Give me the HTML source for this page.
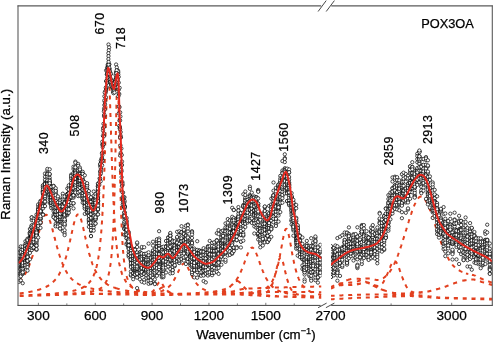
<!DOCTYPE html>
<html><head><meta charset="utf-8"><title>Raman spectrum POX3OA</title>
<style>html,body{margin:0;padding:0;background:#fff;width:495px;height:342px;overflow:hidden}</style>
</head><body>
<svg width="495" height="342" viewBox="0 0 495 342" style="display:block">
<defs>
<clipPath id="cl"><rect x="18" y="6" width="303.5" height="299"/></clipPath>
<clipPath id="cr"><rect x="331" y="6" width="161.3" height="299"/></clipPath>
</defs>
<rect width="495" height="342" fill="#fff"/>
<g clip-path="url(#cl)"><path d="M19.7 296.1L20.3 296.1L20.9 296.1L21.5 296.1L22.1 296.1L22.7 296.1L23.3 296.0L23.7 296.0M28.5 295.9L29.1 295.9L29.7 295.8L30.3 295.8L30.9 295.8L31.5 295.8L32.1 295.8L32.5 295.7M37.3 295.6L37.9 295.6L38.5 295.6L39.1 295.5L39.7 295.5L40.3 295.5L40.9 295.5L41.3 295.5M46.1 295.3L46.7 295.3L47.3 295.3L47.9 295.3L48.5 295.2L49.1 295.2L49.7 295.2L50.1 295.2M54.9 295.0L55.5 295.0L56.1 295.0L56.7 294.9L57.3 294.9L57.9 294.9L58.5 294.9L58.9 294.8M63.7 294.7L64.3 294.6L64.9 294.6L65.5 294.6L66.1 294.6L66.7 294.5L67.3 294.5L67.7 294.5M72.5 294.3L73.1 294.3L73.7 294.3L74.3 294.2L74.9 294.2L75.5 294.2L76.1 294.2L76.5 294.1M81.3 293.9L81.9 293.9L82.5 293.9L83.1 293.9L83.7 293.9L84.3 293.8L84.9 293.8L85.3 293.8M90.1 293.9L90.7 293.9L91.3 293.9L91.9 293.9L92.5 293.9L93.1 293.9L93.7 293.9L94.1 294.0M98.9 294.0L99.5 294.0L100.1 294.1L100.7 294.1L101.3 294.1L101.9 294.1L102.5 294.1L102.9 294.1M107.8 294.2L108.4 294.2L109.0 294.2L109.6 294.2L110.2 294.2L110.8 294.2L111.4 294.3L111.8 294.3M116.6 294.3L117.2 294.4L117.8 294.4L118.4 294.4L119.0 294.4L119.6 294.4L120.2 294.4L120.6 294.4M125.4 294.5L126.0 294.6L126.6 294.6L127.2 294.6L127.8 294.6L128.4 294.6L129.0 294.6L129.4 294.6M134.2 294.8L134.8 294.8L135.4 294.8L136.0 294.8L136.6 294.8L137.2 294.9L137.8 294.9L138.2 294.9M143.0 295.0L143.6 295.0L144.2 295.0L144.8 295.1L145.4 295.1L146.0 295.1L146.6 295.1L147.0 295.1M151.8 295.2L152.4 295.2L153.0 295.2L153.6 295.1L154.2 295.1L154.8 295.1L155.4 295.1L155.8 295.1M160.6 295.0L161.2 295.0L161.8 295.0L162.4 295.0L163.0 295.0L163.6 295.0L164.2 295.0L164.4 295.0M169.2 294.9L169.8 294.9L170.4 294.9L171.0 294.9L171.6 294.9L172.2 294.8L172.8 294.8L173.2 294.8M178.0 294.8L178.6 294.7L179.2 294.7L179.8 294.7L180.4 294.7L181.0 294.7L181.6 294.7L182.0 294.7M186.8 294.6L187.4 294.6L188.0 294.6L188.6 294.6L189.2 294.6L189.8 294.6L190.4 294.6L190.8 294.5M195.6 294.5L196.2 294.5L196.8 294.5L197.4 294.4L198.0 294.4L198.6 294.4L199.2 294.4L199.6 294.4M204.4 294.4L205.0 294.4L205.6 294.4L206.2 294.4L206.8 294.4L207.4 294.4L208.0 294.4L208.4 294.4M213.2 294.5L213.9 294.5L214.5 294.5L215.1 294.5L215.7 294.5L216.3 294.5L216.9 294.5L217.3 294.5M222.1 294.5L222.7 294.5L223.3 294.5L223.9 294.5L224.5 294.5L225.1 294.5L225.7 294.5L226.1 294.5M230.9 294.6L231.5 294.6L232.1 294.6L232.7 294.6L233.3 294.6L233.9 294.6L234.5 294.6L234.9 294.6M239.7 294.6L240.3 294.6L240.9 294.6L241.5 294.7L242.1 294.7L242.7 294.7L243.3 294.8L243.7 294.8M248.5 295.1L249.1 295.1L249.7 295.1L250.3 295.2L250.9 295.2L251.5 295.2L252.1 295.3L252.5 295.3M257.3 295.5L257.9 295.6L258.5 295.6L259.1 295.6L259.7 295.7L260.3 295.7L260.9 295.7L261.3 295.8M266.1 296.0L266.7 296.1L267.3 296.1L267.9 296.1L268.5 296.2L269.1 296.2L269.7 296.2L270.1 296.2M274.9 296.5L275.5 296.5L276.1 296.5L276.7 296.5L277.3 296.5L277.9 296.5L278.5 296.6L278.9 296.6M283.7 296.7L284.3 296.7L284.9 296.7L285.5 296.8L286.1 296.8L286.7 296.8L287.3 296.8L287.7 296.8M292.5 297.0L293.1 297.0L293.7 297.0L294.3 297.0L294.9 297.0L295.5 297.0L296.1 297.1L296.5 297.1M301.3 297.2L301.9 297.2L302.5 297.2L303.1 297.3L303.7 297.3L304.3 297.3L304.9 297.3L305.3 297.3M310.1 297.5L310.7 297.5L311.3 297.5L311.9 297.5L312.5 297.5L313.1 297.5L313.7 297.6L314.1 297.6M318.9 297.7L319.5 297.7L320.1 297.7L320.7 297.8L321.3 297.8L321.5 297.8M19.3 281.8L19.7 281.4L20.1 280.9L20.5 280.5L20.9 280.0L21.3 279.6L21.7 279.1L22.0 278.8M24.7 274.8L25.0 274.3L25.3 273.8L25.6 273.3L25.8 272.7L26.1 272.2L26.4 271.7L26.6 271.3M28.6 267.0L28.8 266.4L29.1 265.8L29.3 265.3L29.5 264.7L29.7 264.2L29.9 263.6L30.1 263.2M31.7 258.7L31.9 258.1L32.0 257.6L32.2 257.0L32.4 256.4L32.6 255.8L32.8 255.3L32.9 254.9M34.2 250.3L34.4 249.7L34.6 249.1L34.7 248.5L34.9 248.0L35.0 247.4L35.2 246.8L35.3 246.4M36.5 241.8L36.7 241.2L36.8 240.6L37.0 240.0L37.1 239.4L37.3 238.9L37.4 238.3L37.5 237.9M38.7 233.2L38.8 232.6L39.0 232.1L39.1 231.5L39.3 230.9L39.4 230.3L39.6 229.7L39.7 229.4M41.0 224.7L41.1 224.1L41.3 223.6L41.5 223.0L41.6 222.4L41.8 221.8L42.0 221.3L42.1 220.9M44.0 216.5L44.4 216.0L44.7 215.5L45.2 215.1L45.7 214.8L46.3 214.8L46.9 215.1L47.3 215.5L47.4 215.6M49.6 219.9L49.8 220.5L50.0 221.0L50.2 221.6L50.4 222.2L50.5 222.8L50.7 223.3L50.8 223.7M52.2 228.3L52.3 228.9L52.5 229.5L52.6 230.1L52.8 230.7L52.9 231.2L53.1 231.8L53.2 232.2M54.4 236.9L54.5 237.4L54.7 238.0L54.8 238.6L55.0 239.2L55.1 239.8L55.3 240.3L55.4 240.7M56.6 245.4L56.8 246.0L56.9 246.5L57.1 247.1L57.3 247.7L57.4 248.3L57.6 248.8L57.7 249.2M59.1 253.8L59.3 254.4L59.4 255.0L59.6 255.6L59.8 256.1L60.0 256.7L60.2 257.3L60.3 257.6M61.9 262.2L62.2 262.7L62.4 263.3L62.6 263.8L62.8 264.4L63.1 265.0L63.3 265.5L63.5 265.9M65.5 270.2L65.8 270.7L66.1 271.3L66.4 271.8L66.7 272.3L67.0 272.8L67.3 273.3L67.6 273.7M70.4 277.5L70.8 278.0L71.2 278.4L71.6 278.9L72.0 279.3L72.5 279.7L72.9 280.1L73.2 280.4M77.1 283.2L77.6 283.5L78.1 283.8L78.6 284.1L79.2 284.4L79.7 284.6L80.2 284.9L80.6 285.1M84.2 286.4L84.8 286.6L85.3 286.8L85.9 286.9L86.5 287.1L86.7 287.2M90.5 288.3L91.1 288.4L91.7 288.6L92.3 288.7L92.8 288.8L93.4 289.0L94.0 289.1L94.2 289.1M98.9 290.0L99.5 290.1L100.1 290.2L100.7 290.3L101.3 290.3L101.9 290.4L102.5 290.5L102.9 290.6M107.7 291.1L108.3 291.2L108.9 291.3L109.5 291.3L110.1 291.4L110.7 291.5L111.3 291.5L111.7 291.6M116.4 292.0L117.0 292.0L117.6 292.1L118.2 292.1L118.8 292.2L119.4 292.2L120.0 292.3L120.4 292.3M125.2 292.7L125.8 292.7L126.4 292.7L127.0 292.8L127.6 292.8L128.2 292.9L128.8 292.9L129.2 292.9M134.0 293.2L134.6 293.3L135.2 293.3L135.8 293.4L136.4 293.4L137.0 293.4L137.6 293.5L138.0 293.5M142.8 293.7L143.4 293.8L144.0 293.8L144.6 293.8L145.2 293.9L145.8 293.9L146.4 293.9L146.8 293.9M151.6 294.1L152.2 294.1L152.8 294.1L153.4 294.1L154.0 294.1L154.6 294.1L155.2 294.1L155.6 294.1M160.4 294.1L161.0 294.1L161.6 294.1L162.2 294.1L162.8 294.1L163.4 294.1L164.0 294.1L164.4 294.1M169.2 294.1L169.8 294.1L170.4 294.1L171.0 294.1L171.6 294.1L172.2 294.1L172.8 294.1L173.2 294.1M178.0 294.1L178.6 294.1L179.2 294.1L179.8 294.1L180.4 294.0L181.0 294.0L181.6 294.0L182.0 294.0M186.8 294.0L187.4 294.0L188.0 294.0L188.6 294.0L189.2 294.0L189.8 294.0L190.4 294.0L190.8 294.0M195.7 293.9L196.3 293.9L196.9 293.9L197.5 293.9L198.1 293.9L198.7 293.9L199.3 293.9L199.7 293.9M204.5 293.9L205.1 294.0L205.7 294.0L206.3 294.0L206.9 294.0L207.5 294.0L208.1 294.0L208.5 294.0M213.3 294.0L213.9 294.0L214.5 294.0L215.1 294.1L215.7 294.1L216.3 294.1L216.9 294.1L217.3 294.1M222.1 294.1L222.7 294.1L223.3 294.1L223.9 294.1L224.5 294.1L225.1 294.1L225.7 294.2L226.1 294.2M230.9 294.2L231.5 294.2L232.1 294.2L232.7 294.2L233.3 294.2L233.9 294.2L234.5 294.2L234.9 294.2M239.7 294.3L240.3 294.3L240.9 294.3L241.5 294.4L242.1 294.4L242.7 294.4L243.3 294.5L243.7 294.5M248.5 294.8L249.1 294.8L249.7 294.8L250.3 294.9L250.9 294.9L251.5 294.9L252.1 295.0L252.5 295.0M257.3 295.3L257.9 295.3L258.5 295.3L259.1 295.4L259.7 295.4L260.3 295.4L260.9 295.5L261.3 295.5M266.1 295.8L266.7 295.8L267.3 295.8L267.9 295.9L268.5 295.9L269.1 295.9L269.7 296.0L270.1 296.0M274.9 296.2L275.5 296.2L276.1 296.3L276.7 296.3L277.3 296.3L277.9 296.3L278.5 296.3L278.9 296.3M283.7 296.5L284.3 296.5L284.9 296.5L285.5 296.5L286.1 296.6L286.7 296.6L287.3 296.6L287.7 296.6M292.5 296.8L293.1 296.8L293.7 296.8L294.3 296.8L294.9 296.8L295.5 296.8L296.1 296.9L296.5 296.9M301.3 297.0L301.9 297.0L302.5 297.1L303.1 297.1L303.7 297.1L304.3 297.1L304.9 297.1L305.3 297.1M310.1 297.3L310.7 297.3L311.3 297.3L311.9 297.3L312.5 297.4L313.1 297.4L313.7 297.4L314.1 297.4M318.9 297.5L319.5 297.6L320.1 297.6L320.7 297.6L321.3 297.6L321.5 297.6M19.7 293.4L20.3 293.3L20.9 293.3L21.5 293.2L22.1 293.1L22.7 293.0L23.3 292.9L23.7 292.9M28.4 292.1L29.0 292.0L29.6 291.9L30.2 291.8L30.8 291.7L31.4 291.6L31.9 291.5L32.5 291.3M37.2 290.2L37.8 290.0L38.3 289.9L38.9 289.7L39.5 289.5L40.1 289.3L40.6 289.1L41.2 288.9M45.6 287.1L46.2 286.8L46.7 286.5L47.2 286.3L47.8 286.0L48.3 285.7L48.8 285.3L49.1 285.1M52.9 282.2L53.3 281.8L53.8 281.3L54.2 280.9L54.6 280.5L55.0 280.0L55.4 279.6L55.7 279.3M58.5 275.4L58.8 274.9L59.1 274.3L59.4 273.8L59.7 273.3L60.0 272.8L60.2 272.2L60.4 271.9M62.4 267.5L62.6 267.0L62.9 266.4L63.1 265.9L63.3 265.3L63.5 264.7L63.7 264.2L63.8 264.0M65.3 259.4L65.5 258.8L65.7 258.3L65.8 257.7L66.0 257.1L66.2 256.5L66.3 256.0L66.4 255.6M67.7 250.9L67.8 250.4L68.0 249.8L68.1 249.2L68.3 248.6L68.4 248.0L68.5 247.4L68.6 247.1M69.7 242.4L69.8 241.8L70.0 241.2L70.1 240.6L70.2 240.0L70.4 239.4L70.5 238.9L70.6 238.5M71.6 233.8L71.7 233.2L71.9 232.6L72.0 232.0L72.1 231.4L72.2 230.8L72.4 230.3L72.5 229.9M73.5 225.2L73.7 224.6L73.8 224.0L73.9 223.4L74.1 222.9L74.2 222.3L74.4 221.7L74.5 221.3M76.0 216.7L76.3 216.2L76.5 215.7L76.8 215.2L77.2 214.7L77.7 214.4L78.3 214.4L78.5 214.4M80.7 218.6L80.9 219.2L81.1 219.7L81.3 220.3L81.5 220.9L81.6 221.5L81.8 222.0L81.9 222.4M83.0 227.1L83.2 227.7L83.3 228.3L83.4 228.9L83.6 229.4L83.7 230.0L83.8 230.6L83.9 231.0M84.9 235.7L85.1 236.3L85.2 236.9L85.3 237.4L85.5 238.0L85.6 238.6L85.7 239.2L85.8 239.6M86.9 244.3L87.0 244.9L87.1 245.5L87.3 246.0L87.4 246.6L87.6 247.2L87.7 247.8L87.8 248.2M89.0 252.8L89.1 253.4L89.3 254.0L89.5 254.6L89.6 255.1L89.8 255.7L90.0 256.3L90.1 256.7M91.5 261.3L91.7 261.8L91.9 262.4L92.1 263.0L92.3 263.5L92.5 264.1L92.7 264.6L92.9 265.0M94.8 269.4L95.0 270.0L95.3 270.5L95.6 271.1L95.8 271.6L96.1 272.1L96.4 272.6L96.6 273.0M99.3 277.0L99.6 277.5L100.0 277.9L100.4 278.4L100.8 278.9L101.2 279.3L101.6 279.7L101.9 280.0M105.5 283.1L106.0 283.5L106.5 283.8L107.0 284.1L107.5 284.5L108.0 284.8L108.6 285.1L108.9 285.3M113.3 287.2L113.8 287.4L114.4 287.6L115.0 287.8L115.5 288.0L116.1 288.2L116.7 288.4L117.3 288.6L117.8 288.7L118.4 288.9L119.0 289.0L119.6 289.2M125.1 290.4L125.6 290.5L126.2 290.6L126.8 290.7L127.4 290.8L128.0 290.9L128.6 291.0L129.2 291.1M133.9 291.8L134.5 291.9L135.1 292.0L135.7 292.0L136.3 292.1L136.9 292.2L137.5 292.2L138.1 292.3M142.9 292.8L143.5 292.8L144.1 292.9L144.7 292.9L145.3 293.0L145.9 293.0L146.5 293.1L146.9 293.1M151.7 293.4L152.3 293.4L152.9 293.5L153.5 293.5L154.1 293.5L154.7 293.5L155.3 293.5L155.7 293.5M160.5 293.6L161.1 293.6L161.7 293.7L162.3 293.7L162.9 293.7L163.5 293.7L164.1 293.7L164.5 293.7M169.3 293.7L169.9 293.8L170.5 293.8L171.1 293.8L171.7 293.8L172.3 293.8L172.9 293.8L173.3 293.8M178.1 293.8L178.7 293.8L179.3 293.8L179.9 293.8L180.5 293.8L181.1 293.8L181.7 293.8L182.1 293.8M186.9 293.8L187.5 293.8L188.1 293.8L188.7 293.8L189.3 293.8L189.9 293.8L190.5 293.8L190.9 293.8M195.7 293.8L196.3 293.8L196.9 293.8L197.5 293.8L198.1 293.8L198.7 293.8L199.3 293.8L199.7 293.8M204.5 293.8L205.1 293.8L205.7 293.8L206.3 293.8L206.9 293.9L207.5 293.9L208.1 293.9L208.5 293.9M213.3 293.9L213.9 293.9L214.5 294.0L215.1 294.0L215.7 294.0L216.3 294.0L216.9 294.0L217.3 294.0M222.1 294.0L222.7 294.1L223.3 294.1L223.9 294.1L224.5 294.1L225.1 294.1L225.7 294.1L226.1 294.1M230.9 294.1L231.5 294.1L232.1 294.2L232.7 294.2L233.3 294.2L233.9 294.2L234.5 294.2L234.9 294.2M239.7 294.2L240.3 294.3L240.9 294.3L241.5 294.3L242.1 294.4L242.7 294.4L243.3 294.4L243.7 294.5M248.5 294.7L249.1 294.8L249.7 294.8L250.3 294.8L250.9 294.9L251.5 294.9L252.1 294.9L252.5 295.0M257.3 295.2L257.9 295.3L258.5 295.3L259.1 295.3L259.7 295.4L260.3 295.4L260.9 295.5L261.3 295.5M266.1 295.8L266.7 295.8L267.3 295.8L267.9 295.9L268.5 295.9L269.1 295.9L269.7 296.0L270.1 296.0M274.9 296.2L275.5 296.2L276.1 296.2L276.7 296.3L277.3 296.3L277.9 296.3L278.5 296.3L278.9 296.3M283.7 296.5L284.3 296.5L284.9 296.5L285.5 296.5L286.1 296.6L286.7 296.6L287.3 296.6L287.7 296.6M292.5 296.7L293.1 296.8L293.7 296.8L294.3 296.8L294.9 296.8L295.5 296.8L296.1 296.9L296.5 296.9M301.3 297.0L301.9 297.0L302.5 297.1L303.1 297.1L303.7 297.1L304.3 297.1L304.9 297.1L305.3 297.1M310.1 297.3L310.7 297.3L311.3 297.3L311.9 297.3L312.5 297.4L313.1 297.4L313.7 297.4L314.1 297.4M318.9 297.5L319.5 297.6L320.1 297.6L320.7 297.6L321.3 297.6L321.5 297.6M19.7 295.6L20.3 295.6L20.9 295.5L21.5 295.5L22.1 295.5L22.7 295.5L23.3 295.4L23.7 295.4M28.5 295.2L29.1 295.2L29.7 295.1L30.3 295.1L30.9 295.1L31.5 295.1L32.1 295.0L32.5 295.0M37.3 294.7L37.9 294.7L38.5 294.7L39.1 294.6L39.7 294.6L40.3 294.6L40.9 294.5L41.3 294.5M46.1 294.2L46.7 294.2L47.3 294.1L47.9 294.1L48.5 294.1L49.1 294.0L49.7 294.0L50.1 293.9M54.8 293.5L55.4 293.5L56.0 293.4L56.6 293.3L57.2 293.3L57.8 293.2L58.4 293.1L58.8 293.1M63.6 292.5L64.2 292.4L64.8 292.4L65.4 292.3L66.0 292.2L66.6 292.1L67.2 292.0L67.8 291.9M72.5 291.0L73.1 290.9L73.6 290.7L74.2 290.6L74.8 290.4L75.4 290.3L76.0 290.1L76.3 290.0M81.0 288.3L81.6 288.1L82.1 287.8L82.7 287.5L83.2 287.2L83.7 287.0L84.2 286.6L84.6 286.4M88.4 283.5L88.8 283.1L89.2 282.7L89.6 282.2L90.0 281.7L90.4 281.3L90.7 280.8L91.0 280.5M93.3 276.3L93.6 275.7L93.8 275.2L94.0 274.6L94.3 274.1L94.5 273.5L94.7 273.0L94.8 272.6M96.2 268.0L96.4 267.4L96.5 266.8L96.7 266.2L96.8 265.7L96.9 265.1L97.1 264.5L97.1 264.1M98.1 259.4L98.2 258.8L98.3 258.2L98.4 257.6L98.5 257.0L98.6 256.4L98.6 255.8L98.7 255.4M99.3 250.9L99.4 250.3L99.5 249.7L99.6 249.1L99.6 248.5L99.7 247.9L99.8 247.3L99.8 246.9M100.3 242.1L100.4 241.5L100.4 240.9L100.5 240.3L100.6 239.7L100.6 239.1L100.7 238.5L100.7 238.1M101.1 233.4L101.2 232.8L101.2 232.2L101.3 231.6L101.3 231.0L101.4 230.4L101.4 229.8L101.4 229.4M101.8 224.6L101.8 224.0L101.9 223.4L101.9 222.8L101.9 222.2L102.0 221.6L102.0 221.0L102.0 220.6M102.3 215.8L102.4 215.2L102.4 214.6L102.4 214.0L102.5 213.4L102.5 212.8L102.5 212.2L102.6 211.8M102.8 207.0L102.9 206.4L102.9 205.8L102.9 205.2L102.9 204.6L103.0 204.0L103.0 203.4L103.0 203.0M103.3 198.2L103.3 197.6L103.3 197.0L103.3 196.4L103.4 195.8L103.4 195.2L103.4 194.6L103.4 194.2M103.6 189.4L103.7 188.8L103.7 188.2L103.7 187.6L103.7 187.0L103.8 186.4L103.8 185.8L103.8 185.4M104.0 180.6L104.0 180.0L104.0 179.4L104.1 178.8L104.1 178.2L104.1 177.6L104.1 177.0L104.1 176.6M104.3 171.8L104.3 171.2L104.4 170.6L104.4 170.0L104.4 169.4L104.4 168.8L104.5 168.2L104.5 167.8M104.6 163.0L104.7 162.4L104.7 161.8L104.7 161.2L104.7 160.6L104.7 160.0L104.8 159.4L104.8 159.0M104.9 154.2L104.9 153.6L105.0 153.0L105.0 152.4L105.0 151.8L105.0 151.2L105.0 150.6L105.1 150.2M105.2 145.4L105.2 144.8L105.2 144.2L105.3 143.6L105.3 143.0L105.3 142.4L105.3 141.8L105.3 141.4M105.5 136.6L105.5 136.0L105.5 135.4L105.5 134.8L105.6 134.2L105.6 133.6L105.6 133.0L105.6 132.6M105.7 127.8L105.8 127.2L105.8 126.6L105.8 126.0L105.8 125.4L105.8 124.8L105.9 124.2L105.9 123.8M106.0 119.0L106.0 118.4L106.1 117.8L106.1 117.2L106.1 116.6L106.1 116.0L106.1 115.4L106.1 115.0M106.3 110.2L106.3 109.6L106.3 109.0L106.4 108.4L106.4 107.8L106.4 107.2L106.4 106.6L106.4 106.2M106.6 101.4L106.6 100.8L106.6 100.2L106.6 99.6L106.7 99.0L106.7 98.4L106.7 97.8L106.7 97.4M106.9 92.6L106.9 92.0L106.9 91.4L107.0 90.8L107.0 90.2L107.0 89.6L107.0 89.0L107.0 88.6M107.3 83.8L107.3 83.2L107.3 82.6L107.3 82.0L107.4 81.4L107.4 80.8L107.4 80.2L107.5 79.8M107.8 75.1L107.8 74.5L107.9 73.9L108.0 73.3L108.1 72.7L108.3 72.1L108.5 72.5L108.6 73.1M109.0 77.9L109.1 78.5L109.1 79.1L109.1 79.7L109.2 80.3L109.2 80.9L109.2 81.5L109.2 81.9M109.5 86.7L109.5 87.3L109.5 87.9L109.5 88.5L109.6 89.1L109.6 89.7L109.6 90.3L109.6 90.7M109.8 95.5L109.8 96.1L109.9 96.7L109.9 97.3L109.9 97.9L109.9 98.5L109.9 99.1L110.0 99.5M110.1 104.3L110.1 104.9L110.2 105.5L110.2 106.1L110.2 106.7L110.2 107.3L110.2 107.9L110.2 108.3M110.4 113.1L110.4 113.7L110.4 114.3L110.4 114.9L110.5 115.5L110.5 116.1L110.5 116.7L110.5 117.1M110.7 121.9L110.7 122.5L110.7 123.1L110.7 123.7L110.7 124.3L110.8 124.9L110.8 125.5L110.8 125.9M110.9 130.7L111.0 131.3L111.0 131.9L111.0 132.5L111.0 133.1L111.0 133.7L111.0 134.3L111.1 134.7M111.2 139.5L111.2 140.1L111.2 140.7L111.3 141.3L111.3 141.9L111.3 142.5L111.3 143.1L111.3 143.5M111.5 148.3L111.5 148.9L111.5 149.5L111.5 150.1L111.6 150.7L111.6 151.3L111.6 151.9L111.6 152.3M111.8 157.1L111.8 157.7L111.8 158.3L111.8 158.9L111.8 159.5L111.9 160.1L111.9 160.7L111.9 161.1M112.1 165.9L112.1 166.5L112.1 167.1L112.1 167.7L112.1 168.3L112.2 168.9L112.2 169.5L112.2 169.9M112.4 174.7L112.4 175.3L112.4 175.9L112.4 176.5L112.5 177.1L112.5 177.7L112.5 178.3L112.5 178.7M112.7 183.5L112.7 184.1L112.8 184.7L112.8 185.3L112.8 185.9L112.8 186.5L112.9 187.1L112.9 187.5M113.1 192.3L113.1 192.9L113.1 193.5L113.2 194.1L113.2 194.7L113.2 195.3L113.2 195.9L113.3 196.3M113.5 201.0L113.5 201.6L113.5 202.2L113.6 202.8L113.6 203.4L113.6 204.0L113.7 204.6L113.7 205.0M113.9 209.8L114.0 210.4L114.0 211.0L114.0 211.6L114.1 212.2L114.1 212.8L114.1 213.4L114.1 213.8M114.4 218.6L114.5 219.2L114.5 219.8L114.5 220.4L114.6 221.0L114.6 221.6L114.7 222.2L114.7 222.6M115.0 227.4L115.0 228.0L115.1 228.6L115.1 229.2L115.2 229.8L115.2 230.4L115.3 231.0L115.3 231.4M115.7 236.2L115.7 236.8L115.8 237.4L115.9 238.0L115.9 238.6L116.0 239.2L116.0 239.8L116.1 240.2M116.5 245.0L116.6 245.6L116.7 246.1L116.7 246.7L116.8 247.3L116.9 247.9L116.9 248.5L117.0 248.9M117.6 253.7L117.7 254.3L117.8 254.9L117.9 255.5L117.9 256.1L118.0 256.7L118.1 257.3L118.2 257.6M119.0 262.4L119.1 263.0L119.3 263.6L119.4 264.1L119.5 264.7L119.6 265.3L119.8 265.9L119.9 266.3M121.1 270.9L121.3 271.5L121.5 272.1L121.6 272.6L121.8 273.2L122.0 273.8L122.2 274.3L122.4 274.7M124.4 279.1L124.7 279.6L125.0 280.1L125.3 280.6L125.6 281.1L126.0 281.6L126.3 282.1L126.5 282.3M129.8 285.7L130.3 286.1L130.7 286.5L131.2 286.8L131.7 287.1L132.2 287.5L132.7 287.8L133.1 288.0M137.5 289.9L138.0 290.1L138.6 290.3L139.2 290.5L139.8 290.7L139.9 290.7M143.6 291.6L144.2 291.8L144.8 291.9L145.4 292.0L146.0 292.1L146.6 292.2L147.2 292.3M151.7 292.9L152.3 293.0L152.9 293.0L153.5 293.1L154.1 293.1L154.7 293.1L155.3 293.2L155.7 293.2M160.5 293.5L161.1 293.5L161.7 293.5L162.3 293.5L162.9 293.6L163.5 293.6L164.1 293.6L164.5 293.6M169.3 293.7L169.9 293.8L170.5 293.8L171.1 293.8L171.7 293.8L172.3 293.8L172.9 293.8L173.3 293.8M178.1 293.9L178.7 293.9L179.3 293.9L179.9 293.9L180.5 293.9L181.1 293.9L181.7 293.9L182.1 293.9M186.9 293.9L187.5 293.9L188.1 293.9L188.7 293.9L189.3 293.9L189.9 293.9L190.5 293.9L190.9 293.9M195.7 293.9L196.3 293.9L196.9 293.9L197.5 293.9L198.1 293.9L198.7 293.9L199.3 293.9L199.7 293.9M204.5 294.0L205.1 294.0L205.7 294.0L206.3 294.0L206.9 294.0L207.5 294.0L208.1 294.0L208.5 294.0M213.3 294.1L213.9 294.1L214.5 294.1L215.1 294.1L215.7 294.1L216.3 294.1L216.9 294.1L217.3 294.1M222.1 294.2L222.7 294.2L223.3 294.2L223.9 294.2L224.5 294.2L225.1 294.2L225.7 294.2L226.1 294.2M230.9 294.3L231.5 294.3L232.1 294.3L232.7 294.3L233.3 294.3L233.9 294.3L234.5 294.3L234.9 294.3M239.7 294.3L240.3 294.4L240.9 294.4L241.5 294.4L242.1 294.5L242.7 294.5L243.3 294.5L243.7 294.6M248.5 294.8L249.1 294.9L249.7 294.9L250.3 295.0L250.9 295.0L251.5 295.0L252.1 295.1L252.5 295.1M257.3 295.4L257.9 295.4L258.5 295.4L259.1 295.5L259.7 295.5L260.3 295.5L260.9 295.6L261.3 295.6M266.1 295.9L266.7 295.9L267.3 295.9L267.9 296.0L268.5 296.0L269.1 296.0L269.7 296.1L270.1 296.1M274.9 296.3L275.5 296.3L276.1 296.3L276.7 296.4L277.3 296.4L277.9 296.4L278.5 296.4L278.9 296.4M283.7 296.6L284.3 296.6L284.9 296.6L285.5 296.6L286.1 296.6L286.7 296.7L287.3 296.7L287.7 296.7M292.5 296.8L293.1 296.8L293.7 296.9L294.3 296.9L294.9 296.9L295.5 296.9L296.1 296.9L296.5 297.0M301.3 297.1L301.9 297.1L302.5 297.1L303.1 297.1L303.7 297.2L304.3 297.2L304.9 297.2L305.3 297.2M310.1 297.4L310.7 297.4L311.3 297.4L311.9 297.4L312.5 297.4L313.1 297.4L313.7 297.5L314.1 297.5M318.9 297.6L319.5 297.6L320.1 297.6L320.7 297.7L321.3 297.7L321.5 297.7M19.7 296.0L20.3 295.9L20.9 295.9L21.5 295.9L22.1 295.9L22.7 295.9L23.3 295.8L23.7 295.8M28.5 295.7L29.1 295.6L29.7 295.6L30.3 295.6L30.9 295.6L31.5 295.5L32.1 295.5L32.5 295.5M37.3 295.3L37.9 295.3L38.5 295.3L39.1 295.3L39.7 295.2L40.3 295.2L40.9 295.2L41.3 295.2M46.1 295.0L46.7 295.0L47.3 294.9L47.9 294.9L48.5 294.9L49.1 294.9L49.7 294.8L50.1 294.8M54.9 294.6L55.5 294.5L56.1 294.5L56.7 294.5L57.3 294.4L57.9 294.4L58.5 294.4L58.9 294.4M63.7 294.1L64.3 294.0L64.9 294.0L65.5 294.0L66.1 293.9L66.7 293.9L67.3 293.8L67.7 293.8M72.5 293.5L73.1 293.4L73.7 293.4L74.3 293.3L74.9 293.3L75.5 293.2L76.1 293.2L76.5 293.1M81.2 292.7L81.8 292.6L82.4 292.5L83.0 292.5L83.6 292.4L84.2 292.3L84.8 292.2L85.2 292.2M90.0 291.7L90.6 291.6L91.2 291.5L91.8 291.4L92.3 291.3L92.9 291.2L93.5 291.0L94.1 290.9M98.6 289.4L99.2 289.1L99.7 288.8L100.2 288.5L100.7 288.2L101.2 287.9L101.7 287.5L102.0 287.2M105.1 283.6L105.4 283.1L105.7 282.6L106.0 282.0L106.3 281.5L106.5 280.9L106.8 280.4L106.9 280.0M108.4 275.5L108.6 274.9L108.7 274.3L108.8 273.7L109.0 273.1L109.1 272.5L109.2 272.0L109.3 271.6M110.1 266.8L110.2 266.2L110.3 265.6L110.4 265.1L110.5 264.5L110.6 263.9L110.6 263.3L110.7 262.9M111.2 258.1L111.3 257.5L111.4 256.9L111.4 256.3L111.5 255.7L111.5 255.1L111.6 254.5L111.6 254.1M112.0 249.3L112.1 248.7L112.1 248.1L112.2 247.5L112.2 246.9L112.2 246.3L112.3 245.7L112.3 245.3M112.6 240.5L112.7 239.9L112.7 239.3L112.7 238.7L112.8 238.1L112.8 237.5L112.8 237.0L112.9 236.6M113.1 231.8L113.1 231.2L113.2 230.6L113.2 230.0L113.2 229.4L113.3 228.8L113.3 228.2L113.3 227.8M113.5 223.0L113.5 222.4L113.6 221.8L113.6 221.2L113.6 220.6L113.6 220.0L113.7 219.4L113.7 219.0M113.8 214.2L113.9 213.6L113.9 213.0L113.9 212.4L113.9 211.8L114.0 211.2L114.0 210.6L114.0 210.2M114.1 205.4L114.2 204.8L114.2 204.2L114.2 203.6L114.2 203.0L114.2 202.4L114.3 201.8L114.3 201.4M114.4 196.6L114.4 196.0L114.4 195.4L114.5 194.8L114.5 194.2L114.5 193.6L114.5 193.0L114.5 192.6M114.7 187.8L114.7 187.2L114.7 186.6L114.7 186.0L114.7 185.4L114.7 184.8L114.7 184.2L114.8 183.8M114.9 179.0L114.9 178.4L114.9 177.8L114.9 177.2L114.9 176.6L115.0 176.0L115.0 175.4L115.0 175.0M115.1 170.2L115.1 169.6L115.1 169.0L115.1 168.4L115.1 167.8L115.2 167.2L115.2 166.6L115.2 166.2M115.3 161.4L115.3 160.8L115.3 160.2L115.3 159.6L115.3 159.0L115.3 158.4L115.4 157.8L115.4 157.4M115.5 152.6L115.5 152.0L115.5 151.4L115.5 150.8L115.5 150.2L115.5 149.6L115.5 149.0L115.6 148.6M115.6 143.7L115.7 143.1L115.7 142.5L115.7 141.9L115.7 141.3L115.7 140.7L115.7 140.1L115.7 139.7M115.8 134.9L115.8 134.3L115.8 133.7L115.9 133.1L115.9 132.5L115.9 131.9L115.9 131.3L115.9 130.9M116.0 126.1L116.0 125.5L116.0 124.9L116.0 124.3L116.1 123.7L116.1 123.1L116.1 122.5L116.1 122.1M116.2 117.3L116.2 116.7L116.2 116.1L116.2 115.5L116.2 114.9L116.2 114.3L116.3 113.7L116.3 113.3M116.4 108.7L116.4 108.1L116.4 107.5L116.4 106.9L116.4 106.3L116.4 105.7L116.4 105.1L116.5 104.7M116.6 99.9L116.6 99.3L116.6 98.7L116.6 98.1L116.6 97.5L116.6 96.9L116.7 96.3L116.7 95.9M116.8 91.1L116.8 90.5L116.8 89.9L116.8 89.3L116.9 88.7L116.9 88.1L116.9 87.5L116.9 87.1M117.1 82.3L117.1 81.7L117.2 81.1L117.2 80.5L117.2 79.9L117.3 79.3L117.4 78.7L117.4 78.4M117.9 82.7L117.9 83.3L118.0 83.9L118.0 84.5L118.0 85.1L118.0 85.7L118.1 86.3L118.1 86.7M118.2 91.5L118.2 92.1L118.3 92.7L118.3 93.3L118.3 93.9L118.3 94.5L118.3 95.1L118.3 95.5M118.4 100.3L118.5 100.9L118.5 101.5L118.5 102.1L118.5 102.7L118.5 103.3L118.5 103.9L118.5 104.3M118.6 109.1L118.7 109.7L118.7 110.3L118.7 110.9L118.7 111.5L118.7 112.1L118.7 112.7L118.7 113.1M118.8 117.9L118.8 118.5L118.9 119.1L118.9 119.7L118.9 120.3L118.9 120.9L118.9 121.5L118.9 121.9M119.0 126.7L119.0 127.3L119.0 127.9L119.0 128.5L119.1 129.1L119.1 129.7L119.1 130.3L119.1 130.7M119.2 135.5L119.2 136.1L119.2 136.7L119.2 137.3L119.2 137.9L119.2 138.5L119.3 139.1L119.3 139.5M119.4 144.3L119.4 144.9L119.4 145.5L119.4 146.1L119.4 146.7L119.4 147.3L119.4 147.9L119.4 148.3M119.5 153.1L119.6 153.7L119.6 154.3L119.6 154.9L119.6 155.5L119.6 156.1L119.6 156.7L119.6 157.1M119.7 161.9L119.7 162.5L119.8 163.1L119.8 163.7L119.8 164.3L119.8 164.9L119.8 165.5L119.8 165.9M119.9 170.7L119.9 171.3L120.0 171.9L120.0 172.5L120.0 173.1L120.0 173.7L120.0 174.3L120.0 174.7M120.1 179.5L120.1 180.1L120.2 180.7L120.2 181.3L120.2 181.9L120.2 182.5L120.2 183.1L120.2 183.5M120.4 188.3L120.4 188.9L120.4 189.5L120.4 190.1L120.4 190.7L120.4 191.3L120.5 191.9L120.5 192.3M120.6 197.1L120.6 197.7L120.6 198.3L120.7 198.9L120.7 199.5L120.7 200.1L120.7 200.7L120.7 201.1M120.9 205.9L120.9 206.5L120.9 207.1L120.9 207.7L120.9 208.3L121.0 208.9L121.0 209.5L121.0 209.9M121.2 214.7L121.2 215.3L121.2 215.9L121.2 216.5L121.3 217.1L121.3 217.7L121.3 218.3L121.3 218.7M121.5 223.5L121.5 224.1L121.6 224.7L121.6 225.3L121.6 225.9L121.6 226.5L121.7 227.1L121.7 227.5M121.9 232.3L121.9 232.9L122.0 233.5L122.0 234.1L122.0 234.7L122.1 235.3L122.1 235.9L122.1 236.3M122.4 241.1L122.4 241.7L122.5 242.3L122.5 242.9L122.5 243.5L122.6 244.1L122.6 244.7L122.6 245.1M123.0 249.9L123.0 250.5L123.1 251.1L123.1 251.7L123.2 252.2L123.2 252.8L123.3 253.4L123.3 253.8M123.8 258.6L123.8 259.2L123.9 259.8L124.0 260.4L124.0 261.0L124.1 261.6L124.2 262.2L124.2 262.6M124.9 267.4L125.0 268.0L125.1 268.5L125.2 269.1L125.3 269.7L125.4 270.3L125.5 270.9L125.6 271.3M126.6 276.0L126.8 276.6L127.0 277.1L127.1 277.7L127.3 278.3L127.5 278.9L127.7 279.4L127.8 279.8M129.9 284.1L130.2 284.6L130.5 285.1L130.9 285.6L131.3 286.1L131.6 286.6L132.1 287.0L132.3 287.3M136.2 290.1L136.7 290.4L137.3 290.6L137.8 290.9L138.4 291.1L139.0 291.3L139.5 291.5M143.4 292.5L144.0 292.6L144.6 292.8L145.2 292.9L145.7 293.0L146.3 293.1L146.9 293.2L147.1 293.2M151.7 293.7L152.3 293.8L152.9 293.8L153.5 293.8L154.1 293.9L154.7 293.9L155.3 293.9L155.7 294.0M160.5 294.1L161.1 294.1L161.7 294.1L162.3 294.2L162.9 294.2L163.5 294.2L164.1 294.2L164.5 294.2M169.3 294.3L169.9 294.3L170.5 294.3L171.1 294.3L171.7 294.3L172.3 294.3L172.9 294.3L173.3 294.3M178.1 294.3L178.7 294.3L179.3 294.3L179.9 294.3L180.5 294.3L181.1 294.3L181.7 294.3L182.1 294.3M186.9 294.3L187.5 294.3L188.1 294.3L188.7 294.2L189.3 294.2L189.9 294.2L190.5 294.2L190.9 294.2M195.7 294.2L196.3 294.2L196.9 294.2L197.5 294.2L198.1 294.2L198.7 294.2L199.3 294.2L199.7 294.2M204.5 294.2L205.1 294.2L205.7 294.2L206.3 294.2L206.9 294.2L207.5 294.2L208.1 294.2L208.5 294.2M213.3 294.3L213.9 294.3L214.5 294.3L215.1 294.3L215.7 294.3L216.3 294.3L216.9 294.3L217.3 294.3M222.1 294.4L222.7 294.4L223.3 294.4L223.9 294.4L224.5 294.4L225.1 294.4L225.7 294.4L226.1 294.4M230.9 294.4L231.5 294.4L232.1 294.4L232.7 294.4L233.3 294.4L233.9 294.4L234.5 294.4L234.9 294.5M239.7 294.5L240.3 294.5L240.9 294.5L241.5 294.6L242.1 294.6L242.7 294.6L243.3 294.7L243.7 294.7M248.5 295.0L249.1 295.0L249.7 295.0L250.3 295.1L250.9 295.1L251.5 295.1L252.1 295.2L252.5 295.2M257.3 295.5L257.9 295.5L258.5 295.5L259.1 295.6L259.7 295.6L260.3 295.6L260.9 295.7L261.3 295.7M266.1 295.9L266.7 296.0L267.3 296.0L267.9 296.0L268.5 296.1L269.1 296.1L269.7 296.1L270.1 296.2M274.9 296.4L275.5 296.4L276.1 296.4L276.7 296.4L277.3 296.5L277.9 296.5L278.5 296.5L278.9 296.5M283.7 296.6L284.3 296.7L284.9 296.7L285.5 296.7L286.1 296.7L286.7 296.7L287.3 296.7L287.7 296.8M292.5 296.9L293.1 296.9L293.7 296.9L294.3 297.0L294.9 297.0L295.5 297.0L296.1 297.0L296.5 297.0M301.3 297.2L301.9 297.2L302.5 297.2L303.1 297.2L303.7 297.2L304.3 297.2L304.9 297.3L305.3 297.3M310.1 297.4L310.7 297.4L311.3 297.4L311.9 297.5L312.5 297.5L313.1 297.5L313.7 297.5L314.1 297.5M318.9 297.7L319.5 297.7L320.1 297.7L320.7 297.7L321.3 297.7L321.5 297.7M19.7 296.1L20.3 296.1L20.9 296.1L21.5 296.1L22.1 296.1L22.7 296.0L23.3 296.0L23.7 296.0M28.5 295.9L29.1 295.8L29.7 295.8L30.3 295.8L30.9 295.8L31.5 295.8L32.1 295.7L32.5 295.7M37.3 295.6L37.9 295.6L38.5 295.5L39.1 295.5L39.7 295.5L40.3 295.5L40.9 295.5L41.3 295.5M46.1 295.3L46.7 295.3L47.3 295.3L47.9 295.2L48.5 295.2L49.1 295.2L49.7 295.2L50.1 295.2M54.9 295.0L55.5 295.0L56.1 294.9L56.7 294.9L57.3 294.9L57.9 294.9L58.5 294.8L58.9 294.8M63.7 294.6L64.3 294.6L64.9 294.6L65.5 294.6L66.1 294.5L66.7 294.5L67.3 294.5L67.7 294.5M72.5 294.3L73.1 294.2L73.7 294.2L74.3 294.2L74.9 294.2L75.5 294.1L76.1 294.1L76.5 294.1M81.3 293.9L81.9 293.9L82.5 293.9L83.1 293.8L83.7 293.8L84.3 293.8L84.9 293.8L85.3 293.8M90.1 293.8L90.7 293.9L91.3 293.9L91.9 293.9L92.5 293.9L93.1 293.9L93.7 293.9L94.1 293.9M99.0 294.0L99.6 294.0L100.2 294.0L100.8 294.0L101.4 294.0L102.0 294.0L102.6 294.0L103.0 294.0M107.8 294.1L108.4 294.1L109.0 294.1L109.6 294.1L110.2 294.1L110.8 294.1L111.4 294.2L111.8 294.2M116.6 294.2L117.2 294.2L117.8 294.2L118.4 294.2L119.0 294.2L119.6 294.3L120.2 294.3L120.6 294.3M125.4 294.4L126.0 294.4L126.6 294.4L127.2 294.4L127.8 294.4L128.4 294.4L129.0 294.4L129.4 294.4M134.2 294.4L134.8 294.4L135.4 294.4L136.0 294.4L136.6 294.4L137.2 294.4L137.8 294.4L138.2 294.4M143.0 294.3L143.6 294.3L144.2 294.2L144.8 294.2L145.4 294.1L146.0 294.0L146.6 294.0L147.0 293.9M151.5 292.3L152.0 292.0L152.4 291.6L152.9 291.2L153.3 290.8L153.7 290.3L154.1 289.9L154.3 289.5M156.9 285.5L157.2 285.0L157.5 284.5L157.8 283.9L158.2 283.4L158.5 283.0L158.9 282.5L159.3 282.3M162.3 284.1L162.6 284.6L162.9 285.1L163.2 285.6L163.5 286.1L163.8 286.6L164.2 287.2L164.4 287.5M167.4 291.2L167.9 291.6L168.4 291.9L168.9 292.2L169.4 292.5L169.9 292.8L170.5 293.0L171.1 293.2L171.5 293.3M177.6 294.1L178.2 294.1L178.8 294.1L179.4 294.2L180.0 294.2L180.6 294.2L181.2 294.2L181.8 294.2L182.0 294.2M186.8 294.3L187.4 294.3L188.0 294.3L188.6 294.3L189.2 294.3L189.8 294.3L190.4 294.3L190.8 294.3M195.6 294.3L196.2 294.3L196.8 294.3L197.4 294.3L198.0 294.3L198.6 294.3L199.2 294.3L199.6 294.3M204.4 294.3L205.0 294.3L205.6 294.3L206.2 294.3L206.8 294.3L207.4 294.3L208.0 294.3L208.4 294.3M213.2 294.4L213.8 294.4L214.4 294.4L215.0 294.4L215.6 294.4L216.2 294.4L216.8 294.4L217.2 294.4M222.1 294.5L222.7 294.5L223.3 294.5L223.9 294.5L224.5 294.5L225.1 294.5L225.7 294.5L226.1 294.5M230.9 294.5L231.5 294.5L232.1 294.5L232.7 294.5L233.3 294.5L233.9 294.5L234.5 294.5L234.9 294.5M239.7 294.6L240.3 294.6L240.9 294.6L241.5 294.6L242.1 294.7L242.7 294.7L243.3 294.7L243.7 294.8M248.5 295.0L249.1 295.1L249.7 295.1L250.3 295.1L250.9 295.2L251.5 295.2L252.1 295.2L252.5 295.3M257.3 295.5L257.9 295.6L258.5 295.6L259.1 295.6L259.7 295.6L260.3 295.7L260.9 295.7L261.3 295.7M266.1 296.0L266.7 296.0L267.3 296.1L267.9 296.1L268.5 296.1L269.1 296.2L269.7 296.2L270.1 296.2M274.9 296.4L275.5 296.5L276.1 296.5L276.7 296.5L277.3 296.5L277.9 296.5L278.5 296.5L278.9 296.6M283.7 296.7L284.3 296.7L284.9 296.7L285.5 296.7L286.1 296.8L286.7 296.8L287.3 296.8L287.7 296.8M292.5 296.9L293.1 297.0L293.7 297.0L294.3 297.0L294.9 297.0L295.5 297.0L296.1 297.0L296.5 297.1M301.3 297.2L301.9 297.2L302.5 297.2L303.1 297.2L303.7 297.3L304.3 297.3L304.9 297.3L305.3 297.3M310.1 297.4L310.7 297.5L311.3 297.5L311.9 297.5L312.5 297.5L313.1 297.5L313.7 297.6L314.1 297.6M318.9 297.7L319.5 297.7L320.1 297.7L320.7 297.8L321.3 297.8L321.5 297.8M19.7 296.1L20.3 296.1L20.9 296.1L21.5 296.1L22.1 296.1L22.7 296.0L23.3 296.0L23.7 296.0M28.5 295.9L29.1 295.8L29.7 295.8L30.3 295.8L30.9 295.8L31.5 295.8L32.1 295.7L32.5 295.7M37.3 295.6L37.9 295.6L38.5 295.5L39.1 295.5L39.7 295.5L40.3 295.5L40.9 295.5L41.3 295.5M46.1 295.3L46.7 295.3L47.3 295.3L47.9 295.3L48.5 295.2L49.1 295.2L49.7 295.2L50.1 295.2M54.9 295.0L55.5 295.0L56.1 294.9L56.7 294.9L57.3 294.9L57.9 294.9L58.5 294.8L58.9 294.8M63.7 294.6L64.3 294.6L64.9 294.6L65.5 294.6L66.1 294.5L66.7 294.5L67.3 294.5L67.7 294.5M72.5 294.3L73.1 294.3L73.7 294.2L74.3 294.2L74.9 294.2L75.5 294.2L76.1 294.1L76.5 294.1M81.3 293.9L81.9 293.9L82.5 293.9L83.1 293.8L83.7 293.8L84.3 293.8L84.9 293.8L85.3 293.8M90.1 293.9L90.7 293.9L91.3 293.9L91.9 293.9L92.5 293.9L93.1 293.9L93.7 293.9L94.1 293.9M99.0 294.0L99.6 294.0L100.2 294.0L100.8 294.0L101.4 294.0L102.0 294.0L102.6 294.1L103.0 294.1M107.8 294.1L108.4 294.1L109.0 294.2L109.6 294.2L110.2 294.2L110.8 294.2L111.4 294.2L111.8 294.2M116.6 294.3L117.2 294.3L117.8 294.3L118.4 294.3L119.0 294.3L119.6 294.3L120.2 294.3L120.6 294.3M125.4 294.4L126.0 294.4L126.6 294.5L127.2 294.5L127.8 294.5L128.4 294.5L129.0 294.5L129.4 294.5M134.2 294.6L134.8 294.6L135.4 294.6L136.0 294.6L136.6 294.6L137.2 294.6L137.8 294.6L138.2 294.6M142.8 294.6L143.4 294.6L144.0 294.6L144.6 294.6L145.2 294.6L145.8 294.6L146.4 294.5L146.8 294.5M151.8 293.9L152.3 293.8L152.9 293.6L153.5 293.4L154.0 293.1L154.6 292.9L155.1 292.6L155.5 292.4M159.2 289.4L159.7 289.0L160.1 288.6L160.6 288.3L161.1 287.9L161.6 287.7L162.2 287.5L162.8 287.5L163.0 287.6M167.1 290.4L167.5 290.8L168.0 291.2L168.5 291.5L169.0 291.8L169.5 292.2L170.0 292.4L170.4 292.6M177.4 294.1L178.0 294.2L178.6 294.2L179.2 294.2L179.8 294.2L180.4 294.3L181.0 294.3L181.6 294.3L181.8 294.3M186.8 294.4L187.4 294.4L188.0 294.4L188.6 294.4L189.2 294.4L189.8 294.4L190.4 294.4L190.8 294.4M195.6 294.3L196.2 294.3L196.8 294.3L197.4 294.3L198.0 294.3L198.6 294.3L199.2 294.3L199.6 294.3M204.4 294.3L205.0 294.3L205.6 294.3L206.2 294.3L206.8 294.4L207.4 294.4L208.0 294.4L208.4 294.4M213.2 294.4L213.8 294.4L214.4 294.4L215.0 294.4L215.6 294.4L216.2 294.4L216.8 294.4L217.2 294.4M222.0 294.5L222.6 294.5L223.3 294.5L223.9 294.5L224.5 294.5L225.1 294.5L225.7 294.5L226.1 294.5M230.9 294.5L231.5 294.5L232.1 294.5L232.7 294.5L233.3 294.5L233.9 294.5L234.5 294.5L234.9 294.5M239.7 294.6L240.3 294.6L240.9 294.6L241.5 294.7L242.1 294.7L242.7 294.7L243.3 294.8L243.7 294.8M248.5 295.0L249.1 295.1L249.7 295.1L250.3 295.1L250.9 295.2L251.5 295.2L252.1 295.2L252.5 295.3M257.3 295.5L257.9 295.6L258.5 295.6L259.1 295.6L259.7 295.7L260.3 295.7L260.9 295.7L261.3 295.7M266.1 296.0L266.7 296.0L267.3 296.1L267.9 296.1L268.5 296.1L269.1 296.2L269.7 296.2L270.1 296.2M274.9 296.4L275.5 296.5L276.1 296.5L276.7 296.5L277.3 296.5L277.9 296.5L278.5 296.5L278.9 296.6M283.7 296.7L284.3 296.7L284.9 296.7L285.5 296.7L286.1 296.8L286.7 296.8L287.3 296.8L287.7 296.8M292.5 296.9L293.1 297.0L293.7 297.0L294.3 297.0L294.9 297.0L295.5 297.0L296.1 297.1L296.5 297.1M301.3 297.2L301.9 297.2L302.5 297.2L303.1 297.3L303.7 297.3L304.3 297.3L304.9 297.3L305.3 297.3M310.1 297.5L310.7 297.5L311.3 297.5L311.9 297.5L312.5 297.5L313.1 297.5L313.7 297.6L314.1 297.6M318.9 297.7L319.5 297.7L320.1 297.7L320.7 297.8L321.3 297.8L321.5 297.8M19.7 296.1L20.3 296.0L20.9 296.0L21.5 296.0L22.1 296.0L22.7 296.0L23.3 295.9L23.7 295.9M28.5 295.8L29.1 295.8L29.7 295.7L30.3 295.7L30.9 295.7L31.5 295.7L32.1 295.7L32.5 295.6M37.3 295.5L37.9 295.5L38.5 295.5L39.1 295.4L39.7 295.4L40.3 295.4L40.9 295.4L41.3 295.4M46.1 295.2L46.7 295.2L47.3 295.2L47.9 295.1L48.5 295.1L49.1 295.1L49.7 295.1L50.1 295.1M54.9 294.9L55.5 294.8L56.1 294.8L56.7 294.8L57.3 294.8L57.9 294.7L58.5 294.7L58.9 294.7M63.7 294.5L64.3 294.5L64.9 294.4L65.5 294.4L66.1 294.4L66.7 294.4L67.3 294.3L67.7 294.3M72.5 294.1L73.1 294.1L73.7 294.1L74.3 294.0L74.9 294.0L75.5 294.0L76.1 294.0L76.5 293.9M81.3 293.7L81.9 293.7L82.5 293.7L83.1 293.7L83.7 293.6L84.3 293.6L84.9 293.6L85.3 293.6M90.1 293.6L90.7 293.6L91.3 293.6L91.9 293.7L92.5 293.7L93.1 293.7L93.7 293.7L94.1 293.7M98.9 293.7L99.5 293.7L100.1 293.7L100.7 293.7L101.3 293.8L101.9 293.8L102.5 293.8L102.9 293.8M107.7 293.8L108.3 293.8L108.9 293.8L109.5 293.8L110.1 293.8L110.7 293.8L111.3 293.8L111.7 293.8M116.5 293.9L117.1 293.9L117.7 293.9L118.3 293.9L118.9 293.9L119.5 293.9L120.1 293.9L120.5 293.9M125.3 293.9L125.9 293.9L126.5 293.9L127.1 293.9L127.7 293.9L128.3 293.9L128.9 293.9L129.3 293.9M134.1 293.9L134.7 293.9L135.3 293.9L135.9 293.9L136.5 293.9L137.1 293.9L137.7 293.9L138.1 293.9M143.0 293.7L143.6 293.7L144.2 293.7L144.8 293.7L145.4 293.7L146.0 293.6L146.6 293.6L147.0 293.6M151.7 293.2L152.3 293.1L152.9 293.0L153.5 292.9L154.1 292.8L154.7 292.7L155.3 292.6L155.7 292.6M160.4 291.5L160.9 291.3L161.5 291.1L162.1 290.9L162.6 290.7L163.2 290.5L163.7 290.2L164.1 290.0M168.1 287.4L168.6 287.0L169.0 286.6L169.4 286.2L169.9 285.8L170.3 285.3L170.7 284.9L170.9 284.6M173.7 280.7L174.0 280.1L174.3 279.6L174.6 279.1L174.9 278.6L175.1 278.0L175.4 277.5L175.6 277.2M177.7 272.8L178.0 272.3L178.2 271.7L178.5 271.2L178.7 270.7L179.0 270.1L179.2 269.6L179.4 269.2M181.8 265.0L182.2 264.6L182.6 264.2L183.1 263.8L183.6 263.6L184.2 263.5L184.4 263.6M187.5 267.1L187.8 267.6L188.1 268.1L188.4 268.7L188.6 269.2L188.9 269.7L189.2 270.3L189.3 270.6M191.4 275.0L191.7 275.5L192.0 276.0L192.2 276.6L192.5 277.1L192.8 277.6L193.1 278.2L193.3 278.5M195.8 282.6L196.2 283.1L196.6 283.5L196.9 284.0L197.3 284.5L197.7 284.9L198.1 285.3L198.4 285.6M202.2 288.6L202.7 288.9L203.2 289.2L203.8 289.4L204.3 289.7L204.9 289.9L205.4 290.1L205.8 290.3M212.8 292.0L213.4 292.1L214.0 292.2L214.6 292.3L215.2 292.4L215.8 292.4L216.4 292.5L217.0 292.6L217.2 292.6M221.9 293.0L222.5 293.1L223.1 293.1L223.7 293.2L224.3 293.2L224.9 293.3L225.5 293.3L226.1 293.3M230.9 293.6L231.5 293.6L232.1 293.6L232.7 293.7L233.3 293.7L233.9 293.7L234.5 293.7L234.9 293.7M239.7 293.9L240.3 293.9L240.9 294.0L241.5 294.0L242.1 294.1L242.7 294.1L243.3 294.2L243.7 294.2M248.5 294.5L249.1 294.6L249.7 294.6L250.3 294.7L250.9 294.7L251.5 294.7L252.1 294.8L252.5 294.8M257.3 295.1L257.9 295.2L258.5 295.2L259.1 295.2L259.7 295.3L260.3 295.3L260.9 295.4L261.3 295.4M266.1 295.7L266.7 295.7L267.3 295.8L267.9 295.8L268.5 295.8L269.1 295.9L269.7 295.9L270.1 295.9M274.9 296.2L275.5 296.2L276.1 296.2L276.7 296.2L277.3 296.3L277.9 296.3L278.5 296.3L278.9 296.3M283.7 296.5L284.3 296.5L284.9 296.5L285.5 296.5L286.1 296.6L286.7 296.6L287.3 296.6L287.7 296.6M292.5 296.8L293.1 296.8L293.7 296.8L294.3 296.8L294.9 296.8L295.5 296.9L296.1 296.9L296.5 296.9M301.3 297.0L301.9 297.1L302.5 297.1L303.1 297.1L303.7 297.1L304.3 297.1L304.9 297.2L305.3 297.2M310.1 297.3L310.7 297.3L311.3 297.4L311.9 297.4L312.5 297.4L313.1 297.4L313.7 297.4L314.1 297.4M318.9 297.6L319.5 297.6L320.1 297.6L320.7 297.6L321.3 297.7L321.5 297.7M19.7 296.1L20.3 296.1L20.9 296.1L21.5 296.1L22.1 296.1L22.7 296.0L23.3 296.0L23.7 296.0M28.5 295.9L29.1 295.8L29.7 295.8L30.3 295.8L30.9 295.8L31.5 295.8L32.1 295.7L32.5 295.7M37.3 295.6L37.9 295.6L38.5 295.5L39.1 295.5L39.7 295.5L40.3 295.5L40.9 295.5L41.3 295.5M46.1 295.3L46.7 295.3L47.3 295.3L47.9 295.2L48.5 295.2L49.1 295.2L49.7 295.2L50.1 295.2M54.9 295.0L55.5 295.0L56.1 294.9L56.7 294.9L57.3 294.9L57.9 294.9L58.5 294.8L58.9 294.8M63.7 294.6L64.3 294.6L64.9 294.6L65.5 294.6L66.1 294.5L66.7 294.5L67.3 294.5L67.7 294.5M72.5 294.3L73.1 294.3L73.7 294.2L74.3 294.2L74.9 294.2L75.5 294.2L76.1 294.1L76.5 294.1M81.3 293.9L81.9 293.9L82.5 293.9L83.1 293.8L83.7 293.8L84.3 293.8L84.9 293.8L85.3 293.8M90.1 293.9L90.7 293.9L91.3 293.9L91.9 293.9L92.5 293.9L93.1 293.9L93.7 293.9L94.1 293.9M98.9 294.0L99.5 294.0L100.1 294.0L100.7 294.0L101.3 294.0L101.9 294.1L102.5 294.1L102.9 294.1M107.7 294.2L108.3 294.2L108.9 294.2L109.5 294.2L110.1 294.2L110.7 294.2L111.4 294.2L111.8 294.2M116.6 294.3L117.2 294.3L117.8 294.3L118.4 294.3L119.0 294.3L119.6 294.3L120.2 294.4L120.6 294.4M125.4 294.5L126.0 294.5L126.6 294.5L127.2 294.5L127.8 294.6L128.4 294.6L129.0 294.6L129.4 294.6M134.2 294.7L134.8 294.7L135.4 294.8L136.0 294.8L136.6 294.8L137.2 294.8L137.8 294.8L138.2 294.8M143.0 294.9L143.6 295.0L144.2 295.0L144.8 295.0L145.4 295.0L146.0 295.0L146.6 295.0L147.0 295.0M151.8 295.1L152.4 295.1L153.0 295.1L153.6 295.1L154.2 295.0L154.8 295.0L155.4 295.0L155.8 295.0M160.6 294.9L161.2 294.9L161.8 294.9L162.4 294.9L163.0 294.9L163.6 294.9L164.2 294.9L164.6 294.9M169.4 294.8L170.0 294.7L170.6 294.7L171.2 294.7L171.8 294.7L172.4 294.7L173.0 294.7L173.2 294.7M178.0 294.6L178.6 294.6L179.2 294.6L179.8 294.5L180.4 294.5L181.0 294.5L181.6 294.5L182.0 294.5M186.8 294.4L187.4 294.4L188.0 294.3L188.6 294.3L189.2 294.3L189.8 294.3L190.4 294.3L190.8 294.3M195.6 294.1L196.2 294.1L196.8 294.1L197.4 294.1L198.0 294.0L198.6 294.0L199.2 294.0L199.6 294.0M204.4 293.9L205.0 293.9L205.6 293.8L206.2 293.8L206.8 293.8L207.4 293.8L208.0 293.8L208.4 293.8M213.2 293.5L213.8 293.4L214.4 293.4L215.0 293.3L215.6 293.3L216.2 293.2L216.8 293.1L217.2 293.1M222.1 292.0L222.7 291.8L223.2 291.6L223.8 291.4L224.3 291.1L224.8 290.8L225.4 290.5L225.7 290.3M229.4 287.3L229.9 286.9L230.3 286.5L230.7 286.0L231.1 285.6L231.5 285.1L231.9 284.7L232.2 284.4M235.8 281.3L236.4 281.1L236.9 281.0L237.5 281.1L238.1 281.2L238.7 281.5L239.1 281.9L239.6 282.2L240.1 282.6L240.5 283.1L240.6 283.2M243.7 286.7L244.1 287.1L244.5 287.5L244.9 288.0L245.3 288.4L245.8 288.8L246.2 289.2L246.5 289.5M250.5 292.1L251.0 292.4L251.6 292.6L252.1 292.8L252.7 293.1L253.3 293.2L253.9 293.4M257.8 294.3L258.4 294.4L258.9 294.5L259.5 294.6L260.1 294.7L260.7 294.8L261.3 294.8L261.5 294.9M266.1 295.4L266.7 295.4L267.3 295.5L267.9 295.5L268.5 295.6L269.1 295.6L269.7 295.7L270.1 295.7M274.9 296.0L275.5 296.1L276.1 296.1L276.7 296.1L277.3 296.2L277.9 296.2L278.5 296.2L278.9 296.2M283.7 296.4L284.3 296.5L284.9 296.5L285.5 296.5L286.1 296.5L286.7 296.6L287.3 296.6L287.7 296.6M292.5 296.8L293.1 296.8L293.7 296.8L294.3 296.8L294.9 296.8L295.5 296.9L296.1 296.9L296.5 296.9M301.3 297.1L301.9 297.1L302.5 297.1L303.1 297.1L303.7 297.1L304.3 297.2L304.9 297.2L305.3 297.2M310.1 297.3L310.7 297.4L311.3 297.4L311.9 297.4L312.5 297.4L313.1 297.4L313.7 297.5L314.1 297.5M318.9 297.6L319.5 297.6L320.1 297.7L320.7 297.7L321.3 297.7L321.5 297.7M19.7 296.1L20.3 296.0L20.9 296.0L21.5 296.0L22.1 296.0L22.7 296.0L23.3 295.9L23.7 295.9M28.5 295.8L29.1 295.8L29.7 295.7L30.3 295.7L30.9 295.7L31.5 295.7L32.1 295.7L32.5 295.7M37.3 295.5L37.9 295.5L38.5 295.5L39.1 295.4L39.7 295.4L40.3 295.4L40.9 295.4L41.3 295.4M46.1 295.2L46.7 295.2L47.3 295.2L47.9 295.2L48.5 295.1L49.1 295.1L49.7 295.1L50.1 295.1M54.9 294.9L55.5 294.9L56.1 294.8L56.7 294.8L57.3 294.8L57.9 294.8L58.5 294.7L58.9 294.7M63.7 294.5L64.3 294.5L64.9 294.5L65.5 294.4L66.1 294.4L66.7 294.4L67.3 294.4L67.7 294.4M72.5 294.2L73.1 294.1L73.7 294.1L74.3 294.1L74.9 294.1L75.5 294.0L76.1 294.0L76.5 294.0M81.3 293.8L81.9 293.8L82.5 293.7L83.1 293.7L83.7 293.7L84.3 293.7L84.9 293.6L85.3 293.6M90.1 293.7L90.7 293.7L91.3 293.7L91.9 293.7L92.5 293.7L93.1 293.8L93.7 293.8L94.1 293.8M98.9 293.8L99.5 293.9L100.1 293.9L100.7 293.9L101.3 293.9L101.9 293.9L102.5 293.9L102.9 293.9M107.7 294.0L108.3 294.0L108.9 294.0L109.5 294.0L110.1 294.0L110.7 294.0L111.3 294.0L111.7 294.0M116.5 294.1L117.1 294.1L117.7 294.1L118.3 294.1L118.9 294.1L119.5 294.1L120.1 294.1L120.5 294.2M125.4 294.3L126.0 294.3L126.6 294.3L127.2 294.3L127.8 294.3L128.4 294.3L129.0 294.3L129.4 294.3M134.2 294.4L134.8 294.5L135.4 294.5L136.0 294.5L136.6 294.5L137.2 294.5L137.8 294.5L138.2 294.5M143.0 294.6L143.6 294.6L144.2 294.7L144.8 294.7L145.4 294.7L146.0 294.7L146.6 294.7L147.0 294.7M151.8 294.7L152.4 294.7L153.0 294.7L153.6 294.7L154.2 294.7L154.8 294.6L155.4 294.6L155.8 294.6M160.6 294.5L161.2 294.5L161.8 294.5L162.4 294.4L163.0 294.4L163.6 294.4L164.2 294.4L164.6 294.4M169.4 294.2L170.0 294.2L170.6 294.2L171.2 294.2L171.8 294.2L172.4 294.1L173.0 294.1L173.4 294.1M178.2 293.9L178.8 293.9L179.4 293.9L180.0 293.9L180.6 293.8L181.2 293.8L181.8 293.8L182.2 293.8M187.0 293.6L187.6 293.5L188.2 293.5L188.8 293.5L189.4 293.4L190.0 293.4L190.6 293.4L191.0 293.4M195.8 293.1L196.4 293.0L197.0 293.0L197.6 293.0L198.2 292.9L198.8 292.9L199.4 292.8L199.8 292.8M204.6 292.5L205.2 292.4L205.8 292.4L206.4 292.4L207.0 292.3L207.6 292.3L208.2 292.2L208.6 292.2M213.3 291.6L213.9 291.6L214.5 291.5L215.1 291.4L215.7 291.3L216.3 291.2L216.9 291.1L217.3 291.0M222.0 290.0L222.6 289.8L223.1 289.7L223.7 289.5L224.3 289.3L224.8 289.1L225.4 288.9L225.8 288.7M230.0 286.5L230.5 286.1L231.0 285.8L231.4 285.4L231.9 285.0L232.4 284.6L232.8 284.2L233.1 283.9M236.1 280.2L236.5 279.7L236.8 279.2L237.1 278.7L237.5 278.2L237.8 277.7L238.1 277.2L238.3 276.8M240.4 272.5L240.7 272.0L240.9 271.4L241.2 270.9L241.4 270.3L241.7 269.8L241.9 269.2L242.0 268.9M243.8 264.4L244.0 263.8L244.2 263.3L244.4 262.7L244.6 262.1L244.8 261.6L245.0 261.0L245.2 260.6M246.8 256.1L247.0 255.6L247.3 255.0L247.5 254.4L247.7 253.9L247.9 253.3L248.2 252.8L248.3 252.4M250.7 248.3L251.2 247.9L251.7 247.7L252.3 247.6L252.9 247.8L253.4 248.2L253.8 248.6M256.1 252.8L256.3 253.4L256.5 253.9L256.8 254.5L257.0 255.1L257.2 255.6L257.4 256.2L257.5 256.6M259.1 261.1L259.3 261.7L259.5 262.2L259.7 262.8L259.9 263.4L260.1 263.9L260.3 264.5L260.5 264.9M262.1 269.4L262.3 269.9L262.6 270.5L262.8 271.0L263.0 271.6L263.3 272.2L263.5 272.7L263.6 273.1M265.7 277.4L266.0 278.0L266.3 278.5L266.6 279.0L266.8 279.5L267.2 280.0L267.5 280.6L267.7 280.9M270.5 284.8L270.9 285.2L271.3 285.7L271.7 286.1L272.2 286.5L272.6 286.9L273.1 287.3L273.4 287.6M277.4 290.2L277.9 290.4L278.5 290.7L279.0 290.9L279.6 291.2L280.1 291.4L280.7 291.6L281.1 291.7M284.5 292.8L285.1 292.9L285.7 293.0L286.3 293.2L286.9 293.3L287.5 293.4L288.1 293.5M292.6 294.3L293.2 294.4L293.8 294.5L294.4 294.6L295.0 294.7L295.6 294.7L296.2 294.8L296.6 294.9M301.3 295.4L301.9 295.4L302.5 295.5L303.1 295.6L303.7 295.6L304.3 295.7L304.9 295.7L305.3 295.8M310.1 296.1L310.7 296.2L311.3 296.2L311.9 296.3L312.5 296.3L313.1 296.3L313.7 296.4L314.1 296.4M318.9 296.7L319.5 296.7L320.1 296.8L320.7 296.8L321.3 296.8L321.5 296.8M19.7 296.1L20.3 296.1L20.9 296.1L21.5 296.0L22.1 296.0L22.7 296.0L23.3 296.0L23.7 296.0M28.5 295.8L29.1 295.8L29.7 295.8L30.3 295.8L30.9 295.7L31.5 295.7L32.1 295.7L32.5 295.7M37.3 295.5L37.9 295.5L38.5 295.5L39.1 295.5L39.7 295.5L40.3 295.4L40.9 295.4L41.3 295.4M46.1 295.3L46.7 295.2L47.3 295.2L47.9 295.2L48.5 295.2L49.1 295.2L49.7 295.1L50.1 295.1M54.9 294.9L55.5 294.9L56.1 294.9L56.7 294.9L57.3 294.8L57.9 294.8L58.5 294.8L58.9 294.8M63.7 294.6L64.3 294.6L64.9 294.5L65.5 294.5L66.1 294.5L66.7 294.5L67.3 294.4L67.7 294.4M72.5 294.2L73.1 294.2L73.7 294.2L74.3 294.1L74.9 294.1L75.5 294.1L76.1 294.1L76.5 294.1M81.3 293.9L81.9 293.8L82.5 293.8L83.1 293.8L83.7 293.8L84.3 293.7L84.9 293.7L85.3 293.7M90.1 293.8L90.7 293.8L91.3 293.8L91.9 293.8L92.5 293.8L93.1 293.8L93.7 293.8L94.1 293.9M98.9 293.9L99.5 293.9L100.1 294.0L100.7 294.0L101.3 294.0L101.9 294.0L102.5 294.0L102.9 294.0M107.7 294.1L108.3 294.1L108.9 294.1L109.5 294.1L110.1 294.1L110.7 294.1L111.3 294.1L111.7 294.1M116.5 294.2L117.1 294.2L117.7 294.2L118.3 294.2L118.9 294.2L119.5 294.3L120.1 294.3L120.5 294.3M125.3 294.4L125.9 294.4L126.5 294.4L127.1 294.4L127.7 294.5L128.3 294.5L128.9 294.5L129.3 294.5M134.1 294.6L134.7 294.6L135.3 294.6L135.9 294.7L136.5 294.7L137.1 294.7L137.7 294.7L138.1 294.7M142.9 294.8L143.5 294.8L144.1 294.9L144.7 294.9L145.3 294.9L145.9 294.9L146.5 294.9L146.9 294.9M151.7 295.0L152.3 295.0L152.9 294.9L153.5 294.9L154.1 294.9L154.7 294.9L155.3 294.9L155.7 294.9M160.5 294.8L161.1 294.8L161.7 294.8L162.3 294.8L162.9 294.7L163.5 294.7L164.1 294.7L164.5 294.7M169.3 294.6L169.9 294.6L170.5 294.6L171.1 294.6L171.7 294.6L172.3 294.6L172.9 294.5L173.3 294.5M178.2 294.4L178.8 294.4L179.4 294.4L180.0 294.4L180.6 294.4L181.2 294.4L181.8 294.4L182.2 294.3M187.0 294.2L187.6 294.2L188.2 294.2L188.8 294.2L189.4 294.2L190.0 294.2L190.6 294.1L191.0 294.1M195.8 294.0L196.4 294.0L197.0 294.0L197.6 294.0L198.2 294.0L198.8 293.9L199.4 293.9L199.8 293.9M204.6 293.9L205.2 293.9L205.8 293.9L206.4 293.9L207.0 293.8L207.6 293.8L208.2 293.8L208.6 293.8M213.4 293.8L214.0 293.8L214.6 293.8L215.2 293.7L215.8 293.7L216.4 293.7L217.0 293.7L217.4 293.7M222.2 293.6L222.8 293.6L223.4 293.6L224.0 293.6L224.6 293.6L225.2 293.5L225.8 293.5L226.2 293.5M231.0 293.4L231.6 293.3L232.2 293.3L232.8 293.3L233.4 293.3L234.0 293.2L234.6 293.2L235.0 293.2M239.8 292.9L240.4 292.9L241.0 292.9L241.6 292.9L242.2 292.9L242.8 292.8L243.4 292.8L243.8 292.8M248.6 292.6L249.2 292.5L249.8 292.5L250.4 292.4L251.0 292.4L251.6 292.3L252.2 292.2L252.6 292.2M257.3 291.4L257.9 291.3L258.5 291.2L259.0 291.0L259.6 290.8L260.2 290.7L260.8 290.5L261.2 290.4M265.5 288.4L266.0 288.1L266.5 287.7L267.0 287.4L267.5 287.0L267.9 286.6L268.4 286.2L268.7 285.9M271.7 282.2L272.0 281.7L272.3 281.2L272.6 280.6L272.9 280.1L273.1 279.6L273.4 279.0L273.6 278.7M275.3 274.2L275.5 273.6L275.7 273.1L275.9 272.5L276.1 271.9L276.2 271.4L276.4 270.8L276.5 270.4M277.8 265.7L277.9 265.2L278.0 264.6L278.2 264.0L278.3 263.4L278.4 262.8L278.6 262.2L278.7 261.8M279.6 257.1L279.7 256.6L279.9 256.0L280.0 255.4L280.1 254.8L280.2 254.2L280.3 253.6L280.4 253.2M281.2 248.5L281.3 247.9L281.5 247.3L281.6 246.7L281.7 246.1L281.8 245.5L281.9 244.9L281.9 244.5M282.8 239.8L282.9 239.2L283.0 238.6L283.1 238.1L283.3 237.5L283.4 236.9L283.5 236.3L283.6 235.9M284.8 231.2L285.0 230.7L285.2 230.1L285.4 229.6L285.8 229.1L286.3 228.8L286.8 229.1L287.0 229.4M288.6 234.0L288.7 234.5L288.8 235.1L288.9 235.7L289.1 236.3L289.2 236.9L289.3 237.5L289.4 237.9M290.3 242.6L290.4 243.2L290.5 243.8L290.6 244.4L290.7 245.0L290.8 245.5L290.9 246.1L291.0 246.5M291.8 251.3L291.9 251.9L292.0 252.4L292.1 253.0L292.2 253.6L292.3 254.2L292.4 254.8L292.5 255.2M293.4 259.9L293.6 260.5L293.7 261.1L293.8 261.7L293.9 262.3L294.1 262.8L294.2 263.4L294.3 263.8M295.4 268.5L295.6 269.1L295.7 269.7L295.9 270.2L296.0 270.8L296.2 271.4L296.4 272.0L296.5 272.4M298.0 276.9L298.2 277.5L298.5 278.0L298.7 278.6L298.9 279.1L299.2 279.7L299.4 280.2L299.6 280.6M302.0 284.7L302.4 285.2L302.7 285.7L303.1 286.1L303.5 286.6L303.9 287.0L304.3 287.5L304.6 287.8M308.4 290.6L309.0 290.9L309.5 291.2L310.0 291.5L310.6 291.7L311.1 292.0L311.7 292.2L312.0 292.4M318.2 294.2L318.8 294.4L319.3 294.5L319.9 294.6L320.5 294.7L321.1 294.8L321.5 294.9M19.7 296.1L20.3 296.1L20.9 296.1L21.5 296.1L22.1 296.1L22.7 296.0L23.3 296.0L23.7 296.0M28.5 295.9L29.1 295.8L29.7 295.8L30.3 295.8L30.9 295.8L31.5 295.8L32.1 295.7L32.5 295.7M37.3 295.6L37.9 295.6L38.5 295.5L39.1 295.5L39.7 295.5L40.3 295.5L40.9 295.5L41.3 295.5M46.1 295.3L46.7 295.3L47.3 295.3L47.9 295.2L48.5 295.2L49.1 295.2L49.7 295.2L50.1 295.2M54.9 295.0L55.5 295.0L56.1 294.9L56.7 294.9L57.3 294.9L57.9 294.9L58.5 294.8L58.9 294.8M63.7 294.6L64.3 294.6L64.9 294.6L65.5 294.6L66.1 294.5L66.7 294.5L67.3 294.5L67.7 294.5M72.5 294.3L73.1 294.3L73.7 294.2L74.3 294.2L74.9 294.2L75.5 294.2L76.1 294.1L76.5 294.1M81.3 293.9L81.9 293.9L82.5 293.9L83.1 293.9L83.7 293.8L84.3 293.8L84.9 293.8L85.3 293.8M90.1 293.9L90.7 293.9L91.3 293.9L91.9 293.9L92.5 293.9L93.1 293.9L93.7 293.9L94.1 293.9M98.9 294.0L99.5 294.0L100.1 294.0L100.7 294.0L101.3 294.1L101.9 294.1L102.5 294.1L102.9 294.1M107.7 294.2L108.3 294.2L108.9 294.2L109.5 294.2L110.1 294.2L110.7 294.2L111.3 294.2L111.7 294.2M116.5 294.3L117.1 294.3L117.7 294.3L118.3 294.3L118.9 294.3L119.5 294.4L120.1 294.4L120.5 294.4M125.3 294.5L125.9 294.5L126.5 294.5L127.1 294.6L127.7 294.6L128.3 294.6L128.9 294.6L129.3 294.6M134.1 294.7L134.7 294.8L135.3 294.8L135.9 294.8L136.5 294.8L137.1 294.8L137.7 294.8L138.1 294.8M142.9 295.0L143.5 295.0L144.1 295.0L144.7 295.0L145.3 295.0L145.9 295.0L146.5 295.1L146.9 295.1M151.7 295.1L152.3 295.1L152.9 295.1L153.5 295.1L154.1 295.1L154.7 295.1L155.3 295.1L155.7 295.1M160.5 295.0L161.1 295.0L161.7 295.0L162.3 294.9L162.9 294.9L163.5 294.9L164.1 294.9L164.5 294.9M169.3 294.8L169.9 294.8L170.5 294.8L171.1 294.8L171.7 294.8L172.3 294.8L172.9 294.8L173.3 294.8M178.1 294.7L178.7 294.7L179.3 294.6L179.9 294.6L180.5 294.6L181.1 294.6L181.7 294.6L182.1 294.6M186.9 294.5L187.5 294.5L188.1 294.5L188.7 294.5L189.3 294.5L189.9 294.5L190.5 294.4L190.9 294.4M195.7 294.4L196.3 294.3L196.9 294.3L197.5 294.3L198.1 294.3L198.7 294.3L199.3 294.3L199.7 294.3M204.5 294.3L205.1 294.3L205.7 294.3L206.3 294.3L206.9 294.3L207.5 294.3L208.2 294.3L208.6 294.3M213.4 294.3L214.0 294.3L214.6 294.3L215.2 294.3L215.8 294.3L216.4 294.3L217.0 294.3L217.4 294.3M222.2 294.3L222.8 294.3L223.4 294.3L224.0 294.3L224.6 294.3L225.2 294.3L225.8 294.3L226.2 294.2M231.0 294.2L231.6 294.2L232.2 294.2L232.8 294.2L233.4 294.2L234.0 294.2L234.6 294.2L235.0 294.2M239.8 294.1L240.4 294.1L241.0 294.1L241.6 294.1L242.2 294.2L242.8 294.2L243.4 294.2L243.8 294.2M248.6 294.3L249.2 294.3L249.8 294.3L250.4 294.3L251.0 294.3L251.6 294.3L252.2 294.3L252.6 294.3M257.4 294.1L258.0 294.0L258.6 294.0L259.2 293.9L259.8 293.9L260.4 293.8L261.0 293.7L261.4 293.7M266.0 292.4L266.5 292.1L267.0 291.8L267.5 291.5L268.0 291.1L268.4 290.7L268.8 290.2L269.1 289.9M271.6 285.9L271.8 285.3L272.1 284.8L272.3 284.2L272.5 283.6L272.7 283.1L272.9 282.5L273.0 282.1M274.4 277.5L274.6 276.9L274.7 276.4L274.9 275.8L275.0 275.2L275.2 274.6L275.3 274.0L275.4 273.7M276.5 269.0L276.7 268.4L276.8 267.8L277.0 267.2L277.1 266.6L277.2 266.1L277.4 265.5L277.5 265.1M278.8 260.5L279.0 259.9L279.2 259.3L279.4 258.8L279.7 258.3L280.1 257.8L280.6 257.5L280.8 257.5M282.8 261.8L283.0 262.3L283.1 262.9L283.3 263.5L283.4 264.1L283.6 264.7L283.7 265.3L283.8 265.6M284.9 270.3L285.0 270.9L285.2 271.5L285.3 272.1L285.5 272.7L285.6 273.2L285.7 273.8L285.8 274.2M287.0 278.9L287.2 279.4L287.4 280.0L287.5 280.6L287.7 281.2L287.9 281.7L288.1 282.3L288.2 282.7M290.0 287.2L290.2 287.7L290.5 288.2L290.8 288.8L291.1 289.3L291.4 289.8L291.8 290.3L292.0 290.6M295.7 293.6L296.2 293.9L296.8 294.1L297.3 294.3L297.9 294.5L298.5 294.7L298.7 294.8M302.2 295.5L302.8 295.6L303.4 295.7L304.0 295.8L304.5 295.9L305.1 296.0L305.5 296.0M310.1 296.5L310.7 296.6L311.3 296.6L311.9 296.7L312.5 296.7L313.1 296.8L313.7 296.8L314.1 296.8M318.9 297.1L319.5 297.2L320.1 297.2L320.7 297.2L321.3 297.3L321.5 297.3M19.7 296.1L20.3 296.1L20.9 296.1L21.5 296.1L22.1 296.1L22.7 296.1L23.3 296.0L23.7 296.0M28.5 295.9L29.1 295.9L29.7 295.8L30.3 295.8L30.9 295.8L31.5 295.8L32.1 295.8L32.5 295.7M37.3 295.6L37.9 295.6L38.5 295.6L39.1 295.5L39.7 295.5L40.3 295.5L40.9 295.5L41.3 295.5M46.1 295.3L46.7 295.3L47.3 295.3L47.9 295.3L48.5 295.2L49.1 295.2L49.7 295.2L50.1 295.2M54.9 295.0L55.5 295.0L56.1 295.0L56.7 294.9L57.3 294.9L57.9 294.9L58.5 294.9L58.9 294.8M63.7 294.7L64.3 294.6L64.9 294.6L65.5 294.6L66.1 294.6L66.7 294.5L67.3 294.5L67.7 294.5M72.5 294.3L73.1 294.3L73.7 294.3L74.3 294.2L74.9 294.2L75.5 294.2L76.1 294.2L76.5 294.1M81.3 293.9L81.9 293.9L82.5 293.9L83.1 293.9L83.7 293.9L84.3 293.8L84.9 293.8L85.3 293.8M90.1 293.9L90.7 293.9L91.3 293.9L91.9 293.9L92.5 293.9L93.1 293.9L93.7 293.9L94.1 294.0M98.9 294.0L99.5 294.0L100.1 294.1L100.7 294.1L101.3 294.1L101.9 294.1L102.5 294.1L102.9 294.1M107.7 294.2L108.3 294.2L108.9 294.2L109.5 294.2L110.1 294.2L110.7 294.2L111.3 294.3L111.7 294.3M116.5 294.3L117.1 294.4L117.7 294.4L118.3 294.4L118.9 294.4L119.5 294.4L120.1 294.4L120.5 294.4M125.3 294.5L126.0 294.6L126.6 294.6L127.2 294.6L127.8 294.6L128.4 294.6L129.0 294.6L129.4 294.6M134.2 294.8L134.8 294.8L135.4 294.8L136.0 294.8L136.6 294.8L137.2 294.9L137.8 294.9L138.2 294.9M143.0 295.0L143.6 295.0L144.2 295.0L144.8 295.1L145.4 295.1L146.0 295.1L146.6 295.1L147.0 295.1M151.8 295.2L152.4 295.2L153.0 295.2L153.6 295.1L154.2 295.1L154.8 295.1L155.4 295.1L155.8 295.1M160.6 295.0L161.2 295.0L161.8 295.0L162.4 295.0L163.0 295.0L163.6 295.0L164.2 295.0L164.6 295.0M169.4 294.9L170.0 294.9L170.6 294.9L171.2 294.9L171.8 294.9L172.4 294.8L173.0 294.8L173.4 294.8M178.2 294.7L178.8 294.7L179.4 294.7L180.0 294.7L180.6 294.7L181.2 294.7L181.8 294.7L182.2 294.7M187.0 294.6L187.6 294.6L188.2 294.6L188.8 294.6L189.4 294.6L190.0 294.6L190.6 294.6L191.0 294.5M195.6 294.5L196.2 294.5L196.8 294.5L197.4 294.4L198.0 294.4L198.6 294.4L199.2 294.4L199.6 294.4M204.4 294.4L205.0 294.4L205.6 294.4L206.2 294.4L206.8 294.4L207.4 294.4L208.0 294.4L208.4 294.4M213.2 294.5L213.8 294.5L214.4 294.5L215.0 294.5L215.6 294.4L216.2 294.3L216.8 294.2L217.2 294.1M222.1 293.3L222.7 293.2L223.3 293.1L223.9 292.9L224.5 292.8L225.1 292.7L225.7 292.6L226.1 292.6M230.8 291.8L231.4 291.7L232.0 291.6L232.6 291.4L233.2 291.3L233.7 291.1L234.3 291.0L234.9 290.8M239.6 289.7L240.1 289.5L240.7 289.4L241.3 289.3L241.9 289.2L242.5 289.1L243.1 289.0L243.7 288.8M248.5 288.5L249.1 288.4L249.7 288.4L250.3 288.4L250.9 288.4L251.5 288.4L252.1 288.4L252.5 288.3M257.3 288.2L257.9 288.2L258.5 288.2L259.1 288.1L259.7 288.1L260.3 288.1L260.9 288.1L261.3 288.1M266.1 287.9L266.7 287.9L267.3 287.9L267.9 287.9L268.5 287.8L269.1 287.8L269.7 287.8L270.1 287.8M274.9 287.6L275.5 287.6L276.1 287.6L276.7 287.6L277.3 287.6L277.9 287.6L278.5 287.5L278.9 287.5M283.7 287.4L284.3 287.4L284.9 287.3L285.5 287.3L286.1 287.3L286.7 287.3L287.3 287.3L287.7 287.2M292.5 287.1L293.1 287.1L293.7 287.1L294.3 287.0L294.9 287.0L295.5 287.0L296.1 287.0L296.5 287.0M301.3 286.8L301.9 286.8L302.5 286.8L303.1 286.8L303.7 286.8L304.3 286.8L304.9 286.8L305.3 286.8M310.1 286.7L310.7 286.7L311.3 286.7L311.9 286.7L312.5 286.7L313.1 286.7L313.7 286.6L314.1 286.6M318.9 286.6L319.5 286.5L320.1 286.5L320.7 286.5L321.3 286.5L321.5 286.5M19.7 296.1L20.3 296.1L20.9 296.1L21.5 296.1L22.1 296.1L22.7 296.1L23.3 296.0L23.7 296.0M28.5 295.9L29.1 295.9L29.7 295.8L30.3 295.8L30.9 295.8L31.5 295.8L32.1 295.8L32.5 295.7M37.3 295.6L37.9 295.6L38.5 295.6L39.1 295.5L39.7 295.5L40.3 295.5L40.9 295.5L41.3 295.5M46.1 295.3L46.7 295.3L47.3 295.3L47.9 295.3L48.5 295.2L49.1 295.2L49.7 295.2L50.1 295.2M54.9 295.0L55.5 295.0L56.1 295.0L56.7 294.9L57.3 294.9L57.9 294.9L58.5 294.9L58.9 294.8M63.7 294.7L64.3 294.6L64.9 294.6L65.5 294.6L66.1 294.6L66.7 294.5L67.3 294.5L67.7 294.5M72.5 294.3L73.1 294.3L73.7 294.3L74.3 294.2L74.9 294.2L75.5 294.2L76.1 294.2L76.5 294.1M81.3 293.9L81.9 293.9L82.5 293.9L83.1 293.9L83.7 293.9L84.3 293.8L84.9 293.8L85.3 293.8M90.1 293.9L90.7 293.9L91.3 293.9L91.9 293.9L92.5 293.9L93.1 293.9L93.7 293.9L94.1 294.0M98.9 294.0L99.5 294.0L100.1 294.1L100.7 294.1L101.3 294.1L101.9 294.1L102.5 294.1L102.9 294.1M107.7 294.2L108.3 294.2L108.9 294.2L109.5 294.2L110.1 294.2L110.7 294.2L111.3 294.3L111.7 294.3M116.6 294.3L117.2 294.4L117.8 294.4L118.4 294.4L119.0 294.4L119.6 294.4L120.2 294.4L120.6 294.4M125.4 294.5L126.0 294.6L126.6 294.6L127.2 294.6L127.8 294.6L128.4 294.6L129.0 294.6L129.4 294.6M134.2 294.8L134.8 294.8L135.4 294.8L136.0 294.8L136.6 294.8L137.2 294.9L137.8 294.9L138.2 294.9M143.0 295.0L143.6 295.0L144.2 295.0L144.8 295.1L145.4 295.1L146.0 295.1L146.6 295.1L147.0 295.1M151.8 295.2L152.4 295.2L153.0 295.2L153.6 295.1L154.2 295.1L154.8 295.1L155.4 295.1L155.8 295.1M160.6 295.0L161.2 295.0L161.8 295.0L162.4 295.0L163.0 295.0L163.6 295.0L164.2 295.0L164.6 295.0M169.4 294.9L170.0 294.9L170.6 294.9L171.2 294.9L171.8 294.9L172.4 294.8L173.0 294.8L173.4 294.8M178.0 294.8L178.6 294.7L179.2 294.7L179.8 294.7L180.4 294.7L181.0 294.7L181.6 294.7L182.0 294.7M186.8 294.6L187.4 294.6L188.0 294.6L188.6 294.6L189.2 294.6L189.8 294.6L190.4 294.5L190.8 294.5M195.6 294.2L196.2 294.2L196.8 294.2L197.4 294.1L198.0 294.1L198.6 294.1L199.2 294.0L199.6 294.0M204.4 293.8L205.0 293.8L205.6 293.8L206.2 293.8L206.8 293.8L207.4 293.7L208.0 293.7L208.4 293.7M213.2 293.5L213.8 293.5L214.4 293.5L215.0 293.5L215.6 293.5L216.2 293.5L216.8 293.5L217.2 293.4M222.0 293.4L222.6 293.4L223.2 293.4L223.8 293.4L224.4 293.4L225.0 293.3L225.6 293.3L226.0 293.3M230.8 293.3L231.4 293.3L232.0 293.3L232.6 293.2L233.2 293.2L233.8 293.2L234.4 293.2L234.8 293.2M239.6 293.0L240.2 292.9L240.8 292.9L241.4 292.9L242.0 292.9L242.6 292.9L243.2 292.9L243.6 292.8M248.4 292.7L249.0 292.7L249.6 292.7L250.2 292.7L250.8 292.6L251.4 292.6L252.0 292.6L252.4 292.6M257.2 292.5L257.8 292.4L258.4 292.4L259.0 292.4L259.6 292.4L260.2 292.4L260.8 292.3L261.2 292.3M266.0 292.2L266.6 292.2L267.2 292.2L267.8 292.1L268.4 292.1L269.0 292.1L269.6 292.1L270.0 292.1M274.9 292.0L275.5 292.0L276.1 292.0L276.7 292.0L277.3 292.0L277.9 292.0L278.5 292.0L278.9 292.0M283.7 292.0L284.3 292.0L284.9 292.0L285.5 292.0L286.1 292.0L286.7 292.0L287.3 292.0L287.7 292.0M292.5 292.0L293.1 292.0L293.7 292.0L294.3 292.0L294.9 292.0L295.5 292.0L296.1 292.0L296.5 292.0M301.3 292.0L301.9 292.0L302.5 292.0L303.1 292.0L303.7 292.0L304.3 292.0L304.9 292.0L305.3 292.0M310.1 292.1L310.7 292.1L311.3 292.1L311.9 292.1L312.5 292.1L313.1 292.1L313.7 292.1L314.1 292.1M318.9 292.2L319.5 292.2L320.1 292.2L320.7 292.2L321.3 292.2L321.5 292.2" fill="none" stroke="#e2401f" stroke-width="2.0"/><g fill="#fff" stroke="#000" stroke-width="0.7"><circle cx="18.7" cy="261.7" r="1.65"/><circle cx="18.7" cy="265.7" r="1.65"/><circle cx="18.7" cy="260.8" r="1.65"/><circle cx="18.7" cy="270.3" r="1.65"/><circle cx="18.7" cy="281.9" r="1.65"/><circle cx="18.7" cy="265.3" r="1.65"/><circle cx="18.7" cy="264.2" r="1.65"/><circle cx="18.7" cy="274.2" r="1.65"/><circle cx="18.7" cy="273.0" r="1.65"/><circle cx="18.7" cy="270.8" r="1.65"/><circle cx="18.7" cy="261.4" r="1.65"/><circle cx="18.7" cy="269.5" r="1.65"/><circle cx="18.7" cy="276.1" r="1.65"/><circle cx="18.7" cy="257.6" r="1.65"/><circle cx="18.7" cy="265.7" r="1.65"/><circle cx="18.7" cy="252.6" r="1.65"/><circle cx="18.7" cy="258.1" r="1.65"/><circle cx="18.7" cy="253.1" r="1.65"/><circle cx="18.7" cy="267.7" r="1.65"/><circle cx="18.7" cy="258.3" r="1.65"/><circle cx="18.7" cy="272.3" r="1.65"/><circle cx="18.7" cy="271.2" r="1.65"/><circle cx="18.7" cy="268.1" r="1.65"/><circle cx="18.7" cy="249.0" r="1.65"/><circle cx="18.7" cy="264.9" r="1.65"/><circle cx="18.7" cy="269.4" r="1.65"/><circle cx="18.7" cy="270.8" r="1.65"/><circle cx="18.7" cy="255.9" r="1.65"/><circle cx="18.7" cy="265.5" r="1.65"/><circle cx="18.7" cy="260.9" r="1.65"/><circle cx="18.7" cy="262.5" r="1.65"/><circle cx="18.7" cy="279.4" r="1.65"/><circle cx="18.7" cy="262.5" r="1.65"/><circle cx="18.7" cy="269.5" r="1.65"/><circle cx="18.7" cy="277.8" r="1.65"/><circle cx="18.7" cy="264.5" r="1.65"/><circle cx="18.7" cy="268.8" r="1.65"/><circle cx="18.7" cy="270.8" r="1.65"/><circle cx="20.8" cy="274.9" r="1.65"/><circle cx="20.8" cy="250.2" r="1.65"/><circle cx="20.8" cy="270.7" r="1.65"/><circle cx="20.8" cy="264.4" r="1.65"/><circle cx="20.8" cy="257.9" r="1.65"/><circle cx="20.8" cy="280.4" r="1.65"/><circle cx="20.8" cy="269.9" r="1.65"/><circle cx="20.8" cy="253.2" r="1.65"/><circle cx="20.8" cy="264.0" r="1.65"/><circle cx="20.8" cy="268.3" r="1.65"/><circle cx="20.8" cy="261.8" r="1.65"/><circle cx="20.8" cy="269.2" r="1.65"/><circle cx="20.8" cy="262.8" r="1.65"/><circle cx="20.8" cy="269.1" r="1.65"/><circle cx="20.8" cy="275.6" r="1.65"/><circle cx="20.8" cy="257.6" r="1.65"/><circle cx="20.8" cy="265.1" r="1.65"/><circle cx="20.8" cy="259.4" r="1.65"/><circle cx="20.8" cy="264.5" r="1.65"/><circle cx="20.8" cy="253.3" r="1.65"/><circle cx="20.8" cy="258.4" r="1.65"/><circle cx="20.8" cy="261.7" r="1.65"/><circle cx="20.8" cy="271.0" r="1.65"/><circle cx="20.8" cy="273.1" r="1.65"/><circle cx="20.8" cy="252.1" r="1.65"/><circle cx="20.8" cy="256.6" r="1.65"/><circle cx="20.8" cy="268.9" r="1.65"/><circle cx="20.8" cy="246.4" r="1.65"/><circle cx="20.8" cy="259.4" r="1.65"/><circle cx="20.8" cy="262.5" r="1.65"/><circle cx="20.8" cy="274.1" r="1.65"/><circle cx="20.8" cy="269.2" r="1.65"/><circle cx="20.8" cy="260.6" r="1.65"/><circle cx="20.8" cy="260.2" r="1.65"/><circle cx="20.8" cy="261.2" r="1.65"/><circle cx="20.8" cy="276.3" r="1.65"/><circle cx="20.8" cy="259.7" r="1.65"/><circle cx="20.8" cy="260.8" r="1.65"/><circle cx="22.7" cy="254.6" r="1.65"/><circle cx="22.7" cy="264.0" r="1.65"/><circle cx="22.7" cy="260.3" r="1.65"/><circle cx="22.7" cy="274.0" r="1.65"/><circle cx="22.7" cy="269.6" r="1.65"/><circle cx="22.7" cy="263.8" r="1.65"/><circle cx="22.7" cy="269.8" r="1.65"/><circle cx="22.7" cy="261.2" r="1.65"/><circle cx="22.7" cy="273.0" r="1.65"/><circle cx="22.7" cy="264.0" r="1.65"/><circle cx="22.7" cy="269.0" r="1.65"/><circle cx="22.7" cy="253.0" r="1.65"/><circle cx="22.7" cy="267.0" r="1.65"/><circle cx="22.7" cy="249.7" r="1.65"/><circle cx="22.7" cy="246.7" r="1.65"/><circle cx="22.7" cy="261.5" r="1.65"/><circle cx="22.7" cy="256.4" r="1.65"/><circle cx="22.7" cy="265.5" r="1.65"/><circle cx="22.7" cy="283.2" r="1.65"/><circle cx="22.7" cy="257.0" r="1.65"/><circle cx="22.7" cy="258.7" r="1.65"/><circle cx="22.7" cy="265.8" r="1.65"/><circle cx="22.7" cy="268.3" r="1.65"/><circle cx="22.7" cy="262.5" r="1.65"/><circle cx="22.7" cy="262.3" r="1.65"/><circle cx="22.7" cy="270.0" r="1.65"/><circle cx="22.7" cy="268.5" r="1.65"/><circle cx="22.7" cy="255.2" r="1.65"/><circle cx="22.7" cy="263.4" r="1.65"/><circle cx="22.7" cy="264.4" r="1.65"/><circle cx="22.7" cy="255.1" r="1.65"/><circle cx="22.7" cy="266.3" r="1.65"/><circle cx="22.7" cy="256.7" r="1.65"/><circle cx="22.7" cy="272.3" r="1.65"/><circle cx="22.7" cy="265.7" r="1.65"/><circle cx="22.7" cy="264.8" r="1.65"/><circle cx="22.7" cy="259.0" r="1.65"/><circle cx="22.7" cy="263.0" r="1.65"/><circle cx="25.4" cy="241.3" r="1.65"/><circle cx="25.4" cy="261.5" r="1.65"/><circle cx="25.4" cy="243.9" r="1.65"/><circle cx="25.4" cy="260.8" r="1.65"/><circle cx="25.4" cy="250.0" r="1.65"/><circle cx="25.4" cy="261.0" r="1.65"/><circle cx="25.4" cy="256.6" r="1.65"/><circle cx="25.4" cy="245.3" r="1.65"/><circle cx="25.4" cy="264.2" r="1.65"/><circle cx="25.4" cy="265.5" r="1.65"/><circle cx="25.4" cy="255.3" r="1.65"/><circle cx="25.4" cy="253.9" r="1.65"/><circle cx="25.4" cy="254.7" r="1.65"/><circle cx="25.4" cy="249.1" r="1.65"/><circle cx="25.4" cy="263.2" r="1.65"/><circle cx="25.4" cy="252.1" r="1.65"/><circle cx="25.4" cy="255.4" r="1.65"/><circle cx="25.4" cy="250.4" r="1.65"/><circle cx="25.4" cy="251.5" r="1.65"/><circle cx="25.4" cy="247.1" r="1.65"/><circle cx="25.4" cy="264.2" r="1.65"/><circle cx="25.4" cy="254.7" r="1.65"/><circle cx="25.4" cy="262.3" r="1.65"/><circle cx="25.4" cy="255.8" r="1.65"/><circle cx="25.4" cy="251.0" r="1.65"/><circle cx="25.4" cy="253.5" r="1.65"/><circle cx="25.4" cy="251.9" r="1.65"/><circle cx="25.4" cy="255.8" r="1.65"/><circle cx="25.4" cy="253.2" r="1.65"/><circle cx="25.4" cy="253.7" r="1.65"/><circle cx="25.4" cy="246.4" r="1.65"/><circle cx="25.4" cy="250.3" r="1.65"/><circle cx="25.4" cy="266.9" r="1.65"/><circle cx="25.4" cy="251.2" r="1.65"/><circle cx="25.4" cy="248.6" r="1.65"/><circle cx="25.4" cy="258.0" r="1.65"/><circle cx="25.4" cy="265.2" r="1.65"/><circle cx="25.4" cy="245.9" r="1.65"/><circle cx="27.5" cy="259.4" r="1.65"/><circle cx="27.5" cy="252.0" r="1.65"/><circle cx="27.5" cy="252.9" r="1.65"/><circle cx="27.5" cy="244.9" r="1.65"/><circle cx="27.5" cy="256.7" r="1.65"/><circle cx="27.5" cy="247.0" r="1.65"/><circle cx="27.5" cy="250.8" r="1.65"/><circle cx="27.5" cy="241.4" r="1.65"/><circle cx="27.5" cy="240.3" r="1.65"/><circle cx="27.5" cy="265.3" r="1.65"/><circle cx="27.5" cy="247.3" r="1.65"/><circle cx="27.5" cy="255.1" r="1.65"/><circle cx="27.5" cy="251.9" r="1.65"/><circle cx="27.5" cy="247.9" r="1.65"/><circle cx="27.5" cy="247.3" r="1.65"/><circle cx="27.5" cy="258.4" r="1.65"/><circle cx="27.5" cy="249.3" r="1.65"/><circle cx="27.5" cy="250.8" r="1.65"/><circle cx="27.5" cy="252.5" r="1.65"/><circle cx="27.5" cy="263.8" r="1.65"/><circle cx="27.5" cy="258.9" r="1.65"/><circle cx="27.5" cy="256.0" r="1.65"/><circle cx="27.5" cy="246.7" r="1.65"/><circle cx="27.5" cy="238.7" r="1.65"/><circle cx="27.5" cy="261.5" r="1.65"/><circle cx="27.5" cy="261.7" r="1.65"/><circle cx="27.5" cy="250.9" r="1.65"/><circle cx="27.5" cy="257.5" r="1.65"/><circle cx="27.5" cy="259.9" r="1.65"/><circle cx="27.5" cy="260.4" r="1.65"/><circle cx="27.5" cy="261.3" r="1.65"/><circle cx="27.5" cy="247.8" r="1.65"/><circle cx="27.5" cy="267.1" r="1.65"/><circle cx="27.5" cy="240.0" r="1.65"/><circle cx="27.5" cy="260.7" r="1.65"/><circle cx="27.5" cy="257.1" r="1.65"/><circle cx="27.5" cy="260.8" r="1.65"/><circle cx="27.5" cy="270.6" r="1.65"/><circle cx="29.9" cy="250.5" r="1.65"/><circle cx="29.9" cy="237.1" r="1.65"/><circle cx="29.9" cy="244.4" r="1.65"/><circle cx="29.9" cy="250.6" r="1.65"/><circle cx="29.9" cy="232.4" r="1.65"/><circle cx="29.9" cy="229.0" r="1.65"/><circle cx="29.9" cy="246.4" r="1.65"/><circle cx="29.9" cy="244.8" r="1.65"/><circle cx="29.9" cy="242.7" r="1.65"/><circle cx="29.9" cy="244.8" r="1.65"/><circle cx="29.9" cy="238.2" r="1.65"/><circle cx="29.9" cy="233.4" r="1.65"/><circle cx="29.9" cy="243.3" r="1.65"/><circle cx="29.9" cy="237.4" r="1.65"/><circle cx="29.9" cy="232.5" r="1.65"/><circle cx="29.9" cy="248.2" r="1.65"/><circle cx="29.9" cy="244.0" r="1.65"/><circle cx="29.9" cy="247.5" r="1.65"/><circle cx="29.9" cy="237.2" r="1.65"/><circle cx="29.9" cy="239.7" r="1.65"/><circle cx="29.9" cy="237.2" r="1.65"/><circle cx="29.9" cy="238.0" r="1.65"/><circle cx="29.9" cy="245.9" r="1.65"/><circle cx="29.9" cy="238.8" r="1.65"/><circle cx="29.9" cy="247.1" r="1.65"/><circle cx="29.9" cy="247.0" r="1.65"/><circle cx="29.9" cy="259.3" r="1.65"/><circle cx="29.9" cy="234.3" r="1.65"/><circle cx="29.9" cy="251.0" r="1.65"/><circle cx="29.9" cy="243.8" r="1.65"/><circle cx="29.9" cy="244.4" r="1.65"/><circle cx="29.9" cy="233.9" r="1.65"/><circle cx="29.9" cy="241.1" r="1.65"/><circle cx="29.9" cy="249.9" r="1.65"/><circle cx="29.9" cy="243.9" r="1.65"/><circle cx="29.9" cy="245.1" r="1.65"/><circle cx="29.9" cy="242.4" r="1.65"/><circle cx="29.9" cy="252.9" r="1.65"/><circle cx="31.7" cy="220.1" r="1.65"/><circle cx="31.7" cy="217.4" r="1.65"/><circle cx="31.7" cy="231.8" r="1.65"/><circle cx="31.7" cy="246.9" r="1.65"/><circle cx="31.7" cy="236.5" r="1.65"/><circle cx="31.7" cy="226.6" r="1.65"/><circle cx="31.7" cy="228.4" r="1.65"/><circle cx="31.7" cy="245.3" r="1.65"/><circle cx="31.7" cy="237.4" r="1.65"/><circle cx="31.7" cy="236.5" r="1.65"/><circle cx="31.7" cy="235.6" r="1.65"/><circle cx="31.7" cy="236.4" r="1.65"/><circle cx="31.7" cy="242.6" r="1.65"/><circle cx="31.7" cy="240.6" r="1.65"/><circle cx="31.7" cy="237.8" r="1.65"/><circle cx="31.7" cy="227.6" r="1.65"/><circle cx="31.7" cy="240.2" r="1.65"/><circle cx="31.7" cy="230.5" r="1.65"/><circle cx="31.7" cy="245.0" r="1.65"/><circle cx="31.7" cy="225.8" r="1.65"/><circle cx="31.7" cy="235.0" r="1.65"/><circle cx="31.7" cy="236.0" r="1.65"/><circle cx="31.7" cy="225.3" r="1.65"/><circle cx="31.7" cy="250.1" r="1.65"/><circle cx="31.7" cy="247.9" r="1.65"/><circle cx="31.7" cy="232.3" r="1.65"/><circle cx="31.7" cy="242.3" r="1.65"/><circle cx="31.7" cy="239.1" r="1.65"/><circle cx="31.7" cy="217.4" r="1.65"/><circle cx="31.7" cy="238.1" r="1.65"/><circle cx="31.7" cy="235.6" r="1.65"/><circle cx="31.7" cy="236.7" r="1.65"/><circle cx="31.7" cy="227.3" r="1.65"/><circle cx="31.7" cy="233.9" r="1.65"/><circle cx="31.7" cy="234.6" r="1.65"/><circle cx="31.7" cy="245.7" r="1.65"/><circle cx="31.7" cy="238.8" r="1.65"/><circle cx="31.7" cy="236.0" r="1.65"/><circle cx="33.7" cy="218.9" r="1.65"/><circle cx="33.7" cy="247.8" r="1.65"/><circle cx="33.7" cy="242.6" r="1.65"/><circle cx="33.7" cy="242.2" r="1.65"/><circle cx="33.7" cy="240.1" r="1.65"/><circle cx="33.7" cy="235.3" r="1.65"/><circle cx="33.7" cy="236.2" r="1.65"/><circle cx="33.7" cy="232.2" r="1.65"/><circle cx="33.7" cy="232.7" r="1.65"/><circle cx="33.7" cy="234.9" r="1.65"/><circle cx="33.7" cy="247.3" r="1.65"/><circle cx="33.7" cy="239.1" r="1.65"/><circle cx="33.7" cy="233.9" r="1.65"/><circle cx="33.7" cy="229.4" r="1.65"/><circle cx="33.7" cy="229.0" r="1.65"/><circle cx="33.7" cy="248.1" r="1.65"/><circle cx="33.7" cy="238.7" r="1.65"/><circle cx="33.7" cy="235.0" r="1.65"/><circle cx="33.7" cy="231.4" r="1.65"/><circle cx="33.7" cy="224.9" r="1.65"/><circle cx="33.7" cy="233.8" r="1.65"/><circle cx="33.7" cy="241.8" r="1.65"/><circle cx="33.7" cy="231.0" r="1.65"/><circle cx="33.7" cy="232.4" r="1.65"/><circle cx="33.7" cy="232.5" r="1.65"/><circle cx="33.7" cy="235.3" r="1.65"/><circle cx="33.7" cy="220.8" r="1.65"/><circle cx="33.7" cy="232.4" r="1.65"/><circle cx="33.7" cy="227.1" r="1.65"/><circle cx="33.7" cy="241.9" r="1.65"/><circle cx="33.7" cy="227.8" r="1.65"/><circle cx="33.7" cy="239.3" r="1.65"/><circle cx="33.7" cy="247.4" r="1.65"/><circle cx="33.7" cy="231.7" r="1.65"/><circle cx="33.7" cy="229.3" r="1.65"/><circle cx="33.7" cy="236.0" r="1.65"/><circle cx="33.7" cy="234.4" r="1.65"/><circle cx="33.7" cy="225.9" r="1.65"/><circle cx="36.5" cy="230.4" r="1.65"/><circle cx="36.5" cy="222.8" r="1.65"/><circle cx="36.5" cy="235.1" r="1.65"/><circle cx="36.5" cy="221.0" r="1.65"/><circle cx="36.5" cy="222.2" r="1.65"/><circle cx="36.5" cy="243.8" r="1.65"/><circle cx="36.5" cy="224.0" r="1.65"/><circle cx="36.5" cy="242.0" r="1.65"/><circle cx="36.5" cy="246.0" r="1.65"/><circle cx="36.5" cy="234.6" r="1.65"/><circle cx="36.5" cy="237.2" r="1.65"/><circle cx="36.5" cy="249.9" r="1.65"/><circle cx="36.5" cy="230.4" r="1.65"/><circle cx="36.5" cy="226.9" r="1.65"/><circle cx="36.5" cy="220.0" r="1.65"/><circle cx="36.5" cy="232.6" r="1.65"/><circle cx="36.5" cy="245.6" r="1.65"/><circle cx="36.5" cy="240.9" r="1.65"/><circle cx="36.5" cy="223.7" r="1.65"/><circle cx="36.5" cy="224.5" r="1.65"/><circle cx="36.5" cy="227.7" r="1.65"/><circle cx="36.5" cy="234.9" r="1.65"/><circle cx="36.5" cy="230.4" r="1.65"/><circle cx="36.5" cy="234.2" r="1.65"/><circle cx="36.5" cy="234.9" r="1.65"/><circle cx="36.5" cy="229.5" r="1.65"/><circle cx="36.5" cy="231.9" r="1.65"/><circle cx="36.5" cy="234.1" r="1.65"/><circle cx="36.5" cy="231.5" r="1.65"/><circle cx="36.5" cy="236.8" r="1.65"/><circle cx="36.5" cy="249.1" r="1.65"/><circle cx="36.5" cy="237.6" r="1.65"/><circle cx="36.5" cy="232.7" r="1.65"/><circle cx="36.5" cy="217.0" r="1.65"/><circle cx="36.5" cy="235.7" r="1.65"/><circle cx="36.5" cy="214.6" r="1.65"/><circle cx="36.5" cy="219.5" r="1.65"/><circle cx="36.5" cy="239.9" r="1.65"/><circle cx="38.2" cy="216.6" r="1.65"/><circle cx="38.2" cy="214.1" r="1.65"/><circle cx="38.2" cy="224.6" r="1.65"/><circle cx="38.2" cy="237.5" r="1.65"/><circle cx="38.2" cy="221.3" r="1.65"/><circle cx="38.2" cy="213.3" r="1.65"/><circle cx="38.2" cy="210.2" r="1.65"/><circle cx="38.2" cy="219.1" r="1.65"/><circle cx="38.2" cy="218.1" r="1.65"/><circle cx="38.2" cy="210.4" r="1.65"/><circle cx="38.2" cy="220.5" r="1.65"/><circle cx="38.2" cy="210.4" r="1.65"/><circle cx="38.2" cy="228.4" r="1.65"/><circle cx="38.2" cy="228.0" r="1.65"/><circle cx="38.2" cy="228.2" r="1.65"/><circle cx="38.2" cy="215.8" r="1.65"/><circle cx="38.2" cy="223.6" r="1.65"/><circle cx="38.2" cy="218.5" r="1.65"/><circle cx="38.2" cy="216.4" r="1.65"/><circle cx="38.2" cy="216.8" r="1.65"/><circle cx="38.2" cy="209.2" r="1.65"/><circle cx="38.2" cy="208.1" r="1.65"/><circle cx="38.2" cy="225.9" r="1.65"/><circle cx="38.2" cy="218.0" r="1.65"/><circle cx="38.2" cy="221.3" r="1.65"/><circle cx="38.2" cy="227.5" r="1.65"/><circle cx="38.2" cy="205.8" r="1.65"/><circle cx="38.2" cy="213.3" r="1.65"/><circle cx="38.2" cy="220.9" r="1.65"/><circle cx="38.2" cy="222.7" r="1.65"/><circle cx="38.2" cy="216.5" r="1.65"/><circle cx="38.2" cy="227.7" r="1.65"/><circle cx="38.2" cy="221.2" r="1.65"/><circle cx="38.2" cy="209.9" r="1.65"/><circle cx="38.2" cy="212.1" r="1.65"/><circle cx="38.2" cy="225.9" r="1.65"/><circle cx="38.2" cy="223.2" r="1.65"/><circle cx="38.2" cy="204.4" r="1.65"/><circle cx="40.5" cy="209.6" r="1.65"/><circle cx="40.5" cy="210.2" r="1.65"/><circle cx="40.5" cy="204.6" r="1.65"/><circle cx="40.5" cy="227.9" r="1.65"/><circle cx="40.5" cy="211.0" r="1.65"/><circle cx="40.5" cy="223.0" r="1.65"/><circle cx="40.5" cy="207.8" r="1.65"/><circle cx="40.5" cy="213.3" r="1.65"/><circle cx="40.5" cy="200.9" r="1.65"/><circle cx="40.5" cy="209.6" r="1.65"/><circle cx="40.5" cy="218.9" r="1.65"/><circle cx="40.5" cy="203.7" r="1.65"/><circle cx="40.5" cy="219.5" r="1.65"/><circle cx="40.5" cy="214.5" r="1.65"/><circle cx="40.5" cy="205.1" r="1.65"/><circle cx="40.5" cy="208.8" r="1.65"/><circle cx="40.5" cy="209.1" r="1.65"/><circle cx="40.5" cy="211.9" r="1.65"/><circle cx="40.5" cy="208.6" r="1.65"/><circle cx="40.5" cy="206.6" r="1.65"/><circle cx="40.5" cy="210.2" r="1.65"/><circle cx="40.5" cy="205.2" r="1.65"/><circle cx="40.5" cy="203.4" r="1.65"/><circle cx="40.5" cy="211.9" r="1.65"/><circle cx="40.5" cy="218.2" r="1.65"/><circle cx="40.5" cy="201.8" r="1.65"/><circle cx="40.5" cy="212.2" r="1.65"/><circle cx="40.5" cy="207.8" r="1.65"/><circle cx="40.5" cy="205.6" r="1.65"/><circle cx="40.5" cy="218.0" r="1.65"/><circle cx="40.5" cy="208.7" r="1.65"/><circle cx="40.5" cy="222.4" r="1.65"/><circle cx="40.5" cy="206.9" r="1.65"/><circle cx="40.5" cy="214.9" r="1.65"/><circle cx="40.5" cy="210.7" r="1.65"/><circle cx="40.5" cy="207.1" r="1.65"/><circle cx="40.5" cy="216.2" r="1.65"/><circle cx="40.5" cy="211.2" r="1.65"/><circle cx="43.0" cy="199.0" r="1.65"/><circle cx="43.0" cy="200.2" r="1.65"/><circle cx="43.0" cy="207.3" r="1.65"/><circle cx="43.0" cy="192.7" r="1.65"/><circle cx="43.0" cy="199.5" r="1.65"/><circle cx="43.0" cy="186.3" r="1.65"/><circle cx="43.0" cy="204.9" r="1.65"/><circle cx="43.0" cy="191.3" r="1.65"/><circle cx="43.0" cy="185.6" r="1.65"/><circle cx="43.0" cy="199.3" r="1.65"/><circle cx="43.0" cy="208.4" r="1.65"/><circle cx="43.0" cy="187.8" r="1.65"/><circle cx="43.0" cy="191.3" r="1.65"/><circle cx="43.0" cy="194.0" r="1.65"/><circle cx="43.0" cy="190.9" r="1.65"/><circle cx="43.0" cy="202.7" r="1.65"/><circle cx="43.0" cy="193.5" r="1.65"/><circle cx="43.0" cy="194.1" r="1.65"/><circle cx="43.0" cy="204.3" r="1.65"/><circle cx="43.0" cy="193.9" r="1.65"/><circle cx="43.0" cy="203.2" r="1.65"/><circle cx="43.0" cy="192.2" r="1.65"/><circle cx="43.0" cy="190.3" r="1.65"/><circle cx="43.0" cy="185.4" r="1.65"/><circle cx="43.0" cy="214.3" r="1.65"/><circle cx="43.0" cy="197.3" r="1.65"/><circle cx="43.0" cy="201.7" r="1.65"/><circle cx="43.0" cy="199.5" r="1.65"/><circle cx="43.0" cy="201.0" r="1.65"/><circle cx="43.0" cy="200.2" r="1.65"/><circle cx="43.0" cy="214.7" r="1.65"/><circle cx="43.0" cy="191.6" r="1.65"/><circle cx="43.0" cy="187.6" r="1.65"/><circle cx="43.0" cy="191.9" r="1.65"/><circle cx="43.0" cy="189.3" r="1.65"/><circle cx="43.0" cy="205.6" r="1.65"/><circle cx="43.0" cy="206.2" r="1.65"/><circle cx="43.0" cy="192.2" r="1.65"/><circle cx="45.0" cy="173.6" r="1.65"/><circle cx="45.0" cy="195.6" r="1.65"/><circle cx="45.0" cy="183.1" r="1.65"/><circle cx="45.0" cy="199.6" r="1.65"/><circle cx="45.0" cy="183.1" r="1.65"/><circle cx="45.0" cy="189.3" r="1.65"/><circle cx="45.0" cy="179.8" r="1.65"/><circle cx="45.0" cy="183.9" r="1.65"/><circle cx="45.0" cy="202.3" r="1.65"/><circle cx="45.0" cy="197.9" r="1.65"/><circle cx="45.0" cy="188.4" r="1.65"/><circle cx="45.0" cy="184.7" r="1.65"/><circle cx="45.0" cy="176.8" r="1.65"/><circle cx="45.0" cy="188.5" r="1.65"/><circle cx="45.0" cy="191.3" r="1.65"/><circle cx="45.0" cy="190.9" r="1.65"/><circle cx="45.0" cy="190.8" r="1.65"/><circle cx="45.0" cy="182.8" r="1.65"/><circle cx="45.0" cy="191.0" r="1.65"/><circle cx="45.0" cy="191.2" r="1.65"/><circle cx="45.0" cy="201.6" r="1.65"/><circle cx="45.0" cy="206.1" r="1.65"/><circle cx="45.0" cy="190.5" r="1.65"/><circle cx="45.0" cy="185.5" r="1.65"/><circle cx="45.0" cy="191.0" r="1.65"/><circle cx="45.0" cy="186.8" r="1.65"/><circle cx="45.0" cy="185.7" r="1.65"/><circle cx="45.0" cy="191.1" r="1.65"/><circle cx="45.0" cy="183.4" r="1.65"/><circle cx="45.0" cy="196.2" r="1.65"/><circle cx="45.0" cy="190.7" r="1.65"/><circle cx="45.0" cy="193.5" r="1.65"/><circle cx="45.0" cy="190.1" r="1.65"/><circle cx="45.0" cy="185.9" r="1.65"/><circle cx="45.0" cy="184.1" r="1.65"/><circle cx="45.0" cy="189.7" r="1.65"/><circle cx="45.0" cy="187.2" r="1.65"/><circle cx="45.0" cy="193.3" r="1.65"/><circle cx="47.4" cy="175.6" r="1.65"/><circle cx="47.4" cy="180.7" r="1.65"/><circle cx="47.4" cy="183.0" r="1.65"/><circle cx="47.4" cy="170.5" r="1.65"/><circle cx="47.4" cy="185.7" r="1.65"/><circle cx="47.4" cy="186.1" r="1.65"/><circle cx="47.4" cy="183.9" r="1.65"/><circle cx="47.4" cy="182.1" r="1.65"/><circle cx="47.4" cy="182.4" r="1.65"/><circle cx="47.4" cy="178.2" r="1.65"/><circle cx="47.4" cy="183.1" r="1.65"/><circle cx="47.4" cy="181.2" r="1.65"/><circle cx="47.4" cy="185.7" r="1.65"/><circle cx="47.4" cy="176.6" r="1.65"/><circle cx="47.4" cy="186.7" r="1.65"/><circle cx="47.4" cy="186.0" r="1.65"/><circle cx="47.4" cy="184.0" r="1.65"/><circle cx="47.4" cy="182.0" r="1.65"/><circle cx="47.4" cy="188.9" r="1.65"/><circle cx="47.4" cy="173.4" r="1.65"/><circle cx="47.4" cy="188.2" r="1.65"/><circle cx="47.4" cy="186.7" r="1.65"/><circle cx="47.4" cy="187.0" r="1.65"/><circle cx="47.4" cy="187.7" r="1.65"/><circle cx="47.4" cy="180.5" r="1.65"/><circle cx="47.4" cy="183.2" r="1.65"/><circle cx="47.4" cy="189.5" r="1.65"/><circle cx="47.4" cy="188.0" r="1.65"/><circle cx="47.4" cy="186.5" r="1.65"/><circle cx="47.4" cy="174.4" r="1.65"/><circle cx="47.4" cy="188.8" r="1.65"/><circle cx="47.4" cy="193.2" r="1.65"/><circle cx="47.4" cy="192.1" r="1.65"/><circle cx="47.4" cy="186.7" r="1.65"/><circle cx="47.4" cy="174.1" r="1.65"/><circle cx="47.4" cy="191.6" r="1.65"/><circle cx="47.4" cy="184.0" r="1.65"/><circle cx="47.4" cy="168.9" r="1.65"/><circle cx="49.7" cy="182.9" r="1.65"/><circle cx="49.7" cy="199.0" r="1.65"/><circle cx="49.7" cy="185.2" r="1.65"/><circle cx="49.7" cy="190.5" r="1.65"/><circle cx="49.7" cy="203.0" r="1.65"/><circle cx="49.7" cy="201.7" r="1.65"/><circle cx="49.7" cy="187.4" r="1.65"/><circle cx="49.7" cy="186.2" r="1.65"/><circle cx="49.7" cy="177.7" r="1.65"/><circle cx="49.7" cy="182.4" r="1.65"/><circle cx="49.7" cy="191.8" r="1.65"/><circle cx="49.7" cy="191.6" r="1.65"/><circle cx="49.7" cy="189.2" r="1.65"/><circle cx="49.7" cy="196.6" r="1.65"/><circle cx="49.7" cy="181.8" r="1.65"/><circle cx="49.7" cy="187.8" r="1.65"/><circle cx="49.7" cy="194.4" r="1.65"/><circle cx="49.7" cy="193.2" r="1.65"/><circle cx="49.7" cy="197.3" r="1.65"/><circle cx="49.7" cy="191.6" r="1.65"/><circle cx="49.7" cy="185.7" r="1.65"/><circle cx="49.7" cy="191.3" r="1.65"/><circle cx="49.7" cy="179.8" r="1.65"/><circle cx="49.7" cy="174.5" r="1.65"/><circle cx="49.7" cy="193.2" r="1.65"/><circle cx="49.7" cy="187.8" r="1.65"/><circle cx="49.7" cy="190.9" r="1.65"/><circle cx="49.7" cy="174.0" r="1.65"/><circle cx="49.7" cy="185.2" r="1.65"/><circle cx="49.7" cy="183.2" r="1.65"/><circle cx="49.7" cy="181.0" r="1.65"/><circle cx="49.7" cy="169.3" r="1.65"/><circle cx="49.7" cy="185.5" r="1.65"/><circle cx="49.7" cy="195.8" r="1.65"/><circle cx="49.7" cy="191.5" r="1.65"/><circle cx="49.7" cy="183.2" r="1.65"/><circle cx="49.7" cy="188.1" r="1.65"/><circle cx="49.7" cy="194.6" r="1.65"/><circle cx="51.3" cy="200.3" r="1.65"/><circle cx="51.3" cy="206.6" r="1.65"/><circle cx="51.3" cy="203.1" r="1.65"/><circle cx="51.3" cy="198.1" r="1.65"/><circle cx="51.3" cy="198.0" r="1.65"/><circle cx="51.3" cy="201.0" r="1.65"/><circle cx="51.3" cy="192.9" r="1.65"/><circle cx="51.3" cy="195.9" r="1.65"/><circle cx="51.3" cy="201.7" r="1.65"/><circle cx="51.3" cy="208.1" r="1.65"/><circle cx="51.3" cy="195.2" r="1.65"/><circle cx="51.3" cy="195.9" r="1.65"/><circle cx="51.3" cy="197.4" r="1.65"/><circle cx="51.3" cy="204.4" r="1.65"/><circle cx="51.3" cy="196.0" r="1.65"/><circle cx="51.3" cy="205.1" r="1.65"/><circle cx="51.3" cy="190.3" r="1.65"/><circle cx="51.3" cy="195.0" r="1.65"/><circle cx="51.3" cy="195.0" r="1.65"/><circle cx="51.3" cy="201.0" r="1.65"/><circle cx="51.3" cy="202.5" r="1.65"/><circle cx="51.3" cy="186.9" r="1.65"/><circle cx="51.3" cy="190.6" r="1.65"/><circle cx="51.3" cy="198.2" r="1.65"/><circle cx="51.3" cy="192.1" r="1.65"/><circle cx="51.3" cy="186.9" r="1.65"/><circle cx="51.3" cy="202.5" r="1.65"/><circle cx="51.3" cy="199.2" r="1.65"/><circle cx="51.3" cy="199.2" r="1.65"/><circle cx="51.3" cy="193.3" r="1.65"/><circle cx="51.3" cy="202.5" r="1.65"/><circle cx="51.3" cy="194.7" r="1.65"/><circle cx="51.3" cy="202.9" r="1.65"/><circle cx="51.3" cy="190.6" r="1.65"/><circle cx="51.3" cy="190.9" r="1.65"/><circle cx="51.3" cy="197.4" r="1.65"/><circle cx="51.3" cy="191.9" r="1.65"/><circle cx="51.3" cy="200.3" r="1.65"/><circle cx="53.6" cy="196.2" r="1.65"/><circle cx="53.6" cy="206.3" r="1.65"/><circle cx="53.6" cy="193.9" r="1.65"/><circle cx="53.6" cy="195.5" r="1.65"/><circle cx="53.6" cy="208.6" r="1.65"/><circle cx="53.6" cy="216.9" r="1.65"/><circle cx="53.6" cy="214.9" r="1.65"/><circle cx="53.6" cy="199.5" r="1.65"/><circle cx="53.6" cy="200.7" r="1.65"/><circle cx="53.6" cy="211.2" r="1.65"/><circle cx="53.6" cy="198.0" r="1.65"/><circle cx="53.6" cy="191.2" r="1.65"/><circle cx="53.6" cy="199.9" r="1.65"/><circle cx="53.6" cy="202.6" r="1.65"/><circle cx="53.6" cy="192.3" r="1.65"/><circle cx="53.6" cy="185.8" r="1.65"/><circle cx="53.6" cy="187.5" r="1.65"/><circle cx="53.6" cy="204.3" r="1.65"/><circle cx="53.6" cy="192.9" r="1.65"/><circle cx="53.6" cy="197.8" r="1.65"/><circle cx="53.6" cy="200.7" r="1.65"/><circle cx="53.6" cy="203.9" r="1.65"/><circle cx="53.6" cy="196.3" r="1.65"/><circle cx="53.6" cy="203.0" r="1.65"/><circle cx="53.6" cy="191.9" r="1.65"/><circle cx="53.6" cy="196.1" r="1.65"/><circle cx="53.6" cy="190.8" r="1.65"/><circle cx="53.6" cy="208.0" r="1.65"/><circle cx="53.6" cy="198.8" r="1.65"/><circle cx="53.6" cy="193.1" r="1.65"/><circle cx="53.6" cy="196.2" r="1.65"/><circle cx="53.6" cy="197.2" r="1.65"/><circle cx="53.6" cy="204.6" r="1.65"/><circle cx="53.6" cy="186.2" r="1.65"/><circle cx="53.6" cy="190.7" r="1.65"/><circle cx="53.6" cy="195.9" r="1.65"/><circle cx="53.6" cy="217.3" r="1.65"/><circle cx="53.6" cy="206.6" r="1.65"/><circle cx="55.7" cy="206.6" r="1.65"/><circle cx="55.7" cy="205.4" r="1.65"/><circle cx="55.7" cy="219.5" r="1.65"/><circle cx="55.7" cy="213.1" r="1.65"/><circle cx="55.7" cy="214.6" r="1.65"/><circle cx="55.7" cy="204.2" r="1.65"/><circle cx="55.7" cy="225.8" r="1.65"/><circle cx="55.7" cy="223.9" r="1.65"/><circle cx="55.7" cy="213.7" r="1.65"/><circle cx="55.7" cy="214.8" r="1.65"/><circle cx="55.7" cy="190.6" r="1.65"/><circle cx="55.7" cy="214.3" r="1.65"/><circle cx="55.7" cy="206.9" r="1.65"/><circle cx="55.7" cy="212.5" r="1.65"/><circle cx="55.7" cy="214.7" r="1.65"/><circle cx="55.7" cy="205.6" r="1.65"/><circle cx="55.7" cy="193.6" r="1.65"/><circle cx="55.7" cy="211.9" r="1.65"/><circle cx="55.7" cy="202.1" r="1.65"/><circle cx="55.7" cy="205.7" r="1.65"/><circle cx="55.7" cy="203.3" r="1.65"/><circle cx="55.7" cy="205.6" r="1.65"/><circle cx="55.7" cy="188.2" r="1.65"/><circle cx="55.7" cy="219.5" r="1.65"/><circle cx="55.7" cy="210.9" r="1.65"/><circle cx="55.7" cy="218.6" r="1.65"/><circle cx="55.7" cy="226.3" r="1.65"/><circle cx="55.7" cy="208.9" r="1.65"/><circle cx="55.7" cy="192.6" r="1.65"/><circle cx="55.7" cy="200.7" r="1.65"/><circle cx="55.7" cy="197.9" r="1.65"/><circle cx="55.7" cy="204.2" r="1.65"/><circle cx="55.7" cy="209.4" r="1.65"/><circle cx="55.7" cy="190.9" r="1.65"/><circle cx="55.7" cy="211.7" r="1.65"/><circle cx="55.7" cy="195.2" r="1.65"/><circle cx="55.7" cy="211.3" r="1.65"/><circle cx="55.7" cy="207.7" r="1.65"/><circle cx="57.9" cy="206.0" r="1.65"/><circle cx="57.9" cy="198.4" r="1.65"/><circle cx="57.9" cy="210.1" r="1.65"/><circle cx="57.9" cy="223.4" r="1.65"/><circle cx="57.9" cy="224.4" r="1.65"/><circle cx="57.9" cy="219.7" r="1.65"/><circle cx="57.9" cy="215.3" r="1.65"/><circle cx="57.9" cy="205.5" r="1.65"/><circle cx="57.9" cy="220.6" r="1.65"/><circle cx="57.9" cy="209.9" r="1.65"/><circle cx="57.9" cy="209.8" r="1.65"/><circle cx="57.9" cy="208.2" r="1.65"/><circle cx="57.9" cy="211.0" r="1.65"/><circle cx="57.9" cy="207.2" r="1.65"/><circle cx="57.9" cy="209.7" r="1.65"/><circle cx="57.9" cy="202.6" r="1.65"/><circle cx="57.9" cy="207.7" r="1.65"/><circle cx="57.9" cy="226.5" r="1.65"/><circle cx="57.9" cy="209.8" r="1.65"/><circle cx="57.9" cy="208.6" r="1.65"/><circle cx="57.9" cy="214.1" r="1.65"/><circle cx="57.9" cy="215.3" r="1.65"/><circle cx="57.9" cy="202.4" r="1.65"/><circle cx="57.9" cy="208.8" r="1.65"/><circle cx="57.9" cy="216.8" r="1.65"/><circle cx="57.9" cy="212.2" r="1.65"/><circle cx="57.9" cy="211.2" r="1.65"/><circle cx="57.9" cy="221.3" r="1.65"/><circle cx="57.9" cy="205.5" r="1.65"/><circle cx="57.9" cy="210.9" r="1.65"/><circle cx="57.9" cy="206.6" r="1.65"/><circle cx="57.9" cy="220.9" r="1.65"/><circle cx="57.9" cy="196.4" r="1.65"/><circle cx="57.9" cy="205.5" r="1.65"/><circle cx="57.9" cy="206.5" r="1.65"/><circle cx="57.9" cy="215.0" r="1.65"/><circle cx="57.9" cy="214.6" r="1.65"/><circle cx="57.9" cy="220.2" r="1.65"/><circle cx="60.1" cy="210.7" r="1.65"/><circle cx="60.1" cy="220.1" r="1.65"/><circle cx="60.1" cy="208.7" r="1.65"/><circle cx="60.1" cy="199.7" r="1.65"/><circle cx="60.1" cy="213.0" r="1.65"/><circle cx="60.1" cy="204.2" r="1.65"/><circle cx="60.1" cy="210.8" r="1.65"/><circle cx="60.1" cy="218.8" r="1.65"/><circle cx="60.1" cy="218.3" r="1.65"/><circle cx="60.1" cy="228.3" r="1.65"/><circle cx="60.1" cy="214.3" r="1.65"/><circle cx="60.1" cy="203.9" r="1.65"/><circle cx="60.1" cy="210.0" r="1.65"/><circle cx="60.1" cy="208.7" r="1.65"/><circle cx="60.1" cy="206.4" r="1.65"/><circle cx="60.1" cy="219.3" r="1.65"/><circle cx="60.1" cy="210.9" r="1.65"/><circle cx="60.1" cy="200.5" r="1.65"/><circle cx="60.1" cy="221.3" r="1.65"/><circle cx="60.1" cy="215.0" r="1.65"/><circle cx="60.1" cy="218.7" r="1.65"/><circle cx="60.1" cy="216.7" r="1.65"/><circle cx="60.1" cy="220.8" r="1.65"/><circle cx="60.1" cy="216.2" r="1.65"/><circle cx="60.1" cy="225.5" r="1.65"/><circle cx="60.1" cy="219.2" r="1.65"/><circle cx="60.1" cy="218.9" r="1.65"/><circle cx="60.1" cy="219.1" r="1.65"/><circle cx="60.1" cy="204.5" r="1.65"/><circle cx="60.1" cy="214.6" r="1.65"/><circle cx="60.1" cy="213.9" r="1.65"/><circle cx="60.1" cy="217.5" r="1.65"/><circle cx="60.1" cy="205.3" r="1.65"/><circle cx="60.1" cy="228.6" r="1.65"/><circle cx="60.1" cy="216.7" r="1.65"/><circle cx="60.1" cy="206.4" r="1.65"/><circle cx="60.1" cy="202.6" r="1.65"/><circle cx="60.1" cy="213.7" r="1.65"/><circle cx="62.8" cy="206.1" r="1.65"/><circle cx="62.8" cy="216.3" r="1.65"/><circle cx="62.8" cy="205.4" r="1.65"/><circle cx="62.8" cy="211.3" r="1.65"/><circle cx="62.8" cy="219.9" r="1.65"/><circle cx="62.8" cy="231.1" r="1.65"/><circle cx="62.8" cy="203.0" r="1.65"/><circle cx="62.8" cy="207.6" r="1.65"/><circle cx="62.8" cy="204.4" r="1.65"/><circle cx="62.8" cy="218.3" r="1.65"/><circle cx="62.8" cy="201.8" r="1.65"/><circle cx="62.8" cy="207.5" r="1.65"/><circle cx="62.8" cy="211.3" r="1.65"/><circle cx="62.8" cy="203.3" r="1.65"/><circle cx="62.8" cy="203.4" r="1.65"/><circle cx="62.8" cy="207.5" r="1.65"/><circle cx="62.8" cy="193.7" r="1.65"/><circle cx="62.8" cy="199.3" r="1.65"/><circle cx="62.8" cy="208.1" r="1.65"/><circle cx="62.8" cy="212.8" r="1.65"/><circle cx="62.8" cy="210.0" r="1.65"/><circle cx="62.8" cy="196.5" r="1.65"/><circle cx="62.8" cy="207.6" r="1.65"/><circle cx="62.8" cy="218.4" r="1.65"/><circle cx="62.8" cy="216.3" r="1.65"/><circle cx="62.8" cy="210.9" r="1.65"/><circle cx="62.8" cy="204.0" r="1.65"/><circle cx="62.8" cy="216.9" r="1.65"/><circle cx="62.8" cy="206.7" r="1.65"/><circle cx="62.8" cy="201.6" r="1.65"/><circle cx="62.8" cy="204.8" r="1.65"/><circle cx="62.8" cy="223.9" r="1.65"/><circle cx="62.8" cy="213.5" r="1.65"/><circle cx="62.8" cy="221.4" r="1.65"/><circle cx="62.8" cy="207.5" r="1.65"/><circle cx="62.8" cy="219.6" r="1.65"/><circle cx="62.8" cy="206.5" r="1.65"/><circle cx="62.8" cy="210.2" r="1.65"/><circle cx="64.6" cy="212.3" r="1.65"/><circle cx="64.6" cy="216.2" r="1.65"/><circle cx="64.6" cy="224.7" r="1.65"/><circle cx="64.6" cy="208.5" r="1.65"/><circle cx="64.6" cy="196.5" r="1.65"/><circle cx="64.6" cy="210.5" r="1.65"/><circle cx="64.6" cy="213.3" r="1.65"/><circle cx="64.6" cy="214.2" r="1.65"/><circle cx="64.6" cy="225.7" r="1.65"/><circle cx="64.6" cy="216.1" r="1.65"/><circle cx="64.6" cy="220.9" r="1.65"/><circle cx="64.6" cy="202.6" r="1.65"/><circle cx="64.6" cy="221.4" r="1.65"/><circle cx="64.6" cy="233.1" r="1.65"/><circle cx="64.6" cy="220.5" r="1.65"/><circle cx="64.6" cy="215.5" r="1.65"/><circle cx="64.6" cy="214.6" r="1.65"/><circle cx="64.6" cy="230.2" r="1.65"/><circle cx="64.6" cy="204.3" r="1.65"/><circle cx="64.6" cy="212.1" r="1.65"/><circle cx="64.6" cy="217.5" r="1.65"/><circle cx="64.6" cy="220.2" r="1.65"/><circle cx="64.6" cy="209.0" r="1.65"/><circle cx="64.6" cy="216.1" r="1.65"/><circle cx="64.6" cy="210.5" r="1.65"/><circle cx="64.6" cy="214.3" r="1.65"/><circle cx="64.6" cy="211.9" r="1.65"/><circle cx="64.6" cy="202.2" r="1.65"/><circle cx="64.6" cy="212.9" r="1.65"/><circle cx="64.6" cy="221.5" r="1.65"/><circle cx="64.6" cy="203.9" r="1.65"/><circle cx="64.6" cy="210.8" r="1.65"/><circle cx="64.6" cy="219.5" r="1.65"/><circle cx="64.6" cy="202.9" r="1.65"/><circle cx="64.6" cy="214.9" r="1.65"/><circle cx="64.6" cy="203.0" r="1.65"/><circle cx="64.6" cy="224.0" r="1.65"/><circle cx="64.6" cy="235.1" r="1.65"/><circle cx="67.3" cy="204.8" r="1.65"/><circle cx="67.3" cy="204.6" r="1.65"/><circle cx="67.3" cy="215.0" r="1.65"/><circle cx="67.3" cy="194.4" r="1.65"/><circle cx="67.3" cy="211.5" r="1.65"/><circle cx="67.3" cy="203.5" r="1.65"/><circle cx="67.3" cy="214.0" r="1.65"/><circle cx="67.3" cy="205.2" r="1.65"/><circle cx="67.3" cy="199.0" r="1.65"/><circle cx="67.3" cy="205.9" r="1.65"/><circle cx="67.3" cy="209.2" r="1.65"/><circle cx="67.3" cy="204.1" r="1.65"/><circle cx="67.3" cy="207.4" r="1.65"/><circle cx="67.3" cy="200.1" r="1.65"/><circle cx="67.3" cy="188.5" r="1.65"/><circle cx="67.3" cy="210.4" r="1.65"/><circle cx="67.3" cy="208.9" r="1.65"/><circle cx="67.3" cy="204.9" r="1.65"/><circle cx="67.3" cy="204.4" r="1.65"/><circle cx="67.3" cy="211.4" r="1.65"/><circle cx="67.3" cy="200.6" r="1.65"/><circle cx="67.3" cy="198.8" r="1.65"/><circle cx="67.3" cy="202.5" r="1.65"/><circle cx="67.3" cy="212.5" r="1.65"/><circle cx="67.3" cy="193.9" r="1.65"/><circle cx="67.3" cy="212.5" r="1.65"/><circle cx="67.3" cy="199.3" r="1.65"/><circle cx="67.3" cy="195.9" r="1.65"/><circle cx="67.3" cy="213.0" r="1.65"/><circle cx="67.3" cy="203.2" r="1.65"/><circle cx="67.3" cy="194.5" r="1.65"/><circle cx="67.3" cy="201.3" r="1.65"/><circle cx="67.3" cy="210.6" r="1.65"/><circle cx="67.3" cy="212.5" r="1.65"/><circle cx="67.3" cy="200.8" r="1.65"/><circle cx="67.3" cy="206.8" r="1.65"/><circle cx="67.3" cy="209.0" r="1.65"/><circle cx="67.3" cy="199.2" r="1.65"/><circle cx="68.8" cy="196.0" r="1.65"/><circle cx="68.8" cy="199.4" r="1.65"/><circle cx="68.8" cy="199.1" r="1.65"/><circle cx="68.8" cy="195.5" r="1.65"/><circle cx="68.8" cy="196.4" r="1.65"/><circle cx="68.8" cy="205.7" r="1.65"/><circle cx="68.8" cy="200.2" r="1.65"/><circle cx="68.8" cy="204.3" r="1.65"/><circle cx="68.8" cy="206.2" r="1.65"/><circle cx="68.8" cy="202.5" r="1.65"/><circle cx="68.8" cy="212.7" r="1.65"/><circle cx="68.8" cy="194.0" r="1.65"/><circle cx="68.8" cy="203.8" r="1.65"/><circle cx="68.8" cy="197.0" r="1.65"/><circle cx="68.8" cy="210.2" r="1.65"/><circle cx="68.8" cy="209.2" r="1.65"/><circle cx="68.8" cy="187.1" r="1.65"/><circle cx="68.8" cy="193.1" r="1.65"/><circle cx="68.8" cy="203.0" r="1.65"/><circle cx="68.8" cy="203.7" r="1.65"/><circle cx="68.8" cy="203.4" r="1.65"/><circle cx="68.8" cy="198.5" r="1.65"/><circle cx="68.8" cy="201.7" r="1.65"/><circle cx="68.8" cy="202.9" r="1.65"/><circle cx="68.8" cy="198.5" r="1.65"/><circle cx="68.8" cy="205.2" r="1.65"/><circle cx="68.8" cy="185.3" r="1.65"/><circle cx="68.8" cy="202.8" r="1.65"/><circle cx="68.8" cy="192.7" r="1.65"/><circle cx="68.8" cy="204.7" r="1.65"/><circle cx="68.8" cy="197.6" r="1.65"/><circle cx="68.8" cy="193.6" r="1.65"/><circle cx="68.8" cy="201.2" r="1.65"/><circle cx="68.8" cy="193.4" r="1.65"/><circle cx="68.8" cy="193.4" r="1.65"/><circle cx="68.8" cy="189.5" r="1.65"/><circle cx="68.8" cy="198.8" r="1.65"/><circle cx="68.8" cy="202.0" r="1.65"/><circle cx="71.2" cy="190.5" r="1.65"/><circle cx="71.2" cy="189.7" r="1.65"/><circle cx="71.2" cy="194.5" r="1.65"/><circle cx="71.2" cy="197.9" r="1.65"/><circle cx="71.2" cy="187.9" r="1.65"/><circle cx="71.2" cy="188.6" r="1.65"/><circle cx="71.2" cy="189.2" r="1.65"/><circle cx="71.2" cy="191.0" r="1.65"/><circle cx="71.2" cy="184.0" r="1.65"/><circle cx="71.2" cy="197.7" r="1.65"/><circle cx="71.2" cy="187.5" r="1.65"/><circle cx="71.2" cy="193.7" r="1.65"/><circle cx="71.2" cy="184.5" r="1.65"/><circle cx="71.2" cy="192.9" r="1.65"/><circle cx="71.2" cy="193.2" r="1.65"/><circle cx="71.2" cy="187.4" r="1.65"/><circle cx="71.2" cy="204.8" r="1.65"/><circle cx="71.2" cy="193.0" r="1.65"/><circle cx="71.2" cy="203.0" r="1.65"/><circle cx="71.2" cy="197.2" r="1.65"/><circle cx="71.2" cy="185.6" r="1.65"/><circle cx="71.2" cy="187.6" r="1.65"/><circle cx="71.2" cy="193.5" r="1.65"/><circle cx="71.2" cy="190.8" r="1.65"/><circle cx="71.2" cy="190.7" r="1.65"/><circle cx="71.2" cy="188.3" r="1.65"/><circle cx="71.2" cy="177.5" r="1.65"/><circle cx="71.2" cy="188.8" r="1.65"/><circle cx="71.2" cy="174.6" r="1.65"/><circle cx="71.2" cy="193.0" r="1.65"/><circle cx="71.2" cy="185.2" r="1.65"/><circle cx="71.2" cy="185.3" r="1.65"/><circle cx="71.2" cy="188.8" r="1.65"/><circle cx="71.2" cy="192.3" r="1.65"/><circle cx="71.2" cy="180.2" r="1.65"/><circle cx="71.2" cy="177.9" r="1.65"/><circle cx="71.2" cy="182.8" r="1.65"/><circle cx="71.2" cy="175.8" r="1.65"/><circle cx="73.5" cy="193.2" r="1.65"/><circle cx="73.5" cy="174.6" r="1.65"/><circle cx="73.5" cy="190.0" r="1.65"/><circle cx="73.5" cy="184.3" r="1.65"/><circle cx="73.5" cy="186.7" r="1.65"/><circle cx="73.5" cy="192.4" r="1.65"/><circle cx="73.5" cy="203.4" r="1.65"/><circle cx="73.5" cy="189.0" r="1.65"/><circle cx="73.5" cy="188.4" r="1.65"/><circle cx="73.5" cy="178.3" r="1.65"/><circle cx="73.5" cy="192.6" r="1.65"/><circle cx="73.5" cy="184.9" r="1.65"/><circle cx="73.5" cy="194.9" r="1.65"/><circle cx="73.5" cy="186.8" r="1.65"/><circle cx="73.5" cy="203.2" r="1.65"/><circle cx="73.5" cy="169.0" r="1.65"/><circle cx="73.5" cy="184.5" r="1.65"/><circle cx="73.5" cy="195.3" r="1.65"/><circle cx="73.5" cy="184.0" r="1.65"/><circle cx="73.5" cy="179.9" r="1.65"/><circle cx="73.5" cy="184.8" r="1.65"/><circle cx="73.5" cy="174.5" r="1.65"/><circle cx="73.5" cy="188.3" r="1.65"/><circle cx="73.5" cy="208.4" r="1.65"/><circle cx="73.5" cy="197.7" r="1.65"/><circle cx="73.5" cy="177.0" r="1.65"/><circle cx="73.5" cy="179.2" r="1.65"/><circle cx="73.5" cy="183.5" r="1.65"/><circle cx="73.5" cy="196.4" r="1.65"/><circle cx="73.5" cy="179.6" r="1.65"/><circle cx="73.5" cy="180.9" r="1.65"/><circle cx="73.5" cy="195.3" r="1.65"/><circle cx="73.5" cy="195.2" r="1.65"/><circle cx="73.5" cy="183.8" r="1.65"/><circle cx="73.5" cy="176.9" r="1.65"/><circle cx="73.5" cy="172.9" r="1.65"/><circle cx="73.5" cy="180.8" r="1.65"/><circle cx="73.5" cy="166.7" r="1.65"/><circle cx="75.4" cy="189.6" r="1.65"/><circle cx="75.4" cy="184.9" r="1.65"/><circle cx="75.4" cy="169.3" r="1.65"/><circle cx="75.4" cy="182.9" r="1.65"/><circle cx="75.4" cy="184.8" r="1.65"/><circle cx="75.4" cy="172.1" r="1.65"/><circle cx="75.4" cy="170.7" r="1.65"/><circle cx="75.4" cy="176.3" r="1.65"/><circle cx="75.4" cy="166.3" r="1.65"/><circle cx="75.4" cy="186.9" r="1.65"/><circle cx="75.4" cy="161.6" r="1.65"/><circle cx="75.4" cy="169.6" r="1.65"/><circle cx="75.4" cy="175.3" r="1.65"/><circle cx="75.4" cy="175.5" r="1.65"/><circle cx="75.4" cy="178.2" r="1.65"/><circle cx="75.4" cy="178.9" r="1.65"/><circle cx="75.4" cy="175.6" r="1.65"/><circle cx="75.4" cy="184.7" r="1.65"/><circle cx="75.4" cy="162.7" r="1.65"/><circle cx="75.4" cy="177.1" r="1.65"/><circle cx="75.4" cy="172.3" r="1.65"/><circle cx="75.4" cy="178.0" r="1.65"/><circle cx="75.4" cy="178.5" r="1.65"/><circle cx="75.4" cy="170.9" r="1.65"/><circle cx="75.4" cy="172.8" r="1.65"/><circle cx="75.4" cy="182.4" r="1.65"/><circle cx="75.4" cy="179.4" r="1.65"/><circle cx="75.4" cy="172.5" r="1.65"/><circle cx="75.4" cy="190.8" r="1.65"/><circle cx="75.4" cy="192.5" r="1.65"/><circle cx="75.4" cy="167.3" r="1.65"/><circle cx="75.4" cy="179.1" r="1.65"/><circle cx="75.4" cy="192.5" r="1.65"/><circle cx="75.4" cy="182.3" r="1.65"/><circle cx="75.4" cy="178.5" r="1.65"/><circle cx="75.4" cy="175.7" r="1.65"/><circle cx="75.4" cy="173.4" r="1.65"/><circle cx="75.4" cy="175.6" r="1.65"/><circle cx="78.2" cy="176.8" r="1.65"/><circle cx="78.2" cy="171.4" r="1.65"/><circle cx="78.2" cy="179.6" r="1.65"/><circle cx="78.2" cy="173.6" r="1.65"/><circle cx="78.2" cy="178.6" r="1.65"/><circle cx="78.2" cy="187.2" r="1.65"/><circle cx="78.2" cy="182.5" r="1.65"/><circle cx="78.2" cy="183.4" r="1.65"/><circle cx="78.2" cy="182.4" r="1.65"/><circle cx="78.2" cy="180.3" r="1.65"/><circle cx="78.2" cy="179.0" r="1.65"/><circle cx="78.2" cy="177.7" r="1.65"/><circle cx="78.2" cy="185.2" r="1.65"/><circle cx="78.2" cy="172.3" r="1.65"/><circle cx="78.2" cy="189.3" r="1.65"/><circle cx="78.2" cy="180.1" r="1.65"/><circle cx="78.2" cy="174.6" r="1.65"/><circle cx="78.2" cy="176.5" r="1.65"/><circle cx="78.2" cy="175.1" r="1.65"/><circle cx="78.2" cy="181.0" r="1.65"/><circle cx="78.2" cy="174.9" r="1.65"/><circle cx="78.2" cy="187.9" r="1.65"/><circle cx="78.2" cy="174.4" r="1.65"/><circle cx="78.2" cy="163.9" r="1.65"/><circle cx="78.2" cy="174.8" r="1.65"/><circle cx="78.2" cy="165.8" r="1.65"/><circle cx="78.2" cy="179.6" r="1.65"/><circle cx="78.2" cy="187.3" r="1.65"/><circle cx="78.2" cy="184.5" r="1.65"/><circle cx="78.2" cy="170.5" r="1.65"/><circle cx="78.2" cy="174.5" r="1.65"/><circle cx="78.2" cy="192.4" r="1.65"/><circle cx="78.2" cy="182.1" r="1.65"/><circle cx="78.2" cy="179.9" r="1.65"/><circle cx="78.2" cy="187.3" r="1.65"/><circle cx="78.2" cy="196.1" r="1.65"/><circle cx="78.2" cy="189.0" r="1.65"/><circle cx="78.2" cy="180.9" r="1.65"/><circle cx="79.9" cy="174.6" r="1.65"/><circle cx="79.9" cy="181.5" r="1.65"/><circle cx="79.9" cy="175.3" r="1.65"/><circle cx="79.9" cy="180.8" r="1.65"/><circle cx="79.9" cy="181.8" r="1.65"/><circle cx="79.9" cy="195.5" r="1.65"/><circle cx="79.9" cy="175.9" r="1.65"/><circle cx="79.9" cy="180.4" r="1.65"/><circle cx="79.9" cy="180.2" r="1.65"/><circle cx="79.9" cy="183.9" r="1.65"/><circle cx="79.9" cy="187.7" r="1.65"/><circle cx="79.9" cy="178.1" r="1.65"/><circle cx="79.9" cy="176.1" r="1.65"/><circle cx="79.9" cy="171.0" r="1.65"/><circle cx="79.9" cy="175.4" r="1.65"/><circle cx="79.9" cy="184.6" r="1.65"/><circle cx="79.9" cy="181.5" r="1.65"/><circle cx="79.9" cy="174.9" r="1.65"/><circle cx="79.9" cy="178.9" r="1.65"/><circle cx="79.9" cy="181.4" r="1.65"/><circle cx="79.9" cy="184.3" r="1.65"/><circle cx="79.9" cy="177.5" r="1.65"/><circle cx="79.9" cy="179.6" r="1.65"/><circle cx="79.9" cy="169.9" r="1.65"/><circle cx="79.9" cy="174.0" r="1.65"/><circle cx="79.9" cy="191.3" r="1.65"/><circle cx="79.9" cy="167.6" r="1.65"/><circle cx="79.9" cy="179.1" r="1.65"/><circle cx="79.9" cy="182.6" r="1.65"/><circle cx="79.9" cy="178.9" r="1.65"/><circle cx="79.9" cy="176.2" r="1.65"/><circle cx="79.9" cy="180.8" r="1.65"/><circle cx="79.9" cy="181.2" r="1.65"/><circle cx="79.9" cy="180.7" r="1.65"/><circle cx="79.9" cy="169.5" r="1.65"/><circle cx="79.9" cy="180.3" r="1.65"/><circle cx="79.9" cy="175.9" r="1.65"/><circle cx="79.9" cy="177.8" r="1.65"/><circle cx="82.7" cy="182.8" r="1.65"/><circle cx="82.7" cy="195.4" r="1.65"/><circle cx="82.7" cy="197.6" r="1.65"/><circle cx="82.7" cy="197.2" r="1.65"/><circle cx="82.7" cy="199.5" r="1.65"/><circle cx="82.7" cy="185.9" r="1.65"/><circle cx="82.7" cy="185.7" r="1.65"/><circle cx="82.7" cy="194.5" r="1.65"/><circle cx="82.7" cy="175.2" r="1.65"/><circle cx="82.7" cy="189.1" r="1.65"/><circle cx="82.7" cy="182.5" r="1.65"/><circle cx="82.7" cy="184.0" r="1.65"/><circle cx="82.7" cy="171.8" r="1.65"/><circle cx="82.7" cy="179.4" r="1.65"/><circle cx="82.7" cy="187.0" r="1.65"/><circle cx="82.7" cy="195.1" r="1.65"/><circle cx="82.7" cy="195.9" r="1.65"/><circle cx="82.7" cy="186.5" r="1.65"/><circle cx="82.7" cy="185.5" r="1.65"/><circle cx="82.7" cy="179.9" r="1.65"/><circle cx="82.7" cy="190.8" r="1.65"/><circle cx="82.7" cy="185.0" r="1.65"/><circle cx="82.7" cy="192.6" r="1.65"/><circle cx="82.7" cy="202.7" r="1.65"/><circle cx="82.7" cy="186.9" r="1.65"/><circle cx="82.7" cy="174.0" r="1.65"/><circle cx="82.7" cy="179.6" r="1.65"/><circle cx="82.7" cy="174.3" r="1.65"/><circle cx="82.7" cy="176.7" r="1.65"/><circle cx="82.7" cy="198.7" r="1.65"/><circle cx="82.7" cy="189.2" r="1.65"/><circle cx="82.7" cy="173.8" r="1.65"/><circle cx="82.7" cy="193.0" r="1.65"/><circle cx="82.7" cy="198.3" r="1.65"/><circle cx="82.7" cy="184.0" r="1.65"/><circle cx="82.7" cy="181.2" r="1.65"/><circle cx="82.7" cy="184.2" r="1.65"/><circle cx="82.7" cy="189.7" r="1.65"/><circle cx="84.8" cy="206.4" r="1.65"/><circle cx="84.8" cy="207.9" r="1.65"/><circle cx="84.8" cy="201.7" r="1.65"/><circle cx="84.8" cy="182.2" r="1.65"/><circle cx="84.8" cy="194.6" r="1.65"/><circle cx="84.8" cy="198.6" r="1.65"/><circle cx="84.8" cy="192.4" r="1.65"/><circle cx="84.8" cy="203.9" r="1.65"/><circle cx="84.8" cy="192.6" r="1.65"/><circle cx="84.8" cy="187.6" r="1.65"/><circle cx="84.8" cy="208.7" r="1.65"/><circle cx="84.8" cy="201.7" r="1.65"/><circle cx="84.8" cy="197.8" r="1.65"/><circle cx="84.8" cy="204.1" r="1.65"/><circle cx="84.8" cy="205.3" r="1.65"/><circle cx="84.8" cy="198.8" r="1.65"/><circle cx="84.8" cy="175.3" r="1.65"/><circle cx="84.8" cy="189.8" r="1.65"/><circle cx="84.8" cy="191.7" r="1.65"/><circle cx="84.8" cy="187.0" r="1.65"/><circle cx="84.8" cy="197.6" r="1.65"/><circle cx="84.8" cy="206.4" r="1.65"/><circle cx="84.8" cy="191.5" r="1.65"/><circle cx="84.8" cy="185.7" r="1.65"/><circle cx="84.8" cy="213.9" r="1.65"/><circle cx="84.8" cy="191.8" r="1.65"/><circle cx="84.8" cy="184.8" r="1.65"/><circle cx="84.8" cy="197.9" r="1.65"/><circle cx="84.8" cy="199.6" r="1.65"/><circle cx="84.8" cy="189.5" r="1.65"/><circle cx="84.8" cy="202.8" r="1.65"/><circle cx="84.8" cy="191.5" r="1.65"/><circle cx="84.8" cy="187.6" r="1.65"/><circle cx="84.8" cy="197.4" r="1.65"/><circle cx="84.8" cy="202.7" r="1.65"/><circle cx="84.8" cy="190.2" r="1.65"/><circle cx="84.8" cy="198.7" r="1.65"/><circle cx="84.8" cy="195.0" r="1.65"/><circle cx="87.1" cy="197.7" r="1.65"/><circle cx="87.1" cy="197.0" r="1.65"/><circle cx="87.1" cy="204.5" r="1.65"/><circle cx="87.1" cy="206.0" r="1.65"/><circle cx="87.1" cy="209.3" r="1.65"/><circle cx="87.1" cy="201.0" r="1.65"/><circle cx="87.1" cy="192.9" r="1.65"/><circle cx="87.1" cy="193.4" r="1.65"/><circle cx="87.1" cy="202.6" r="1.65"/><circle cx="87.1" cy="203.2" r="1.65"/><circle cx="87.1" cy="210.4" r="1.65"/><circle cx="87.1" cy="201.8" r="1.65"/><circle cx="87.1" cy="207.5" r="1.65"/><circle cx="87.1" cy="211.5" r="1.65"/><circle cx="87.1" cy="199.6" r="1.65"/><circle cx="87.1" cy="185.1" r="1.65"/><circle cx="87.1" cy="187.8" r="1.65"/><circle cx="87.1" cy="185.5" r="1.65"/><circle cx="87.1" cy="212.1" r="1.65"/><circle cx="87.1" cy="190.7" r="1.65"/><circle cx="87.1" cy="209.0" r="1.65"/><circle cx="87.1" cy="203.3" r="1.65"/><circle cx="87.1" cy="213.2" r="1.65"/><circle cx="87.1" cy="207.0" r="1.65"/><circle cx="87.1" cy="197.2" r="1.65"/><circle cx="87.1" cy="196.4" r="1.65"/><circle cx="87.1" cy="198.9" r="1.65"/><circle cx="87.1" cy="199.7" r="1.65"/><circle cx="87.1" cy="193.5" r="1.65"/><circle cx="87.1" cy="197.8" r="1.65"/><circle cx="87.1" cy="212.3" r="1.65"/><circle cx="87.1" cy="183.2" r="1.65"/><circle cx="87.1" cy="200.4" r="1.65"/><circle cx="87.1" cy="190.2" r="1.65"/><circle cx="87.1" cy="199.8" r="1.65"/><circle cx="87.1" cy="205.5" r="1.65"/><circle cx="87.1" cy="197.6" r="1.65"/><circle cx="87.1" cy="204.9" r="1.65"/><circle cx="88.9" cy="213.9" r="1.65"/><circle cx="88.9" cy="210.4" r="1.65"/><circle cx="88.9" cy="191.1" r="1.65"/><circle cx="88.9" cy="203.1" r="1.65"/><circle cx="88.9" cy="210.7" r="1.65"/><circle cx="88.9" cy="221.1" r="1.65"/><circle cx="88.9" cy="211.2" r="1.65"/><circle cx="88.9" cy="211.0" r="1.65"/><circle cx="88.9" cy="198.0" r="1.65"/><circle cx="88.9" cy="220.2" r="1.65"/><circle cx="88.9" cy="223.1" r="1.65"/><circle cx="88.9" cy="209.2" r="1.65"/><circle cx="88.9" cy="207.3" r="1.65"/><circle cx="88.9" cy="196.4" r="1.65"/><circle cx="88.9" cy="215.9" r="1.65"/><circle cx="88.9" cy="226.9" r="1.65"/><circle cx="88.9" cy="214.6" r="1.65"/><circle cx="88.9" cy="218.9" r="1.65"/><circle cx="88.9" cy="213.2" r="1.65"/><circle cx="88.9" cy="201.3" r="1.65"/><circle cx="88.9" cy="219.4" r="1.65"/><circle cx="88.9" cy="199.4" r="1.65"/><circle cx="88.9" cy="207.4" r="1.65"/><circle cx="88.9" cy="211.2" r="1.65"/><circle cx="88.9" cy="215.9" r="1.65"/><circle cx="88.9" cy="212.2" r="1.65"/><circle cx="88.9" cy="212.0" r="1.65"/><circle cx="88.9" cy="203.1" r="1.65"/><circle cx="88.9" cy="198.9" r="1.65"/><circle cx="88.9" cy="209.5" r="1.65"/><circle cx="88.9" cy="203.5" r="1.65"/><circle cx="88.9" cy="198.8" r="1.65"/><circle cx="88.9" cy="199.1" r="1.65"/><circle cx="88.9" cy="205.2" r="1.65"/><circle cx="88.9" cy="194.5" r="1.65"/><circle cx="88.9" cy="198.5" r="1.65"/><circle cx="88.9" cy="196.2" r="1.65"/><circle cx="88.9" cy="210.4" r="1.65"/><circle cx="91.0" cy="210.9" r="1.65"/><circle cx="91.0" cy="224.4" r="1.65"/><circle cx="91.0" cy="214.8" r="1.65"/><circle cx="91.0" cy="213.9" r="1.65"/><circle cx="91.0" cy="231.1" r="1.65"/><circle cx="91.0" cy="213.8" r="1.65"/><circle cx="91.0" cy="206.9" r="1.65"/><circle cx="91.0" cy="205.5" r="1.65"/><circle cx="91.0" cy="219.5" r="1.65"/><circle cx="91.0" cy="219.3" r="1.65"/><circle cx="91.0" cy="205.1" r="1.65"/><circle cx="91.0" cy="208.3" r="1.65"/><circle cx="91.0" cy="221.2" r="1.65"/><circle cx="91.0" cy="221.6" r="1.65"/><circle cx="91.0" cy="211.2" r="1.65"/><circle cx="91.0" cy="221.9" r="1.65"/><circle cx="91.0" cy="221.5" r="1.65"/><circle cx="91.0" cy="201.6" r="1.65"/><circle cx="91.0" cy="214.0" r="1.65"/><circle cx="91.0" cy="220.2" r="1.65"/><circle cx="91.0" cy="211.8" r="1.65"/><circle cx="91.0" cy="198.6" r="1.65"/><circle cx="91.0" cy="214.3" r="1.65"/><circle cx="91.0" cy="223.0" r="1.65"/><circle cx="91.0" cy="230.0" r="1.65"/><circle cx="91.0" cy="198.2" r="1.65"/><circle cx="91.0" cy="236.1" r="1.65"/><circle cx="91.0" cy="207.1" r="1.65"/><circle cx="91.0" cy="224.8" r="1.65"/><circle cx="91.0" cy="227.1" r="1.65"/><circle cx="91.0" cy="225.0" r="1.65"/><circle cx="91.0" cy="217.9" r="1.65"/><circle cx="91.0" cy="206.9" r="1.65"/><circle cx="91.0" cy="222.0" r="1.65"/><circle cx="91.0" cy="210.6" r="1.65"/><circle cx="91.0" cy="197.2" r="1.65"/><circle cx="91.0" cy="236.1" r="1.65"/><circle cx="91.0" cy="222.7" r="1.65"/><circle cx="93.7" cy="224.4" r="1.65"/><circle cx="93.7" cy="224.1" r="1.65"/><circle cx="93.7" cy="210.4" r="1.65"/><circle cx="93.7" cy="200.2" r="1.65"/><circle cx="93.7" cy="209.1" r="1.65"/><circle cx="93.7" cy="191.5" r="1.65"/><circle cx="93.7" cy="195.8" r="1.65"/><circle cx="93.7" cy="211.4" r="1.65"/><circle cx="93.7" cy="202.0" r="1.65"/><circle cx="93.7" cy="209.2" r="1.65"/><circle cx="93.7" cy="209.7" r="1.65"/><circle cx="93.7" cy="227.4" r="1.65"/><circle cx="93.7" cy="221.9" r="1.65"/><circle cx="93.7" cy="210.2" r="1.65"/><circle cx="93.7" cy="221.1" r="1.65"/><circle cx="93.7" cy="203.8" r="1.65"/><circle cx="93.7" cy="207.7" r="1.65"/><circle cx="93.7" cy="218.5" r="1.65"/><circle cx="93.7" cy="199.8" r="1.65"/><circle cx="93.7" cy="208.2" r="1.65"/><circle cx="93.7" cy="199.1" r="1.65"/><circle cx="93.7" cy="211.6" r="1.65"/><circle cx="93.7" cy="224.8" r="1.65"/><circle cx="93.7" cy="204.1" r="1.65"/><circle cx="93.7" cy="212.6" r="1.65"/><circle cx="93.7" cy="202.8" r="1.65"/><circle cx="93.7" cy="200.6" r="1.65"/><circle cx="93.7" cy="199.9" r="1.65"/><circle cx="93.7" cy="223.2" r="1.65"/><circle cx="93.7" cy="230.6" r="1.65"/><circle cx="93.7" cy="214.8" r="1.65"/><circle cx="93.7" cy="204.4" r="1.65"/><circle cx="93.7" cy="216.7" r="1.65"/><circle cx="93.7" cy="207.7" r="1.65"/><circle cx="93.7" cy="217.6" r="1.65"/><circle cx="93.7" cy="213.1" r="1.65"/><circle cx="93.7" cy="213.0" r="1.65"/><circle cx="93.7" cy="215.9" r="1.65"/><circle cx="95.5" cy="206.0" r="1.65"/><circle cx="95.5" cy="199.7" r="1.65"/><circle cx="95.5" cy="207.9" r="1.65"/><circle cx="95.5" cy="202.7" r="1.65"/><circle cx="95.5" cy="209.4" r="1.65"/><circle cx="95.5" cy="211.7" r="1.65"/><circle cx="95.5" cy="199.7" r="1.65"/><circle cx="95.5" cy="203.6" r="1.65"/><circle cx="95.5" cy="202.8" r="1.65"/><circle cx="95.5" cy="213.6" r="1.65"/><circle cx="95.5" cy="219.7" r="1.65"/><circle cx="95.5" cy="214.2" r="1.65"/><circle cx="95.5" cy="206.6" r="1.65"/><circle cx="95.5" cy="218.1" r="1.65"/><circle cx="95.5" cy="199.1" r="1.65"/><circle cx="95.5" cy="218.4" r="1.65"/><circle cx="95.5" cy="204.6" r="1.65"/><circle cx="95.5" cy="194.1" r="1.65"/><circle cx="95.5" cy="223.5" r="1.65"/><circle cx="95.5" cy="218.9" r="1.65"/><circle cx="95.5" cy="202.2" r="1.65"/><circle cx="95.5" cy="209.9" r="1.65"/><circle cx="95.5" cy="207.4" r="1.65"/><circle cx="95.5" cy="209.5" r="1.65"/><circle cx="95.5" cy="199.3" r="1.65"/><circle cx="95.5" cy="204.5" r="1.65"/><circle cx="95.5" cy="211.8" r="1.65"/><circle cx="95.5" cy="210.2" r="1.65"/><circle cx="95.5" cy="216.4" r="1.65"/><circle cx="95.5" cy="209.3" r="1.65"/><circle cx="95.5" cy="223.5" r="1.65"/><circle cx="95.5" cy="204.2" r="1.65"/><circle cx="95.5" cy="210.5" r="1.65"/><circle cx="95.5" cy="196.6" r="1.65"/><circle cx="95.5" cy="200.8" r="1.65"/><circle cx="95.5" cy="217.3" r="1.65"/><circle cx="95.5" cy="202.8" r="1.65"/><circle cx="95.5" cy="212.2" r="1.65"/><circle cx="98.0" cy="189.9" r="1.65"/><circle cx="98.0" cy="190.2" r="1.65"/><circle cx="98.0" cy="200.9" r="1.65"/><circle cx="98.0" cy="200.1" r="1.65"/><circle cx="98.0" cy="189.4" r="1.65"/><circle cx="98.0" cy="186.5" r="1.65"/><circle cx="98.0" cy="196.8" r="1.65"/><circle cx="98.0" cy="193.5" r="1.65"/><circle cx="98.0" cy="203.3" r="1.65"/><circle cx="98.0" cy="214.4" r="1.65"/><circle cx="98.0" cy="201.7" r="1.65"/><circle cx="98.0" cy="194.1" r="1.65"/><circle cx="98.0" cy="192.9" r="1.65"/><circle cx="98.0" cy="186.9" r="1.65"/><circle cx="98.0" cy="186.5" r="1.65"/><circle cx="98.0" cy="185.7" r="1.65"/><circle cx="98.0" cy="191.0" r="1.65"/><circle cx="98.0" cy="190.7" r="1.65"/><circle cx="98.0" cy="200.9" r="1.65"/><circle cx="98.0" cy="190.9" r="1.65"/><circle cx="98.0" cy="192.7" r="1.65"/><circle cx="98.0" cy="183.8" r="1.65"/><circle cx="98.0" cy="208.7" r="1.65"/><circle cx="98.0" cy="198.8" r="1.65"/><circle cx="98.0" cy="209.9" r="1.65"/><circle cx="98.0" cy="201.3" r="1.65"/><circle cx="98.0" cy="207.3" r="1.65"/><circle cx="98.0" cy="192.2" r="1.65"/><circle cx="98.0" cy="200.6" r="1.65"/><circle cx="98.0" cy="214.4" r="1.65"/><circle cx="98.0" cy="183.8" r="1.65"/><circle cx="98.0" cy="204.6" r="1.65"/><circle cx="98.0" cy="209.1" r="1.65"/><circle cx="98.0" cy="198.0" r="1.65"/><circle cx="98.0" cy="201.0" r="1.65"/><circle cx="98.0" cy="205.5" r="1.65"/><circle cx="98.0" cy="188.6" r="1.65"/><circle cx="98.0" cy="198.0" r="1.65"/><circle cx="124.5" cy="202.1" r="1.65"/><circle cx="124.5" cy="222.3" r="1.65"/><circle cx="124.5" cy="234.9" r="1.65"/><circle cx="124.5" cy="200.7" r="1.65"/><circle cx="124.5" cy="224.4" r="1.65"/><circle cx="124.5" cy="219.2" r="1.65"/><circle cx="124.5" cy="215.2" r="1.65"/><circle cx="124.5" cy="227.6" r="1.65"/><circle cx="124.5" cy="206.2" r="1.65"/><circle cx="124.5" cy="217.5" r="1.65"/><circle cx="124.5" cy="228.4" r="1.65"/><circle cx="124.5" cy="214.5" r="1.65"/><circle cx="124.5" cy="212.6" r="1.65"/><circle cx="124.5" cy="217.1" r="1.65"/><circle cx="124.5" cy="212.4" r="1.65"/><circle cx="124.5" cy="229.1" r="1.65"/><circle cx="124.5" cy="208.5" r="1.65"/><circle cx="124.5" cy="223.4" r="1.65"/><circle cx="124.5" cy="205.6" r="1.65"/><circle cx="124.5" cy="221.7" r="1.65"/><circle cx="124.5" cy="215.2" r="1.65"/><circle cx="124.5" cy="197.3" r="1.65"/><circle cx="124.5" cy="216.1" r="1.65"/><circle cx="124.5" cy="207.2" r="1.65"/><circle cx="124.5" cy="212.4" r="1.65"/><circle cx="124.5" cy="229.0" r="1.65"/><circle cx="124.5" cy="206.7" r="1.65"/><circle cx="124.5" cy="207.2" r="1.65"/><circle cx="126.6" cy="232.1" r="1.65"/><circle cx="126.6" cy="223.6" r="1.65"/><circle cx="126.6" cy="229.3" r="1.65"/><circle cx="126.6" cy="238.4" r="1.65"/><circle cx="126.6" cy="236.4" r="1.65"/><circle cx="126.6" cy="229.8" r="1.65"/><circle cx="126.6" cy="230.1" r="1.65"/><circle cx="126.6" cy="229.0" r="1.65"/><circle cx="126.6" cy="225.7" r="1.65"/><circle cx="126.6" cy="243.4" r="1.65"/><circle cx="126.6" cy="229.8" r="1.65"/><circle cx="126.6" cy="221.8" r="1.65"/><circle cx="126.6" cy="226.4" r="1.65"/><circle cx="126.6" cy="234.9" r="1.65"/><circle cx="126.6" cy="234.3" r="1.65"/><circle cx="126.6" cy="228.8" r="1.65"/><circle cx="126.6" cy="225.1" r="1.65"/><circle cx="126.6" cy="230.0" r="1.65"/><circle cx="126.6" cy="218.0" r="1.65"/><circle cx="126.6" cy="220.6" r="1.65"/><circle cx="126.6" cy="235.4" r="1.65"/><circle cx="126.6" cy="226.4" r="1.65"/><circle cx="126.6" cy="232.4" r="1.65"/><circle cx="126.6" cy="238.3" r="1.65"/><circle cx="126.6" cy="234.3" r="1.65"/><circle cx="126.6" cy="229.9" r="1.65"/><circle cx="126.6" cy="244.7" r="1.65"/><circle cx="126.6" cy="234.5" r="1.65"/><circle cx="128.7" cy="241.4" r="1.65"/><circle cx="128.7" cy="247.9" r="1.65"/><circle cx="128.7" cy="246.3" r="1.65"/><circle cx="128.7" cy="233.6" r="1.65"/><circle cx="128.7" cy="246.2" r="1.65"/><circle cx="128.7" cy="245.4" r="1.65"/><circle cx="128.7" cy="244.3" r="1.65"/><circle cx="128.7" cy="235.9" r="1.65"/><circle cx="128.7" cy="244.9" r="1.65"/><circle cx="128.7" cy="247.1" r="1.65"/><circle cx="128.7" cy="248.1" r="1.65"/><circle cx="128.7" cy="239.5" r="1.65"/><circle cx="128.7" cy="251.9" r="1.65"/><circle cx="128.7" cy="238.9" r="1.65"/><circle cx="128.7" cy="245.9" r="1.65"/><circle cx="128.7" cy="256.6" r="1.65"/><circle cx="128.7" cy="242.6" r="1.65"/><circle cx="128.7" cy="243.8" r="1.65"/><circle cx="128.7" cy="254.9" r="1.65"/><circle cx="128.7" cy="244.7" r="1.65"/><circle cx="128.7" cy="245.3" r="1.65"/><circle cx="128.7" cy="249.0" r="1.65"/><circle cx="128.7" cy="254.8" r="1.65"/><circle cx="128.7" cy="232.0" r="1.65"/><circle cx="128.7" cy="241.6" r="1.65"/><circle cx="128.7" cy="240.4" r="1.65"/><circle cx="128.7" cy="239.8" r="1.65"/><circle cx="128.7" cy="241.4" r="1.65"/><circle cx="130.9" cy="258.9" r="1.65"/><circle cx="130.9" cy="261.2" r="1.65"/><circle cx="130.9" cy="251.7" r="1.65"/><circle cx="130.9" cy="258.9" r="1.65"/><circle cx="130.9" cy="271.5" r="1.65"/><circle cx="130.9" cy="260.5" r="1.65"/><circle cx="130.9" cy="252.5" r="1.65"/><circle cx="130.9" cy="257.3" r="1.65"/><circle cx="130.9" cy="250.2" r="1.65"/><circle cx="130.9" cy="260.1" r="1.65"/><circle cx="130.9" cy="265.0" r="1.65"/><circle cx="130.9" cy="251.0" r="1.65"/><circle cx="130.9" cy="256.1" r="1.65"/><circle cx="130.9" cy="267.1" r="1.65"/><circle cx="130.9" cy="253.7" r="1.65"/><circle cx="130.9" cy="259.4" r="1.65"/><circle cx="130.9" cy="249.3" r="1.65"/><circle cx="130.9" cy="251.0" r="1.65"/><circle cx="130.9" cy="253.6" r="1.65"/><circle cx="130.9" cy="275.6" r="1.65"/><circle cx="130.9" cy="254.5" r="1.65"/><circle cx="130.9" cy="253.5" r="1.65"/><circle cx="130.9" cy="253.3" r="1.65"/><circle cx="130.9" cy="256.5" r="1.65"/><circle cx="130.9" cy="263.2" r="1.65"/><circle cx="130.9" cy="259.4" r="1.65"/><circle cx="130.9" cy="274.6" r="1.65"/><circle cx="130.9" cy="259.6" r="1.65"/><circle cx="133.2" cy="254.9" r="1.65"/><circle cx="133.2" cy="265.7" r="1.65"/><circle cx="133.2" cy="266.1" r="1.65"/><circle cx="133.2" cy="264.7" r="1.65"/><circle cx="133.2" cy="249.0" r="1.65"/><circle cx="133.2" cy="273.9" r="1.65"/><circle cx="133.2" cy="263.5" r="1.65"/><circle cx="133.2" cy="263.1" r="1.65"/><circle cx="133.2" cy="264.6" r="1.65"/><circle cx="133.2" cy="264.8" r="1.65"/><circle cx="133.2" cy="270.1" r="1.65"/><circle cx="133.2" cy="256.3" r="1.65"/><circle cx="133.2" cy="259.1" r="1.65"/><circle cx="133.2" cy="269.1" r="1.65"/><circle cx="133.2" cy="267.9" r="1.65"/><circle cx="133.2" cy="263.6" r="1.65"/><circle cx="133.2" cy="262.0" r="1.65"/><circle cx="133.2" cy="259.9" r="1.65"/><circle cx="133.2" cy="266.2" r="1.65"/><circle cx="133.2" cy="276.4" r="1.65"/><circle cx="133.2" cy="258.0" r="1.65"/><circle cx="133.2" cy="279.2" r="1.65"/><circle cx="133.2" cy="273.6" r="1.65"/><circle cx="133.2" cy="263.0" r="1.65"/><circle cx="133.2" cy="273.1" r="1.65"/><circle cx="133.2" cy="254.7" r="1.65"/><circle cx="133.2" cy="252.5" r="1.65"/><circle cx="133.2" cy="256.1" r="1.65"/><circle cx="135.1" cy="265.9" r="1.65"/><circle cx="135.1" cy="249.0" r="1.65"/><circle cx="135.1" cy="268.9" r="1.65"/><circle cx="135.1" cy="254.4" r="1.65"/><circle cx="135.1" cy="260.2" r="1.65"/><circle cx="135.1" cy="262.1" r="1.65"/><circle cx="135.1" cy="256.4" r="1.65"/><circle cx="135.1" cy="254.8" r="1.65"/><circle cx="135.1" cy="257.6" r="1.65"/><circle cx="135.1" cy="265.1" r="1.65"/><circle cx="135.1" cy="269.7" r="1.65"/><circle cx="135.1" cy="269.5" r="1.65"/><circle cx="135.1" cy="257.7" r="1.65"/><circle cx="135.1" cy="259.2" r="1.65"/><circle cx="135.1" cy="258.2" r="1.65"/><circle cx="135.1" cy="268.6" r="1.65"/><circle cx="135.1" cy="249.8" r="1.65"/><circle cx="135.1" cy="274.6" r="1.65"/><circle cx="135.1" cy="261.5" r="1.65"/><circle cx="135.1" cy="259.3" r="1.65"/><circle cx="135.1" cy="267.8" r="1.65"/><circle cx="135.1" cy="273.0" r="1.65"/><circle cx="135.1" cy="267.8" r="1.65"/><circle cx="135.1" cy="273.2" r="1.65"/><circle cx="135.1" cy="266.2" r="1.65"/><circle cx="135.1" cy="274.5" r="1.65"/><circle cx="135.1" cy="274.6" r="1.65"/><circle cx="135.1" cy="264.4" r="1.65"/><circle cx="137.1" cy="256.3" r="1.65"/><circle cx="137.1" cy="262.7" r="1.65"/><circle cx="137.1" cy="273.4" r="1.65"/><circle cx="137.1" cy="252.4" r="1.65"/><circle cx="137.1" cy="272.1" r="1.65"/><circle cx="137.1" cy="269.1" r="1.65"/><circle cx="137.1" cy="268.4" r="1.65"/><circle cx="137.1" cy="243.4" r="1.65"/><circle cx="137.1" cy="264.5" r="1.65"/><circle cx="137.1" cy="272.1" r="1.65"/><circle cx="137.1" cy="257.9" r="1.65"/><circle cx="137.1" cy="266.5" r="1.65"/><circle cx="137.1" cy="242.5" r="1.65"/><circle cx="137.1" cy="272.3" r="1.65"/><circle cx="137.1" cy="258.9" r="1.65"/><circle cx="137.1" cy="274.3" r="1.65"/><circle cx="137.1" cy="247.0" r="1.65"/><circle cx="137.1" cy="272.5" r="1.65"/><circle cx="137.1" cy="263.2" r="1.65"/><circle cx="137.1" cy="273.7" r="1.65"/><circle cx="137.1" cy="256.3" r="1.65"/><circle cx="137.1" cy="259.4" r="1.65"/><circle cx="137.1" cy="288.1" r="1.65"/><circle cx="137.1" cy="257.2" r="1.65"/><circle cx="137.1" cy="258.5" r="1.65"/><circle cx="137.1" cy="262.8" r="1.65"/><circle cx="137.1" cy="255.3" r="1.65"/><circle cx="137.1" cy="277.6" r="1.65"/><circle cx="139.9" cy="271.2" r="1.65"/><circle cx="139.9" cy="270.7" r="1.65"/><circle cx="139.9" cy="268.6" r="1.65"/><circle cx="139.9" cy="271.1" r="1.65"/><circle cx="139.9" cy="256.3" r="1.65"/><circle cx="139.9" cy="261.4" r="1.65"/><circle cx="139.9" cy="252.5" r="1.65"/><circle cx="139.9" cy="252.3" r="1.65"/><circle cx="139.9" cy="269.8" r="1.65"/><circle cx="139.9" cy="257.7" r="1.65"/><circle cx="139.9" cy="279.3" r="1.65"/><circle cx="139.9" cy="263.2" r="1.65"/><circle cx="139.9" cy="258.0" r="1.65"/><circle cx="139.9" cy="268.5" r="1.65"/><circle cx="139.9" cy="275.8" r="1.65"/><circle cx="139.9" cy="266.2" r="1.65"/><circle cx="139.9" cy="253.7" r="1.65"/><circle cx="139.9" cy="265.3" r="1.65"/><circle cx="139.9" cy="272.7" r="1.65"/><circle cx="139.9" cy="259.0" r="1.65"/><circle cx="139.9" cy="257.0" r="1.65"/><circle cx="139.9" cy="270.0" r="1.65"/><circle cx="139.9" cy="263.7" r="1.65"/><circle cx="139.9" cy="254.6" r="1.65"/><circle cx="139.9" cy="259.9" r="1.65"/><circle cx="139.9" cy="257.1" r="1.65"/><circle cx="139.9" cy="264.8" r="1.65"/><circle cx="139.9" cy="263.4" r="1.65"/><circle cx="141.7" cy="269.7" r="1.65"/><circle cx="141.7" cy="273.8" r="1.65"/><circle cx="141.7" cy="270.1" r="1.65"/><circle cx="141.7" cy="274.9" r="1.65"/><circle cx="141.7" cy="261.6" r="1.65"/><circle cx="141.7" cy="258.3" r="1.65"/><circle cx="141.7" cy="274.0" r="1.65"/><circle cx="141.7" cy="257.3" r="1.65"/><circle cx="141.7" cy="248.1" r="1.65"/><circle cx="141.7" cy="274.8" r="1.65"/><circle cx="141.7" cy="260.2" r="1.65"/><circle cx="141.7" cy="263.7" r="1.65"/><circle cx="141.7" cy="254.5" r="1.65"/><circle cx="141.7" cy="255.1" r="1.65"/><circle cx="141.7" cy="256.5" r="1.65"/><circle cx="141.7" cy="263.2" r="1.65"/><circle cx="141.7" cy="269.3" r="1.65"/><circle cx="141.7" cy="247.0" r="1.65"/><circle cx="141.7" cy="272.6" r="1.65"/><circle cx="141.7" cy="256.3" r="1.65"/><circle cx="141.7" cy="257.3" r="1.65"/><circle cx="141.7" cy="271.9" r="1.65"/><circle cx="141.7" cy="265.6" r="1.65"/><circle cx="141.7" cy="253.4" r="1.65"/><circle cx="141.7" cy="281.7" r="1.65"/><circle cx="141.7" cy="259.0" r="1.65"/><circle cx="141.7" cy="268.3" r="1.65"/><circle cx="141.7" cy="267.9" r="1.65"/><circle cx="144.2" cy="257.9" r="1.65"/><circle cx="144.2" cy="273.3" r="1.65"/><circle cx="144.2" cy="257.7" r="1.65"/><circle cx="144.2" cy="261.1" r="1.65"/><circle cx="144.2" cy="279.7" r="1.65"/><circle cx="144.2" cy="266.7" r="1.65"/><circle cx="144.2" cy="265.0" r="1.65"/><circle cx="144.2" cy="282.6" r="1.65"/><circle cx="144.2" cy="267.0" r="1.65"/><circle cx="144.2" cy="257.3" r="1.65"/><circle cx="144.2" cy="270.1" r="1.65"/><circle cx="144.2" cy="254.3" r="1.65"/><circle cx="144.2" cy="273.4" r="1.65"/><circle cx="144.2" cy="274.0" r="1.65"/><circle cx="144.2" cy="259.3" r="1.65"/><circle cx="144.2" cy="258.9" r="1.65"/><circle cx="144.2" cy="265.5" r="1.65"/><circle cx="144.2" cy="264.2" r="1.65"/><circle cx="144.2" cy="256.0" r="1.65"/><circle cx="144.2" cy="268.7" r="1.65"/><circle cx="144.2" cy="247.2" r="1.65"/><circle cx="144.2" cy="260.5" r="1.65"/><circle cx="144.2" cy="260.7" r="1.65"/><circle cx="144.2" cy="261.8" r="1.65"/><circle cx="144.2" cy="266.6" r="1.65"/><circle cx="144.2" cy="253.9" r="1.65"/><circle cx="144.2" cy="268.9" r="1.65"/><circle cx="144.2" cy="262.6" r="1.65"/><circle cx="146.4" cy="264.9" r="1.65"/><circle cx="146.4" cy="254.6" r="1.65"/><circle cx="146.4" cy="262.6" r="1.65"/><circle cx="146.4" cy="270.4" r="1.65"/><circle cx="146.4" cy="270.2" r="1.65"/><circle cx="146.4" cy="274.3" r="1.65"/><circle cx="146.4" cy="259.8" r="1.65"/><circle cx="146.4" cy="253.6" r="1.65"/><circle cx="146.4" cy="270.1" r="1.65"/><circle cx="146.4" cy="264.5" r="1.65"/><circle cx="146.4" cy="270.9" r="1.65"/><circle cx="146.4" cy="262.2" r="1.65"/><circle cx="146.4" cy="271.5" r="1.65"/><circle cx="146.4" cy="268.7" r="1.65"/><circle cx="146.4" cy="267.7" r="1.65"/><circle cx="146.4" cy="266.0" r="1.65"/><circle cx="146.4" cy="265.2" r="1.65"/><circle cx="146.4" cy="263.9" r="1.65"/><circle cx="146.4" cy="263.9" r="1.65"/><circle cx="146.4" cy="269.8" r="1.65"/><circle cx="146.4" cy="258.1" r="1.65"/><circle cx="146.4" cy="275.7" r="1.65"/><circle cx="146.4" cy="261.3" r="1.65"/><circle cx="146.4" cy="269.8" r="1.65"/><circle cx="146.4" cy="261.4" r="1.65"/><circle cx="146.4" cy="260.2" r="1.65"/><circle cx="146.4" cy="278.0" r="1.65"/><circle cx="146.4" cy="259.7" r="1.65"/><circle cx="148.6" cy="283.8" r="1.65"/><circle cx="148.6" cy="266.2" r="1.65"/><circle cx="148.6" cy="272.8" r="1.65"/><circle cx="148.6" cy="255.3" r="1.65"/><circle cx="148.6" cy="267.5" r="1.65"/><circle cx="148.6" cy="270.4" r="1.65"/><circle cx="148.6" cy="280.6" r="1.65"/><circle cx="148.6" cy="258.1" r="1.65"/><circle cx="148.6" cy="269.8" r="1.65"/><circle cx="148.6" cy="267.1" r="1.65"/><circle cx="148.6" cy="255.1" r="1.65"/><circle cx="148.6" cy="264.2" r="1.65"/><circle cx="148.6" cy="262.0" r="1.65"/><circle cx="148.6" cy="243.6" r="1.65"/><circle cx="148.6" cy="269.8" r="1.65"/><circle cx="148.6" cy="269.2" r="1.65"/><circle cx="148.6" cy="260.4" r="1.65"/><circle cx="148.6" cy="252.3" r="1.65"/><circle cx="148.6" cy="277.7" r="1.65"/><circle cx="148.6" cy="266.8" r="1.65"/><circle cx="148.6" cy="273.5" r="1.65"/><circle cx="148.6" cy="277.1" r="1.65"/><circle cx="148.6" cy="259.7" r="1.65"/><circle cx="148.6" cy="271.7" r="1.65"/><circle cx="148.6" cy="262.2" r="1.65"/><circle cx="148.6" cy="263.8" r="1.65"/><circle cx="148.6" cy="263.6" r="1.65"/><circle cx="148.6" cy="264.4" r="1.65"/><circle cx="150.8" cy="263.6" r="1.65"/><circle cx="150.8" cy="268.5" r="1.65"/><circle cx="150.8" cy="258.7" r="1.65"/><circle cx="150.8" cy="261.8" r="1.65"/><circle cx="150.8" cy="265.4" r="1.65"/><circle cx="150.8" cy="261.3" r="1.65"/><circle cx="150.8" cy="264.8" r="1.65"/><circle cx="150.8" cy="260.9" r="1.65"/><circle cx="150.8" cy="281.7" r="1.65"/><circle cx="150.8" cy="276.3" r="1.65"/><circle cx="150.8" cy="269.4" r="1.65"/><circle cx="150.8" cy="265.4" r="1.65"/><circle cx="150.8" cy="283.2" r="1.65"/><circle cx="150.8" cy="268.3" r="1.65"/><circle cx="150.8" cy="265.1" r="1.65"/><circle cx="150.8" cy="268.2" r="1.65"/><circle cx="150.8" cy="268.2" r="1.65"/><circle cx="150.8" cy="277.0" r="1.65"/><circle cx="150.8" cy="265.6" r="1.65"/><circle cx="150.8" cy="282.5" r="1.65"/><circle cx="150.8" cy="258.8" r="1.65"/><circle cx="150.8" cy="271.3" r="1.65"/><circle cx="150.8" cy="257.8" r="1.65"/><circle cx="150.8" cy="280.2" r="1.65"/><circle cx="150.8" cy="263.2" r="1.65"/><circle cx="150.8" cy="265.3" r="1.65"/><circle cx="150.8" cy="273.1" r="1.65"/><circle cx="150.8" cy="275.8" r="1.65"/><circle cx="153.0" cy="263.3" r="1.65"/><circle cx="153.0" cy="260.8" r="1.65"/><circle cx="153.0" cy="258.2" r="1.65"/><circle cx="153.0" cy="254.7" r="1.65"/><circle cx="153.0" cy="257.8" r="1.65"/><circle cx="153.0" cy="254.1" r="1.65"/><circle cx="153.0" cy="267.4" r="1.65"/><circle cx="153.0" cy="277.7" r="1.65"/><circle cx="153.0" cy="241.7" r="1.65"/><circle cx="153.0" cy="260.6" r="1.65"/><circle cx="153.0" cy="257.5" r="1.65"/><circle cx="153.0" cy="267.0" r="1.65"/><circle cx="153.0" cy="251.9" r="1.65"/><circle cx="153.0" cy="260.3" r="1.65"/><circle cx="153.0" cy="251.0" r="1.65"/><circle cx="153.0" cy="269.1" r="1.65"/><circle cx="153.0" cy="262.9" r="1.65"/><circle cx="153.0" cy="260.2" r="1.65"/><circle cx="153.0" cy="265.7" r="1.65"/><circle cx="153.0" cy="259.3" r="1.65"/><circle cx="153.0" cy="245.6" r="1.65"/><circle cx="153.0" cy="268.1" r="1.65"/><circle cx="153.0" cy="264.9" r="1.65"/><circle cx="153.0" cy="260.2" r="1.65"/><circle cx="153.0" cy="272.1" r="1.65"/><circle cx="153.0" cy="274.6" r="1.65"/><circle cx="153.0" cy="250.5" r="1.65"/><circle cx="153.0" cy="253.7" r="1.65"/><circle cx="154.8" cy="253.1" r="1.65"/><circle cx="154.8" cy="258.7" r="1.65"/><circle cx="154.8" cy="260.2" r="1.65"/><circle cx="154.8" cy="249.0" r="1.65"/><circle cx="154.8" cy="265.6" r="1.65"/><circle cx="154.8" cy="252.1" r="1.65"/><circle cx="154.8" cy="252.8" r="1.65"/><circle cx="154.8" cy="274.7" r="1.65"/><circle cx="154.8" cy="258.2" r="1.65"/><circle cx="154.8" cy="264.5" r="1.65"/><circle cx="154.8" cy="271.8" r="1.65"/><circle cx="154.8" cy="273.7" r="1.65"/><circle cx="154.8" cy="261.8" r="1.65"/><circle cx="154.8" cy="265.7" r="1.65"/><circle cx="154.8" cy="256.8" r="1.65"/><circle cx="154.8" cy="283.3" r="1.65"/><circle cx="154.8" cy="272.0" r="1.65"/><circle cx="154.8" cy="253.9" r="1.65"/><circle cx="154.8" cy="265.3" r="1.65"/><circle cx="154.8" cy="272.6" r="1.65"/><circle cx="154.8" cy="270.2" r="1.65"/><circle cx="154.8" cy="284.1" r="1.65"/><circle cx="154.8" cy="279.4" r="1.65"/><circle cx="154.8" cy="259.7" r="1.65"/><circle cx="154.8" cy="264.4" r="1.65"/><circle cx="154.8" cy="252.1" r="1.65"/><circle cx="154.8" cy="267.8" r="1.65"/><circle cx="154.8" cy="266.8" r="1.65"/><circle cx="156.9" cy="250.7" r="1.65"/><circle cx="156.9" cy="259.0" r="1.65"/><circle cx="156.9" cy="244.6" r="1.65"/><circle cx="156.9" cy="248.7" r="1.65"/><circle cx="156.9" cy="254.0" r="1.65"/><circle cx="156.9" cy="261.4" r="1.65"/><circle cx="156.9" cy="256.1" r="1.65"/><circle cx="156.9" cy="248.4" r="1.65"/><circle cx="156.9" cy="266.1" r="1.65"/><circle cx="156.9" cy="252.1" r="1.65"/><circle cx="156.9" cy="252.6" r="1.65"/><circle cx="156.9" cy="243.3" r="1.65"/><circle cx="156.9" cy="249.5" r="1.65"/><circle cx="156.9" cy="264.7" r="1.65"/><circle cx="156.9" cy="240.8" r="1.65"/><circle cx="156.9" cy="257.1" r="1.65"/><circle cx="156.9" cy="265.4" r="1.65"/><circle cx="156.9" cy="253.8" r="1.65"/><circle cx="156.9" cy="260.3" r="1.65"/><circle cx="156.9" cy="246.1" r="1.65"/><circle cx="156.9" cy="271.6" r="1.65"/><circle cx="156.9" cy="269.4" r="1.65"/><circle cx="156.9" cy="260.3" r="1.65"/><circle cx="156.9" cy="239.3" r="1.65"/><circle cx="156.9" cy="246.8" r="1.65"/><circle cx="156.9" cy="268.1" r="1.65"/><circle cx="156.9" cy="275.8" r="1.65"/><circle cx="156.9" cy="260.9" r="1.65"/><circle cx="159.1" cy="253.1" r="1.65"/><circle cx="159.1" cy="257.2" r="1.65"/><circle cx="159.1" cy="238.5" r="1.65"/><circle cx="159.1" cy="262.1" r="1.65"/><circle cx="159.1" cy="265.8" r="1.65"/><circle cx="159.1" cy="242.1" r="1.65"/><circle cx="159.1" cy="240.2" r="1.65"/><circle cx="159.1" cy="256.5" r="1.65"/><circle cx="159.1" cy="246.9" r="1.65"/><circle cx="159.1" cy="231.2" r="1.65"/><circle cx="159.1" cy="260.8" r="1.65"/><circle cx="159.1" cy="254.6" r="1.65"/><circle cx="159.1" cy="248.6" r="1.65"/><circle cx="159.1" cy="273.3" r="1.65"/><circle cx="159.1" cy="254.5" r="1.65"/><circle cx="159.1" cy="245.9" r="1.65"/><circle cx="159.1" cy="254.1" r="1.65"/><circle cx="159.1" cy="243.2" r="1.65"/><circle cx="159.1" cy="245.8" r="1.65"/><circle cx="159.1" cy="256.8" r="1.65"/><circle cx="159.1" cy="247.8" r="1.65"/><circle cx="159.1" cy="248.8" r="1.65"/><circle cx="159.1" cy="269.1" r="1.65"/><circle cx="159.1" cy="261.3" r="1.65"/><circle cx="159.1" cy="260.8" r="1.65"/><circle cx="159.1" cy="258.2" r="1.65"/><circle cx="159.1" cy="257.8" r="1.65"/><circle cx="159.1" cy="267.0" r="1.65"/><circle cx="161.9" cy="259.6" r="1.65"/><circle cx="161.9" cy="250.2" r="1.65"/><circle cx="161.9" cy="258.9" r="1.65"/><circle cx="161.9" cy="266.0" r="1.65"/><circle cx="161.9" cy="273.8" r="1.65"/><circle cx="161.9" cy="256.2" r="1.65"/><circle cx="161.9" cy="261.8" r="1.65"/><circle cx="161.9" cy="258.7" r="1.65"/><circle cx="161.9" cy="255.6" r="1.65"/><circle cx="161.9" cy="251.8" r="1.65"/><circle cx="161.9" cy="262.2" r="1.65"/><circle cx="161.9" cy="247.3" r="1.65"/><circle cx="161.9" cy="262.6" r="1.65"/><circle cx="161.9" cy="261.9" r="1.65"/><circle cx="161.9" cy="256.2" r="1.65"/><circle cx="161.9" cy="253.3" r="1.65"/><circle cx="161.9" cy="250.2" r="1.65"/><circle cx="161.9" cy="277.3" r="1.65"/><circle cx="161.9" cy="250.5" r="1.65"/><circle cx="161.9" cy="274.7" r="1.65"/><circle cx="161.9" cy="266.7" r="1.65"/><circle cx="161.9" cy="258.7" r="1.65"/><circle cx="161.9" cy="252.1" r="1.65"/><circle cx="161.9" cy="270.4" r="1.65"/><circle cx="161.9" cy="276.2" r="1.65"/><circle cx="161.9" cy="253.9" r="1.65"/><circle cx="161.9" cy="259.2" r="1.65"/><circle cx="161.9" cy="270.5" r="1.65"/><circle cx="163.4" cy="266.2" r="1.65"/><circle cx="163.4" cy="253.5" r="1.65"/><circle cx="163.4" cy="277.2" r="1.65"/><circle cx="163.4" cy="257.2" r="1.65"/><circle cx="163.4" cy="246.7" r="1.65"/><circle cx="163.4" cy="261.5" r="1.65"/><circle cx="163.4" cy="261.4" r="1.65"/><circle cx="163.4" cy="275.9" r="1.65"/><circle cx="163.4" cy="260.0" r="1.65"/><circle cx="163.4" cy="262.3" r="1.65"/><circle cx="163.4" cy="266.6" r="1.65"/><circle cx="163.4" cy="273.6" r="1.65"/><circle cx="163.4" cy="261.9" r="1.65"/><circle cx="163.4" cy="269.7" r="1.65"/><circle cx="163.4" cy="266.0" r="1.65"/><circle cx="163.4" cy="260.3" r="1.65"/><circle cx="163.4" cy="262.9" r="1.65"/><circle cx="163.4" cy="262.6" r="1.65"/><circle cx="163.4" cy="255.9" r="1.65"/><circle cx="163.4" cy="270.9" r="1.65"/><circle cx="163.4" cy="252.5" r="1.65"/><circle cx="163.4" cy="270.6" r="1.65"/><circle cx="163.4" cy="269.1" r="1.65"/><circle cx="163.4" cy="261.7" r="1.65"/><circle cx="163.4" cy="256.9" r="1.65"/><circle cx="163.4" cy="260.7" r="1.65"/><circle cx="163.4" cy="265.7" r="1.65"/><circle cx="163.4" cy="267.6" r="1.65"/><circle cx="166.0" cy="251.3" r="1.65"/><circle cx="166.0" cy="253.0" r="1.65"/><circle cx="166.0" cy="258.4" r="1.65"/><circle cx="166.0" cy="246.0" r="1.65"/><circle cx="166.0" cy="262.0" r="1.65"/><circle cx="166.0" cy="257.8" r="1.65"/><circle cx="166.0" cy="253.9" r="1.65"/><circle cx="166.0" cy="264.7" r="1.65"/><circle cx="166.0" cy="261.5" r="1.65"/><circle cx="166.0" cy="241.0" r="1.65"/><circle cx="166.0" cy="257.1" r="1.65"/><circle cx="166.0" cy="246.8" r="1.65"/><circle cx="166.0" cy="264.1" r="1.65"/><circle cx="166.0" cy="272.5" r="1.65"/><circle cx="166.0" cy="253.2" r="1.65"/><circle cx="166.0" cy="257.3" r="1.65"/><circle cx="166.0" cy="255.1" r="1.65"/><circle cx="166.0" cy="259.2" r="1.65"/><circle cx="166.0" cy="261.2" r="1.65"/><circle cx="166.0" cy="265.6" r="1.65"/><circle cx="166.0" cy="250.0" r="1.65"/><circle cx="166.0" cy="267.5" r="1.65"/><circle cx="166.0" cy="250.4" r="1.65"/><circle cx="166.0" cy="258.7" r="1.65"/><circle cx="166.0" cy="264.7" r="1.65"/><circle cx="166.0" cy="261.7" r="1.65"/><circle cx="166.0" cy="250.4" r="1.65"/><circle cx="166.0" cy="252.0" r="1.65"/><circle cx="168.2" cy="242.2" r="1.65"/><circle cx="168.2" cy="256.0" r="1.65"/><circle cx="168.2" cy="257.2" r="1.65"/><circle cx="168.2" cy="256.8" r="1.65"/><circle cx="168.2" cy="256.0" r="1.65"/><circle cx="168.2" cy="264.3" r="1.65"/><circle cx="168.2" cy="256.2" r="1.65"/><circle cx="168.2" cy="259.1" r="1.65"/><circle cx="168.2" cy="256.8" r="1.65"/><circle cx="168.2" cy="266.5" r="1.65"/><circle cx="168.2" cy="237.4" r="1.65"/><circle cx="168.2" cy="262.4" r="1.65"/><circle cx="168.2" cy="250.3" r="1.65"/><circle cx="168.2" cy="250.1" r="1.65"/><circle cx="168.2" cy="244.7" r="1.65"/><circle cx="168.2" cy="237.7" r="1.65"/><circle cx="168.2" cy="249.4" r="1.65"/><circle cx="168.2" cy="246.9" r="1.65"/><circle cx="168.2" cy="256.2" r="1.65"/><circle cx="168.2" cy="240.8" r="1.65"/><circle cx="168.2" cy="263.6" r="1.65"/><circle cx="168.2" cy="254.5" r="1.65"/><circle cx="168.2" cy="250.4" r="1.65"/><circle cx="168.2" cy="246.8" r="1.65"/><circle cx="168.2" cy="246.2" r="1.65"/><circle cx="168.2" cy="243.5" r="1.65"/><circle cx="168.2" cy="248.1" r="1.65"/><circle cx="168.2" cy="252.4" r="1.65"/><circle cx="170.3" cy="241.1" r="1.65"/><circle cx="170.3" cy="251.7" r="1.65"/><circle cx="170.3" cy="269.0" r="1.65"/><circle cx="170.3" cy="256.4" r="1.65"/><circle cx="170.3" cy="246.9" r="1.65"/><circle cx="170.3" cy="233.7" r="1.65"/><circle cx="170.3" cy="235.8" r="1.65"/><circle cx="170.3" cy="233.0" r="1.65"/><circle cx="170.3" cy="257.4" r="1.65"/><circle cx="170.3" cy="242.4" r="1.65"/><circle cx="170.3" cy="250.7" r="1.65"/><circle cx="170.3" cy="243.8" r="1.65"/><circle cx="170.3" cy="251.0" r="1.65"/><circle cx="170.3" cy="264.3" r="1.65"/><circle cx="170.3" cy="243.2" r="1.65"/><circle cx="170.3" cy="246.6" r="1.65"/><circle cx="170.3" cy="241.9" r="1.65"/><circle cx="170.3" cy="258.9" r="1.65"/><circle cx="170.3" cy="239.7" r="1.65"/><circle cx="170.3" cy="238.6" r="1.65"/><circle cx="170.3" cy="236.1" r="1.65"/><circle cx="170.3" cy="235.8" r="1.65"/><circle cx="170.3" cy="254.9" r="1.65"/><circle cx="170.3" cy="273.4" r="1.65"/><circle cx="170.3" cy="240.0" r="1.65"/><circle cx="170.3" cy="259.7" r="1.65"/><circle cx="170.3" cy="252.6" r="1.65"/><circle cx="170.3" cy="238.9" r="1.65"/><circle cx="172.7" cy="270.4" r="1.65"/><circle cx="172.7" cy="241.5" r="1.65"/><circle cx="172.7" cy="258.7" r="1.65"/><circle cx="172.7" cy="258.4" r="1.65"/><circle cx="172.7" cy="251.5" r="1.65"/><circle cx="172.7" cy="257.0" r="1.65"/><circle cx="172.7" cy="262.5" r="1.65"/><circle cx="172.7" cy="257.0" r="1.65"/><circle cx="172.7" cy="259.0" r="1.65"/><circle cx="172.7" cy="261.1" r="1.65"/><circle cx="172.7" cy="240.6" r="1.65"/><circle cx="172.7" cy="267.0" r="1.65"/><circle cx="172.7" cy="273.1" r="1.65"/><circle cx="172.7" cy="263.3" r="1.65"/><circle cx="172.7" cy="263.5" r="1.65"/><circle cx="172.7" cy="245.3" r="1.65"/><circle cx="172.7" cy="255.0" r="1.65"/><circle cx="172.7" cy="249.7" r="1.65"/><circle cx="172.7" cy="251.4" r="1.65"/><circle cx="172.7" cy="263.2" r="1.65"/><circle cx="172.7" cy="249.8" r="1.65"/><circle cx="172.7" cy="254.9" r="1.65"/><circle cx="172.7" cy="241.5" r="1.65"/><circle cx="172.7" cy="254.7" r="1.65"/><circle cx="172.7" cy="256.6" r="1.65"/><circle cx="172.7" cy="250.6" r="1.65"/><circle cx="172.7" cy="250.4" r="1.65"/><circle cx="172.7" cy="270.1" r="1.65"/><circle cx="174.7" cy="260.1" r="1.65"/><circle cx="174.7" cy="266.2" r="1.65"/><circle cx="174.7" cy="254.3" r="1.65"/><circle cx="174.7" cy="247.2" r="1.65"/><circle cx="174.7" cy="249.1" r="1.65"/><circle cx="174.7" cy="259.2" r="1.65"/><circle cx="174.7" cy="245.9" r="1.65"/><circle cx="174.7" cy="261.8" r="1.65"/><circle cx="174.7" cy="261.6" r="1.65"/><circle cx="174.7" cy="252.5" r="1.65"/><circle cx="174.7" cy="256.4" r="1.65"/><circle cx="174.7" cy="257.1" r="1.65"/><circle cx="174.7" cy="262.5" r="1.65"/><circle cx="174.7" cy="245.0" r="1.65"/><circle cx="174.7" cy="260.0" r="1.65"/><circle cx="174.7" cy="249.5" r="1.65"/><circle cx="174.7" cy="246.9" r="1.65"/><circle cx="174.7" cy="252.7" r="1.65"/><circle cx="174.7" cy="250.6" r="1.65"/><circle cx="174.7" cy="245.4" r="1.65"/><circle cx="174.7" cy="241.3" r="1.65"/><circle cx="174.7" cy="245.7" r="1.65"/><circle cx="174.7" cy="261.8" r="1.65"/><circle cx="174.7" cy="265.2" r="1.65"/><circle cx="174.7" cy="256.4" r="1.65"/><circle cx="174.7" cy="260.0" r="1.65"/><circle cx="174.7" cy="248.5" r="1.65"/><circle cx="174.7" cy="251.5" r="1.65"/><circle cx="177.1" cy="249.3" r="1.65"/><circle cx="177.1" cy="245.2" r="1.65"/><circle cx="177.1" cy="237.9" r="1.65"/><circle cx="177.1" cy="252.1" r="1.65"/><circle cx="177.1" cy="245.8" r="1.65"/><circle cx="177.1" cy="258.3" r="1.65"/><circle cx="177.1" cy="248.3" r="1.65"/><circle cx="177.1" cy="245.4" r="1.65"/><circle cx="177.1" cy="249.6" r="1.65"/><circle cx="177.1" cy="246.7" r="1.65"/><circle cx="177.1" cy="241.8" r="1.65"/><circle cx="177.1" cy="244.4" r="1.65"/><circle cx="177.1" cy="255.7" r="1.65"/><circle cx="177.1" cy="254.7" r="1.65"/><circle cx="177.1" cy="260.9" r="1.65"/><circle cx="177.1" cy="231.8" r="1.65"/><circle cx="177.1" cy="244.5" r="1.65"/><circle cx="177.1" cy="244.3" r="1.65"/><circle cx="177.1" cy="250.0" r="1.65"/><circle cx="177.1" cy="243.9" r="1.65"/><circle cx="177.1" cy="243.3" r="1.65"/><circle cx="177.1" cy="256.0" r="1.65"/><circle cx="177.1" cy="250.1" r="1.65"/><circle cx="177.1" cy="236.9" r="1.65"/><circle cx="177.1" cy="261.4" r="1.65"/><circle cx="177.1" cy="258.1" r="1.65"/><circle cx="177.1" cy="242.7" r="1.65"/><circle cx="177.1" cy="256.5" r="1.65"/><circle cx="179.3" cy="244.9" r="1.65"/><circle cx="179.3" cy="248.8" r="1.65"/><circle cx="179.3" cy="245.2" r="1.65"/><circle cx="179.3" cy="254.0" r="1.65"/><circle cx="179.3" cy="253.8" r="1.65"/><circle cx="179.3" cy="252.5" r="1.65"/><circle cx="179.3" cy="247.2" r="1.65"/><circle cx="179.3" cy="231.3" r="1.65"/><circle cx="179.3" cy="253.1" r="1.65"/><circle cx="179.3" cy="235.0" r="1.65"/><circle cx="179.3" cy="254.4" r="1.65"/><circle cx="179.3" cy="262.5" r="1.65"/><circle cx="179.3" cy="254.7" r="1.65"/><circle cx="179.3" cy="248.7" r="1.65"/><circle cx="179.3" cy="250.6" r="1.65"/><circle cx="179.3" cy="251.0" r="1.65"/><circle cx="179.3" cy="247.2" r="1.65"/><circle cx="179.3" cy="246.9" r="1.65"/><circle cx="179.3" cy="243.8" r="1.65"/><circle cx="179.3" cy="263.0" r="1.65"/><circle cx="179.3" cy="252.1" r="1.65"/><circle cx="179.3" cy="260.9" r="1.65"/><circle cx="179.3" cy="249.9" r="1.65"/><circle cx="179.3" cy="252.9" r="1.65"/><circle cx="179.3" cy="250.7" r="1.65"/><circle cx="179.3" cy="256.4" r="1.65"/><circle cx="179.3" cy="259.7" r="1.65"/><circle cx="179.3" cy="254.4" r="1.65"/><circle cx="181.5" cy="240.6" r="1.65"/><circle cx="181.5" cy="240.5" r="1.65"/><circle cx="181.5" cy="253.1" r="1.65"/><circle cx="181.5" cy="250.4" r="1.65"/><circle cx="181.5" cy="246.4" r="1.65"/><circle cx="181.5" cy="239.7" r="1.65"/><circle cx="181.5" cy="259.0" r="1.65"/><circle cx="181.5" cy="245.4" r="1.65"/><circle cx="181.5" cy="246.5" r="1.65"/><circle cx="181.5" cy="241.4" r="1.65"/><circle cx="181.5" cy="232.5" r="1.65"/><circle cx="181.5" cy="233.1" r="1.65"/><circle cx="181.5" cy="245.5" r="1.65"/><circle cx="181.5" cy="245.4" r="1.65"/><circle cx="181.5" cy="240.9" r="1.65"/><circle cx="181.5" cy="234.2" r="1.65"/><circle cx="181.5" cy="232.3" r="1.65"/><circle cx="181.5" cy="240.3" r="1.65"/><circle cx="181.5" cy="232.2" r="1.65"/><circle cx="181.5" cy="249.0" r="1.65"/><circle cx="181.5" cy="250.8" r="1.65"/><circle cx="181.5" cy="259.0" r="1.65"/><circle cx="181.5" cy="248.9" r="1.65"/><circle cx="181.5" cy="238.4" r="1.65"/><circle cx="181.5" cy="236.4" r="1.65"/><circle cx="181.5" cy="226.2" r="1.65"/><circle cx="181.5" cy="238.3" r="1.65"/><circle cx="181.5" cy="241.3" r="1.65"/><circle cx="183.9" cy="246.6" r="1.65"/><circle cx="183.9" cy="251.1" r="1.65"/><circle cx="183.9" cy="258.9" r="1.65"/><circle cx="183.9" cy="234.0" r="1.65"/><circle cx="183.9" cy="240.0" r="1.65"/><circle cx="183.9" cy="230.8" r="1.65"/><circle cx="183.9" cy="260.6" r="1.65"/><circle cx="183.9" cy="257.4" r="1.65"/><circle cx="183.9" cy="252.0" r="1.65"/><circle cx="183.9" cy="232.7" r="1.65"/><circle cx="183.9" cy="246.2" r="1.65"/><circle cx="183.9" cy="242.2" r="1.65"/><circle cx="183.9" cy="245.3" r="1.65"/><circle cx="183.9" cy="242.7" r="1.65"/><circle cx="183.9" cy="249.7" r="1.65"/><circle cx="183.9" cy="240.6" r="1.65"/><circle cx="183.9" cy="253.0" r="1.65"/><circle cx="183.9" cy="246.9" r="1.65"/><circle cx="183.9" cy="241.6" r="1.65"/><circle cx="183.9" cy="243.4" r="1.65"/><circle cx="183.9" cy="240.2" r="1.65"/><circle cx="183.9" cy="252.6" r="1.65"/><circle cx="183.9" cy="241.8" r="1.65"/><circle cx="183.9" cy="247.5" r="1.65"/><circle cx="183.9" cy="240.6" r="1.65"/><circle cx="183.9" cy="229.8" r="1.65"/><circle cx="183.9" cy="253.5" r="1.65"/><circle cx="183.9" cy="234.0" r="1.65"/><circle cx="185.9" cy="237.0" r="1.65"/><circle cx="185.9" cy="240.6" r="1.65"/><circle cx="185.9" cy="238.0" r="1.65"/><circle cx="185.9" cy="235.0" r="1.65"/><circle cx="185.9" cy="251.0" r="1.65"/><circle cx="185.9" cy="242.9" r="1.65"/><circle cx="185.9" cy="248.1" r="1.65"/><circle cx="185.9" cy="241.3" r="1.65"/><circle cx="185.9" cy="247.4" r="1.65"/><circle cx="185.9" cy="238.6" r="1.65"/><circle cx="185.9" cy="244.6" r="1.65"/><circle cx="185.9" cy="249.7" r="1.65"/><circle cx="185.9" cy="245.2" r="1.65"/><circle cx="185.9" cy="241.1" r="1.65"/><circle cx="185.9" cy="235.8" r="1.65"/><circle cx="185.9" cy="246.2" r="1.65"/><circle cx="185.9" cy="247.7" r="1.65"/><circle cx="185.9" cy="242.7" r="1.65"/><circle cx="185.9" cy="238.5" r="1.65"/><circle cx="185.9" cy="249.4" r="1.65"/><circle cx="185.9" cy="264.0" r="1.65"/><circle cx="185.9" cy="242.3" r="1.65"/><circle cx="185.9" cy="247.7" r="1.65"/><circle cx="185.9" cy="248.0" r="1.65"/><circle cx="185.9" cy="225.7" r="1.65"/><circle cx="185.9" cy="245.9" r="1.65"/><circle cx="185.9" cy="239.0" r="1.65"/><circle cx="185.9" cy="256.4" r="1.65"/><circle cx="187.9" cy="245.2" r="1.65"/><circle cx="187.9" cy="238.6" r="1.65"/><circle cx="187.9" cy="243.2" r="1.65"/><circle cx="187.9" cy="231.3" r="1.65"/><circle cx="187.9" cy="241.6" r="1.65"/><circle cx="187.9" cy="250.8" r="1.65"/><circle cx="187.9" cy="261.7" r="1.65"/><circle cx="187.9" cy="250.1" r="1.65"/><circle cx="187.9" cy="246.2" r="1.65"/><circle cx="187.9" cy="254.5" r="1.65"/><circle cx="187.9" cy="253.0" r="1.65"/><circle cx="187.9" cy="258.9" r="1.65"/><circle cx="187.9" cy="253.6" r="1.65"/><circle cx="187.9" cy="242.6" r="1.65"/><circle cx="187.9" cy="246.0" r="1.65"/><circle cx="187.9" cy="245.3" r="1.65"/><circle cx="187.9" cy="246.4" r="1.65"/><circle cx="187.9" cy="245.5" r="1.65"/><circle cx="187.9" cy="236.5" r="1.65"/><circle cx="187.9" cy="224.5" r="1.65"/><circle cx="187.9" cy="237.5" r="1.65"/><circle cx="187.9" cy="225.2" r="1.65"/><circle cx="187.9" cy="244.3" r="1.65"/><circle cx="187.9" cy="243.7" r="1.65"/><circle cx="187.9" cy="228.4" r="1.65"/><circle cx="187.9" cy="250.0" r="1.65"/><circle cx="187.9" cy="251.6" r="1.65"/><circle cx="187.9" cy="244.6" r="1.65"/><circle cx="190.6" cy="264.8" r="1.65"/><circle cx="190.6" cy="259.5" r="1.65"/><circle cx="190.6" cy="259.3" r="1.65"/><circle cx="190.6" cy="263.9" r="1.65"/><circle cx="190.6" cy="249.2" r="1.65"/><circle cx="190.6" cy="250.3" r="1.65"/><circle cx="190.6" cy="248.2" r="1.65"/><circle cx="190.6" cy="248.9" r="1.65"/><circle cx="190.6" cy="254.7" r="1.65"/><circle cx="190.6" cy="242.7" r="1.65"/><circle cx="190.6" cy="246.3" r="1.65"/><circle cx="190.6" cy="260.7" r="1.65"/><circle cx="190.6" cy="255.0" r="1.65"/><circle cx="190.6" cy="259.0" r="1.65"/><circle cx="190.6" cy="238.8" r="1.65"/><circle cx="190.6" cy="248.6" r="1.65"/><circle cx="190.6" cy="250.7" r="1.65"/><circle cx="190.6" cy="255.9" r="1.65"/><circle cx="190.6" cy="250.4" r="1.65"/><circle cx="190.6" cy="263.9" r="1.65"/><circle cx="190.6" cy="255.1" r="1.65"/><circle cx="190.6" cy="255.7" r="1.65"/><circle cx="190.6" cy="255.7" r="1.65"/><circle cx="190.6" cy="261.9" r="1.65"/><circle cx="190.6" cy="251.4" r="1.65"/><circle cx="190.6" cy="265.6" r="1.65"/><circle cx="190.6" cy="259.7" r="1.65"/><circle cx="190.6" cy="257.0" r="1.65"/><circle cx="192.0" cy="262.6" r="1.65"/><circle cx="192.0" cy="257.0" r="1.65"/><circle cx="192.0" cy="262.0" r="1.65"/><circle cx="192.0" cy="254.5" r="1.65"/><circle cx="192.0" cy="265.6" r="1.65"/><circle cx="192.0" cy="253.1" r="1.65"/><circle cx="192.0" cy="232.9" r="1.65"/><circle cx="192.0" cy="266.5" r="1.65"/><circle cx="192.0" cy="254.4" r="1.65"/><circle cx="192.0" cy="241.8" r="1.65"/><circle cx="192.0" cy="251.4" r="1.65"/><circle cx="192.0" cy="244.6" r="1.65"/><circle cx="192.0" cy="274.0" r="1.65"/><circle cx="192.0" cy="258.2" r="1.65"/><circle cx="192.0" cy="237.9" r="1.65"/><circle cx="192.0" cy="258.7" r="1.65"/><circle cx="192.0" cy="249.4" r="1.65"/><circle cx="192.0" cy="272.2" r="1.65"/><circle cx="192.0" cy="243.0" r="1.65"/><circle cx="192.0" cy="231.2" r="1.65"/><circle cx="192.0" cy="254.0" r="1.65"/><circle cx="192.0" cy="249.9" r="1.65"/><circle cx="192.0" cy="249.2" r="1.65"/><circle cx="192.0" cy="232.3" r="1.65"/><circle cx="192.0" cy="257.5" r="1.65"/><circle cx="192.0" cy="269.8" r="1.65"/><circle cx="192.0" cy="234.5" r="1.65"/><circle cx="192.0" cy="264.8" r="1.65"/><circle cx="194.3" cy="260.7" r="1.65"/><circle cx="194.3" cy="270.4" r="1.65"/><circle cx="194.3" cy="266.0" r="1.65"/><circle cx="194.3" cy="257.6" r="1.65"/><circle cx="194.3" cy="267.4" r="1.65"/><circle cx="194.3" cy="258.2" r="1.65"/><circle cx="194.3" cy="248.6" r="1.65"/><circle cx="194.3" cy="277.4" r="1.65"/><circle cx="194.3" cy="259.4" r="1.65"/><circle cx="194.3" cy="257.5" r="1.65"/><circle cx="194.3" cy="264.6" r="1.65"/><circle cx="194.3" cy="250.3" r="1.65"/><circle cx="194.3" cy="251.9" r="1.65"/><circle cx="194.3" cy="258.3" r="1.65"/><circle cx="194.3" cy="258.2" r="1.65"/><circle cx="194.3" cy="262.6" r="1.65"/><circle cx="194.3" cy="270.5" r="1.65"/><circle cx="194.3" cy="258.5" r="1.65"/><circle cx="194.3" cy="265.8" r="1.65"/><circle cx="194.3" cy="266.6" r="1.65"/><circle cx="194.3" cy="253.9" r="1.65"/><circle cx="194.3" cy="263.8" r="1.65"/><circle cx="194.3" cy="255.0" r="1.65"/><circle cx="194.3" cy="270.1" r="1.65"/><circle cx="194.3" cy="265.5" r="1.65"/><circle cx="194.3" cy="262.2" r="1.65"/><circle cx="194.3" cy="252.0" r="1.65"/><circle cx="194.3" cy="262.9" r="1.65"/><circle cx="197.2" cy="253.0" r="1.65"/><circle cx="197.2" cy="266.8" r="1.65"/><circle cx="197.2" cy="265.2" r="1.65"/><circle cx="197.2" cy="254.7" r="1.65"/><circle cx="197.2" cy="268.7" r="1.65"/><circle cx="197.2" cy="257.1" r="1.65"/><circle cx="197.2" cy="257.0" r="1.65"/><circle cx="197.2" cy="260.4" r="1.65"/><circle cx="197.2" cy="253.5" r="1.65"/><circle cx="197.2" cy="255.9" r="1.65"/><circle cx="197.2" cy="258.2" r="1.65"/><circle cx="197.2" cy="271.6" r="1.65"/><circle cx="197.2" cy="271.3" r="1.65"/><circle cx="197.2" cy="257.4" r="1.65"/><circle cx="197.2" cy="272.2" r="1.65"/><circle cx="197.2" cy="259.1" r="1.65"/><circle cx="197.2" cy="262.5" r="1.65"/><circle cx="197.2" cy="266.4" r="1.65"/><circle cx="197.2" cy="261.7" r="1.65"/><circle cx="197.2" cy="277.7" r="1.65"/><circle cx="197.2" cy="261.4" r="1.65"/><circle cx="197.2" cy="249.9" r="1.65"/><circle cx="197.2" cy="269.8" r="1.65"/><circle cx="197.2" cy="256.2" r="1.65"/><circle cx="197.2" cy="257.0" r="1.65"/><circle cx="197.2" cy="241.2" r="1.65"/><circle cx="197.2" cy="267.4" r="1.65"/><circle cx="197.2" cy="265.9" r="1.65"/><circle cx="199.4" cy="261.5" r="1.65"/><circle cx="199.4" cy="268.6" r="1.65"/><circle cx="199.4" cy="256.4" r="1.65"/><circle cx="199.4" cy="259.3" r="1.65"/><circle cx="199.4" cy="269.5" r="1.65"/><circle cx="199.4" cy="264.7" r="1.65"/><circle cx="199.4" cy="252.1" r="1.65"/><circle cx="199.4" cy="264.4" r="1.65"/><circle cx="199.4" cy="260.5" r="1.65"/><circle cx="199.4" cy="255.9" r="1.65"/><circle cx="199.4" cy="265.0" r="1.65"/><circle cx="199.4" cy="258.9" r="1.65"/><circle cx="199.4" cy="250.4" r="1.65"/><circle cx="199.4" cy="253.8" r="1.65"/><circle cx="199.4" cy="274.7" r="1.65"/><circle cx="199.4" cy="250.8" r="1.65"/><circle cx="199.4" cy="263.4" r="1.65"/><circle cx="199.4" cy="266.2" r="1.65"/><circle cx="199.4" cy="266.5" r="1.65"/><circle cx="199.4" cy="252.9" r="1.65"/><circle cx="199.4" cy="259.5" r="1.65"/><circle cx="199.4" cy="262.8" r="1.65"/><circle cx="199.4" cy="267.6" r="1.65"/><circle cx="199.4" cy="257.1" r="1.65"/><circle cx="199.4" cy="253.4" r="1.65"/><circle cx="199.4" cy="269.1" r="1.65"/><circle cx="199.4" cy="269.8" r="1.65"/><circle cx="199.4" cy="264.5" r="1.65"/><circle cx="201.1" cy="266.5" r="1.65"/><circle cx="201.1" cy="253.2" r="1.65"/><circle cx="201.1" cy="261.9" r="1.65"/><circle cx="201.1" cy="260.1" r="1.65"/><circle cx="201.1" cy="254.1" r="1.65"/><circle cx="201.1" cy="262.5" r="1.65"/><circle cx="201.1" cy="261.4" r="1.65"/><circle cx="201.1" cy="258.5" r="1.65"/><circle cx="201.1" cy="263.7" r="1.65"/><circle cx="201.1" cy="252.1" r="1.65"/><circle cx="201.1" cy="260.8" r="1.65"/><circle cx="201.1" cy="263.9" r="1.65"/><circle cx="201.1" cy="263.0" r="1.65"/><circle cx="201.1" cy="268.0" r="1.65"/><circle cx="201.1" cy="253.5" r="1.65"/><circle cx="201.1" cy="251.5" r="1.65"/><circle cx="201.1" cy="262.7" r="1.65"/><circle cx="201.1" cy="264.1" r="1.65"/><circle cx="201.1" cy="274.7" r="1.65"/><circle cx="201.1" cy="265.1" r="1.65"/><circle cx="201.1" cy="255.6" r="1.65"/><circle cx="201.1" cy="266.3" r="1.65"/><circle cx="201.1" cy="255.7" r="1.65"/><circle cx="201.1" cy="251.6" r="1.65"/><circle cx="201.1" cy="275.8" r="1.65"/><circle cx="201.1" cy="263.2" r="1.65"/><circle cx="201.1" cy="265.7" r="1.65"/><circle cx="201.1" cy="264.7" r="1.65"/><circle cx="203.6" cy="253.3" r="1.65"/><circle cx="203.6" cy="250.1" r="1.65"/><circle cx="203.6" cy="274.5" r="1.65"/><circle cx="203.6" cy="274.9" r="1.65"/><circle cx="203.6" cy="266.6" r="1.65"/><circle cx="203.6" cy="264.1" r="1.65"/><circle cx="203.6" cy="263.6" r="1.65"/><circle cx="203.6" cy="256.2" r="1.65"/><circle cx="203.6" cy="275.5" r="1.65"/><circle cx="203.6" cy="267.9" r="1.65"/><circle cx="203.6" cy="266.6" r="1.65"/><circle cx="203.6" cy="265.4" r="1.65"/><circle cx="203.6" cy="271.2" r="1.65"/><circle cx="203.6" cy="266.5" r="1.65"/><circle cx="203.6" cy="268.6" r="1.65"/><circle cx="203.6" cy="252.1" r="1.65"/><circle cx="203.6" cy="266.6" r="1.65"/><circle cx="203.6" cy="281.1" r="1.65"/><circle cx="203.6" cy="257.7" r="1.65"/><circle cx="203.6" cy="261.1" r="1.65"/><circle cx="203.6" cy="269.9" r="1.65"/><circle cx="203.6" cy="270.5" r="1.65"/><circle cx="203.6" cy="267.6" r="1.65"/><circle cx="203.6" cy="248.2" r="1.65"/><circle cx="203.6" cy="266.5" r="1.65"/><circle cx="203.6" cy="251.9" r="1.65"/><circle cx="203.6" cy="255.0" r="1.65"/><circle cx="203.6" cy="266.9" r="1.65"/><circle cx="205.8" cy="259.3" r="1.65"/><circle cx="205.8" cy="270.6" r="1.65"/><circle cx="205.8" cy="270.1" r="1.65"/><circle cx="205.8" cy="257.4" r="1.65"/><circle cx="205.8" cy="259.4" r="1.65"/><circle cx="205.8" cy="256.0" r="1.65"/><circle cx="205.8" cy="260.2" r="1.65"/><circle cx="205.8" cy="255.8" r="1.65"/><circle cx="205.8" cy="259.2" r="1.65"/><circle cx="205.8" cy="262.8" r="1.65"/><circle cx="205.8" cy="256.5" r="1.65"/><circle cx="205.8" cy="253.2" r="1.65"/><circle cx="205.8" cy="253.7" r="1.65"/><circle cx="205.8" cy="268.0" r="1.65"/><circle cx="205.8" cy="264.9" r="1.65"/><circle cx="205.8" cy="272.5" r="1.65"/><circle cx="205.8" cy="272.7" r="1.65"/><circle cx="205.8" cy="261.7" r="1.65"/><circle cx="205.8" cy="269.7" r="1.65"/><circle cx="205.8" cy="253.1" r="1.65"/><circle cx="205.8" cy="282.4" r="1.65"/><circle cx="205.8" cy="273.9" r="1.65"/><circle cx="205.8" cy="262.7" r="1.65"/><circle cx="205.8" cy="255.2" r="1.65"/><circle cx="205.8" cy="267.4" r="1.65"/><circle cx="205.8" cy="249.7" r="1.65"/><circle cx="205.8" cy="258.3" r="1.65"/><circle cx="205.8" cy="270.3" r="1.65"/><circle cx="207.9" cy="252.1" r="1.65"/><circle cx="207.9" cy="262.3" r="1.65"/><circle cx="207.9" cy="256.3" r="1.65"/><circle cx="207.9" cy="253.6" r="1.65"/><circle cx="207.9" cy="263.7" r="1.65"/><circle cx="207.9" cy="252.5" r="1.65"/><circle cx="207.9" cy="274.8" r="1.65"/><circle cx="207.9" cy="255.6" r="1.65"/><circle cx="207.9" cy="275.5" r="1.65"/><circle cx="207.9" cy="251.7" r="1.65"/><circle cx="207.9" cy="264.8" r="1.65"/><circle cx="207.9" cy="250.9" r="1.65"/><circle cx="207.9" cy="249.8" r="1.65"/><circle cx="207.9" cy="261.4" r="1.65"/><circle cx="207.9" cy="265.4" r="1.65"/><circle cx="207.9" cy="250.3" r="1.65"/><circle cx="207.9" cy="269.3" r="1.65"/><circle cx="207.9" cy="254.0" r="1.65"/><circle cx="207.9" cy="261.1" r="1.65"/><circle cx="207.9" cy="263.1" r="1.65"/><circle cx="207.9" cy="264.7" r="1.65"/><circle cx="207.9" cy="246.2" r="1.65"/><circle cx="207.9" cy="272.6" r="1.65"/><circle cx="207.9" cy="264.5" r="1.65"/><circle cx="207.9" cy="256.8" r="1.65"/><circle cx="207.9" cy="252.2" r="1.65"/><circle cx="207.9" cy="247.0" r="1.65"/><circle cx="207.9" cy="249.6" r="1.65"/><circle cx="209.7" cy="255.4" r="1.65"/><circle cx="209.7" cy="274.1" r="1.65"/><circle cx="209.7" cy="257.2" r="1.65"/><circle cx="209.7" cy="254.9" r="1.65"/><circle cx="209.7" cy="272.2" r="1.65"/><circle cx="209.7" cy="264.3" r="1.65"/><circle cx="209.7" cy="260.5" r="1.65"/><circle cx="209.7" cy="254.7" r="1.65"/><circle cx="209.7" cy="246.3" r="1.65"/><circle cx="209.7" cy="249.7" r="1.65"/><circle cx="209.7" cy="255.8" r="1.65"/><circle cx="209.7" cy="258.2" r="1.65"/><circle cx="209.7" cy="263.3" r="1.65"/><circle cx="209.7" cy="265.1" r="1.65"/><circle cx="209.7" cy="262.1" r="1.65"/><circle cx="209.7" cy="262.1" r="1.65"/><circle cx="209.7" cy="251.1" r="1.65"/><circle cx="209.7" cy="240.9" r="1.65"/><circle cx="209.7" cy="255.5" r="1.65"/><circle cx="209.7" cy="251.6" r="1.65"/><circle cx="209.7" cy="254.3" r="1.65"/><circle cx="209.7" cy="257.7" r="1.65"/><circle cx="209.7" cy="249.0" r="1.65"/><circle cx="209.7" cy="250.2" r="1.65"/><circle cx="209.7" cy="259.2" r="1.65"/><circle cx="209.7" cy="261.2" r="1.65"/><circle cx="209.7" cy="254.3" r="1.65"/><circle cx="209.7" cy="264.6" r="1.65"/><circle cx="212.1" cy="274.1" r="1.65"/><circle cx="212.1" cy="251.1" r="1.65"/><circle cx="212.1" cy="267.6" r="1.65"/><circle cx="212.1" cy="269.5" r="1.65"/><circle cx="212.1" cy="270.6" r="1.65"/><circle cx="212.1" cy="249.8" r="1.65"/><circle cx="212.1" cy="275.2" r="1.65"/><circle cx="212.1" cy="258.2" r="1.65"/><circle cx="212.1" cy="254.9" r="1.65"/><circle cx="212.1" cy="255.1" r="1.65"/><circle cx="212.1" cy="262.5" r="1.65"/><circle cx="212.1" cy="257.6" r="1.65"/><circle cx="212.1" cy="255.6" r="1.65"/><circle cx="212.1" cy="268.7" r="1.65"/><circle cx="212.1" cy="250.6" r="1.65"/><circle cx="212.1" cy="247.8" r="1.65"/><circle cx="212.1" cy="264.3" r="1.65"/><circle cx="212.1" cy="263.5" r="1.65"/><circle cx="212.1" cy="267.0" r="1.65"/><circle cx="212.1" cy="247.5" r="1.65"/><circle cx="212.1" cy="266.9" r="1.65"/><circle cx="212.1" cy="261.5" r="1.65"/><circle cx="212.1" cy="273.0" r="1.65"/><circle cx="212.1" cy="245.9" r="1.65"/><circle cx="212.1" cy="259.1" r="1.65"/><circle cx="212.1" cy="254.6" r="1.65"/><circle cx="212.1" cy="242.9" r="1.65"/><circle cx="212.1" cy="250.7" r="1.65"/><circle cx="214.2" cy="263.3" r="1.65"/><circle cx="214.2" cy="264.1" r="1.65"/><circle cx="214.2" cy="264.0" r="1.65"/><circle cx="214.2" cy="252.3" r="1.65"/><circle cx="214.2" cy="257.1" r="1.65"/><circle cx="214.2" cy="264.3" r="1.65"/><circle cx="214.2" cy="253.2" r="1.65"/><circle cx="214.2" cy="252.6" r="1.65"/><circle cx="214.2" cy="263.0" r="1.65"/><circle cx="214.2" cy="267.9" r="1.65"/><circle cx="214.2" cy="249.9" r="1.65"/><circle cx="214.2" cy="242.3" r="1.65"/><circle cx="214.2" cy="247.9" r="1.65"/><circle cx="214.2" cy="250.8" r="1.65"/><circle cx="214.2" cy="256.6" r="1.65"/><circle cx="214.2" cy="261.6" r="1.65"/><circle cx="214.2" cy="256.5" r="1.65"/><circle cx="214.2" cy="252.9" r="1.65"/><circle cx="214.2" cy="258.5" r="1.65"/><circle cx="214.2" cy="251.1" r="1.65"/><circle cx="214.2" cy="257.2" r="1.65"/><circle cx="214.2" cy="253.3" r="1.65"/><circle cx="214.2" cy="272.7" r="1.65"/><circle cx="214.2" cy="262.9" r="1.65"/><circle cx="214.2" cy="252.0" r="1.65"/><circle cx="214.2" cy="250.9" r="1.65"/><circle cx="214.2" cy="254.6" r="1.65"/><circle cx="214.2" cy="246.6" r="1.65"/><circle cx="216.8" cy="249.6" r="1.65"/><circle cx="216.8" cy="245.8" r="1.65"/><circle cx="216.8" cy="240.1" r="1.65"/><circle cx="216.8" cy="241.8" r="1.65"/><circle cx="216.8" cy="253.3" r="1.65"/><circle cx="216.8" cy="251.8" r="1.65"/><circle cx="216.8" cy="265.8" r="1.65"/><circle cx="216.8" cy="247.5" r="1.65"/><circle cx="216.8" cy="265.0" r="1.65"/><circle cx="216.8" cy="256.7" r="1.65"/><circle cx="216.8" cy="254.0" r="1.65"/><circle cx="216.8" cy="233.2" r="1.65"/><circle cx="216.8" cy="240.6" r="1.65"/><circle cx="216.8" cy="261.7" r="1.65"/><circle cx="216.8" cy="268.5" r="1.65"/><circle cx="216.8" cy="256.2" r="1.65"/><circle cx="216.8" cy="261.9" r="1.65"/><circle cx="216.8" cy="249.8" r="1.65"/><circle cx="216.8" cy="250.2" r="1.65"/><circle cx="216.8" cy="247.1" r="1.65"/><circle cx="216.8" cy="264.1" r="1.65"/><circle cx="216.8" cy="257.6" r="1.65"/><circle cx="216.8" cy="251.6" r="1.65"/><circle cx="216.8" cy="250.6" r="1.65"/><circle cx="216.8" cy="259.8" r="1.65"/><circle cx="216.8" cy="257.4" r="1.65"/><circle cx="216.8" cy="245.4" r="1.65"/><circle cx="216.8" cy="271.8" r="1.65"/><circle cx="218.6" cy="265.7" r="1.65"/><circle cx="218.6" cy="253.7" r="1.65"/><circle cx="218.6" cy="260.4" r="1.65"/><circle cx="218.6" cy="243.0" r="1.65"/><circle cx="218.6" cy="247.6" r="1.65"/><circle cx="218.6" cy="230.1" r="1.65"/><circle cx="218.6" cy="267.9" r="1.65"/><circle cx="218.6" cy="234.0" r="1.65"/><circle cx="218.6" cy="262.0" r="1.65"/><circle cx="218.6" cy="245.6" r="1.65"/><circle cx="218.6" cy="244.0" r="1.65"/><circle cx="218.6" cy="252.5" r="1.65"/><circle cx="218.6" cy="257.5" r="1.65"/><circle cx="218.6" cy="261.3" r="1.65"/><circle cx="218.6" cy="273.9" r="1.65"/><circle cx="218.6" cy="258.5" r="1.65"/><circle cx="218.6" cy="264.2" r="1.65"/><circle cx="218.6" cy="248.1" r="1.65"/><circle cx="218.6" cy="262.4" r="1.65"/><circle cx="218.6" cy="256.3" r="1.65"/><circle cx="218.6" cy="249.6" r="1.65"/><circle cx="218.6" cy="253.6" r="1.65"/><circle cx="218.6" cy="253.9" r="1.65"/><circle cx="218.6" cy="256.7" r="1.65"/><circle cx="218.6" cy="259.0" r="1.65"/><circle cx="218.6" cy="249.1" r="1.65"/><circle cx="218.6" cy="246.6" r="1.65"/><circle cx="218.6" cy="262.7" r="1.65"/><circle cx="221.4" cy="231.6" r="1.65"/><circle cx="221.4" cy="243.2" r="1.65"/><circle cx="221.4" cy="253.2" r="1.65"/><circle cx="221.4" cy="236.3" r="1.65"/><circle cx="221.4" cy="264.8" r="1.65"/><circle cx="221.4" cy="231.6" r="1.65"/><circle cx="221.4" cy="258.6" r="1.65"/><circle cx="221.4" cy="259.4" r="1.65"/><circle cx="221.4" cy="254.8" r="1.65"/><circle cx="221.4" cy="246.6" r="1.65"/><circle cx="221.4" cy="250.8" r="1.65"/><circle cx="221.4" cy="241.7" r="1.65"/><circle cx="221.4" cy="254.0" r="1.65"/><circle cx="221.4" cy="240.1" r="1.65"/><circle cx="221.4" cy="246.2" r="1.65"/><circle cx="221.4" cy="255.4" r="1.65"/><circle cx="221.4" cy="240.2" r="1.65"/><circle cx="221.4" cy="245.6" r="1.65"/><circle cx="221.4" cy="249.4" r="1.65"/><circle cx="221.4" cy="238.5" r="1.65"/><circle cx="221.4" cy="256.6" r="1.65"/><circle cx="221.4" cy="250.7" r="1.65"/><circle cx="221.4" cy="237.3" r="1.65"/><circle cx="221.4" cy="247.9" r="1.65"/><circle cx="221.4" cy="242.6" r="1.65"/><circle cx="221.4" cy="243.5" r="1.65"/><circle cx="221.4" cy="248.8" r="1.65"/><circle cx="221.4" cy="243.1" r="1.65"/><circle cx="223.0" cy="244.1" r="1.65"/><circle cx="223.0" cy="250.5" r="1.65"/><circle cx="223.0" cy="240.6" r="1.65"/><circle cx="223.0" cy="240.9" r="1.65"/><circle cx="223.0" cy="236.3" r="1.65"/><circle cx="223.0" cy="248.5" r="1.65"/><circle cx="223.0" cy="251.1" r="1.65"/><circle cx="223.0" cy="259.4" r="1.65"/><circle cx="223.0" cy="253.6" r="1.65"/><circle cx="223.0" cy="246.2" r="1.65"/><circle cx="223.0" cy="243.0" r="1.65"/><circle cx="223.0" cy="247.2" r="1.65"/><circle cx="223.0" cy="244.3" r="1.65"/><circle cx="223.0" cy="254.8" r="1.65"/><circle cx="223.0" cy="251.1" r="1.65"/><circle cx="223.0" cy="238.5" r="1.65"/><circle cx="223.0" cy="239.6" r="1.65"/><circle cx="223.0" cy="254.1" r="1.65"/><circle cx="223.0" cy="246.6" r="1.65"/><circle cx="223.0" cy="242.8" r="1.65"/><circle cx="223.0" cy="252.8" r="1.65"/><circle cx="223.0" cy="241.7" r="1.65"/><circle cx="223.0" cy="242.5" r="1.65"/><circle cx="223.0" cy="241.2" r="1.65"/><circle cx="223.0" cy="230.6" r="1.65"/><circle cx="223.0" cy="250.6" r="1.65"/><circle cx="223.0" cy="235.9" r="1.65"/><circle cx="223.0" cy="240.4" r="1.65"/><circle cx="225.5" cy="243.8" r="1.65"/><circle cx="225.5" cy="228.8" r="1.65"/><circle cx="225.5" cy="242.9" r="1.65"/><circle cx="225.5" cy="230.6" r="1.65"/><circle cx="225.5" cy="246.4" r="1.65"/><circle cx="225.5" cy="246.9" r="1.65"/><circle cx="225.5" cy="243.5" r="1.65"/><circle cx="225.5" cy="261.8" r="1.65"/><circle cx="225.5" cy="248.4" r="1.65"/><circle cx="225.5" cy="249.0" r="1.65"/><circle cx="225.5" cy="245.0" r="1.65"/><circle cx="225.5" cy="242.0" r="1.65"/><circle cx="225.5" cy="252.2" r="1.65"/><circle cx="225.5" cy="253.4" r="1.65"/><circle cx="225.5" cy="232.2" r="1.65"/><circle cx="225.5" cy="253.0" r="1.65"/><circle cx="225.5" cy="248.2" r="1.65"/><circle cx="225.5" cy="252.2" r="1.65"/><circle cx="225.5" cy="247.8" r="1.65"/><circle cx="225.5" cy="232.7" r="1.65"/><circle cx="225.5" cy="233.3" r="1.65"/><circle cx="225.5" cy="259.8" r="1.65"/><circle cx="225.5" cy="245.9" r="1.65"/><circle cx="225.5" cy="231.2" r="1.65"/><circle cx="225.5" cy="246.8" r="1.65"/><circle cx="225.5" cy="240.5" r="1.65"/><circle cx="225.5" cy="227.4" r="1.65"/><circle cx="225.5" cy="223.4" r="1.65"/><circle cx="227.8" cy="235.5" r="1.65"/><circle cx="227.8" cy="240.2" r="1.65"/><circle cx="227.8" cy="243.0" r="1.65"/><circle cx="227.8" cy="219.1" r="1.65"/><circle cx="227.8" cy="235.0" r="1.65"/><circle cx="227.8" cy="230.3" r="1.65"/><circle cx="227.8" cy="226.8" r="1.65"/><circle cx="227.8" cy="232.8" r="1.65"/><circle cx="227.8" cy="236.6" r="1.65"/><circle cx="227.8" cy="235.3" r="1.65"/><circle cx="227.8" cy="224.8" r="1.65"/><circle cx="227.8" cy="233.4" r="1.65"/><circle cx="227.8" cy="255.5" r="1.65"/><circle cx="227.8" cy="228.3" r="1.65"/><circle cx="227.8" cy="222.8" r="1.65"/><circle cx="227.8" cy="240.1" r="1.65"/><circle cx="227.8" cy="242.9" r="1.65"/><circle cx="227.8" cy="241.7" r="1.65"/><circle cx="227.8" cy="227.8" r="1.65"/><circle cx="227.8" cy="246.5" r="1.65"/><circle cx="227.8" cy="230.7" r="1.65"/><circle cx="227.8" cy="227.6" r="1.65"/><circle cx="227.8" cy="232.3" r="1.65"/><circle cx="227.8" cy="236.7" r="1.65"/><circle cx="227.8" cy="244.0" r="1.65"/><circle cx="227.8" cy="243.2" r="1.65"/><circle cx="227.8" cy="237.5" r="1.65"/><circle cx="227.8" cy="245.9" r="1.65"/><circle cx="229.9" cy="225.8" r="1.65"/><circle cx="229.9" cy="243.5" r="1.65"/><circle cx="229.9" cy="227.2" r="1.65"/><circle cx="229.9" cy="235.4" r="1.65"/><circle cx="229.9" cy="236.9" r="1.65"/><circle cx="229.9" cy="234.0" r="1.65"/><circle cx="229.9" cy="234.2" r="1.65"/><circle cx="229.9" cy="248.1" r="1.65"/><circle cx="229.9" cy="220.3" r="1.65"/><circle cx="229.9" cy="244.3" r="1.65"/><circle cx="229.9" cy="254.9" r="1.65"/><circle cx="229.9" cy="237.8" r="1.65"/><circle cx="229.9" cy="237.5" r="1.65"/><circle cx="229.9" cy="243.1" r="1.65"/><circle cx="229.9" cy="251.4" r="1.65"/><circle cx="229.9" cy="228.7" r="1.65"/><circle cx="229.9" cy="238.3" r="1.65"/><circle cx="229.9" cy="236.2" r="1.65"/><circle cx="229.9" cy="241.8" r="1.65"/><circle cx="229.9" cy="238.8" r="1.65"/><circle cx="229.9" cy="242.6" r="1.65"/><circle cx="229.9" cy="234.5" r="1.65"/><circle cx="229.9" cy="238.0" r="1.65"/><circle cx="229.9" cy="232.6" r="1.65"/><circle cx="229.9" cy="232.6" r="1.65"/><circle cx="229.9" cy="236.6" r="1.65"/><circle cx="229.9" cy="236.6" r="1.65"/><circle cx="229.9" cy="228.8" r="1.65"/><circle cx="232.2" cy="242.7" r="1.65"/><circle cx="232.2" cy="223.3" r="1.65"/><circle cx="232.2" cy="236.5" r="1.65"/><circle cx="232.2" cy="231.0" r="1.65"/><circle cx="232.2" cy="233.8" r="1.65"/><circle cx="232.2" cy="233.0" r="1.65"/><circle cx="232.2" cy="225.2" r="1.65"/><circle cx="232.2" cy="231.6" r="1.65"/><circle cx="232.2" cy="252.4" r="1.65"/><circle cx="232.2" cy="207.8" r="1.65"/><circle cx="232.2" cy="231.9" r="1.65"/><circle cx="232.2" cy="235.7" r="1.65"/><circle cx="232.2" cy="220.2" r="1.65"/><circle cx="232.2" cy="216.8" r="1.65"/><circle cx="232.2" cy="253.7" r="1.65"/><circle cx="232.2" cy="227.3" r="1.65"/><circle cx="232.2" cy="252.9" r="1.65"/><circle cx="232.2" cy="236.8" r="1.65"/><circle cx="232.2" cy="232.0" r="1.65"/><circle cx="232.2" cy="236.1" r="1.65"/><circle cx="232.2" cy="237.8" r="1.65"/><circle cx="232.2" cy="243.5" r="1.65"/><circle cx="232.2" cy="235.7" r="1.65"/><circle cx="232.2" cy="232.7" r="1.65"/><circle cx="232.2" cy="233.0" r="1.65"/><circle cx="232.2" cy="245.3" r="1.65"/><circle cx="232.2" cy="239.7" r="1.65"/><circle cx="232.2" cy="220.7" r="1.65"/><circle cx="233.8" cy="227.2" r="1.65"/><circle cx="233.8" cy="222.0" r="1.65"/><circle cx="233.8" cy="228.2" r="1.65"/><circle cx="233.8" cy="234.3" r="1.65"/><circle cx="233.8" cy="239.4" r="1.65"/><circle cx="233.8" cy="230.6" r="1.65"/><circle cx="233.8" cy="249.1" r="1.65"/><circle cx="233.8" cy="229.8" r="1.65"/><circle cx="233.8" cy="251.1" r="1.65"/><circle cx="233.8" cy="239.5" r="1.65"/><circle cx="233.8" cy="235.0" r="1.65"/><circle cx="233.8" cy="226.1" r="1.65"/><circle cx="233.8" cy="210.0" r="1.65"/><circle cx="233.8" cy="229.1" r="1.65"/><circle cx="233.8" cy="232.1" r="1.65"/><circle cx="233.8" cy="247.7" r="1.65"/><circle cx="233.8" cy="218.2" r="1.65"/><circle cx="233.8" cy="247.6" r="1.65"/><circle cx="233.8" cy="228.3" r="1.65"/><circle cx="233.8" cy="237.0" r="1.65"/><circle cx="233.8" cy="210.0" r="1.65"/><circle cx="233.8" cy="231.8" r="1.65"/><circle cx="233.8" cy="227.5" r="1.65"/><circle cx="233.8" cy="236.6" r="1.65"/><circle cx="233.8" cy="231.3" r="1.65"/><circle cx="233.8" cy="220.3" r="1.65"/><circle cx="233.8" cy="239.0" r="1.65"/><circle cx="233.8" cy="236.7" r="1.65"/><circle cx="236.7" cy="229.3" r="1.65"/><circle cx="236.7" cy="218.6" r="1.65"/><circle cx="236.7" cy="218.3" r="1.65"/><circle cx="236.7" cy="240.3" r="1.65"/><circle cx="236.7" cy="235.2" r="1.65"/><circle cx="236.7" cy="230.3" r="1.65"/><circle cx="236.7" cy="226.0" r="1.65"/><circle cx="236.7" cy="229.7" r="1.65"/><circle cx="236.7" cy="229.7" r="1.65"/><circle cx="236.7" cy="226.8" r="1.65"/><circle cx="236.7" cy="223.9" r="1.65"/><circle cx="236.7" cy="246.9" r="1.65"/><circle cx="236.7" cy="231.3" r="1.65"/><circle cx="236.7" cy="224.6" r="1.65"/><circle cx="236.7" cy="219.0" r="1.65"/><circle cx="236.7" cy="223.6" r="1.65"/><circle cx="236.7" cy="235.3" r="1.65"/><circle cx="236.7" cy="235.6" r="1.65"/><circle cx="236.7" cy="227.7" r="1.65"/><circle cx="236.7" cy="229.9" r="1.65"/><circle cx="236.7" cy="227.0" r="1.65"/><circle cx="236.7" cy="220.6" r="1.65"/><circle cx="236.7" cy="240.0" r="1.65"/><circle cx="236.7" cy="232.5" r="1.65"/><circle cx="236.7" cy="248.0" r="1.65"/><circle cx="236.7" cy="223.4" r="1.65"/><circle cx="236.7" cy="228.4" r="1.65"/><circle cx="236.7" cy="236.6" r="1.65"/><circle cx="238.4" cy="219.3" r="1.65"/><circle cx="238.4" cy="221.3" r="1.65"/><circle cx="238.4" cy="217.7" r="1.65"/><circle cx="238.4" cy="226.6" r="1.65"/><circle cx="238.4" cy="226.5" r="1.65"/><circle cx="238.4" cy="221.1" r="1.65"/><circle cx="238.4" cy="218.7" r="1.65"/><circle cx="238.4" cy="216.5" r="1.65"/><circle cx="238.4" cy="223.0" r="1.65"/><circle cx="238.4" cy="225.9" r="1.65"/><circle cx="238.4" cy="219.0" r="1.65"/><circle cx="238.4" cy="222.1" r="1.65"/><circle cx="238.4" cy="215.9" r="1.65"/><circle cx="238.4" cy="207.1" r="1.65"/><circle cx="238.4" cy="210.4" r="1.65"/><circle cx="238.4" cy="224.7" r="1.65"/><circle cx="238.4" cy="222.1" r="1.65"/><circle cx="238.4" cy="231.4" r="1.65"/><circle cx="238.4" cy="219.0" r="1.65"/><circle cx="238.4" cy="225.5" r="1.65"/><circle cx="238.4" cy="229.2" r="1.65"/><circle cx="238.4" cy="226.5" r="1.65"/><circle cx="238.4" cy="213.6" r="1.65"/><circle cx="238.4" cy="217.0" r="1.65"/><circle cx="238.4" cy="219.5" r="1.65"/><circle cx="238.4" cy="210.5" r="1.65"/><circle cx="238.4" cy="222.3" r="1.65"/><circle cx="238.4" cy="226.8" r="1.65"/><circle cx="240.9" cy="224.6" r="1.65"/><circle cx="240.9" cy="224.2" r="1.65"/><circle cx="240.9" cy="219.9" r="1.65"/><circle cx="240.9" cy="230.3" r="1.65"/><circle cx="240.9" cy="226.6" r="1.65"/><circle cx="240.9" cy="241.7" r="1.65"/><circle cx="240.9" cy="232.0" r="1.65"/><circle cx="240.9" cy="231.4" r="1.65"/><circle cx="240.9" cy="224.4" r="1.65"/><circle cx="240.9" cy="213.5" r="1.65"/><circle cx="240.9" cy="225.6" r="1.65"/><circle cx="240.9" cy="218.6" r="1.65"/><circle cx="240.9" cy="235.2" r="1.65"/><circle cx="240.9" cy="226.1" r="1.65"/><circle cx="240.9" cy="241.7" r="1.65"/><circle cx="240.9" cy="233.2" r="1.65"/><circle cx="240.9" cy="234.1" r="1.65"/><circle cx="240.9" cy="228.5" r="1.65"/><circle cx="240.9" cy="228.3" r="1.65"/><circle cx="240.9" cy="232.4" r="1.65"/><circle cx="240.9" cy="234.9" r="1.65"/><circle cx="240.9" cy="219.9" r="1.65"/><circle cx="240.9" cy="230.9" r="1.65"/><circle cx="240.9" cy="247.5" r="1.65"/><circle cx="240.9" cy="225.6" r="1.65"/><circle cx="240.9" cy="224.1" r="1.65"/><circle cx="240.9" cy="220.1" r="1.65"/><circle cx="240.9" cy="213.1" r="1.65"/><circle cx="243.3" cy="235.8" r="1.65"/><circle cx="243.3" cy="240.6" r="1.65"/><circle cx="243.3" cy="206.7" r="1.65"/><circle cx="243.3" cy="227.3" r="1.65"/><circle cx="243.3" cy="222.8" r="1.65"/><circle cx="243.3" cy="220.4" r="1.65"/><circle cx="243.3" cy="221.2" r="1.65"/><circle cx="243.3" cy="215.9" r="1.65"/><circle cx="243.3" cy="233.1" r="1.65"/><circle cx="243.3" cy="222.7" r="1.65"/><circle cx="243.3" cy="219.8" r="1.65"/><circle cx="243.3" cy="229.4" r="1.65"/><circle cx="243.3" cy="225.7" r="1.65"/><circle cx="243.3" cy="221.0" r="1.65"/><circle cx="243.3" cy="219.6" r="1.65"/><circle cx="243.3" cy="234.8" r="1.65"/><circle cx="243.3" cy="221.6" r="1.65"/><circle cx="243.3" cy="215.2" r="1.65"/><circle cx="243.3" cy="207.0" r="1.65"/><circle cx="243.3" cy="212.5" r="1.65"/><circle cx="243.3" cy="205.0" r="1.65"/><circle cx="243.3" cy="217.3" r="1.65"/><circle cx="243.3" cy="218.9" r="1.65"/><circle cx="243.3" cy="194.3" r="1.65"/><circle cx="243.3" cy="216.3" r="1.65"/><circle cx="243.3" cy="223.1" r="1.65"/><circle cx="243.3" cy="217.9" r="1.65"/><circle cx="243.3" cy="206.0" r="1.65"/><circle cx="245.3" cy="199.0" r="1.65"/><circle cx="245.3" cy="210.5" r="1.65"/><circle cx="245.3" cy="221.3" r="1.65"/><circle cx="245.3" cy="223.3" r="1.65"/><circle cx="245.3" cy="213.0" r="1.65"/><circle cx="245.3" cy="197.8" r="1.65"/><circle cx="245.3" cy="203.6" r="1.65"/><circle cx="245.3" cy="201.0" r="1.65"/><circle cx="245.3" cy="208.8" r="1.65"/><circle cx="245.3" cy="191.5" r="1.65"/><circle cx="245.3" cy="211.9" r="1.65"/><circle cx="245.3" cy="217.7" r="1.65"/><circle cx="245.3" cy="209.1" r="1.65"/><circle cx="245.3" cy="215.6" r="1.65"/><circle cx="245.3" cy="200.5" r="1.65"/><circle cx="245.3" cy="195.0" r="1.65"/><circle cx="245.3" cy="203.8" r="1.65"/><circle cx="245.3" cy="223.2" r="1.65"/><circle cx="245.3" cy="221.8" r="1.65"/><circle cx="245.3" cy="205.7" r="1.65"/><circle cx="245.3" cy="223.7" r="1.65"/><circle cx="245.3" cy="207.2" r="1.65"/><circle cx="245.3" cy="227.0" r="1.65"/><circle cx="245.3" cy="215.9" r="1.65"/><circle cx="245.3" cy="205.8" r="1.65"/><circle cx="245.3" cy="219.3" r="1.65"/><circle cx="245.3" cy="202.3" r="1.65"/><circle cx="245.3" cy="200.6" r="1.65"/><circle cx="247.6" cy="210.0" r="1.65"/><circle cx="247.6" cy="207.4" r="1.65"/><circle cx="247.6" cy="221.6" r="1.65"/><circle cx="247.6" cy="207.3" r="1.65"/><circle cx="247.6" cy="205.0" r="1.65"/><circle cx="247.6" cy="220.1" r="1.65"/><circle cx="247.6" cy="221.5" r="1.65"/><circle cx="247.6" cy="213.2" r="1.65"/><circle cx="247.6" cy="197.3" r="1.65"/><circle cx="247.6" cy="206.0" r="1.65"/><circle cx="247.6" cy="215.3" r="1.65"/><circle cx="247.6" cy="210.7" r="1.65"/><circle cx="247.6" cy="222.5" r="1.65"/><circle cx="247.6" cy="200.1" r="1.65"/><circle cx="247.6" cy="215.8" r="1.65"/><circle cx="247.6" cy="205.8" r="1.65"/><circle cx="247.6" cy="220.7" r="1.65"/><circle cx="247.6" cy="210.0" r="1.65"/><circle cx="247.6" cy="218.5" r="1.65"/><circle cx="247.6" cy="205.6" r="1.65"/><circle cx="247.6" cy="199.8" r="1.65"/><circle cx="247.6" cy="202.1" r="1.65"/><circle cx="247.6" cy="205.9" r="1.65"/><circle cx="247.6" cy="202.7" r="1.65"/><circle cx="247.6" cy="219.8" r="1.65"/><circle cx="247.6" cy="220.8" r="1.65"/><circle cx="247.6" cy="212.7" r="1.65"/><circle cx="247.6" cy="202.7" r="1.65"/><circle cx="249.9" cy="207.8" r="1.65"/><circle cx="249.9" cy="209.4" r="1.65"/><circle cx="249.9" cy="201.3" r="1.65"/><circle cx="249.9" cy="186.7" r="1.65"/><circle cx="249.9" cy="197.9" r="1.65"/><circle cx="249.9" cy="194.8" r="1.65"/><circle cx="249.9" cy="208.3" r="1.65"/><circle cx="249.9" cy="205.8" r="1.65"/><circle cx="249.9" cy="197.7" r="1.65"/><circle cx="249.9" cy="201.4" r="1.65"/><circle cx="249.9" cy="219.2" r="1.65"/><circle cx="249.9" cy="196.2" r="1.65"/><circle cx="249.9" cy="196.6" r="1.65"/><circle cx="249.9" cy="202.9" r="1.65"/><circle cx="249.9" cy="198.6" r="1.65"/><circle cx="249.9" cy="201.1" r="1.65"/><circle cx="249.9" cy="209.8" r="1.65"/><circle cx="249.9" cy="220.7" r="1.65"/><circle cx="249.9" cy="188.8" r="1.65"/><circle cx="249.9" cy="204.8" r="1.65"/><circle cx="249.9" cy="205.3" r="1.65"/><circle cx="249.9" cy="204.2" r="1.65"/><circle cx="249.9" cy="203.2" r="1.65"/><circle cx="249.9" cy="201.9" r="1.65"/><circle cx="249.9" cy="214.1" r="1.65"/><circle cx="249.9" cy="200.7" r="1.65"/><circle cx="249.9" cy="203.8" r="1.65"/><circle cx="249.9" cy="204.9" r="1.65"/><circle cx="251.8" cy="205.7" r="1.65"/><circle cx="251.8" cy="207.1" r="1.65"/><circle cx="251.8" cy="205.4" r="1.65"/><circle cx="251.8" cy="198.3" r="1.65"/><circle cx="251.8" cy="199.6" r="1.65"/><circle cx="251.8" cy="197.9" r="1.65"/><circle cx="251.8" cy="207.2" r="1.65"/><circle cx="251.8" cy="200.4" r="1.65"/><circle cx="251.8" cy="197.8" r="1.65"/><circle cx="251.8" cy="207.5" r="1.65"/><circle cx="251.8" cy="209.7" r="1.65"/><circle cx="251.8" cy="192.6" r="1.65"/><circle cx="251.8" cy="218.4" r="1.65"/><circle cx="251.8" cy="206.0" r="1.65"/><circle cx="251.8" cy="205.0" r="1.65"/><circle cx="251.8" cy="213.7" r="1.65"/><circle cx="251.8" cy="206.3" r="1.65"/><circle cx="251.8" cy="201.2" r="1.65"/><circle cx="251.8" cy="222.1" r="1.65"/><circle cx="251.8" cy="197.7" r="1.65"/><circle cx="251.8" cy="205.0" r="1.65"/><circle cx="251.8" cy="212.1" r="1.65"/><circle cx="251.8" cy="197.8" r="1.65"/><circle cx="251.8" cy="205.0" r="1.65"/><circle cx="251.8" cy="208.6" r="1.65"/><circle cx="251.8" cy="222.9" r="1.65"/><circle cx="251.8" cy="199.1" r="1.65"/><circle cx="251.8" cy="205.4" r="1.65"/><circle cx="254.3" cy="213.6" r="1.65"/><circle cx="254.3" cy="210.2" r="1.65"/><circle cx="254.3" cy="214.0" r="1.65"/><circle cx="254.3" cy="221.8" r="1.65"/><circle cx="254.3" cy="220.5" r="1.65"/><circle cx="254.3" cy="213.6" r="1.65"/><circle cx="254.3" cy="212.5" r="1.65"/><circle cx="254.3" cy="196.4" r="1.65"/><circle cx="254.3" cy="207.4" r="1.65"/><circle cx="254.3" cy="211.5" r="1.65"/><circle cx="254.3" cy="204.4" r="1.65"/><circle cx="254.3" cy="210.1" r="1.65"/><circle cx="254.3" cy="199.5" r="1.65"/><circle cx="254.3" cy="226.4" r="1.65"/><circle cx="254.3" cy="233.5" r="1.65"/><circle cx="254.3" cy="204.5" r="1.65"/><circle cx="254.3" cy="213.5" r="1.65"/><circle cx="254.3" cy="206.3" r="1.65"/><circle cx="254.3" cy="223.3" r="1.65"/><circle cx="254.3" cy="213.9" r="1.65"/><circle cx="254.3" cy="209.8" r="1.65"/><circle cx="254.3" cy="206.4" r="1.65"/><circle cx="254.3" cy="210.4" r="1.65"/><circle cx="254.3" cy="197.6" r="1.65"/><circle cx="254.3" cy="216.7" r="1.65"/><circle cx="254.3" cy="200.8" r="1.65"/><circle cx="254.3" cy="215.0" r="1.65"/><circle cx="254.3" cy="210.4" r="1.65"/><circle cx="256.4" cy="205.7" r="1.65"/><circle cx="256.4" cy="217.7" r="1.65"/><circle cx="256.4" cy="211.1" r="1.65"/><circle cx="256.4" cy="214.4" r="1.65"/><circle cx="256.4" cy="213.5" r="1.65"/><circle cx="256.4" cy="220.2" r="1.65"/><circle cx="256.4" cy="197.1" r="1.65"/><circle cx="256.4" cy="215.4" r="1.65"/><circle cx="256.4" cy="201.2" r="1.65"/><circle cx="256.4" cy="222.4" r="1.65"/><circle cx="256.4" cy="197.4" r="1.65"/><circle cx="256.4" cy="205.0" r="1.65"/><circle cx="256.4" cy="199.8" r="1.65"/><circle cx="256.4" cy="225.8" r="1.65"/><circle cx="256.4" cy="202.8" r="1.65"/><circle cx="256.4" cy="213.8" r="1.65"/><circle cx="256.4" cy="208.7" r="1.65"/><circle cx="256.4" cy="198.8" r="1.65"/><circle cx="256.4" cy="210.3" r="1.65"/><circle cx="256.4" cy="218.1" r="1.65"/><circle cx="256.4" cy="211.5" r="1.65"/><circle cx="256.4" cy="220.3" r="1.65"/><circle cx="256.4" cy="210.1" r="1.65"/><circle cx="256.4" cy="213.0" r="1.65"/><circle cx="256.4" cy="209.9" r="1.65"/><circle cx="256.4" cy="215.6" r="1.65"/><circle cx="256.4" cy="227.8" r="1.65"/><circle cx="256.4" cy="215.7" r="1.65"/><circle cx="258.2" cy="233.8" r="1.65"/><circle cx="258.2" cy="203.8" r="1.65"/><circle cx="258.2" cy="206.1" r="1.65"/><circle cx="258.2" cy="215.6" r="1.65"/><circle cx="258.2" cy="211.8" r="1.65"/><circle cx="258.2" cy="239.5" r="1.65"/><circle cx="258.2" cy="190.0" r="1.65"/><circle cx="258.2" cy="220.9" r="1.65"/><circle cx="258.2" cy="225.0" r="1.65"/><circle cx="258.2" cy="203.7" r="1.65"/><circle cx="258.2" cy="209.2" r="1.65"/><circle cx="258.2" cy="221.8" r="1.65"/><circle cx="258.2" cy="235.7" r="1.65"/><circle cx="258.2" cy="206.0" r="1.65"/><circle cx="258.2" cy="198.4" r="1.65"/><circle cx="258.2" cy="228.1" r="1.65"/><circle cx="258.2" cy="234.5" r="1.65"/><circle cx="258.2" cy="212.8" r="1.65"/><circle cx="258.2" cy="191.0" r="1.65"/><circle cx="258.2" cy="233.6" r="1.65"/><circle cx="258.2" cy="214.4" r="1.65"/><circle cx="258.2" cy="229.8" r="1.65"/><circle cx="258.2" cy="216.2" r="1.65"/><circle cx="258.2" cy="212.4" r="1.65"/><circle cx="258.2" cy="211.5" r="1.65"/><circle cx="258.2" cy="233.9" r="1.65"/><circle cx="258.2" cy="233.4" r="1.65"/><circle cx="258.2" cy="191.8" r="1.65"/><circle cx="260.3" cy="220.7" r="1.65"/><circle cx="260.3" cy="232.2" r="1.65"/><circle cx="260.3" cy="231.3" r="1.65"/><circle cx="260.3" cy="231.4" r="1.65"/><circle cx="260.3" cy="228.1" r="1.65"/><circle cx="260.3" cy="229.6" r="1.65"/><circle cx="260.3" cy="228.3" r="1.65"/><circle cx="260.3" cy="235.0" r="1.65"/><circle cx="260.3" cy="225.3" r="1.65"/><circle cx="260.3" cy="229.7" r="1.65"/><circle cx="260.3" cy="231.0" r="1.65"/><circle cx="260.3" cy="243.2" r="1.65"/><circle cx="260.3" cy="235.3" r="1.65"/><circle cx="260.3" cy="231.3" r="1.65"/><circle cx="260.3" cy="236.7" r="1.65"/><circle cx="260.3" cy="235.6" r="1.65"/><circle cx="260.3" cy="241.4" r="1.65"/><circle cx="260.3" cy="236.5" r="1.65"/><circle cx="260.3" cy="247.3" r="1.65"/><circle cx="260.3" cy="243.5" r="1.65"/><circle cx="260.3" cy="231.8" r="1.65"/><circle cx="260.3" cy="228.7" r="1.65"/><circle cx="260.3" cy="239.6" r="1.65"/><circle cx="260.3" cy="236.5" r="1.65"/><circle cx="260.3" cy="231.4" r="1.65"/><circle cx="260.3" cy="219.7" r="1.65"/><circle cx="260.3" cy="216.7" r="1.65"/><circle cx="260.3" cy="235.1" r="1.65"/><circle cx="262.8" cy="240.1" r="1.65"/><circle cx="262.8" cy="227.4" r="1.65"/><circle cx="262.8" cy="234.9" r="1.65"/><circle cx="262.8" cy="235.1" r="1.65"/><circle cx="262.8" cy="225.3" r="1.65"/><circle cx="262.8" cy="227.0" r="1.65"/><circle cx="262.8" cy="215.0" r="1.65"/><circle cx="262.8" cy="224.4" r="1.65"/><circle cx="262.8" cy="217.2" r="1.65"/><circle cx="262.8" cy="235.3" r="1.65"/><circle cx="262.8" cy="232.2" r="1.65"/><circle cx="262.8" cy="239.1" r="1.65"/><circle cx="262.8" cy="234.6" r="1.65"/><circle cx="262.8" cy="226.6" r="1.65"/><circle cx="262.8" cy="234.5" r="1.65"/><circle cx="262.8" cy="228.6" r="1.65"/><circle cx="262.8" cy="236.6" r="1.65"/><circle cx="262.8" cy="234.3" r="1.65"/><circle cx="262.8" cy="223.8" r="1.65"/><circle cx="262.8" cy="231.7" r="1.65"/><circle cx="262.8" cy="232.2" r="1.65"/><circle cx="262.8" cy="229.3" r="1.65"/><circle cx="262.8" cy="238.9" r="1.65"/><circle cx="262.8" cy="245.5" r="1.65"/><circle cx="262.8" cy="228.8" r="1.65"/><circle cx="262.8" cy="228.9" r="1.65"/><circle cx="262.8" cy="213.6" r="1.65"/><circle cx="262.8" cy="230.7" r="1.65"/><circle cx="264.8" cy="228.7" r="1.65"/><circle cx="264.8" cy="215.3" r="1.65"/><circle cx="264.8" cy="219.0" r="1.65"/><circle cx="264.8" cy="213.0" r="1.65"/><circle cx="264.8" cy="230.4" r="1.65"/><circle cx="264.8" cy="207.5" r="1.65"/><circle cx="264.8" cy="219.6" r="1.65"/><circle cx="264.8" cy="242.3" r="1.65"/><circle cx="264.8" cy="223.2" r="1.65"/><circle cx="264.8" cy="227.4" r="1.65"/><circle cx="264.8" cy="221.2" r="1.65"/><circle cx="264.8" cy="210.9" r="1.65"/><circle cx="264.8" cy="222.4" r="1.65"/><circle cx="264.8" cy="226.8" r="1.65"/><circle cx="264.8" cy="212.4" r="1.65"/><circle cx="264.8" cy="226.2" r="1.65"/><circle cx="264.8" cy="235.2" r="1.65"/><circle cx="264.8" cy="233.5" r="1.65"/><circle cx="264.8" cy="206.8" r="1.65"/><circle cx="264.8" cy="212.9" r="1.65"/><circle cx="264.8" cy="206.5" r="1.65"/><circle cx="264.8" cy="233.5" r="1.65"/><circle cx="264.8" cy="228.9" r="1.65"/><circle cx="264.8" cy="229.8" r="1.65"/><circle cx="264.8" cy="213.9" r="1.65"/><circle cx="264.8" cy="211.0" r="1.65"/><circle cx="264.8" cy="223.5" r="1.65"/><circle cx="264.8" cy="223.7" r="1.65"/><circle cx="267.6" cy="231.9" r="1.65"/><circle cx="267.6" cy="221.3" r="1.65"/><circle cx="267.6" cy="212.3" r="1.65"/><circle cx="267.6" cy="227.8" r="1.65"/><circle cx="267.6" cy="231.3" r="1.65"/><circle cx="267.6" cy="227.8" r="1.65"/><circle cx="267.6" cy="226.4" r="1.65"/><circle cx="267.6" cy="224.2" r="1.65"/><circle cx="267.6" cy="235.9" r="1.65"/><circle cx="267.6" cy="229.5" r="1.65"/><circle cx="267.6" cy="231.0" r="1.65"/><circle cx="267.6" cy="221.8" r="1.65"/><circle cx="267.6" cy="224.8" r="1.65"/><circle cx="267.6" cy="231.3" r="1.65"/><circle cx="267.6" cy="221.6" r="1.65"/><circle cx="267.6" cy="219.4" r="1.65"/><circle cx="267.6" cy="227.2" r="1.65"/><circle cx="267.6" cy="240.0" r="1.65"/><circle cx="267.6" cy="231.6" r="1.65"/><circle cx="267.6" cy="242.1" r="1.65"/><circle cx="267.6" cy="228.9" r="1.65"/><circle cx="267.6" cy="227.4" r="1.65"/><circle cx="267.6" cy="218.3" r="1.65"/><circle cx="267.6" cy="225.1" r="1.65"/><circle cx="267.6" cy="241.9" r="1.65"/><circle cx="267.6" cy="232.7" r="1.65"/><circle cx="267.6" cy="236.1" r="1.65"/><circle cx="267.6" cy="235.8" r="1.65"/><circle cx="269.1" cy="222.9" r="1.65"/><circle cx="269.1" cy="227.1" r="1.65"/><circle cx="269.1" cy="225.5" r="1.65"/><circle cx="269.1" cy="225.8" r="1.65"/><circle cx="269.1" cy="223.2" r="1.65"/><circle cx="269.1" cy="216.1" r="1.65"/><circle cx="269.1" cy="220.0" r="1.65"/><circle cx="269.1" cy="214.8" r="1.65"/><circle cx="269.1" cy="229.7" r="1.65"/><circle cx="269.1" cy="205.9" r="1.65"/><circle cx="269.1" cy="220.3" r="1.65"/><circle cx="269.1" cy="239.6" r="1.65"/><circle cx="269.1" cy="219.4" r="1.65"/><circle cx="269.1" cy="213.3" r="1.65"/><circle cx="269.1" cy="221.9" r="1.65"/><circle cx="269.1" cy="231.9" r="1.65"/><circle cx="269.1" cy="220.8" r="1.65"/><circle cx="269.1" cy="226.7" r="1.65"/><circle cx="269.1" cy="222.8" r="1.65"/><circle cx="269.1" cy="219.2" r="1.65"/><circle cx="269.1" cy="239.6" r="1.65"/><circle cx="269.1" cy="222.5" r="1.65"/><circle cx="269.1" cy="217.9" r="1.65"/><circle cx="269.1" cy="218.3" r="1.65"/><circle cx="269.1" cy="224.9" r="1.65"/><circle cx="269.1" cy="225.1" r="1.65"/><circle cx="269.1" cy="227.9" r="1.65"/><circle cx="269.1" cy="223.1" r="1.65"/><circle cx="271.3" cy="216.8" r="1.65"/><circle cx="271.3" cy="206.0" r="1.65"/><circle cx="271.3" cy="214.2" r="1.65"/><circle cx="271.3" cy="212.8" r="1.65"/><circle cx="271.3" cy="219.0" r="1.65"/><circle cx="271.3" cy="206.3" r="1.65"/><circle cx="271.3" cy="219.8" r="1.65"/><circle cx="271.3" cy="220.4" r="1.65"/><circle cx="271.3" cy="209.3" r="1.65"/><circle cx="271.3" cy="213.7" r="1.65"/><circle cx="271.3" cy="211.6" r="1.65"/><circle cx="271.3" cy="227.5" r="1.65"/><circle cx="271.3" cy="198.6" r="1.65"/><circle cx="271.3" cy="216.2" r="1.65"/><circle cx="271.3" cy="204.4" r="1.65"/><circle cx="271.3" cy="215.4" r="1.65"/><circle cx="271.3" cy="226.9" r="1.65"/><circle cx="271.3" cy="213.7" r="1.65"/><circle cx="271.3" cy="220.6" r="1.65"/><circle cx="271.3" cy="211.7" r="1.65"/><circle cx="271.3" cy="236.8" r="1.65"/><circle cx="271.3" cy="227.5" r="1.65"/><circle cx="271.3" cy="229.5" r="1.65"/><circle cx="271.3" cy="207.4" r="1.65"/><circle cx="271.3" cy="209.4" r="1.65"/><circle cx="271.3" cy="229.0" r="1.65"/><circle cx="271.3" cy="217.6" r="1.65"/><circle cx="271.3" cy="217.0" r="1.65"/><circle cx="273.5" cy="203.6" r="1.65"/><circle cx="273.5" cy="207.7" r="1.65"/><circle cx="273.5" cy="197.3" r="1.65"/><circle cx="273.5" cy="208.1" r="1.65"/><circle cx="273.5" cy="197.0" r="1.65"/><circle cx="273.5" cy="212.1" r="1.65"/><circle cx="273.5" cy="213.7" r="1.65"/><circle cx="273.5" cy="211.7" r="1.65"/><circle cx="273.5" cy="208.1" r="1.65"/><circle cx="273.5" cy="209.2" r="1.65"/><circle cx="273.5" cy="182.5" r="1.65"/><circle cx="273.5" cy="211.0" r="1.65"/><circle cx="273.5" cy="200.9" r="1.65"/><circle cx="273.5" cy="204.3" r="1.65"/><circle cx="273.5" cy="200.8" r="1.65"/><circle cx="273.5" cy="190.7" r="1.65"/><circle cx="273.5" cy="198.5" r="1.65"/><circle cx="273.5" cy="209.4" r="1.65"/><circle cx="273.5" cy="216.3" r="1.65"/><circle cx="273.5" cy="197.7" r="1.65"/><circle cx="273.5" cy="195.2" r="1.65"/><circle cx="273.5" cy="216.6" r="1.65"/><circle cx="273.5" cy="195.4" r="1.65"/><circle cx="273.5" cy="222.2" r="1.65"/><circle cx="273.5" cy="203.9" r="1.65"/><circle cx="273.5" cy="195.4" r="1.65"/><circle cx="273.5" cy="212.3" r="1.65"/><circle cx="273.5" cy="218.8" r="1.65"/><circle cx="275.9" cy="219.3" r="1.65"/><circle cx="275.9" cy="203.7" r="1.65"/><circle cx="275.9" cy="193.8" r="1.65"/><circle cx="275.9" cy="211.1" r="1.65"/><circle cx="275.9" cy="214.6" r="1.65"/><circle cx="275.9" cy="224.3" r="1.65"/><circle cx="275.9" cy="221.2" r="1.65"/><circle cx="275.9" cy="212.7" r="1.65"/><circle cx="275.9" cy="204.9" r="1.65"/><circle cx="275.9" cy="202.6" r="1.65"/><circle cx="275.9" cy="204.4" r="1.65"/><circle cx="275.9" cy="200.0" r="1.65"/><circle cx="275.9" cy="204.6" r="1.65"/><circle cx="275.9" cy="187.8" r="1.65"/><circle cx="275.9" cy="208.4" r="1.65"/><circle cx="275.9" cy="206.7" r="1.65"/><circle cx="275.9" cy="226.0" r="1.65"/><circle cx="275.9" cy="213.2" r="1.65"/><circle cx="275.9" cy="202.9" r="1.65"/><circle cx="275.9" cy="211.6" r="1.65"/><circle cx="275.9" cy="196.7" r="1.65"/><circle cx="275.9" cy="201.9" r="1.65"/><circle cx="275.9" cy="191.4" r="1.65"/><circle cx="275.9" cy="218.8" r="1.65"/><circle cx="275.9" cy="211.8" r="1.65"/><circle cx="275.9" cy="197.1" r="1.65"/><circle cx="275.9" cy="206.4" r="1.65"/><circle cx="275.9" cy="214.8" r="1.65"/><circle cx="278.5" cy="189.6" r="1.65"/><circle cx="278.5" cy="197.6" r="1.65"/><circle cx="278.5" cy="206.6" r="1.65"/><circle cx="278.5" cy="187.6" r="1.65"/><circle cx="278.5" cy="184.4" r="1.65"/><circle cx="278.5" cy="209.0" r="1.65"/><circle cx="278.5" cy="186.5" r="1.65"/><circle cx="278.5" cy="208.3" r="1.65"/><circle cx="278.5" cy="199.2" r="1.65"/><circle cx="278.5" cy="206.1" r="1.65"/><circle cx="278.5" cy="215.5" r="1.65"/><circle cx="278.5" cy="204.0" r="1.65"/><circle cx="278.5" cy="205.0" r="1.65"/><circle cx="278.5" cy="186.6" r="1.65"/><circle cx="278.5" cy="189.0" r="1.65"/><circle cx="278.5" cy="203.6" r="1.65"/><circle cx="278.5" cy="213.2" r="1.65"/><circle cx="278.5" cy="211.7" r="1.65"/><circle cx="278.5" cy="221.6" r="1.65"/><circle cx="278.5" cy="199.9" r="1.65"/><circle cx="278.5" cy="198.8" r="1.65"/><circle cx="278.5" cy="207.5" r="1.65"/><circle cx="278.5" cy="196.8" r="1.65"/><circle cx="278.5" cy="195.9" r="1.65"/><circle cx="278.5" cy="185.2" r="1.65"/><circle cx="278.5" cy="207.3" r="1.65"/><circle cx="278.5" cy="184.9" r="1.65"/><circle cx="278.5" cy="202.1" r="1.65"/><circle cx="280.3" cy="200.7" r="1.65"/><circle cx="280.3" cy="181.5" r="1.65"/><circle cx="280.3" cy="190.6" r="1.65"/><circle cx="280.3" cy="203.3" r="1.65"/><circle cx="280.3" cy="187.7" r="1.65"/><circle cx="280.3" cy="194.6" r="1.65"/><circle cx="280.3" cy="190.3" r="1.65"/><circle cx="280.3" cy="175.9" r="1.65"/><circle cx="280.3" cy="196.4" r="1.65"/><circle cx="280.3" cy="197.4" r="1.65"/><circle cx="280.3" cy="185.3" r="1.65"/><circle cx="280.3" cy="198.5" r="1.65"/><circle cx="280.3" cy="187.8" r="1.65"/><circle cx="280.3" cy="186.1" r="1.65"/><circle cx="280.3" cy="194.1" r="1.65"/><circle cx="280.3" cy="188.7" r="1.65"/><circle cx="280.3" cy="212.1" r="1.65"/><circle cx="280.3" cy="181.8" r="1.65"/><circle cx="280.3" cy="199.8" r="1.65"/><circle cx="280.3" cy="201.8" r="1.65"/><circle cx="280.3" cy="178.5" r="1.65"/><circle cx="280.3" cy="180.4" r="1.65"/><circle cx="280.3" cy="198.4" r="1.65"/><circle cx="280.3" cy="190.2" r="1.65"/><circle cx="280.3" cy="197.0" r="1.65"/><circle cx="280.3" cy="203.0" r="1.65"/><circle cx="280.3" cy="191.1" r="1.65"/><circle cx="280.3" cy="185.7" r="1.65"/><circle cx="282.4" cy="188.1" r="1.65"/><circle cx="282.4" cy="187.3" r="1.65"/><circle cx="282.4" cy="170.5" r="1.65"/><circle cx="282.4" cy="202.7" r="1.65"/><circle cx="282.4" cy="196.1" r="1.65"/><circle cx="282.4" cy="193.6" r="1.65"/><circle cx="282.4" cy="172.6" r="1.65"/><circle cx="282.4" cy="180.7" r="1.65"/><circle cx="282.4" cy="179.2" r="1.65"/><circle cx="282.4" cy="180.6" r="1.65"/><circle cx="282.4" cy="173.2" r="1.65"/><circle cx="282.4" cy="189.4" r="1.65"/><circle cx="282.4" cy="187.2" r="1.65"/><circle cx="282.4" cy="188.6" r="1.65"/><circle cx="282.4" cy="179.6" r="1.65"/><circle cx="282.4" cy="198.2" r="1.65"/><circle cx="282.4" cy="186.8" r="1.65"/><circle cx="282.4" cy="161.1" r="1.65"/><circle cx="282.4" cy="178.2" r="1.65"/><circle cx="282.4" cy="184.3" r="1.65"/><circle cx="282.4" cy="194.9" r="1.65"/><circle cx="282.4" cy="181.8" r="1.65"/><circle cx="282.4" cy="182.3" r="1.65"/><circle cx="282.4" cy="178.0" r="1.65"/><circle cx="282.4" cy="191.8" r="1.65"/><circle cx="282.4" cy="180.2" r="1.65"/><circle cx="282.4" cy="178.6" r="1.65"/><circle cx="282.4" cy="177.2" r="1.65"/><circle cx="284.8" cy="158.1" r="1.65"/><circle cx="284.8" cy="181.9" r="1.65"/><circle cx="284.8" cy="168.2" r="1.65"/><circle cx="284.8" cy="179.2" r="1.65"/><circle cx="284.8" cy="179.4" r="1.65"/><circle cx="284.8" cy="187.9" r="1.65"/><circle cx="284.8" cy="186.3" r="1.65"/><circle cx="284.8" cy="169.5" r="1.65"/><circle cx="284.8" cy="173.8" r="1.65"/><circle cx="284.8" cy="162.1" r="1.65"/><circle cx="284.8" cy="192.8" r="1.65"/><circle cx="284.8" cy="180.1" r="1.65"/><circle cx="284.8" cy="189.9" r="1.65"/><circle cx="284.8" cy="172.2" r="1.65"/><circle cx="284.8" cy="154.3" r="1.65"/><circle cx="284.8" cy="191.3" r="1.65"/><circle cx="284.8" cy="176.4" r="1.65"/><circle cx="284.8" cy="176.9" r="1.65"/><circle cx="284.8" cy="176.1" r="1.65"/><circle cx="284.8" cy="182.2" r="1.65"/><circle cx="284.8" cy="181.0" r="1.65"/><circle cx="284.8" cy="159.0" r="1.65"/><circle cx="284.8" cy="186.7" r="1.65"/><circle cx="284.8" cy="170.0" r="1.65"/><circle cx="284.8" cy="170.7" r="1.65"/><circle cx="284.8" cy="193.4" r="1.65"/><circle cx="284.8" cy="185.0" r="1.65"/><circle cx="284.8" cy="172.0" r="1.65"/><circle cx="287.1" cy="182.5" r="1.65"/><circle cx="287.1" cy="172.6" r="1.65"/><circle cx="287.1" cy="176.4" r="1.65"/><circle cx="287.1" cy="172.5" r="1.65"/><circle cx="287.1" cy="185.0" r="1.65"/><circle cx="287.1" cy="190.1" r="1.65"/><circle cx="287.1" cy="191.9" r="1.65"/><circle cx="287.1" cy="176.9" r="1.65"/><circle cx="287.1" cy="185.2" r="1.65"/><circle cx="287.1" cy="187.9" r="1.65"/><circle cx="287.1" cy="178.8" r="1.65"/><circle cx="287.1" cy="181.9" r="1.65"/><circle cx="287.1" cy="201.2" r="1.65"/><circle cx="287.1" cy="184.9" r="1.65"/><circle cx="287.1" cy="190.7" r="1.65"/><circle cx="287.1" cy="179.5" r="1.65"/><circle cx="287.1" cy="183.5" r="1.65"/><circle cx="287.1" cy="168.6" r="1.65"/><circle cx="287.1" cy="182.9" r="1.65"/><circle cx="287.1" cy="193.3" r="1.65"/><circle cx="287.1" cy="201.0" r="1.65"/><circle cx="287.1" cy="193.3" r="1.65"/><circle cx="287.1" cy="189.0" r="1.65"/><circle cx="287.1" cy="183.6" r="1.65"/><circle cx="287.1" cy="178.1" r="1.65"/><circle cx="287.1" cy="181.8" r="1.65"/><circle cx="287.1" cy="188.4" r="1.65"/><circle cx="287.1" cy="176.5" r="1.65"/><circle cx="289.1" cy="177.0" r="1.65"/><circle cx="289.1" cy="169.4" r="1.65"/><circle cx="289.1" cy="172.8" r="1.65"/><circle cx="289.1" cy="202.0" r="1.65"/><circle cx="289.1" cy="186.5" r="1.65"/><circle cx="289.1" cy="191.3" r="1.65"/><circle cx="289.1" cy="202.3" r="1.65"/><circle cx="289.1" cy="203.5" r="1.65"/><circle cx="289.1" cy="182.9" r="1.65"/><circle cx="289.1" cy="204.3" r="1.65"/><circle cx="289.1" cy="193.3" r="1.65"/><circle cx="289.1" cy="188.8" r="1.65"/><circle cx="289.1" cy="193.9" r="1.65"/><circle cx="289.1" cy="172.2" r="1.65"/><circle cx="289.1" cy="179.7" r="1.65"/><circle cx="289.1" cy="187.5" r="1.65"/><circle cx="289.1" cy="195.9" r="1.65"/><circle cx="289.1" cy="184.5" r="1.65"/><circle cx="289.1" cy="187.3" r="1.65"/><circle cx="289.1" cy="200.1" r="1.65"/><circle cx="289.1" cy="205.2" r="1.65"/><circle cx="289.1" cy="197.7" r="1.65"/><circle cx="289.1" cy="203.6" r="1.65"/><circle cx="289.1" cy="184.1" r="1.65"/><circle cx="289.1" cy="185.2" r="1.65"/><circle cx="289.1" cy="192.5" r="1.65"/><circle cx="289.1" cy="185.3" r="1.65"/><circle cx="289.1" cy="182.9" r="1.65"/><circle cx="291.6" cy="210.1" r="1.65"/><circle cx="291.6" cy="220.8" r="1.65"/><circle cx="291.6" cy="206.8" r="1.65"/><circle cx="291.6" cy="216.0" r="1.65"/><circle cx="291.6" cy="202.7" r="1.65"/><circle cx="291.6" cy="202.3" r="1.65"/><circle cx="291.6" cy="200.7" r="1.65"/><circle cx="291.6" cy="205.1" r="1.65"/><circle cx="291.6" cy="220.8" r="1.65"/><circle cx="291.6" cy="197.0" r="1.65"/><circle cx="291.6" cy="219.2" r="1.65"/><circle cx="291.6" cy="198.2" r="1.65"/><circle cx="291.6" cy="204.4" r="1.65"/><circle cx="291.6" cy="212.8" r="1.65"/><circle cx="291.6" cy="211.2" r="1.65"/><circle cx="291.6" cy="208.4" r="1.65"/><circle cx="291.6" cy="193.1" r="1.65"/><circle cx="291.6" cy="209.1" r="1.65"/><circle cx="291.6" cy="198.1" r="1.65"/><circle cx="291.6" cy="224.5" r="1.65"/><circle cx="291.6" cy="204.5" r="1.65"/><circle cx="291.6" cy="207.7" r="1.65"/><circle cx="291.6" cy="197.1" r="1.65"/><circle cx="291.6" cy="202.4" r="1.65"/><circle cx="291.6" cy="196.0" r="1.65"/><circle cx="291.6" cy="214.0" r="1.65"/><circle cx="291.6" cy="204.1" r="1.65"/><circle cx="291.6" cy="210.7" r="1.65"/><circle cx="293.4" cy="209.5" r="1.65"/><circle cx="293.4" cy="202.4" r="1.65"/><circle cx="293.4" cy="221.2" r="1.65"/><circle cx="293.4" cy="208.0" r="1.65"/><circle cx="293.4" cy="214.0" r="1.65"/><circle cx="293.4" cy="225.6" r="1.65"/><circle cx="293.4" cy="210.8" r="1.65"/><circle cx="293.4" cy="225.3" r="1.65"/><circle cx="293.4" cy="211.9" r="1.65"/><circle cx="293.4" cy="230.5" r="1.65"/><circle cx="293.4" cy="229.1" r="1.65"/><circle cx="293.4" cy="213.7" r="1.65"/><circle cx="293.4" cy="215.9" r="1.65"/><circle cx="293.4" cy="210.7" r="1.65"/><circle cx="293.4" cy="219.5" r="1.65"/><circle cx="293.4" cy="227.6" r="1.65"/><circle cx="293.4" cy="205.4" r="1.65"/><circle cx="293.4" cy="225.6" r="1.65"/><circle cx="293.4" cy="206.5" r="1.65"/><circle cx="293.4" cy="210.4" r="1.65"/><circle cx="293.4" cy="202.5" r="1.65"/><circle cx="293.4" cy="235.7" r="1.65"/><circle cx="293.4" cy="218.3" r="1.65"/><circle cx="293.4" cy="219.9" r="1.65"/><circle cx="293.4" cy="212.0" r="1.65"/><circle cx="293.4" cy="226.9" r="1.65"/><circle cx="293.4" cy="199.8" r="1.65"/><circle cx="293.4" cy="218.0" r="1.65"/><circle cx="296.2" cy="238.0" r="1.65"/><circle cx="296.2" cy="221.5" r="1.65"/><circle cx="296.2" cy="230.8" r="1.65"/><circle cx="296.2" cy="241.2" r="1.65"/><circle cx="296.2" cy="232.7" r="1.65"/><circle cx="296.2" cy="234.7" r="1.65"/><circle cx="296.2" cy="226.6" r="1.65"/><circle cx="296.2" cy="234.0" r="1.65"/><circle cx="296.2" cy="231.1" r="1.65"/><circle cx="296.2" cy="246.7" r="1.65"/><circle cx="296.2" cy="238.6" r="1.65"/><circle cx="296.2" cy="227.8" r="1.65"/><circle cx="296.2" cy="204.9" r="1.65"/><circle cx="296.2" cy="238.5" r="1.65"/><circle cx="296.2" cy="238.9" r="1.65"/><circle cx="296.2" cy="220.3" r="1.65"/><circle cx="296.2" cy="208.3" r="1.65"/><circle cx="296.2" cy="217.8" r="1.65"/><circle cx="296.2" cy="240.8" r="1.65"/><circle cx="296.2" cy="218.7" r="1.65"/><circle cx="296.2" cy="225.4" r="1.65"/><circle cx="296.2" cy="233.0" r="1.65"/><circle cx="296.2" cy="244.2" r="1.65"/><circle cx="296.2" cy="230.3" r="1.65"/><circle cx="296.2" cy="229.4" r="1.65"/><circle cx="296.2" cy="224.4" r="1.65"/><circle cx="296.2" cy="248.7" r="1.65"/><circle cx="296.2" cy="242.4" r="1.65"/><circle cx="297.7" cy="241.2" r="1.65"/><circle cx="297.7" cy="230.3" r="1.65"/><circle cx="297.7" cy="243.8" r="1.65"/><circle cx="297.7" cy="239.4" r="1.65"/><circle cx="297.7" cy="238.8" r="1.65"/><circle cx="297.7" cy="241.8" r="1.65"/><circle cx="297.7" cy="240.5" r="1.65"/><circle cx="297.7" cy="229.1" r="1.65"/><circle cx="297.7" cy="233.6" r="1.65"/><circle cx="297.7" cy="255.6" r="1.65"/><circle cx="297.7" cy="226.2" r="1.65"/><circle cx="297.7" cy="232.3" r="1.65"/><circle cx="297.7" cy="245.3" r="1.65"/><circle cx="297.7" cy="235.0" r="1.65"/><circle cx="297.7" cy="229.5" r="1.65"/><circle cx="297.7" cy="225.2" r="1.65"/><circle cx="297.7" cy="240.8" r="1.65"/><circle cx="297.7" cy="244.9" r="1.65"/><circle cx="297.7" cy="248.1" r="1.65"/><circle cx="297.7" cy="236.8" r="1.65"/><circle cx="297.7" cy="245.1" r="1.65"/><circle cx="297.7" cy="227.7" r="1.65"/><circle cx="297.7" cy="237.7" r="1.65"/><circle cx="297.7" cy="230.6" r="1.65"/><circle cx="297.7" cy="237.8" r="1.65"/><circle cx="297.7" cy="242.6" r="1.65"/><circle cx="297.7" cy="245.3" r="1.65"/><circle cx="297.7" cy="228.0" r="1.65"/><circle cx="299.9" cy="246.3" r="1.65"/><circle cx="299.9" cy="236.8" r="1.65"/><circle cx="299.9" cy="247.6" r="1.65"/><circle cx="299.9" cy="249.7" r="1.65"/><circle cx="299.9" cy="246.1" r="1.65"/><circle cx="299.9" cy="251.5" r="1.65"/><circle cx="299.9" cy="245.2" r="1.65"/><circle cx="299.9" cy="247.6" r="1.65"/><circle cx="299.9" cy="237.0" r="1.65"/><circle cx="299.9" cy="247.9" r="1.65"/><circle cx="299.9" cy="241.3" r="1.65"/><circle cx="299.9" cy="244.2" r="1.65"/><circle cx="299.9" cy="246.9" r="1.65"/><circle cx="299.9" cy="248.9" r="1.65"/><circle cx="299.9" cy="235.4" r="1.65"/><circle cx="299.9" cy="236.1" r="1.65"/><circle cx="299.9" cy="245.3" r="1.65"/><circle cx="299.9" cy="251.0" r="1.65"/><circle cx="299.9" cy="250.2" r="1.65"/><circle cx="299.9" cy="254.1" r="1.65"/><circle cx="299.9" cy="257.1" r="1.65"/><circle cx="299.9" cy="251.2" r="1.65"/><circle cx="299.9" cy="247.4" r="1.65"/><circle cx="299.9" cy="240.0" r="1.65"/><circle cx="299.9" cy="240.6" r="1.65"/><circle cx="299.9" cy="244.1" r="1.65"/><circle cx="299.9" cy="249.5" r="1.65"/><circle cx="299.9" cy="249.2" r="1.65"/><circle cx="302.4" cy="253.8" r="1.65"/><circle cx="302.4" cy="254.5" r="1.65"/><circle cx="302.4" cy="254.5" r="1.65"/><circle cx="302.4" cy="248.3" r="1.65"/><circle cx="302.4" cy="244.7" r="1.65"/><circle cx="302.4" cy="255.9" r="1.65"/><circle cx="302.4" cy="255.3" r="1.65"/><circle cx="302.4" cy="250.7" r="1.65"/><circle cx="302.4" cy="249.2" r="1.65"/><circle cx="302.4" cy="269.0" r="1.65"/><circle cx="302.4" cy="246.7" r="1.65"/><circle cx="302.4" cy="250.7" r="1.65"/><circle cx="302.4" cy="254.2" r="1.65"/><circle cx="302.4" cy="243.8" r="1.65"/><circle cx="302.4" cy="253.1" r="1.65"/><circle cx="302.4" cy="265.4" r="1.65"/><circle cx="302.4" cy="259.1" r="1.65"/><circle cx="302.4" cy="256.9" r="1.65"/><circle cx="302.4" cy="256.6" r="1.65"/><circle cx="302.4" cy="253.1" r="1.65"/><circle cx="302.4" cy="259.3" r="1.65"/><circle cx="302.4" cy="251.1" r="1.65"/><circle cx="302.4" cy="249.2" r="1.65"/><circle cx="302.4" cy="253.0" r="1.65"/><circle cx="302.4" cy="258.9" r="1.65"/><circle cx="302.4" cy="254.7" r="1.65"/><circle cx="302.4" cy="257.2" r="1.65"/><circle cx="302.4" cy="237.5" r="1.65"/><circle cx="304.6" cy="262.1" r="1.65"/><circle cx="304.6" cy="258.1" r="1.65"/><circle cx="304.6" cy="266.5" r="1.65"/><circle cx="304.6" cy="257.1" r="1.65"/><circle cx="304.6" cy="269.9" r="1.65"/><circle cx="304.6" cy="260.5" r="1.65"/><circle cx="304.6" cy="271.6" r="1.65"/><circle cx="304.6" cy="274.6" r="1.65"/><circle cx="304.6" cy="249.3" r="1.65"/><circle cx="304.6" cy="266.6" r="1.65"/><circle cx="304.6" cy="259.2" r="1.65"/><circle cx="304.6" cy="253.9" r="1.65"/><circle cx="304.6" cy="259.8" r="1.65"/><circle cx="304.6" cy="262.8" r="1.65"/><circle cx="304.6" cy="272.2" r="1.65"/><circle cx="304.6" cy="253.1" r="1.65"/><circle cx="304.6" cy="272.3" r="1.65"/><circle cx="304.6" cy="279.5" r="1.65"/><circle cx="304.6" cy="268.9" r="1.65"/><circle cx="304.6" cy="268.5" r="1.65"/><circle cx="304.6" cy="264.4" r="1.65"/><circle cx="304.6" cy="255.7" r="1.65"/><circle cx="304.6" cy="268.5" r="1.65"/><circle cx="304.6" cy="267.3" r="1.65"/><circle cx="304.6" cy="269.9" r="1.65"/><circle cx="304.6" cy="281.6" r="1.65"/><circle cx="304.6" cy="269.9" r="1.65"/><circle cx="304.6" cy="267.6" r="1.65"/><circle cx="306.8" cy="250.3" r="1.65"/><circle cx="306.8" cy="247.9" r="1.65"/><circle cx="306.8" cy="259.6" r="1.65"/><circle cx="306.8" cy="250.8" r="1.65"/><circle cx="306.8" cy="268.7" r="1.65"/><circle cx="306.8" cy="266.8" r="1.65"/><circle cx="306.8" cy="260.3" r="1.65"/><circle cx="306.8" cy="250.2" r="1.65"/><circle cx="306.8" cy="259.0" r="1.65"/><circle cx="306.8" cy="260.6" r="1.65"/><circle cx="306.8" cy="244.3" r="1.65"/><circle cx="306.8" cy="256.6" r="1.65"/><circle cx="306.8" cy="259.7" r="1.65"/><circle cx="306.8" cy="255.5" r="1.65"/><circle cx="306.8" cy="267.3" r="1.65"/><circle cx="306.8" cy="264.1" r="1.65"/><circle cx="306.8" cy="246.4" r="1.65"/><circle cx="306.8" cy="254.7" r="1.65"/><circle cx="306.8" cy="246.3" r="1.65"/><circle cx="306.8" cy="258.6" r="1.65"/><circle cx="306.8" cy="246.0" r="1.65"/><circle cx="306.8" cy="261.6" r="1.65"/><circle cx="306.8" cy="257.0" r="1.65"/><circle cx="306.8" cy="262.0" r="1.65"/><circle cx="306.8" cy="252.3" r="1.65"/><circle cx="306.8" cy="240.9" r="1.65"/><circle cx="306.8" cy="269.0" r="1.65"/><circle cx="306.8" cy="252.1" r="1.65"/><circle cx="309.4" cy="276.1" r="1.65"/><circle cx="309.4" cy="264.6" r="1.65"/><circle cx="309.4" cy="272.8" r="1.65"/><circle cx="309.4" cy="250.5" r="1.65"/><circle cx="309.4" cy="268.7" r="1.65"/><circle cx="309.4" cy="260.1" r="1.65"/><circle cx="309.4" cy="260.9" r="1.65"/><circle cx="309.4" cy="262.0" r="1.65"/><circle cx="309.4" cy="264.6" r="1.65"/><circle cx="309.4" cy="274.7" r="1.65"/><circle cx="309.4" cy="247.7" r="1.65"/><circle cx="309.4" cy="262.3" r="1.65"/><circle cx="309.4" cy="256.5" r="1.65"/><circle cx="309.4" cy="271.0" r="1.65"/><circle cx="309.4" cy="258.7" r="1.65"/><circle cx="309.4" cy="265.5" r="1.65"/><circle cx="309.4" cy="258.9" r="1.65"/><circle cx="309.4" cy="267.1" r="1.65"/><circle cx="309.4" cy="269.8" r="1.65"/><circle cx="309.4" cy="258.9" r="1.65"/><circle cx="309.4" cy="262.4" r="1.65"/><circle cx="309.4" cy="251.0" r="1.65"/><circle cx="309.4" cy="264.3" r="1.65"/><circle cx="309.4" cy="268.6" r="1.65"/><circle cx="309.4" cy="257.7" r="1.65"/><circle cx="309.4" cy="270.6" r="1.65"/><circle cx="309.4" cy="246.0" r="1.65"/><circle cx="309.4" cy="247.7" r="1.65"/><circle cx="311.2" cy="258.7" r="1.65"/><circle cx="311.2" cy="258.8" r="1.65"/><circle cx="311.2" cy="266.1" r="1.65"/><circle cx="311.2" cy="255.1" r="1.65"/><circle cx="311.2" cy="247.8" r="1.65"/><circle cx="311.2" cy="247.9" r="1.65"/><circle cx="311.2" cy="278.9" r="1.65"/><circle cx="311.2" cy="238.2" r="1.65"/><circle cx="311.2" cy="257.8" r="1.65"/><circle cx="311.2" cy="272.9" r="1.65"/><circle cx="311.2" cy="263.9" r="1.65"/><circle cx="311.2" cy="251.8" r="1.65"/><circle cx="311.2" cy="259.4" r="1.65"/><circle cx="311.2" cy="267.4" r="1.65"/><circle cx="311.2" cy="270.6" r="1.65"/><circle cx="311.2" cy="251.1" r="1.65"/><circle cx="311.2" cy="266.4" r="1.65"/><circle cx="311.2" cy="261.8" r="1.65"/><circle cx="311.2" cy="269.6" r="1.65"/><circle cx="311.2" cy="272.3" r="1.65"/><circle cx="311.2" cy="256.3" r="1.65"/><circle cx="311.2" cy="246.0" r="1.65"/><circle cx="311.2" cy="263.1" r="1.65"/><circle cx="311.2" cy="275.8" r="1.65"/><circle cx="311.2" cy="265.8" r="1.65"/><circle cx="311.2" cy="261.6" r="1.65"/><circle cx="311.2" cy="280.7" r="1.65"/><circle cx="311.2" cy="249.8" r="1.65"/><circle cx="313.2" cy="260.4" r="1.65"/><circle cx="313.2" cy="271.9" r="1.65"/><circle cx="313.2" cy="252.1" r="1.65"/><circle cx="313.2" cy="255.4" r="1.65"/><circle cx="313.2" cy="246.8" r="1.65"/><circle cx="313.2" cy="263.6" r="1.65"/><circle cx="313.2" cy="256.0" r="1.65"/><circle cx="313.2" cy="263.1" r="1.65"/><circle cx="313.2" cy="251.0" r="1.65"/><circle cx="313.2" cy="256.8" r="1.65"/><circle cx="313.2" cy="268.1" r="1.65"/><circle cx="313.2" cy="258.3" r="1.65"/><circle cx="313.2" cy="264.8" r="1.65"/><circle cx="313.2" cy="264.0" r="1.65"/><circle cx="313.2" cy="256.8" r="1.65"/><circle cx="313.2" cy="247.1" r="1.65"/><circle cx="313.2" cy="267.7" r="1.65"/><circle cx="313.2" cy="261.1" r="1.65"/><circle cx="313.2" cy="267.6" r="1.65"/><circle cx="313.2" cy="243.4" r="1.65"/><circle cx="313.2" cy="246.3" r="1.65"/><circle cx="313.2" cy="242.4" r="1.65"/><circle cx="313.2" cy="252.6" r="1.65"/><circle cx="313.2" cy="268.1" r="1.65"/><circle cx="313.2" cy="264.3" r="1.65"/><circle cx="313.2" cy="259.4" r="1.65"/><circle cx="313.2" cy="260.8" r="1.65"/><circle cx="313.2" cy="265.8" r="1.65"/><circle cx="315.4" cy="237.8" r="1.65"/><circle cx="315.4" cy="259.3" r="1.65"/><circle cx="315.4" cy="280.2" r="1.65"/><circle cx="315.4" cy="259.2" r="1.65"/><circle cx="315.4" cy="262.2" r="1.65"/><circle cx="315.4" cy="256.7" r="1.65"/><circle cx="315.4" cy="258.2" r="1.65"/><circle cx="315.4" cy="277.4" r="1.65"/><circle cx="315.4" cy="260.7" r="1.65"/><circle cx="315.4" cy="251.7" r="1.65"/><circle cx="315.4" cy="236.5" r="1.65"/><circle cx="315.4" cy="257.1" r="1.65"/><circle cx="315.4" cy="240.4" r="1.65"/><circle cx="315.4" cy="242.1" r="1.65"/><circle cx="315.4" cy="273.4" r="1.65"/><circle cx="315.4" cy="272.4" r="1.65"/><circle cx="315.4" cy="241.0" r="1.65"/><circle cx="315.4" cy="274.1" r="1.65"/><circle cx="315.4" cy="269.4" r="1.65"/><circle cx="315.4" cy="254.6" r="1.65"/><circle cx="315.4" cy="272.7" r="1.65"/><circle cx="315.4" cy="244.5" r="1.65"/><circle cx="315.4" cy="249.5" r="1.65"/><circle cx="315.4" cy="246.7" r="1.65"/><circle cx="315.4" cy="250.7" r="1.65"/><circle cx="315.4" cy="274.4" r="1.65"/><circle cx="315.4" cy="248.0" r="1.65"/><circle cx="315.4" cy="250.2" r="1.65"/><circle cx="317.9" cy="273.3" r="1.65"/><circle cx="317.9" cy="258.0" r="1.65"/><circle cx="317.9" cy="252.4" r="1.65"/><circle cx="317.9" cy="260.0" r="1.65"/><circle cx="317.9" cy="265.3" r="1.65"/><circle cx="317.9" cy="255.8" r="1.65"/><circle cx="317.9" cy="267.6" r="1.65"/><circle cx="317.9" cy="282.6" r="1.65"/><circle cx="317.9" cy="259.2" r="1.65"/><circle cx="317.9" cy="265.3" r="1.65"/><circle cx="317.9" cy="278.0" r="1.65"/><circle cx="317.9" cy="258.5" r="1.65"/><circle cx="317.9" cy="256.6" r="1.65"/><circle cx="317.9" cy="254.2" r="1.65"/><circle cx="317.9" cy="268.7" r="1.65"/><circle cx="317.9" cy="269.8" r="1.65"/><circle cx="317.9" cy="263.3" r="1.65"/><circle cx="317.9" cy="265.2" r="1.65"/><circle cx="317.9" cy="277.2" r="1.65"/><circle cx="317.9" cy="273.2" r="1.65"/><circle cx="317.9" cy="251.1" r="1.65"/><circle cx="317.9" cy="264.6" r="1.65"/><circle cx="317.9" cy="265.7" r="1.65"/><circle cx="317.9" cy="271.7" r="1.65"/><circle cx="317.9" cy="262.5" r="1.65"/><circle cx="317.9" cy="258.4" r="1.65"/><circle cx="317.9" cy="260.2" r="1.65"/><circle cx="317.9" cy="247.4" r="1.65"/><circle cx="320.3" cy="252.2" r="1.65"/><circle cx="320.3" cy="258.7" r="1.65"/><circle cx="320.3" cy="252.7" r="1.65"/><circle cx="320.3" cy="251.8" r="1.65"/><circle cx="320.3" cy="271.2" r="1.65"/><circle cx="320.3" cy="258.4" r="1.65"/><circle cx="320.3" cy="268.4" r="1.65"/><circle cx="320.3" cy="251.1" r="1.65"/><circle cx="320.3" cy="264.5" r="1.65"/><circle cx="320.3" cy="244.8" r="1.65"/><circle cx="320.3" cy="258.2" r="1.65"/><circle cx="320.3" cy="257.9" r="1.65"/><circle cx="320.3" cy="269.9" r="1.65"/><circle cx="320.3" cy="265.4" r="1.65"/><circle cx="320.3" cy="261.5" r="1.65"/><circle cx="320.3" cy="272.7" r="1.65"/><circle cx="320.3" cy="265.5" r="1.65"/><circle cx="320.3" cy="269.3" r="1.65"/><circle cx="320.3" cy="271.9" r="1.65"/><circle cx="320.3" cy="262.7" r="1.65"/><circle cx="320.3" cy="260.2" r="1.65"/><circle cx="320.3" cy="267.0" r="1.65"/><circle cx="320.3" cy="258.8" r="1.65"/><circle cx="320.3" cy="267.7" r="1.65"/><circle cx="320.3" cy="275.6" r="1.65"/><circle cx="320.3" cy="272.8" r="1.65"/><circle cx="320.3" cy="259.2" r="1.65"/><circle cx="320.3" cy="249.2" r="1.65"/><circle cx="99.4" cy="182.0" r="1.65"/><circle cx="99.3" cy="184.9" r="1.65"/><circle cx="100.1" cy="179.1" r="1.65"/><circle cx="99.6" cy="178.4" r="1.65"/><circle cx="100.7" cy="181.3" r="1.65"/><circle cx="100.1" cy="178.6" r="1.65"/><circle cx="100.4" cy="172.1" r="1.65"/><circle cx="100.2" cy="174.7" r="1.65"/><circle cx="100.4" cy="170.8" r="1.65"/><circle cx="100.5" cy="171.7" r="1.65"/><circle cx="100.8" cy="173.4" r="1.65"/><circle cx="100.1" cy="165.7" r="1.65"/><circle cx="100.4" cy="163.9" r="1.65"/><circle cx="101.0" cy="169.2" r="1.65"/><circle cx="101.1" cy="164.4" r="1.65"/><circle cx="100.3" cy="164.0" r="1.65"/><circle cx="100.8" cy="160.6" r="1.65"/><circle cx="100.6" cy="167.6" r="1.65"/><circle cx="102.1" cy="165.3" r="1.65"/><circle cx="101.4" cy="161.7" r="1.65"/><circle cx="101.7" cy="158.7" r="1.65"/><circle cx="101.7" cy="161.9" r="1.65"/><circle cx="102.5" cy="160.5" r="1.65"/><circle cx="102.1" cy="158.9" r="1.65"/><circle cx="102.3" cy="155.4" r="1.65"/><circle cx="102.3" cy="152.8" r="1.65"/><circle cx="101.9" cy="153.2" r="1.65"/><circle cx="101.8" cy="158.1" r="1.65"/><circle cx="102.7" cy="147.1" r="1.65"/><circle cx="102.2" cy="144.5" r="1.65"/><circle cx="102.3" cy="141.7" r="1.65"/><circle cx="102.9" cy="145.1" r="1.65"/><circle cx="103.4" cy="144.1" r="1.65"/><circle cx="103.3" cy="144.3" r="1.65"/><circle cx="103.8" cy="135.8" r="1.65"/><circle cx="102.9" cy="135.8" r="1.65"/><circle cx="103.8" cy="136.4" r="1.65"/><circle cx="103.8" cy="133.2" r="1.65"/><circle cx="103.0" cy="130.5" r="1.65"/><circle cx="103.1" cy="128.0" r="1.65"/><circle cx="103.5" cy="123.8" r="1.65"/><circle cx="104.1" cy="126.9" r="1.65"/><circle cx="104.1" cy="116.4" r="1.65"/><circle cx="104.1" cy="115.4" r="1.65"/><circle cx="104.4" cy="114.7" r="1.65"/><circle cx="104.1" cy="108.5" r="1.65"/><circle cx="104.7" cy="109.6" r="1.65"/><circle cx="103.9" cy="111.3" r="1.65"/><circle cx="104.4" cy="105.1" r="1.65"/><circle cx="105.0" cy="104.3" r="1.65"/><circle cx="104.7" cy="101.6" r="1.65"/><circle cx="104.4" cy="100.3" r="1.65"/><circle cx="105.5" cy="93.0" r="1.65"/><circle cx="104.4" cy="96.3" r="1.65"/><circle cx="105.4" cy="91.3" r="1.65"/><circle cx="105.9" cy="97.3" r="1.65"/><circle cx="104.7" cy="92.5" r="1.65"/><circle cx="105.9" cy="90.3" r="1.65"/><circle cx="106.1" cy="88.8" r="1.65"/><circle cx="106.7" cy="87.2" r="1.65"/><circle cx="106.0" cy="88.9" r="1.65"/><circle cx="107.1" cy="82.8" r="1.65"/><circle cx="106.9" cy="81.4" r="1.65"/><circle cx="105.8" cy="87.5" r="1.65"/><circle cx="106.3" cy="81.0" r="1.65"/><circle cx="106.7" cy="81.5" r="1.65"/><circle cx="107.0" cy="82.6" r="1.65"/><circle cx="107.3" cy="77.7" r="1.65"/><circle cx="106.8" cy="74.5" r="1.65"/><circle cx="106.5" cy="80.8" r="1.65"/><circle cx="107.2" cy="71.8" r="1.65"/><circle cx="106.1" cy="70.4" r="1.65"/><circle cx="107.0" cy="74.0" r="1.65"/><circle cx="107.2" cy="70.0" r="1.65"/><circle cx="107.1" cy="67.6" r="1.65"/><circle cx="108.8" cy="70.5" r="1.65"/><circle cx="108.2" cy="70.8" r="1.65"/><circle cx="107.8" cy="65.2" r="1.65"/><circle cx="108.4" cy="65.2" r="1.65"/><circle cx="108.1" cy="67.6" r="1.65"/><circle cx="108.0" cy="67.6" r="1.65"/><circle cx="108.6" cy="64.0" r="1.65"/><circle cx="107.9" cy="64.5" r="1.65"/><circle cx="108.1" cy="67.3" r="1.65"/><circle cx="109.2" cy="69.0" r="1.65"/><circle cx="108.8" cy="69.0" r="1.65"/><circle cx="109.4" cy="69.0" r="1.65"/><circle cx="109.1" cy="64.3" r="1.65"/><circle cx="108.5" cy="67.2" r="1.65"/><circle cx="109.0" cy="69.5" r="1.65"/><circle cx="109.9" cy="71.6" r="1.65"/><circle cx="109.3" cy="64.3" r="1.65"/><circle cx="110.0" cy="75.9" r="1.65"/><circle cx="109.6" cy="74.7" r="1.65"/><circle cx="109.2" cy="68.5" r="1.65"/><circle cx="110.3" cy="73.9" r="1.65"/><circle cx="109.9" cy="71.5" r="1.65"/><circle cx="109.2" cy="74.0" r="1.65"/><circle cx="111.1" cy="73.8" r="1.65"/><circle cx="110.2" cy="80.1" r="1.65"/><circle cx="110.2" cy="80.6" r="1.65"/><circle cx="109.4" cy="74.0" r="1.65"/><circle cx="110.5" cy="79.7" r="1.65"/><circle cx="110.9" cy="83.2" r="1.65"/><circle cx="110.0" cy="79.0" r="1.65"/><circle cx="110.7" cy="82.3" r="1.65"/><circle cx="110.0" cy="79.3" r="1.65"/><circle cx="111.6" cy="82.0" r="1.65"/><circle cx="111.4" cy="79.3" r="1.65"/><circle cx="111.8" cy="81.8" r="1.65"/><circle cx="112.4" cy="82.2" r="1.65"/><circle cx="111.3" cy="81.4" r="1.65"/><circle cx="110.5" cy="81.9" r="1.65"/><circle cx="112.3" cy="81.1" r="1.65"/><circle cx="111.6" cy="84.8" r="1.65"/><circle cx="111.0" cy="85.0" r="1.65"/><circle cx="112.5" cy="84.4" r="1.65"/><circle cx="111.8" cy="86.8" r="1.65"/><circle cx="113.4" cy="88.1" r="1.65"/><circle cx="112.8" cy="84.7" r="1.65"/><circle cx="111.7" cy="82.5" r="1.65"/><circle cx="112.7" cy="88.0" r="1.65"/><circle cx="112.6" cy="87.5" r="1.65"/><circle cx="113.3" cy="86.3" r="1.65"/><circle cx="113.0" cy="91.9" r="1.65"/><circle cx="113.8" cy="83.5" r="1.65"/><circle cx="113.7" cy="89.6" r="1.65"/><circle cx="114.5" cy="88.6" r="1.65"/><circle cx="113.8" cy="88.7" r="1.65"/><circle cx="113.3" cy="83.9" r="1.65"/><circle cx="113.8" cy="87.1" r="1.65"/><circle cx="113.4" cy="89.7" r="1.65"/><circle cx="113.5" cy="93.2" r="1.65"/><circle cx="114.1" cy="87.7" r="1.65"/><circle cx="114.5" cy="85.4" r="1.65"/><circle cx="114.1" cy="90.1" r="1.65"/><circle cx="114.5" cy="92.5" r="1.65"/><circle cx="114.0" cy="88.4" r="1.65"/><circle cx="114.3" cy="82.4" r="1.65"/><circle cx="114.4" cy="85.7" r="1.65"/><circle cx="113.7" cy="87.1" r="1.65"/><circle cx="114.0" cy="82.4" r="1.65"/><circle cx="114.8" cy="87.2" r="1.65"/><circle cx="114.5" cy="82.6" r="1.65"/><circle cx="115.1" cy="84.9" r="1.65"/><circle cx="114.3" cy="83.2" r="1.65"/><circle cx="115.7" cy="84.3" r="1.65"/><circle cx="116.2" cy="82.7" r="1.65"/><circle cx="115.7" cy="79.4" r="1.65"/><circle cx="116.0" cy="81.7" r="1.65"/><circle cx="116.0" cy="77.9" r="1.65"/><circle cx="116.3" cy="77.2" r="1.65"/><circle cx="116.2" cy="79.5" r="1.65"/><circle cx="115.4" cy="81.9" r="1.65"/><circle cx="117.3" cy="75.5" r="1.65"/><circle cx="115.6" cy="75.0" r="1.65"/><circle cx="116.9" cy="78.8" r="1.65"/><circle cx="117.0" cy="72.3" r="1.65"/><circle cx="116.2" cy="72.0" r="1.65"/><circle cx="116.6" cy="74.2" r="1.65"/><circle cx="116.9" cy="71.2" r="1.65"/><circle cx="117.1" cy="71.4" r="1.65"/><circle cx="117.7" cy="73.4" r="1.65"/><circle cx="116.6" cy="72.4" r="1.65"/><circle cx="117.4" cy="70.1" r="1.65"/><circle cx="117.9" cy="77.2" r="1.65"/><circle cx="118.2" cy="72.4" r="1.65"/><circle cx="118.2" cy="71.1" r="1.65"/><circle cx="118.3" cy="74.3" r="1.65"/><circle cx="117.8" cy="76.8" r="1.65"/><circle cx="117.6" cy="77.8" r="1.65"/><circle cx="118.7" cy="76.8" r="1.65"/><circle cx="118.7" cy="89.8" r="1.65"/><circle cx="117.9" cy="79.7" r="1.65"/><circle cx="117.8" cy="87.2" r="1.65"/><circle cx="118.8" cy="82.6" r="1.65"/><circle cx="119.6" cy="87.8" r="1.65"/><circle cx="118.6" cy="93.5" r="1.65"/><circle cx="118.4" cy="96.3" r="1.65"/><circle cx="119.3" cy="94.1" r="1.65"/><circle cx="119.5" cy="107.2" r="1.65"/><circle cx="119.0" cy="106.3" r="1.65"/><circle cx="118.8" cy="113.3" r="1.65"/><circle cx="120.2" cy="112.4" r="1.65"/><circle cx="119.5" cy="120.6" r="1.65"/><circle cx="120.4" cy="116.5" r="1.65"/><circle cx="119.2" cy="125.9" r="1.65"/><circle cx="120.1" cy="120.4" r="1.65"/><circle cx="119.7" cy="128.4" r="1.65"/><circle cx="120.0" cy="127.0" r="1.65"/><circle cx="120.6" cy="135.6" r="1.65"/><circle cx="120.2" cy="129.3" r="1.65"/><circle cx="120.9" cy="137.5" r="1.65"/><circle cx="120.7" cy="132.1" r="1.65"/><circle cx="120.4" cy="137.4" r="1.65"/><circle cx="120.2" cy="137.5" r="1.65"/><circle cx="120.5" cy="145.4" r="1.65"/><circle cx="121.4" cy="148.5" r="1.65"/><circle cx="120.7" cy="153.0" r="1.65"/><circle cx="120.2" cy="155.6" r="1.65"/><circle cx="121.8" cy="155.0" r="1.65"/><circle cx="122.0" cy="161.5" r="1.65"/><circle cx="121.1" cy="165.8" r="1.65"/><circle cx="122.0" cy="165.0" r="1.65"/><circle cx="121.6" cy="171.3" r="1.65"/><circle cx="121.3" cy="169.7" r="1.65"/><circle cx="122.4" cy="182.1" r="1.65"/><circle cx="121.6" cy="177.1" r="1.65"/><circle cx="122.6" cy="184.9" r="1.65"/><circle cx="122.3" cy="183.4" r="1.65"/><circle cx="121.9" cy="186.1" r="1.65"/><circle cx="123.0" cy="192.6" r="1.65"/><circle cx="122.4" cy="192.2" r="1.65"/><circle cx="122.6" cy="197.2" r="1.65"/><circle cx="123.3" cy="196.5" r="1.65"/><circle cx="123.6" cy="198.3" r="1.65"/><circle cx="122.9" cy="202.2" r="1.65"/><circle cx="123.2" cy="199.9" r="1.65"/><circle cx="123.0" cy="198.9" r="1.65"/><circle cx="122.7" cy="204.7" r="1.65"/><circle cx="123.8" cy="206.6" r="1.65"/><circle cx="123.9" cy="203.7" r="1.65"/><circle cx="124.5" cy="206.9" r="1.65"/><circle cx="123.8" cy="204.7" r="1.65"/><circle cx="108.5" cy="44.5" r="1.65"/><circle cx="109.1" cy="47.4" r="1.65"/><circle cx="108.8" cy="50.3" r="1.65"/><circle cx="108.4" cy="53.2" r="1.65"/><circle cx="108.5" cy="56.1" r="1.65"/><circle cx="108.4" cy="59.0" r="1.65"/><circle cx="108.6" cy="61.9" r="1.65"/><circle cx="108.6" cy="64.8" r="1.65"/><circle cx="109.2" cy="67.7" r="1.65"/><circle cx="116.1" cy="64.5" r="1.65"/><circle cx="116.8" cy="67.4" r="1.65"/><circle cx="116.7" cy="70.3" r="1.65"/><circle cx="116.4" cy="73.2" r="1.65"/></g><polyline points="18.50,263.00 18.70,262.87 18.90,262.74 19.11,262.59 19.31,262.42 19.51,262.25 19.71,262.06 19.91,261.87 20.12,261.66 20.32,261.44 20.52,261.22 20.72,260.99 20.93,260.75 21.13,260.50 21.33,260.25 21.53,259.99 21.73,259.72 21.94,259.45 22.14,259.17 22.34,258.86 22.54,258.54 22.74,258.19 22.95,257.84 23.15,257.47 23.35,257.08 23.55,256.68 23.76,256.27 23.96,255.86 24.16,255.43 24.36,255.00 24.56,254.56 24.77,254.12 24.97,253.67 25.17,253.23 25.37,252.78 25.57,252.33 25.78,251.88 25.98,251.42 26.18,250.96 26.38,250.48 26.59,250.00 26.79,249.52 26.99,249.03 27.19,248.53 27.39,248.02 27.60,247.51 27.80,246.99 28.00,246.47 28.20,245.94 28.40,245.40 28.61,244.86 28.81,244.32 29.01,243.77 29.21,243.22 29.42,242.66 29.62,242.10 29.82,241.53 30.02,240.96 30.22,240.38 30.43,239.80 30.63,239.22 30.83,238.63 31.03,238.03 31.23,237.43 31.44,236.81 31.64,236.19 31.84,235.56 32.04,234.93 32.25,234.28 32.45,233.63 32.65,232.98 32.85,232.32 33.05,231.65 33.26,230.98 33.46,230.30 33.66,229.62 33.86,228.94 34.06,228.24 34.27,227.55 34.47,226.85 34.67,226.15 34.87,225.44 35.08,224.74 35.28,224.02 35.48,223.29 35.68,222.56 35.88,221.81 36.09,221.06 36.29,220.30 36.49,219.54 36.69,218.77 36.89,218.00 37.10,217.22 37.30,216.44 37.50,215.66 37.70,214.87 37.90,214.08 38.11,213.30 38.31,212.51 38.51,211.73 38.71,210.95 38.92,210.15 39.12,209.34 39.32,208.52 39.52,207.68 39.72,206.83 39.93,205.97 40.13,205.12 40.33,204.26 40.53,203.41 40.73,202.56 40.94,201.73 41.14,200.91 41.34,200.11 41.54,199.32 41.75,198.56 41.95,197.83 42.15,197.13 42.35,196.47 42.55,195.83 42.76,195.19 42.96,194.53 43.16,193.86 43.36,193.18 43.56,192.49 43.77,191.81 43.97,191.14 44.17,190.47 44.37,189.83 44.58,189.21 44.78,188.62 44.98,188.06 45.18,187.55 45.38,187.08 45.59,186.66 45.79,186.29 45.99,185.99 46.19,185.76 46.39,185.60 46.60,185.51 46.80,185.51 47.00,185.55 47.20,185.65 47.41,185.78 47.61,185.96 47.81,186.18 48.01,186.43 48.21,186.72 48.42,187.04 48.62,187.39 48.82,187.76 49.02,188.16 49.22,188.58 49.43,189.02 49.63,189.47 49.83,189.94 50.03,190.42 50.24,190.91 50.44,191.41 50.64,191.91 50.84,192.41 51.04,192.91 51.25,193.41 51.45,193.91 51.65,194.39 51.85,194.87 52.05,195.33 52.26,195.78 52.46,196.21 52.66,196.62 52.86,197.04 53.07,197.47 53.27,197.92 53.47,198.37 53.67,198.84 53.87,199.31 54.08,199.78 54.28,200.26 54.48,200.74 54.68,201.22 54.88,201.69 55.09,202.16 55.29,202.62 55.49,203.08 55.69,203.52 55.89,203.95 56.10,204.37 56.30,204.77 56.50,205.15 56.70,205.51 56.91,205.85 57.11,206.17 57.31,206.49 57.51,206.83 57.71,207.16 57.92,207.50 58.12,207.84 58.32,208.17 58.52,208.50 58.72,208.83 58.93,209.15 59.13,209.45 59.33,209.74 59.53,210.02 59.74,210.28 59.94,210.52 60.14,210.74 60.34,210.94 60.54,211.11 60.75,211.25 60.95,211.36 61.15,211.44 61.35,211.49 61.55,211.50 61.76,211.47 61.96,211.40 62.16,211.29 62.36,211.14 62.57,210.97 62.77,210.76 62.97,210.52 63.17,210.26 63.37,209.97 63.58,209.67 63.78,209.34 63.98,208.99 64.18,208.63 64.38,208.25 64.59,207.86 64.79,207.46 64.99,207.06 65.19,206.65 65.40,206.23 65.60,205.82 65.80,205.41 66.00,205.00 66.20,204.56 66.41,204.09 66.61,203.56 66.81,203.00 67.01,202.41 67.21,201.78 67.42,201.13 67.62,200.45 67.82,199.75 68.02,199.04 68.23,198.31 68.43,197.58 68.63,196.84 68.83,196.10 69.03,195.36 69.24,194.63 69.44,193.91 69.64,193.21 69.84,192.52 70.04,191.85 70.25,191.17 70.45,190.46 70.65,189.73 70.85,188.97 71.06,188.20 71.26,187.42 71.46,186.63 71.66,185.84 71.86,185.05 72.07,184.27 72.27,183.50 72.47,182.75 72.67,182.02 72.87,181.31 73.08,180.64 73.28,180.00 73.48,179.40 73.68,178.84 73.88,178.34 74.09,177.88 74.29,177.49 74.49,177.15 74.69,176.88 74.90,176.62 75.10,176.36 75.30,176.11 75.50,175.87 75.70,175.64 75.91,175.42 76.11,175.22 76.31,175.04 76.51,174.88 76.71,174.75 76.92,174.64 77.12,174.56 77.32,174.51 77.52,174.50 77.73,174.52 77.93,174.58 78.13,174.66 78.33,174.78 78.53,174.92 78.74,175.08 78.94,175.27 79.14,175.48 79.34,175.71 79.54,175.95 79.75,176.21 79.95,176.48 80.15,176.76 80.35,177.05 80.56,177.34 80.76,177.64 80.96,177.94 81.16,178.26 81.36,178.63 81.57,179.06 81.77,179.53 81.97,180.05 82.17,180.60 82.37,181.19 82.58,181.81 82.78,182.45 82.98,183.12 83.18,183.80 83.39,184.50 83.59,185.20 83.79,185.91 83.99,186.62 84.19,187.32 84.40,188.02 84.60,188.70 84.80,189.36 85.00,190.01 85.20,190.65 85.41,191.31 85.61,192.00 85.81,192.69 86.01,193.40 86.22,194.11 86.42,194.83 86.62,195.56 86.82,196.27 87.02,196.99 87.23,197.69 87.43,198.39 87.63,199.06 87.83,199.72 88.03,200.36 88.24,200.97 88.44,201.56 88.64,202.11 88.84,202.62 89.05,203.10 89.25,203.58 89.45,204.07 89.65,204.56 89.85,205.06 90.06,205.55 90.26,206.04 90.46,206.52 90.66,207.00 90.86,207.45 91.07,207.89 91.27,208.31 91.47,208.70 91.67,209.06 91.87,209.39 92.08,209.69 92.28,209.94 92.48,210.15 92.68,210.32 92.89,210.43 93.09,210.49 93.29,210.49 93.49,210.43 93.69,210.31 93.90,210.13 94.10,209.89 94.30,209.61 94.50,209.29 94.70,208.93 94.91,208.53 95.11,208.11 95.31,207.66 95.51,207.19 95.72,206.70 95.92,206.20 96.12,205.68 96.32,205.05 96.52,204.31 96.73,203.47 96.93,202.53 97.13,201.51 97.33,200.41 97.53,199.24 97.74,198.01 97.94,196.72 98.14,195.39 98.34,193.97 98.55,192.31 98.75,190.45 98.95,188.41 99.15,186.23 99.35,183.96 99.56,181.63 99.76,179.27 99.96,176.92 100.16,174.63 100.36,172.42 100.57,170.33 100.77,168.40 100.97,166.62 101.17,164.91 101.38,163.22 101.58,161.47 101.78,159.59 101.98,157.52 102.18,155.20 102.39,152.48 102.59,149.31 102.79,145.78 102.99,141.98 103.19,138.03 103.40,134.01 103.60,130.02 103.80,125.85 104.00,121.32 104.21,116.62 104.41,111.93 104.61,107.44 104.81,103.33 105.01,99.78 105.22,96.68 105.42,93.82 105.62,91.15 105.82,88.65 106.02,86.26 106.23,83.95 106.43,81.68 106.63,79.34 106.83,77.00 107.04,74.79 107.24,72.86 107.44,71.35 107.64,70.24 107.84,69.22 108.05,68.42 108.25,68.02 108.45,68.07 108.65,68.34 108.85,68.78 109.06,69.31 109.26,69.88 109.46,70.53 109.66,71.38 109.86,72.40 110.07,73.55 110.27,74.76 110.47,76.00 110.67,77.22 110.88,78.36 111.08,79.39 111.28,80.44 111.48,81.51 111.68,82.57 111.89,83.58 112.09,84.51 112.29,85.32 112.49,85.98 112.69,86.55 112.90,87.12 113.10,87.66 113.30,88.14 113.50,88.54 113.71,88.83 113.91,88.98 114.11,88.92 114.31,88.42 114.51,87.56 114.72,86.46 114.92,85.23 115.12,84.00 115.32,82.88 115.52,81.71 115.73,80.40 115.93,79.05 116.13,77.78 116.33,76.69 116.54,75.88 116.74,75.17 116.94,74.50 117.14,73.95 117.34,73.59 117.55,73.52 117.75,74.03 117.95,75.14 118.15,76.68 118.35,78.62 118.56,82.55 118.76,88.01 118.96,93.79 119.16,100.79 119.37,108.00 119.57,113.66 119.77,118.01 119.97,121.77 120.17,125.38 120.38,129.28 120.58,133.88 120.78,139.20 120.98,144.97 121.18,150.92 121.39,156.82 121.59,162.51 121.79,168.63 121.99,174.98 122.20,181.19 122.40,186.86 122.60,191.60 122.80,195.02 123.00,197.52 123.21,199.74 123.41,201.71 123.61,203.48 123.81,205.05 124.01,206.47 124.22,207.77 124.42,208.97 124.62,210.11 124.82,211.15 125.03,212.06 125.23,212.88 125.43,213.65 125.63,214.38 125.83,215.12 126.04,215.90 126.24,216.75 126.44,217.70 126.64,218.76 126.84,219.93 127.05,221.16 127.25,222.43 127.45,223.71 127.65,224.96 127.85,226.16 128.06,227.28 128.26,228.28 128.46,229.19 128.66,230.03 128.87,230.83 129.07,231.61 129.27,232.38 129.47,233.17 129.67,234.00 129.88,234.89 130.08,235.86 130.28,236.92 130.48,238.02 130.68,239.16 130.89,240.30 131.09,241.42 131.29,242.50 131.49,243.51 131.70,244.43 131.90,245.32 132.10,246.19 132.30,247.03 132.50,247.84 132.71,248.63 132.91,249.37 133.11,250.07 133.31,250.73 133.51,251.34 133.72,251.94 133.92,252.51 134.12,253.06 134.32,253.60 134.53,254.11 134.73,254.61 134.93,255.08 135.13,255.54 135.33,255.98 135.54,256.40 135.74,256.81 135.94,257.19 136.14,257.56 136.34,257.92 136.55,258.27 136.75,258.62 136.95,258.96 137.15,259.29 137.36,259.61 137.56,259.93 137.76,260.24 137.96,260.53 138.16,260.82 138.37,261.10 138.57,261.37 138.77,261.63 138.97,261.88 139.17,262.13 139.38,262.36 139.58,262.58 139.78,262.79 139.98,262.98 140.19,263.18 140.39,263.37 140.59,263.56 140.79,263.75 140.99,263.94 141.20,264.12 141.40,264.31 141.60,264.49 141.80,264.67 142.00,264.85 142.21,265.02 142.41,265.19 142.61,265.36 142.81,265.52 143.02,265.68 143.22,265.84 143.42,265.99 143.62,266.13 143.82,266.27 144.03,266.41 144.23,266.54 144.43,266.66 144.63,266.77 144.83,266.88 145.04,266.98 145.24,267.08 145.44,267.17 145.64,267.24 145.84,267.31 146.05,267.38 146.25,267.43 146.45,267.47 146.65,267.51 146.86,267.54 147.06,267.57 147.26,267.60 147.46,267.63 147.66,267.65 147.87,267.67 148.07,267.69 148.27,267.70 148.47,267.70 148.67,267.69 148.88,267.66 149.08,267.61 149.28,267.54 149.48,267.45 149.69,267.35 149.89,267.23 150.09,267.09 150.29,266.94 150.49,266.77 150.70,266.59 150.90,266.41 151.10,266.21 151.30,266.00 151.50,265.78 151.71,265.56 151.91,265.33 152.11,265.10 152.31,264.86 152.52,264.62 152.72,264.37 152.92,264.13 153.12,263.88 153.32,263.64 153.53,263.40 153.73,263.16 153.93,262.93 154.13,262.70 154.33,262.48 154.54,262.26 154.74,262.03 154.94,261.78 155.14,261.50 155.35,261.21 155.55,260.90 155.75,260.58 155.95,260.26 156.15,259.92 156.36,259.59 156.56,259.25 156.76,258.91 156.96,258.59 157.16,258.27 157.37,257.96 157.57,257.67 157.77,257.39 157.97,257.14 158.18,256.91 158.38,256.71 158.58,256.54 158.78,256.40 158.98,256.29 159.19,256.22 159.39,256.20 159.59,256.21 159.79,256.24 159.99,256.29 160.20,256.35 160.40,256.43 160.60,256.51 160.80,256.60 161.01,256.70 161.21,256.80 161.41,256.90 161.61,257.00 161.81,257.09 162.02,257.18 162.22,257.25 162.42,257.32 162.62,257.36 162.82,257.39 163.03,257.40 163.23,257.38 163.43,257.32 163.63,257.24 163.83,257.12 164.04,256.98 164.24,256.83 164.44,256.65 164.64,256.46 164.85,256.25 165.05,256.04 165.25,255.82 165.45,255.60 165.65,255.38 165.86,255.16 166.06,254.94 166.26,254.74 166.46,254.55 166.66,254.37 166.87,254.21 167.07,254.08 167.27,253.96 167.47,253.88 167.68,253.82 167.88,253.80 168.08,253.82 168.28,253.88 168.48,253.97 168.69,254.10 168.89,254.26 169.09,254.45 169.29,254.66 169.49,254.88 169.70,255.12 169.90,255.38 170.10,255.64 170.30,255.90 170.51,256.17 170.71,256.43 170.91,256.68 171.11,256.92 171.31,257.15 171.52,257.36 171.72,257.54 171.92,257.70 172.12,257.83 172.32,257.93 172.53,257.98 172.73,258.00 172.93,257.98 173.13,257.93 173.34,257.85 173.54,257.75 173.74,257.62 173.94,257.47 174.14,257.30 174.35,257.10 174.55,256.89 174.75,256.66 174.95,256.42 175.15,256.16 175.36,255.88 175.56,255.60 175.76,255.31 175.96,255.01 176.17,254.70 176.37,254.39 176.57,254.07 176.77,253.75 176.97,253.43 177.18,253.12 177.38,252.80 177.58,252.49 177.78,252.19 177.98,251.89 178.19,251.60 178.39,251.33 178.59,251.06 178.79,250.81 178.99,250.56 179.20,250.28 179.40,250.00 179.60,249.70 179.80,249.39 180.01,249.07 180.21,248.74 180.41,248.41 180.61,248.07 180.81,247.74 181.02,247.41 181.22,247.08 181.42,246.76 181.62,246.44 181.82,246.14 182.03,245.85 182.23,245.57 182.43,245.31 182.63,245.07 182.84,244.86 183.04,244.66 183.24,244.49 183.44,244.35 183.64,244.24 183.85,244.16 184.05,244.11 184.25,244.10 184.45,244.12 184.65,244.18 184.86,244.26 185.06,244.36 185.26,244.49 185.46,244.65 185.67,244.82 185.87,245.02 186.07,245.23 186.27,245.46 186.47,245.70 186.68,245.96 186.88,246.22 187.08,246.50 187.28,246.79 187.48,247.08 187.69,247.37 187.89,247.67 188.09,247.97 188.29,248.27 188.50,248.57 188.70,248.86 188.90,249.15 189.10,249.43 189.30,249.70 189.51,249.96 189.71,250.21 189.91,250.46 190.11,250.71 190.31,250.98 190.52,251.25 190.72,251.52 190.92,251.80 191.12,252.08 191.33,252.37 191.53,252.65 191.73,252.94 191.93,253.23 192.13,253.52 192.34,253.80 192.54,254.08 192.74,254.36 192.94,254.64 193.14,254.90 193.35,255.17 193.55,255.42 193.75,255.67 193.95,255.91 194.16,256.14 194.36,256.35 194.56,256.56 194.76,256.76 194.96,256.96 195.17,257.15 195.37,257.35 195.57,257.53 195.77,257.72 195.97,257.90 196.18,258.08 196.38,258.26 196.58,258.43 196.78,258.60 196.98,258.77 197.19,258.93 197.39,259.09 197.59,259.25 197.79,259.40 198.00,259.55 198.20,259.70 198.40,259.84 198.60,259.98 198.80,260.12 199.01,260.25 199.21,260.38 199.41,260.51 199.61,260.63 199.81,260.76 200.02,260.89 200.22,261.02 200.42,261.16 200.62,261.29 200.83,261.42 201.03,261.56 201.23,261.69 201.43,261.82 201.63,261.95 201.84,262.08 202.04,262.21 202.24,262.34 202.44,262.46 202.64,262.58 202.85,262.69 203.05,262.80 203.25,262.91 203.45,263.01 203.66,263.11 203.86,263.20 204.06,263.28 204.26,263.36 204.46,263.43 204.67,263.49 204.87,263.55 205.07,263.60 205.27,263.64 205.47,263.67 205.68,263.69 205.88,263.70 206.08,263.70 206.28,263.70 206.49,263.69 206.69,263.67 206.89,263.66 207.09,263.64 207.29,263.61 207.50,263.58 207.70,263.55 207.90,263.52 208.10,263.48 208.30,263.44 208.51,263.39 208.71,263.35 208.91,263.30 209.11,263.25 209.32,263.19 209.52,263.13 209.72,263.07 209.92,263.01 210.12,262.95 210.33,262.89 210.53,262.82 210.73,262.75 210.93,262.68 211.13,262.61 211.34,262.54 211.54,262.47 211.74,262.39 211.94,262.32 212.15,262.24 212.35,262.16 212.55,262.06 212.75,261.94 212.95,261.82 213.16,261.69 213.36,261.55 213.56,261.40 213.76,261.25 213.96,261.08 214.17,260.91 214.37,260.74 214.57,260.55 214.77,260.36 214.97,260.17 215.18,259.97 215.38,259.77 215.58,259.57 215.78,259.36 215.99,259.15 216.19,258.94 216.39,258.73 216.59,258.52 216.79,258.31 217.00,258.10 217.20,257.89 217.40,257.68 217.60,257.48 217.80,257.28 218.01,257.08 218.21,256.89 218.41,256.70 218.61,256.51 218.82,256.32 219.02,256.13 219.22,255.94 219.42,255.75 219.62,255.56 219.83,255.37 220.03,255.18 220.23,254.99 220.43,254.79 220.63,254.60 220.84,254.41 221.04,254.21 221.24,254.01 221.44,253.82 221.65,253.62 221.85,253.42 222.05,253.21 222.25,253.01 222.45,252.80 222.66,252.59 222.86,252.38 223.06,252.17 223.26,251.96 223.46,251.74 223.67,251.52 223.87,251.30 224.07,251.07 224.27,250.85 224.48,250.61 224.68,250.38 224.88,250.14 225.08,249.90 225.28,249.66 225.49,249.41 225.69,249.15 225.89,248.89 226.09,248.63 226.29,248.36 226.50,248.08 226.70,247.80 226.90,247.52 227.10,247.24 227.31,246.95 227.51,246.65 227.71,246.35 227.91,246.05 228.11,245.75 228.32,245.44 228.52,245.13 228.72,244.81 228.92,244.49 229.12,244.16 229.33,243.82 229.53,243.48 229.73,243.14 229.93,242.79 230.14,242.43 230.34,242.07 230.54,241.70 230.74,241.34 230.94,240.97 231.15,240.59 231.35,240.22 231.55,239.84 231.75,239.46 231.95,239.09 232.16,238.71 232.36,238.33 232.56,237.94 232.76,237.56 232.96,237.17 233.17,236.78 233.37,236.39 233.57,235.99 233.77,235.59 233.98,235.19 234.18,234.78 234.38,234.37 234.58,233.95 234.78,233.53 234.99,233.11 235.19,232.68 235.39,232.24 235.59,231.80 235.79,231.34 236.00,230.88 236.20,230.41 236.40,229.94 236.60,229.45 236.81,228.97 237.01,228.47 237.21,227.97 237.41,227.47 237.61,226.96 237.82,226.46 238.02,225.94 238.22,225.43 238.42,224.92 238.62,224.41 238.83,223.90 239.03,223.39 239.23,222.89 239.43,222.39 239.64,221.89 239.84,221.39 240.04,220.90 240.24,220.42 240.44,219.93 240.65,219.44 240.85,218.94 241.05,218.45 241.25,217.96 241.45,217.47 241.66,216.97 241.86,216.48 242.06,215.99 242.26,215.51 242.47,215.02 242.67,214.54 242.87,214.06 243.07,213.59 243.27,213.12 243.48,212.65 243.68,212.19 243.88,211.73 244.08,211.28 244.28,210.83 244.49,210.39 244.69,209.93 244.89,209.46 245.09,208.99 245.30,208.52 245.50,208.04 245.70,207.56 245.90,207.09 246.10,206.62 246.31,206.16 246.51,205.71 246.71,205.28 246.91,204.85 247.11,204.45 247.32,204.06 247.52,203.69 247.72,203.35 247.92,203.04 248.13,202.75 248.33,202.49 248.53,202.27 248.73,202.06 248.93,201.85 249.14,201.64 249.34,201.43 249.54,201.23 249.74,201.03 249.94,200.84 250.15,200.66 250.35,200.48 250.55,200.31 250.75,200.16 250.95,200.01 251.16,199.88 251.36,199.76 251.56,199.66 251.76,199.57 251.97,199.50 252.17,199.45 252.37,199.41 252.57,199.40 252.77,199.41 252.98,199.44 253.18,199.49 253.38,199.56 253.58,199.65 253.78,199.75 253.99,199.88 254.19,200.02 254.39,200.17 254.59,200.33 254.80,200.51 255.00,200.69 255.20,200.89 255.40,201.09 255.60,201.31 255.81,201.52 256.01,201.75 256.21,201.97 256.41,202.20 256.61,202.44 256.82,202.74 257.02,203.08 257.22,203.48 257.42,203.92 257.63,204.40 257.83,204.90 258.03,205.43 258.23,205.98 258.43,206.54 258.64,207.10 258.84,207.67 259.04,208.22 259.24,208.77 259.44,209.29 259.65,209.80 259.85,210.27 260.05,210.70 260.25,211.11 260.46,211.51 260.66,211.91 260.86,212.30 261.06,212.70 261.26,213.08 261.47,213.47 261.67,213.84 261.87,214.21 262.07,214.58 262.27,214.93 262.48,215.28 262.68,215.61 262.88,215.94 263.08,216.25 263.29,216.55 263.49,216.84 263.69,217.11 263.89,217.37 264.09,217.61 264.30,217.86 264.50,218.12 264.70,218.38 264.90,218.64 265.10,218.89 265.31,219.14 265.51,219.37 265.71,219.59 265.91,219.79 266.12,219.96 266.32,220.12 266.52,220.24 266.72,220.33 266.92,220.38 267.13,220.40 267.33,220.37 267.53,220.30 267.73,220.18 267.93,220.03 268.14,219.85 268.34,219.63 268.54,219.38 268.74,219.10 268.94,218.81 269.15,218.49 269.35,218.16 269.55,217.81 269.75,217.45 269.96,217.08 270.16,216.66 270.36,216.11 270.56,215.44 270.76,214.68 270.97,213.86 271.17,213.00 271.37,212.13 271.57,211.27 271.77,210.44 271.98,209.68 272.18,208.97 272.38,208.27 272.58,207.56 272.79,206.87 272.99,206.18 273.19,205.49 273.39,204.81 273.59,204.14 273.80,203.48 274.00,202.82 274.20,202.17 274.40,201.52 274.60,200.89 274.81,200.26 275.01,199.64 275.21,199.02 275.41,198.41 275.62,197.81 275.82,197.22 276.02,196.62 276.22,196.04 276.42,195.45 276.63,194.87 276.83,194.29 277.03,193.72 277.23,193.14 277.43,192.57 277.64,192.00 277.84,191.42 278.04,190.85 278.24,190.28 278.45,189.70 278.65,189.12 278.85,188.54 279.05,187.96 279.25,187.37 279.46,186.79 279.66,186.21 279.86,185.64 280.06,185.07 280.26,184.50 280.47,183.94 280.67,183.38 280.87,182.84 281.07,182.30 281.28,181.77 281.48,181.26 281.68,180.75 281.88,180.24 282.08,179.70 282.29,179.14 282.49,178.56 282.69,177.97 282.89,177.38 283.09,176.78 283.30,176.20 283.50,175.62 283.70,175.07 283.90,174.54 284.11,174.04 284.31,173.58 284.51,173.16 284.71,172.79 284.91,172.48 285.12,172.23 285.32,172.04 285.52,171.93 285.72,171.90 285.92,171.98 286.13,172.18 286.33,172.49 286.53,172.90 286.73,173.40 286.93,173.98 287.14,174.62 287.34,175.32 287.54,176.07 287.74,176.85 287.95,177.66 288.15,178.48 288.35,179.30 288.55,180.11 288.75,180.91 288.96,181.77 289.16,182.70 289.36,183.70 289.56,184.77 289.76,185.89 289.97,187.06 290.17,188.28 290.37,189.53 290.57,190.82 290.78,192.13 290.98,193.46 291.18,194.80 291.38,196.16 291.58,197.66 291.79,199.30 291.99,201.01 292.19,202.75 292.39,204.46 292.59,206.11 292.80,207.64 293.00,209.00 293.20,210.16 293.40,211.18 293.61,212.12 293.81,212.99 294.01,213.81 294.21,214.61 294.41,215.42 294.62,216.25 294.82,217.14 295.02,218.10 295.22,219.12 295.42,220.17 295.63,221.26 295.83,222.37 296.03,223.51 296.23,224.67 296.44,225.85 296.64,227.04 296.84,228.24 297.04,229.49 297.24,230.86 297.45,232.31 297.65,233.80 297.85,235.25 298.05,236.62 298.25,237.86 298.46,238.90 298.66,239.71 298.86,240.42 299.06,241.07 299.27,241.68 299.47,242.24 299.67,242.77 299.87,243.26 300.07,243.72 300.28,244.15 300.48,244.55 300.68,244.93 300.88,245.30 301.08,245.64 301.29,245.98 301.49,246.31 301.69,246.63 301.89,246.94 302.10,247.24 302.30,247.53 302.50,247.81 302.70,248.08 302.90,248.34 303.11,248.59 303.31,248.83 303.51,249.06 303.71,249.28 303.91,249.50 304.12,249.70 304.32,249.89 304.52,250.07 304.72,250.24 304.92,250.40 305.13,250.55 305.33,250.71 305.53,250.85 305.73,250.99 305.94,251.13 306.14,251.26 306.34,251.38 306.54,251.50 306.74,251.61 306.95,251.72 307.15,251.83 307.35,251.92 307.55,252.02 307.75,252.10 307.96,252.18 308.16,252.26 308.36,252.33 308.56,252.40 308.77,252.47 308.97,252.53 309.17,252.59 309.37,252.65 309.57,252.71 309.78,252.76 309.98,252.82 310.18,252.87 310.38,252.92 310.58,252.97 310.79,253.02 310.99,253.07 311.19,253.11 311.39,253.16 311.60,253.21 311.80,253.25 312.00,253.30 312.20,253.35 312.40,253.39 312.61,253.43 312.81,253.46 313.01,253.50 313.21,253.53 313.41,253.57 313.62,253.60 313.82,253.64 314.02,253.67 314.22,253.71 314.43,253.75 314.63,253.79 314.83,253.84 315.03,253.89 315.23,253.95 315.44,254.01 315.64,254.09 315.84,254.17 316.04,254.27 316.24,254.39 316.45,254.51 316.65,254.64 316.85,254.78 317.05,254.92 317.26,255.07 317.46,255.22 317.66,255.37 317.86,255.53 318.06,255.68 318.27,255.83 318.47,255.98 318.67,256.12 318.87,256.27 319.07,256.42 319.28,256.57 319.48,256.73 319.68,256.89 319.88,257.05 320.09,257.21 320.29,257.37 320.49,257.54 320.69,257.71 320.89,257.88 321.10,258.05 321.30,258.22 321.50,258.40" fill="none" stroke="#e5281e" stroke-width="2"/></g>
<g clip-path="url(#cr)"><path d="M331.0 295.8L331.6 295.8L332.2 295.8L332.8 295.7L333.4 295.7L334.0 295.7L334.6 295.7M339.4 295.5L340.0 295.4L340.6 295.4L341.2 295.4L341.8 295.4L342.4 295.3L343.0 295.3L343.4 295.3M348.2 295.1L348.8 295.1L349.4 295.0L350.0 295.0L350.6 295.0L351.2 295.0L351.8 295.0L352.2 294.9M357.0 294.7L357.6 294.7L358.2 294.7L358.8 294.7L359.4 294.7L360.0 294.7L360.6 294.7L361.0 294.7M365.8 294.6L366.4 294.6L367.0 294.6L367.6 294.6L368.2 294.6L368.8 294.6L369.4 294.6L369.8 294.6M374.7 294.6L375.3 294.6L375.9 294.6L376.5 294.6L377.1 294.6L377.7 294.6L378.3 294.5L378.7 294.5M383.5 294.5L384.1 294.5L384.7 294.5L385.3 294.5L385.9 294.5L386.5 294.5L387.1 294.5L387.5 294.5M392.3 294.6L392.9 294.6L393.5 294.6L394.1 294.6L394.7 294.6L395.3 294.6L395.9 294.6L396.3 294.6M400.9 294.7L401.5 294.7L402.1 294.7L402.7 294.7L403.3 294.7L403.9 294.7L404.5 294.7L404.9 294.7M409.7 294.7L410.3 294.8L410.9 294.8L411.5 294.8L412.1 294.8L412.7 294.8L413.3 294.8L413.7 294.8M418.5 295.2L419.1 295.3L419.7 295.3L420.3 295.4L420.9 295.5L421.5 295.5L422.1 295.6L422.5 295.6M427.5 296.2L428.1 296.3L428.7 296.3L429.3 296.4L429.9 296.5L430.5 296.5L431.1 296.6L431.5 296.7M436.2 297.2L436.8 297.3L437.4 297.3L438.0 297.4L438.6 297.4L439.2 297.4L439.8 297.5L440.2 297.5M445.0 297.6L445.6 297.7L446.2 297.7L446.8 297.7L447.4 297.7L448.0 297.7L448.6 297.8L449.0 297.8M453.8 297.9L454.4 297.9L455.0 298.0L455.6 298.0L456.2 298.0L456.8 298.0L457.4 298.0L457.8 298.1M462.7 298.2L463.3 298.2L463.9 298.3L464.5 298.3L465.1 298.3L465.7 298.3L466.3 298.3L466.7 298.3M471.5 298.4L472.1 298.4L472.7 298.4L473.3 298.4L473.9 298.4L474.5 298.4L475.1 298.4L475.5 298.5M480.3 298.5L480.9 298.5L481.5 298.5L482.1 298.6L482.7 298.6L483.3 298.6L483.9 298.6L484.3 298.6M489.1 298.7L489.7 298.7L490.3 298.7L490.9 298.7L491.5 298.7L492.1 298.7L492.3 298.7M331.0 299.3L331.6 299.3L332.2 299.2L332.8 299.2L333.4 299.2L334.0 299.1L334.6 299.1M339.4 298.8L340.0 298.8L340.6 298.8L341.2 298.7L341.8 298.7L342.4 298.7L343.0 298.6L343.4 298.6M348.2 298.3L348.8 298.3L349.4 298.3L350.0 298.2L350.6 298.2L351.2 298.2L351.8 298.1L352.2 298.1M357.0 297.9L357.6 297.8L358.2 297.8L358.8 297.8L359.4 297.7L360.0 297.7L360.6 297.7L361.0 297.7M365.8 297.5L366.4 297.5L367.0 297.5L367.6 297.4L368.2 297.4L368.8 297.4L369.4 297.4L369.8 297.4M374.6 297.2L375.2 297.2L375.8 297.1L376.4 297.1L377.0 297.1L377.6 297.1L378.2 297.1L378.6 297.0M383.4 296.9L384.0 296.8L384.6 296.8L385.2 296.8L385.8 296.8L386.4 296.8L387.0 296.7L387.4 296.7M392.2 296.6L392.8 296.5L393.4 296.5L394.0 296.5L394.6 296.5L395.2 296.5L395.8 296.5L396.2 296.4M401.0 296.3L401.6 296.3L402.2 296.2L402.8 296.2L403.4 296.2L404.0 296.2L404.6 296.2L405.0 296.2M409.9 296.0L410.5 296.0L411.1 296.1L411.7 296.1L412.3 296.2L412.9 296.2L413.5 296.2L413.9 296.3M418.6 296.6L419.2 296.6L419.8 296.7L420.4 296.7L421.0 296.7L421.6 296.8L422.2 296.8L422.6 296.8M427.4 297.2L428.0 297.2L428.6 297.2L429.2 297.3L429.8 297.3L430.4 297.4L431.0 297.4L431.4 297.4M436.2 297.7L436.8 297.8L437.4 297.8L438.0 297.9L438.6 297.9L439.2 297.9L439.8 298.0L440.2 298.0M445.0 298.1L445.6 298.2L446.2 298.2L446.8 298.2L447.4 298.2L448.0 298.2L448.6 298.2L449.0 298.3M453.9 298.4L454.5 298.4L455.1 298.4L455.7 298.5L456.3 298.5L456.9 298.5L457.5 298.5L457.9 298.5M462.7 298.7L463.3 298.7L463.9 298.7L464.5 298.7L465.1 298.7L465.7 298.7L466.3 298.8L466.7 298.8M471.5 298.9L472.1 298.9L472.7 298.9L473.3 299.0L473.9 299.0L474.5 299.0L475.1 299.0L475.5 299.0M480.3 299.2L480.9 299.2L481.5 299.2L482.1 299.2L482.7 299.2L483.3 299.2L483.9 299.3L484.3 299.3M489.1 299.4L489.7 299.4L490.3 299.5L490.9 299.5L491.5 299.5L492.1 299.5L492.3 299.5M331.0 288.6L331.5 288.3L332.1 288.1L332.6 287.8L333.2 287.5L333.7 287.3L334.3 287.0M339.0 285.4L339.6 285.3L340.2 285.3L340.8 285.2L341.4 285.2L342.0 285.2L342.6 285.1L343.2 285.1M348.2 285.1L348.8 285.0L349.4 285.0L350.0 285.0L350.6 285.0L351.2 284.9L351.8 284.9L352.2 284.9M357.0 284.4L357.6 284.3L358.2 284.2L358.8 284.1L359.3 283.9L359.9 283.8L360.5 283.6L360.9 283.5M365.8 282.6L366.4 282.6L367.0 282.7L367.6 282.8L368.2 283.0L368.7 283.1L369.3 283.4L369.7 283.5M373.9 285.8L374.5 286.0L375.0 286.3L375.5 286.6L376.1 286.9L376.6 287.2L377.1 287.5L377.4 287.7M381.9 289.6L382.4 289.8L383.0 290.0L383.6 290.2L384.1 290.3L384.7 290.5L385.3 290.7L385.9 290.9L386.4 291.1L386.8 291.2M392.0 292.6L392.6 292.7L393.2 292.8L393.8 292.9L394.4 293.0L395.0 293.1L395.6 293.1L396.0 293.2M401.0 293.5L401.6 293.5L402.2 293.5L402.8 293.5L403.4 293.6L404.0 293.6L404.6 293.6L405.0 293.6M409.8 293.6L410.4 293.6L411.0 293.6L411.6 293.6L412.2 293.5L412.8 293.5L413.4 293.4L413.8 293.4M418.6 292.8L419.2 292.8L419.8 292.7L420.4 292.7L421.0 292.6L421.6 292.5L422.2 292.5L422.6 292.4M427.4 291.7L427.9 291.6L428.5 291.5L429.1 291.4L429.7 291.2L430.3 291.1L430.9 291.0L431.3 290.9M436.1 289.6L436.7 289.4L437.3 289.2L437.8 289.1L438.4 288.9L439.0 288.7L439.6 288.6L440.2 288.4M444.7 286.9L445.3 286.7L445.8 286.5L446.4 286.3L447.0 286.0L447.5 285.8L448.1 285.6L448.5 285.4M453.2 283.7L453.7 283.5L454.3 283.3L454.9 283.1L455.4 282.9L456.0 282.7L456.6 282.5L456.9 282.3M462.3 280.8L462.9 280.7L463.5 280.6L464.1 280.5L464.7 280.4L465.3 280.3L465.9 280.2L466.5 280.1M471.3 279.6L471.9 279.6L472.5 279.6L473.1 279.6L473.7 279.6L474.3 279.7L474.9 279.8L475.4 279.9M480.0 281.4L480.6 281.6L481.2 281.8L481.7 282.0L482.3 282.1L482.9 282.3L483.5 282.5L484.0 282.6M488.8 284.0L489.4 284.2L490.0 284.4L490.6 284.6L491.1 284.7L491.7 284.9L492.3 285.1M331.0 288.6L331.6 288.4L332.1 288.1L332.6 287.9L333.2 287.6L333.7 287.3L334.3 287.1M338.5 284.8L339.1 284.5L339.6 284.2L340.1 283.9L340.6 283.6L341.2 283.3L341.7 283.0L342.0 282.8M346.3 280.5L346.8 280.3L347.4 280.1L348.0 279.9L348.5 279.7L349.1 279.5L349.7 279.4L350.3 279.2L350.9 279.1L351.3 279.0M356.7 278.6L357.3 278.7L357.9 278.7L358.5 278.7L359.1 278.8L359.7 278.9L360.2 279.1L360.8 279.3M365.2 281.4L365.7 281.7L366.2 282.0L366.7 282.3L367.3 282.5L367.8 282.8L368.3 283.1L368.7 283.3M373.0 285.5L373.5 285.8L374.1 286.0L374.6 286.3L375.2 286.6L375.7 286.8L376.2 287.1L376.6 287.3M380.8 289.2L381.4 289.4L381.9 289.6L382.5 289.8L383.1 290.0L383.6 290.2L384.2 290.4L384.8 290.5L385.0 290.6M331.0 288.5L331.5 288.3L332.1 288.0L332.6 287.7L333.2 287.5L333.7 287.2L334.2 287.0M339.0 285.4L339.6 285.2L340.2 285.2L340.8 285.1L341.4 285.1L342.0 285.1L342.6 285.0L343.2 285.0L343.4 285.0M348.2 284.9L348.8 284.9L349.4 284.9L350.0 284.9L350.6 284.8L351.2 284.8L351.8 284.8L352.2 284.7M356.9 284.2L357.5 284.1L358.1 284.0L358.7 283.9L359.3 283.7L359.9 283.6L360.5 283.4L360.8 283.3M365.7 282.3L366.3 282.3L366.9 282.3L367.5 282.4L368.1 282.5L368.7 282.7L369.3 282.9L369.6 283.1M374.0 285.0L374.6 285.2L375.2 285.4L375.7 285.5L376.3 285.7L376.9 285.8L377.5 285.9L378.1 286.0L378.3 286.0M382.3 283.5L382.7 283.1L383.0 282.6L383.4 282.1L383.7 281.6L384.0 281.1L384.3 280.5L384.5 280.2M386.5 275.8L386.8 275.3L387.0 274.7L387.2 274.2L387.5 273.6L387.7 273.1L387.9 272.5L388.1 272.1M389.8 267.7L390.1 267.1L390.3 266.6L390.6 266.0L390.8 265.5L391.1 264.9L391.3 264.4L391.5 264.0M394.5 261.1L395.1 261.3L395.6 261.6L396.0 262.0L396.4 262.5L396.7 263.0L397.0 263.5L397.1 263.7M399.0 268.1L399.2 268.7L399.4 269.2L399.6 269.8L399.8 270.4L400.0 270.9L400.2 271.5L400.4 271.9M402.0 276.4L402.2 277.0L402.4 277.5L402.6 278.1L402.8 278.7L403.0 279.2L403.2 279.8L403.4 280.2M405.3 284.6L405.6 285.1L405.9 285.6L406.2 286.2L406.5 286.7L406.8 287.2L407.1 287.7L407.3 288.0M410.8 291.3L411.3 291.6L411.9 291.8L412.4 292.0L413.0 292.2L413.6 292.3L414.2 292.4M418.8 292.3L419.4 292.3L420.0 292.3L420.6 292.2L421.2 292.2L421.8 292.1L422.4 292.1L422.6 292.1M427.4 291.5L428.0 291.4L428.6 291.3L429.1 291.1L429.7 291.0L430.3 290.9L430.9 290.7L431.3 290.6M436.1 289.4L436.7 289.2L437.3 289.1L437.9 288.9L438.5 288.8L439.0 288.6L439.6 288.4L440.0 288.3M444.8 286.8L445.3 286.6L445.9 286.4L446.4 286.1L447.0 285.9L447.6 285.7L448.1 285.5L448.5 285.3M453.2 283.6L453.8 283.4L454.3 283.2L454.9 283.0L455.5 282.8L456.0 282.6L456.6 282.4L457.0 282.3M462.3 280.7L462.9 280.6L463.5 280.5L464.1 280.4L464.7 280.3L465.3 280.2L465.9 280.2L466.5 280.1M471.3 279.6L471.9 279.6L472.5 279.6L473.1 279.6L473.7 279.6L474.3 279.6L474.9 279.7L475.3 279.8M480.0 281.3L480.6 281.5L481.2 281.7L481.7 281.9L482.3 282.1L482.9 282.3L483.5 282.4L484.0 282.6M488.8 284.0L489.4 284.2L490.0 284.4L490.6 284.5L491.2 284.7L491.7 284.9L492.3 285.1M331.0 287.1L331.5 286.8L332.1 286.5L332.6 286.2L333.1 286.0L333.7 285.7L334.2 285.4M338.9 283.7L339.5 283.5L340.1 283.4L340.6 283.3L341.2 283.3L341.8 283.2L342.4 283.2L343.0 283.1L343.2 283.1M348.2 282.8L348.8 282.7L349.4 282.7L350.0 282.6L350.6 282.6L351.2 282.5L351.8 282.4L352.2 282.4M356.9 281.5L357.5 281.4L358.1 281.2L358.7 281.0L359.3 280.8L359.8 280.6L360.4 280.4L360.8 280.3M365.5 278.7L366.1 278.5L366.7 278.5L367.3 278.5L367.9 278.5L368.5 278.5L369.1 278.6L369.7 278.7M374.6 279.7L375.2 279.8L375.8 279.8L376.3 279.9L376.9 280.0L377.5 280.0L378.1 280.0L378.5 280.0M383.0 278.3L383.5 278.0L384.0 277.6L384.5 277.3L385.0 276.9L385.4 276.5L385.9 276.1L386.2 275.9M389.4 272.3L389.8 271.8L390.1 271.3L390.4 270.8L390.8 270.3L391.1 269.8L391.4 269.3L391.6 269.0M393.9 264.7L394.1 264.2L394.4 263.6L394.6 263.1L394.9 262.5L395.1 262.0L395.4 261.4L395.5 261.1M397.4 256.6L397.6 256.1L397.8 255.5L398.0 255.0L398.2 254.4L398.4 253.8L398.6 253.3L398.8 252.9M400.4 248.4L400.6 247.8L400.7 247.2L400.9 246.6L401.1 246.1L401.3 245.5L401.5 244.9L401.6 244.5M403.1 240.0L403.2 239.4L403.4 238.8L403.6 238.2L403.8 237.7L404.0 237.1L404.1 236.5L404.3 236.1M405.7 231.5L405.8 231.0L406.0 230.4L406.2 229.8L406.4 229.2L406.5 228.7L406.7 228.1L406.8 227.7M408.2 223.1L408.4 222.5L408.6 222.0L408.7 221.4L408.9 220.8L409.1 220.2L409.3 219.7L409.4 219.3M410.9 214.7L411.1 214.1L411.3 213.6L411.5 213.0L411.7 212.4L411.8 211.9L412.0 211.3L412.2 210.9M413.9 206.4L414.1 205.9L414.3 205.3L414.5 204.8L414.8 204.2L415.0 203.7L415.3 203.1L415.4 202.7M417.9 198.6L418.3 198.2L418.7 197.7L419.1 197.3L419.6 197.0L420.2 196.7L420.8 196.6L421.4 196.6L421.6 196.6M425.1 199.7L425.4 200.2L425.7 200.7L426.0 201.2L426.3 201.8L426.6 202.3L426.9 202.8L427.1 203.2M429.0 207.6L429.2 208.2L429.4 208.7L429.6 209.3L429.9 209.8L430.1 210.4L430.3 211.0L430.4 211.3M432.0 215.9L432.2 216.4L432.4 217.0L432.6 217.6L432.8 218.1L433.0 218.7L433.2 219.3L433.3 219.7M434.8 224.2L435.0 224.8L435.2 225.4L435.4 225.9L435.6 226.5L435.8 227.1L436.0 227.6L436.1 228.0M437.6 232.6L437.8 233.2L438.0 233.7L438.2 234.3L438.4 234.9L438.6 235.4L438.8 236.0L438.9 236.4M440.5 240.9L440.7 241.5L440.9 242.0L441.1 242.6L441.3 243.2L441.5 243.7L441.8 244.3L441.9 244.7M443.7 249.1L443.9 249.7L444.2 250.2L444.4 250.8L444.6 251.3L444.9 251.9L445.1 252.4L445.3 252.8M447.5 257.1L447.8 257.6L448.1 258.1L448.4 258.6L448.7 259.2L449.0 259.7L449.3 260.2L449.5 260.5M452.3 264.5L452.6 264.9L453.0 265.4L453.4 265.8L453.8 266.3L454.3 266.7L454.7 267.1L455.0 267.4M458.8 270.2L459.4 270.5L459.9 270.8L460.4 271.1L461.0 271.4L461.5 271.6L462.0 271.9L462.4 272.0M466.0 273.4L466.5 273.6L467.1 273.7L467.7 273.9L468.3 274.0M472.0 274.8L472.6 275.0L473.2 275.1L473.8 275.2L474.3 275.4L474.9 275.6L475.5 275.8L475.6 275.9M480.0 278.0L480.5 278.2L481.1 278.5L481.6 278.7L482.2 279.0L482.7 279.2L483.3 279.4L483.7 279.5M488.2 281.2L488.7 281.4L489.3 281.7L489.9 281.9L490.4 282.1L491.0 282.3L491.5 282.5L491.9 282.6" fill="none" stroke="#e2401f" stroke-width="2.0"/><g fill="#fff" stroke="#000" stroke-width="0.7"><circle cx="331.0" cy="268.6" r="1.65"/><circle cx="331.0" cy="249.7" r="1.65"/><circle cx="331.0" cy="270.9" r="1.65"/><circle cx="331.0" cy="258.3" r="1.65"/><circle cx="331.0" cy="272.4" r="1.65"/><circle cx="331.0" cy="264.2" r="1.65"/><circle cx="331.0" cy="270.4" r="1.65"/><circle cx="331.0" cy="265.4" r="1.65"/><circle cx="331.0" cy="269.2" r="1.65"/><circle cx="331.0" cy="261.5" r="1.65"/><circle cx="331.0" cy="254.9" r="1.65"/><circle cx="331.0" cy="266.2" r="1.65"/><circle cx="331.0" cy="266.4" r="1.65"/><circle cx="331.0" cy="276.9" r="1.65"/><circle cx="331.0" cy="246.1" r="1.65"/><circle cx="331.0" cy="259.6" r="1.65"/><circle cx="331.0" cy="269.1" r="1.65"/><circle cx="331.0" cy="251.7" r="1.65"/><circle cx="331.0" cy="259.4" r="1.65"/><circle cx="331.0" cy="277.0" r="1.65"/><circle cx="331.0" cy="271.7" r="1.65"/><circle cx="331.0" cy="254.5" r="1.65"/><circle cx="333.8" cy="265.6" r="1.65"/><circle cx="333.8" cy="264.6" r="1.65"/><circle cx="333.8" cy="257.2" r="1.65"/><circle cx="333.8" cy="259.6" r="1.65"/><circle cx="333.8" cy="267.9" r="1.65"/><circle cx="333.8" cy="264.0" r="1.65"/><circle cx="333.8" cy="275.4" r="1.65"/><circle cx="333.8" cy="260.8" r="1.65"/><circle cx="333.8" cy="247.9" r="1.65"/><circle cx="333.8" cy="260.8" r="1.65"/><circle cx="333.8" cy="264.9" r="1.65"/><circle cx="333.8" cy="265.6" r="1.65"/><circle cx="333.8" cy="263.5" r="1.65"/><circle cx="333.8" cy="257.5" r="1.65"/><circle cx="333.8" cy="273.0" r="1.65"/><circle cx="333.8" cy="258.6" r="1.65"/><circle cx="333.8" cy="267.8" r="1.65"/><circle cx="333.8" cy="261.1" r="1.65"/><circle cx="333.8" cy="255.0" r="1.65"/><circle cx="333.8" cy="272.5" r="1.65"/><circle cx="333.8" cy="247.9" r="1.65"/><circle cx="333.8" cy="257.4" r="1.65"/><circle cx="335.4" cy="256.2" r="1.65"/><circle cx="335.4" cy="253.9" r="1.65"/><circle cx="335.4" cy="271.3" r="1.65"/><circle cx="335.4" cy="255.4" r="1.65"/><circle cx="335.4" cy="255.8" r="1.65"/><circle cx="335.4" cy="249.7" r="1.65"/><circle cx="335.4" cy="251.9" r="1.65"/><circle cx="335.4" cy="261.2" r="1.65"/><circle cx="335.4" cy="260.7" r="1.65"/><circle cx="335.4" cy="256.9" r="1.65"/><circle cx="335.4" cy="252.2" r="1.65"/><circle cx="335.4" cy="261.5" r="1.65"/><circle cx="335.4" cy="245.5" r="1.65"/><circle cx="335.4" cy="254.6" r="1.65"/><circle cx="335.4" cy="255.2" r="1.65"/><circle cx="335.4" cy="251.3" r="1.65"/><circle cx="335.4" cy="258.0" r="1.65"/><circle cx="335.4" cy="252.5" r="1.65"/><circle cx="335.4" cy="251.6" r="1.65"/><circle cx="335.4" cy="269.0" r="1.65"/><circle cx="335.4" cy="261.9" r="1.65"/><circle cx="335.4" cy="265.0" r="1.65"/><circle cx="337.4" cy="270.5" r="1.65"/><circle cx="337.4" cy="280.7" r="1.65"/><circle cx="337.4" cy="257.1" r="1.65"/><circle cx="337.4" cy="261.7" r="1.65"/><circle cx="337.4" cy="258.8" r="1.65"/><circle cx="337.4" cy="238.1" r="1.65"/><circle cx="337.4" cy="246.3" r="1.65"/><circle cx="337.4" cy="259.4" r="1.65"/><circle cx="337.4" cy="265.1" r="1.65"/><circle cx="337.4" cy="253.9" r="1.65"/><circle cx="337.4" cy="269.8" r="1.65"/><circle cx="337.4" cy="271.2" r="1.65"/><circle cx="337.4" cy="255.5" r="1.65"/><circle cx="337.4" cy="272.5" r="1.65"/><circle cx="337.4" cy="275.5" r="1.65"/><circle cx="337.4" cy="263.6" r="1.65"/><circle cx="337.4" cy="250.2" r="1.65"/><circle cx="337.4" cy="272.9" r="1.65"/><circle cx="337.4" cy="257.8" r="1.65"/><circle cx="337.4" cy="255.8" r="1.65"/><circle cx="337.4" cy="260.4" r="1.65"/><circle cx="337.4" cy="254.4" r="1.65"/><circle cx="340.0" cy="261.3" r="1.65"/><circle cx="340.0" cy="249.5" r="1.65"/><circle cx="340.0" cy="254.9" r="1.65"/><circle cx="340.0" cy="263.8" r="1.65"/><circle cx="340.0" cy="252.8" r="1.65"/><circle cx="340.0" cy="275.9" r="1.65"/><circle cx="340.0" cy="254.2" r="1.65"/><circle cx="340.0" cy="251.3" r="1.65"/><circle cx="340.0" cy="266.1" r="1.65"/><circle cx="340.0" cy="262.7" r="1.65"/><circle cx="340.0" cy="256.1" r="1.65"/><circle cx="340.0" cy="254.3" r="1.65"/><circle cx="340.0" cy="259.9" r="1.65"/><circle cx="340.0" cy="263.4" r="1.65"/><circle cx="340.0" cy="262.8" r="1.65"/><circle cx="340.0" cy="253.7" r="1.65"/><circle cx="340.0" cy="260.0" r="1.65"/><circle cx="340.0" cy="263.5" r="1.65"/><circle cx="340.0" cy="262.8" r="1.65"/><circle cx="340.0" cy="236.7" r="1.65"/><circle cx="340.0" cy="248.7" r="1.65"/><circle cx="340.0" cy="249.7" r="1.65"/><circle cx="342.3" cy="257.5" r="1.65"/><circle cx="342.3" cy="251.3" r="1.65"/><circle cx="342.3" cy="252.5" r="1.65"/><circle cx="342.3" cy="267.0" r="1.65"/><circle cx="342.3" cy="247.2" r="1.65"/><circle cx="342.3" cy="254.9" r="1.65"/><circle cx="342.3" cy="265.4" r="1.65"/><circle cx="342.3" cy="255.2" r="1.65"/><circle cx="342.3" cy="235.2" r="1.65"/><circle cx="342.3" cy="255.5" r="1.65"/><circle cx="342.3" cy="249.1" r="1.65"/><circle cx="342.3" cy="251.4" r="1.65"/><circle cx="342.3" cy="261.1" r="1.65"/><circle cx="342.3" cy="256.3" r="1.65"/><circle cx="342.3" cy="250.1" r="1.65"/><circle cx="342.3" cy="259.8" r="1.65"/><circle cx="342.3" cy="256.0" r="1.65"/><circle cx="342.3" cy="253.2" r="1.65"/><circle cx="342.3" cy="254.8" r="1.65"/><circle cx="342.3" cy="254.4" r="1.65"/><circle cx="342.3" cy="249.5" r="1.65"/><circle cx="342.3" cy="248.5" r="1.65"/><circle cx="344.7" cy="255.3" r="1.65"/><circle cx="344.7" cy="245.3" r="1.65"/><circle cx="344.7" cy="246.7" r="1.65"/><circle cx="344.7" cy="246.0" r="1.65"/><circle cx="344.7" cy="247.0" r="1.65"/><circle cx="344.7" cy="247.0" r="1.65"/><circle cx="344.7" cy="247.3" r="1.65"/><circle cx="344.7" cy="241.6" r="1.65"/><circle cx="344.7" cy="252.9" r="1.65"/><circle cx="344.7" cy="242.3" r="1.65"/><circle cx="344.7" cy="253.5" r="1.65"/><circle cx="344.7" cy="234.4" r="1.65"/><circle cx="344.7" cy="239.9" r="1.65"/><circle cx="344.7" cy="253.3" r="1.65"/><circle cx="344.7" cy="245.9" r="1.65"/><circle cx="344.7" cy="242.5" r="1.65"/><circle cx="344.7" cy="249.3" r="1.65"/><circle cx="344.7" cy="240.0" r="1.65"/><circle cx="344.7" cy="247.3" r="1.65"/><circle cx="344.7" cy="232.5" r="1.65"/><circle cx="344.7" cy="243.9" r="1.65"/><circle cx="344.7" cy="242.6" r="1.65"/><circle cx="347.0" cy="263.2" r="1.65"/><circle cx="347.0" cy="246.0" r="1.65"/><circle cx="347.0" cy="234.6" r="1.65"/><circle cx="347.0" cy="232.7" r="1.65"/><circle cx="347.0" cy="262.7" r="1.65"/><circle cx="347.0" cy="250.0" r="1.65"/><circle cx="347.0" cy="245.6" r="1.65"/><circle cx="347.0" cy="244.8" r="1.65"/><circle cx="347.0" cy="242.1" r="1.65"/><circle cx="347.0" cy="261.2" r="1.65"/><circle cx="347.0" cy="250.0" r="1.65"/><circle cx="347.0" cy="264.6" r="1.65"/><circle cx="347.0" cy="249.1" r="1.65"/><circle cx="347.0" cy="232.7" r="1.65"/><circle cx="347.0" cy="257.2" r="1.65"/><circle cx="347.0" cy="247.8" r="1.65"/><circle cx="347.0" cy="248.8" r="1.65"/><circle cx="347.0" cy="262.9" r="1.65"/><circle cx="347.0" cy="248.6" r="1.65"/><circle cx="347.0" cy="259.7" r="1.65"/><circle cx="347.0" cy="250.6" r="1.65"/><circle cx="347.0" cy="244.8" r="1.65"/><circle cx="348.9" cy="237.3" r="1.65"/><circle cx="348.9" cy="255.3" r="1.65"/><circle cx="348.9" cy="252.7" r="1.65"/><circle cx="348.9" cy="243.9" r="1.65"/><circle cx="348.9" cy="249.2" r="1.65"/><circle cx="348.9" cy="248.8" r="1.65"/><circle cx="348.9" cy="240.5" r="1.65"/><circle cx="348.9" cy="252.1" r="1.65"/><circle cx="348.9" cy="241.0" r="1.65"/><circle cx="348.9" cy="249.3" r="1.65"/><circle cx="348.9" cy="233.9" r="1.65"/><circle cx="348.9" cy="244.2" r="1.65"/><circle cx="348.9" cy="247.3" r="1.65"/><circle cx="348.9" cy="235.5" r="1.65"/><circle cx="348.9" cy="239.2" r="1.65"/><circle cx="348.9" cy="238.0" r="1.65"/><circle cx="348.9" cy="250.4" r="1.65"/><circle cx="348.9" cy="236.2" r="1.65"/><circle cx="348.9" cy="247.6" r="1.65"/><circle cx="348.9" cy="258.3" r="1.65"/><circle cx="348.9" cy="246.8" r="1.65"/><circle cx="348.9" cy="227.4" r="1.65"/><circle cx="350.9" cy="256.2" r="1.65"/><circle cx="350.9" cy="253.1" r="1.65"/><circle cx="350.9" cy="251.8" r="1.65"/><circle cx="350.9" cy="247.4" r="1.65"/><circle cx="350.9" cy="245.8" r="1.65"/><circle cx="350.9" cy="247.4" r="1.65"/><circle cx="350.9" cy="249.5" r="1.65"/><circle cx="350.9" cy="252.5" r="1.65"/><circle cx="350.9" cy="251.8" r="1.65"/><circle cx="350.9" cy="247.1" r="1.65"/><circle cx="350.9" cy="249.5" r="1.65"/><circle cx="350.9" cy="251.6" r="1.65"/><circle cx="350.9" cy="238.6" r="1.65"/><circle cx="350.9" cy="244.1" r="1.65"/><circle cx="350.9" cy="243.9" r="1.65"/><circle cx="350.9" cy="247.8" r="1.65"/><circle cx="350.9" cy="247.3" r="1.65"/><circle cx="350.9" cy="247.4" r="1.65"/><circle cx="350.9" cy="243.5" r="1.65"/><circle cx="350.9" cy="253.5" r="1.65"/><circle cx="350.9" cy="250.9" r="1.65"/><circle cx="350.9" cy="238.5" r="1.65"/><circle cx="353.5" cy="238.4" r="1.65"/><circle cx="353.5" cy="238.9" r="1.65"/><circle cx="353.5" cy="242.7" r="1.65"/><circle cx="353.5" cy="240.4" r="1.65"/><circle cx="353.5" cy="241.6" r="1.65"/><circle cx="353.5" cy="254.5" r="1.65"/><circle cx="353.5" cy="243.9" r="1.65"/><circle cx="353.5" cy="248.8" r="1.65"/><circle cx="353.5" cy="251.1" r="1.65"/><circle cx="353.5" cy="234.2" r="1.65"/><circle cx="353.5" cy="255.7" r="1.65"/><circle cx="353.5" cy="247.6" r="1.65"/><circle cx="353.5" cy="249.8" r="1.65"/><circle cx="353.5" cy="235.1" r="1.65"/><circle cx="353.5" cy="248.7" r="1.65"/><circle cx="353.5" cy="245.4" r="1.65"/><circle cx="353.5" cy="237.7" r="1.65"/><circle cx="353.5" cy="260.5" r="1.65"/><circle cx="353.5" cy="246.6" r="1.65"/><circle cx="353.5" cy="240.1" r="1.65"/><circle cx="353.5" cy="243.6" r="1.65"/><circle cx="353.5" cy="249.4" r="1.65"/><circle cx="355.7" cy="257.5" r="1.65"/><circle cx="355.7" cy="238.3" r="1.65"/><circle cx="355.7" cy="243.6" r="1.65"/><circle cx="355.7" cy="240.4" r="1.65"/><circle cx="355.7" cy="247.8" r="1.65"/><circle cx="355.7" cy="257.3" r="1.65"/><circle cx="355.7" cy="251.7" r="1.65"/><circle cx="355.7" cy="239.6" r="1.65"/><circle cx="355.7" cy="245.0" r="1.65"/><circle cx="355.7" cy="254.4" r="1.65"/><circle cx="355.7" cy="243.3" r="1.65"/><circle cx="355.7" cy="246.4" r="1.65"/><circle cx="355.7" cy="249.2" r="1.65"/><circle cx="355.7" cy="234.1" r="1.65"/><circle cx="355.7" cy="252.6" r="1.65"/><circle cx="355.7" cy="249.5" r="1.65"/><circle cx="355.7" cy="251.1" r="1.65"/><circle cx="355.7" cy="240.1" r="1.65"/><circle cx="355.7" cy="241.6" r="1.65"/><circle cx="355.7" cy="242.8" r="1.65"/><circle cx="355.7" cy="248.9" r="1.65"/><circle cx="355.7" cy="247.6" r="1.65"/><circle cx="357.4" cy="243.4" r="1.65"/><circle cx="357.4" cy="244.1" r="1.65"/><circle cx="357.4" cy="268.1" r="1.65"/><circle cx="357.4" cy="247.5" r="1.65"/><circle cx="357.4" cy="264.7" r="1.65"/><circle cx="357.4" cy="266.9" r="1.65"/><circle cx="357.4" cy="245.2" r="1.65"/><circle cx="357.4" cy="248.0" r="1.65"/><circle cx="357.4" cy="251.5" r="1.65"/><circle cx="357.4" cy="242.0" r="1.65"/><circle cx="357.4" cy="240.8" r="1.65"/><circle cx="357.4" cy="246.7" r="1.65"/><circle cx="357.4" cy="259.3" r="1.65"/><circle cx="357.4" cy="246.2" r="1.65"/><circle cx="357.4" cy="248.6" r="1.65"/><circle cx="357.4" cy="246.0" r="1.65"/><circle cx="357.4" cy="236.9" r="1.65"/><circle cx="357.4" cy="265.7" r="1.65"/><circle cx="357.4" cy="227.3" r="1.65"/><circle cx="357.4" cy="244.1" r="1.65"/><circle cx="357.4" cy="256.4" r="1.65"/><circle cx="357.4" cy="236.6" r="1.65"/><circle cx="360.0" cy="250.1" r="1.65"/><circle cx="360.0" cy="241.6" r="1.65"/><circle cx="360.0" cy="252.0" r="1.65"/><circle cx="360.0" cy="249.3" r="1.65"/><circle cx="360.0" cy="250.1" r="1.65"/><circle cx="360.0" cy="257.5" r="1.65"/><circle cx="360.0" cy="251.8" r="1.65"/><circle cx="360.0" cy="257.4" r="1.65"/><circle cx="360.0" cy="252.8" r="1.65"/><circle cx="360.0" cy="241.0" r="1.65"/><circle cx="360.0" cy="250.4" r="1.65"/><circle cx="360.0" cy="251.9" r="1.65"/><circle cx="360.0" cy="239.5" r="1.65"/><circle cx="360.0" cy="257.3" r="1.65"/><circle cx="360.0" cy="249.2" r="1.65"/><circle cx="360.0" cy="251.1" r="1.65"/><circle cx="360.0" cy="243.0" r="1.65"/><circle cx="360.0" cy="249.2" r="1.65"/><circle cx="360.0" cy="250.7" r="1.65"/><circle cx="360.0" cy="246.7" r="1.65"/><circle cx="360.0" cy="249.3" r="1.65"/><circle cx="360.0" cy="235.1" r="1.65"/><circle cx="361.8" cy="231.6" r="1.65"/><circle cx="361.8" cy="232.8" r="1.65"/><circle cx="361.8" cy="246.9" r="1.65"/><circle cx="361.8" cy="232.0" r="1.65"/><circle cx="361.8" cy="244.3" r="1.65"/><circle cx="361.8" cy="231.6" r="1.65"/><circle cx="361.8" cy="264.0" r="1.65"/><circle cx="361.8" cy="247.0" r="1.65"/><circle cx="361.8" cy="261.4" r="1.65"/><circle cx="361.8" cy="231.0" r="1.65"/><circle cx="361.8" cy="248.2" r="1.65"/><circle cx="361.8" cy="231.6" r="1.65"/><circle cx="361.8" cy="247.3" r="1.65"/><circle cx="361.8" cy="248.3" r="1.65"/><circle cx="361.8" cy="225.1" r="1.65"/><circle cx="361.8" cy="229.7" r="1.65"/><circle cx="361.8" cy="229.4" r="1.65"/><circle cx="361.8" cy="226.0" r="1.65"/><circle cx="361.8" cy="233.9" r="1.65"/><circle cx="361.8" cy="231.5" r="1.65"/><circle cx="361.8" cy="226.6" r="1.65"/><circle cx="361.8" cy="242.3" r="1.65"/><circle cx="363.9" cy="240.5" r="1.65"/><circle cx="363.9" cy="238.7" r="1.65"/><circle cx="363.9" cy="235.1" r="1.65"/><circle cx="363.9" cy="246.7" r="1.65"/><circle cx="363.9" cy="247.0" r="1.65"/><circle cx="363.9" cy="245.7" r="1.65"/><circle cx="363.9" cy="238.9" r="1.65"/><circle cx="363.9" cy="255.7" r="1.65"/><circle cx="363.9" cy="253.8" r="1.65"/><circle cx="363.9" cy="237.4" r="1.65"/><circle cx="363.9" cy="239.5" r="1.65"/><circle cx="363.9" cy="249.6" r="1.65"/><circle cx="363.9" cy="234.3" r="1.65"/><circle cx="363.9" cy="243.5" r="1.65"/><circle cx="363.9" cy="240.8" r="1.65"/><circle cx="363.9" cy="235.0" r="1.65"/><circle cx="363.9" cy="238.7" r="1.65"/><circle cx="363.9" cy="228.4" r="1.65"/><circle cx="363.9" cy="236.3" r="1.65"/><circle cx="363.9" cy="225.1" r="1.65"/><circle cx="363.9" cy="258.0" r="1.65"/><circle cx="363.9" cy="252.0" r="1.65"/><circle cx="366.6" cy="253.7" r="1.65"/><circle cx="366.6" cy="251.9" r="1.65"/><circle cx="366.6" cy="251.3" r="1.65"/><circle cx="366.6" cy="239.0" r="1.65"/><circle cx="366.6" cy="248.0" r="1.65"/><circle cx="366.6" cy="241.5" r="1.65"/><circle cx="366.6" cy="237.2" r="1.65"/><circle cx="366.6" cy="237.4" r="1.65"/><circle cx="366.6" cy="248.0" r="1.65"/><circle cx="366.6" cy="252.2" r="1.65"/><circle cx="366.6" cy="235.9" r="1.65"/><circle cx="366.6" cy="256.8" r="1.65"/><circle cx="366.6" cy="255.0" r="1.65"/><circle cx="366.6" cy="242.5" r="1.65"/><circle cx="366.6" cy="242.0" r="1.65"/><circle cx="366.6" cy="244.6" r="1.65"/><circle cx="366.6" cy="251.7" r="1.65"/><circle cx="366.6" cy="242.5" r="1.65"/><circle cx="366.6" cy="237.6" r="1.65"/><circle cx="366.6" cy="247.4" r="1.65"/><circle cx="366.6" cy="231.2" r="1.65"/><circle cx="366.6" cy="246.0" r="1.65"/><circle cx="368.6" cy="249.1" r="1.65"/><circle cx="368.6" cy="251.2" r="1.65"/><circle cx="368.6" cy="245.9" r="1.65"/><circle cx="368.6" cy="237.1" r="1.65"/><circle cx="368.6" cy="242.6" r="1.65"/><circle cx="368.6" cy="244.0" r="1.65"/><circle cx="368.6" cy="256.0" r="1.65"/><circle cx="368.6" cy="259.3" r="1.65"/><circle cx="368.6" cy="248.4" r="1.65"/><circle cx="368.6" cy="237.8" r="1.65"/><circle cx="368.6" cy="238.0" r="1.65"/><circle cx="368.6" cy="242.9" r="1.65"/><circle cx="368.6" cy="257.2" r="1.65"/><circle cx="368.6" cy="247.6" r="1.65"/><circle cx="368.6" cy="244.1" r="1.65"/><circle cx="368.6" cy="237.7" r="1.65"/><circle cx="368.6" cy="252.6" r="1.65"/><circle cx="368.6" cy="247.2" r="1.65"/><circle cx="368.6" cy="244.2" r="1.65"/><circle cx="368.6" cy="245.6" r="1.65"/><circle cx="368.6" cy="259.9" r="1.65"/><circle cx="368.6" cy="243.2" r="1.65"/><circle cx="371.1" cy="254.3" r="1.65"/><circle cx="371.1" cy="245.8" r="1.65"/><circle cx="371.1" cy="239.9" r="1.65"/><circle cx="371.1" cy="244.6" r="1.65"/><circle cx="371.1" cy="239.3" r="1.65"/><circle cx="371.1" cy="251.1" r="1.65"/><circle cx="371.1" cy="247.0" r="1.65"/><circle cx="371.1" cy="251.6" r="1.65"/><circle cx="371.1" cy="253.8" r="1.65"/><circle cx="371.1" cy="227.6" r="1.65"/><circle cx="371.1" cy="249.5" r="1.65"/><circle cx="371.1" cy="231.8" r="1.65"/><circle cx="371.1" cy="248.2" r="1.65"/><circle cx="371.1" cy="239.5" r="1.65"/><circle cx="371.1" cy="247.7" r="1.65"/><circle cx="371.1" cy="258.3" r="1.65"/><circle cx="371.1" cy="232.5" r="1.65"/><circle cx="371.1" cy="248.4" r="1.65"/><circle cx="371.1" cy="246.2" r="1.65"/><circle cx="371.1" cy="231.0" r="1.65"/><circle cx="371.1" cy="252.3" r="1.65"/><circle cx="371.1" cy="247.1" r="1.65"/><circle cx="372.8" cy="236.8" r="1.65"/><circle cx="372.8" cy="225.1" r="1.65"/><circle cx="372.8" cy="232.3" r="1.65"/><circle cx="372.8" cy="237.1" r="1.65"/><circle cx="372.8" cy="236.9" r="1.65"/><circle cx="372.8" cy="239.5" r="1.65"/><circle cx="372.8" cy="231.4" r="1.65"/><circle cx="372.8" cy="244.6" r="1.65"/><circle cx="372.8" cy="236.1" r="1.65"/><circle cx="372.8" cy="228.8" r="1.65"/><circle cx="372.8" cy="233.3" r="1.65"/><circle cx="372.8" cy="236.9" r="1.65"/><circle cx="372.8" cy="247.2" r="1.65"/><circle cx="372.8" cy="244.2" r="1.65"/><circle cx="372.8" cy="237.3" r="1.65"/><circle cx="372.8" cy="240.3" r="1.65"/><circle cx="372.8" cy="241.9" r="1.65"/><circle cx="372.8" cy="257.1" r="1.65"/><circle cx="372.8" cy="235.0" r="1.65"/><circle cx="372.8" cy="244.0" r="1.65"/><circle cx="372.8" cy="246.2" r="1.65"/><circle cx="372.8" cy="232.2" r="1.65"/><circle cx="374.9" cy="246.0" r="1.65"/><circle cx="374.9" cy="249.4" r="1.65"/><circle cx="374.9" cy="250.1" r="1.65"/><circle cx="374.9" cy="240.6" r="1.65"/><circle cx="374.9" cy="243.3" r="1.65"/><circle cx="374.9" cy="258.5" r="1.65"/><circle cx="374.9" cy="234.0" r="1.65"/><circle cx="374.9" cy="243.6" r="1.65"/><circle cx="374.9" cy="248.4" r="1.65"/><circle cx="374.9" cy="243.0" r="1.65"/><circle cx="374.9" cy="246.7" r="1.65"/><circle cx="374.9" cy="243.2" r="1.65"/><circle cx="374.9" cy="247.4" r="1.65"/><circle cx="374.9" cy="251.2" r="1.65"/><circle cx="374.9" cy="240.4" r="1.65"/><circle cx="374.9" cy="243.4" r="1.65"/><circle cx="374.9" cy="241.6" r="1.65"/><circle cx="374.9" cy="239.1" r="1.65"/><circle cx="374.9" cy="241.8" r="1.65"/><circle cx="374.9" cy="233.8" r="1.65"/><circle cx="374.9" cy="247.3" r="1.65"/><circle cx="374.9" cy="254.2" r="1.65"/><circle cx="377.3" cy="260.0" r="1.65"/><circle cx="377.3" cy="237.1" r="1.65"/><circle cx="377.3" cy="243.9" r="1.65"/><circle cx="377.3" cy="263.3" r="1.65"/><circle cx="377.3" cy="233.4" r="1.65"/><circle cx="377.3" cy="253.0" r="1.65"/><circle cx="377.3" cy="247.3" r="1.65"/><circle cx="377.3" cy="242.9" r="1.65"/><circle cx="377.3" cy="235.4" r="1.65"/><circle cx="377.3" cy="248.7" r="1.65"/><circle cx="377.3" cy="239.7" r="1.65"/><circle cx="377.3" cy="255.1" r="1.65"/><circle cx="377.3" cy="257.0" r="1.65"/><circle cx="377.3" cy="230.3" r="1.65"/><circle cx="377.3" cy="239.2" r="1.65"/><circle cx="377.3" cy="241.1" r="1.65"/><circle cx="377.3" cy="232.3" r="1.65"/><circle cx="377.3" cy="233.0" r="1.65"/><circle cx="377.3" cy="245.3" r="1.65"/><circle cx="377.3" cy="242.3" r="1.65"/><circle cx="377.3" cy="227.5" r="1.65"/><circle cx="377.3" cy="238.9" r="1.65"/><circle cx="379.7" cy="250.4" r="1.65"/><circle cx="379.7" cy="247.7" r="1.65"/><circle cx="379.7" cy="219.3" r="1.65"/><circle cx="379.7" cy="222.0" r="1.65"/><circle cx="379.7" cy="238.7" r="1.65"/><circle cx="379.7" cy="223.5" r="1.65"/><circle cx="379.7" cy="232.6" r="1.65"/><circle cx="379.7" cy="230.6" r="1.65"/><circle cx="379.7" cy="240.4" r="1.65"/><circle cx="379.7" cy="212.8" r="1.65"/><circle cx="379.7" cy="213.7" r="1.65"/><circle cx="379.7" cy="223.2" r="1.65"/><circle cx="379.7" cy="244.8" r="1.65"/><circle cx="379.7" cy="233.5" r="1.65"/><circle cx="379.7" cy="218.5" r="1.65"/><circle cx="379.7" cy="239.8" r="1.65"/><circle cx="379.7" cy="241.8" r="1.65"/><circle cx="379.7" cy="232.6" r="1.65"/><circle cx="379.7" cy="231.8" r="1.65"/><circle cx="379.7" cy="239.2" r="1.65"/><circle cx="379.7" cy="246.7" r="1.65"/><circle cx="379.7" cy="236.5" r="1.65"/><circle cx="381.9" cy="227.9" r="1.65"/><circle cx="381.9" cy="238.7" r="1.65"/><circle cx="381.9" cy="233.5" r="1.65"/><circle cx="381.9" cy="234.1" r="1.65"/><circle cx="381.9" cy="244.9" r="1.65"/><circle cx="381.9" cy="240.8" r="1.65"/><circle cx="381.9" cy="244.3" r="1.65"/><circle cx="381.9" cy="221.8" r="1.65"/><circle cx="381.9" cy="241.4" r="1.65"/><circle cx="381.9" cy="230.9" r="1.65"/><circle cx="381.9" cy="228.9" r="1.65"/><circle cx="381.9" cy="228.5" r="1.65"/><circle cx="381.9" cy="247.4" r="1.65"/><circle cx="381.9" cy="243.9" r="1.65"/><circle cx="381.9" cy="229.7" r="1.65"/><circle cx="381.9" cy="225.8" r="1.65"/><circle cx="381.9" cy="236.4" r="1.65"/><circle cx="381.9" cy="232.1" r="1.65"/><circle cx="381.9" cy="251.6" r="1.65"/><circle cx="381.9" cy="222.8" r="1.65"/><circle cx="381.9" cy="219.5" r="1.65"/><circle cx="381.9" cy="233.9" r="1.65"/><circle cx="384.2" cy="249.9" r="1.65"/><circle cx="384.2" cy="228.4" r="1.65"/><circle cx="384.2" cy="226.6" r="1.65"/><circle cx="384.2" cy="215.8" r="1.65"/><circle cx="384.2" cy="233.6" r="1.65"/><circle cx="384.2" cy="239.1" r="1.65"/><circle cx="384.2" cy="229.2" r="1.65"/><circle cx="384.2" cy="242.0" r="1.65"/><circle cx="384.2" cy="231.7" r="1.65"/><circle cx="384.2" cy="245.0" r="1.65"/><circle cx="384.2" cy="234.4" r="1.65"/><circle cx="384.2" cy="222.1" r="1.65"/><circle cx="384.2" cy="225.8" r="1.65"/><circle cx="384.2" cy="217.8" r="1.65"/><circle cx="384.2" cy="216.0" r="1.65"/><circle cx="384.2" cy="233.9" r="1.65"/><circle cx="384.2" cy="239.2" r="1.65"/><circle cx="384.2" cy="248.9" r="1.65"/><circle cx="384.2" cy="231.0" r="1.65"/><circle cx="384.2" cy="229.4" r="1.65"/><circle cx="384.2" cy="221.6" r="1.65"/><circle cx="384.2" cy="240.3" r="1.65"/><circle cx="385.8" cy="227.6" r="1.65"/><circle cx="385.8" cy="208.3" r="1.65"/><circle cx="385.8" cy="229.1" r="1.65"/><circle cx="385.8" cy="224.3" r="1.65"/><circle cx="385.8" cy="220.1" r="1.65"/><circle cx="385.8" cy="219.9" r="1.65"/><circle cx="385.8" cy="237.1" r="1.65"/><circle cx="385.8" cy="235.4" r="1.65"/><circle cx="385.8" cy="237.7" r="1.65"/><circle cx="385.8" cy="214.0" r="1.65"/><circle cx="385.8" cy="218.0" r="1.65"/><circle cx="385.8" cy="230.4" r="1.65"/><circle cx="385.8" cy="213.6" r="1.65"/><circle cx="385.8" cy="217.4" r="1.65"/><circle cx="385.8" cy="208.8" r="1.65"/><circle cx="385.8" cy="237.9" r="1.65"/><circle cx="385.8" cy="231.6" r="1.65"/><circle cx="385.8" cy="226.8" r="1.65"/><circle cx="385.8" cy="224.9" r="1.65"/><circle cx="385.8" cy="219.9" r="1.65"/><circle cx="385.8" cy="220.0" r="1.65"/><circle cx="385.8" cy="228.1" r="1.65"/><circle cx="388.4" cy="208.9" r="1.65"/><circle cx="388.4" cy="230.7" r="1.65"/><circle cx="388.4" cy="216.3" r="1.65"/><circle cx="388.4" cy="223.3" r="1.65"/><circle cx="388.4" cy="213.5" r="1.65"/><circle cx="388.4" cy="195.1" r="1.65"/><circle cx="388.4" cy="223.2" r="1.65"/><circle cx="388.4" cy="204.2" r="1.65"/><circle cx="388.4" cy="228.6" r="1.65"/><circle cx="388.4" cy="202.2" r="1.65"/><circle cx="388.4" cy="199.0" r="1.65"/><circle cx="388.4" cy="220.8" r="1.65"/><circle cx="388.4" cy="222.0" r="1.65"/><circle cx="388.4" cy="218.8" r="1.65"/><circle cx="388.4" cy="205.5" r="1.65"/><circle cx="388.4" cy="226.6" r="1.65"/><circle cx="388.4" cy="203.0" r="1.65"/><circle cx="388.4" cy="213.1" r="1.65"/><circle cx="388.4" cy="209.8" r="1.65"/><circle cx="388.4" cy="213.9" r="1.65"/><circle cx="388.4" cy="226.3" r="1.65"/><circle cx="388.4" cy="211.3" r="1.65"/><circle cx="390.4" cy="200.7" r="1.65"/><circle cx="390.4" cy="206.3" r="1.65"/><circle cx="390.4" cy="204.8" r="1.65"/><circle cx="390.4" cy="211.2" r="1.65"/><circle cx="390.4" cy="195.2" r="1.65"/><circle cx="390.4" cy="214.2" r="1.65"/><circle cx="390.4" cy="214.3" r="1.65"/><circle cx="390.4" cy="207.8" r="1.65"/><circle cx="390.4" cy="199.1" r="1.65"/><circle cx="390.4" cy="209.0" r="1.65"/><circle cx="390.4" cy="205.2" r="1.65"/><circle cx="390.4" cy="213.1" r="1.65"/><circle cx="390.4" cy="208.4" r="1.65"/><circle cx="390.4" cy="214.2" r="1.65"/><circle cx="390.4" cy="205.9" r="1.65"/><circle cx="390.4" cy="219.3" r="1.65"/><circle cx="390.4" cy="192.6" r="1.65"/><circle cx="390.4" cy="201.7" r="1.65"/><circle cx="390.4" cy="212.5" r="1.65"/><circle cx="390.4" cy="198.2" r="1.65"/><circle cx="390.4" cy="214.3" r="1.65"/><circle cx="390.4" cy="200.3" r="1.65"/><circle cx="392.5" cy="197.4" r="1.65"/><circle cx="392.5" cy="195.2" r="1.65"/><circle cx="392.5" cy="192.9" r="1.65"/><circle cx="392.5" cy="213.4" r="1.65"/><circle cx="392.5" cy="196.1" r="1.65"/><circle cx="392.5" cy="188.1" r="1.65"/><circle cx="392.5" cy="203.5" r="1.65"/><circle cx="392.5" cy="202.7" r="1.65"/><circle cx="392.5" cy="205.9" r="1.65"/><circle cx="392.5" cy="210.5" r="1.65"/><circle cx="392.5" cy="188.4" r="1.65"/><circle cx="392.5" cy="204.6" r="1.65"/><circle cx="392.5" cy="205.2" r="1.65"/><circle cx="392.5" cy="196.0" r="1.65"/><circle cx="392.5" cy="198.0" r="1.65"/><circle cx="392.5" cy="177.4" r="1.65"/><circle cx="392.5" cy="191.4" r="1.65"/><circle cx="392.5" cy="210.5" r="1.65"/><circle cx="392.5" cy="181.5" r="1.65"/><circle cx="392.5" cy="191.7" r="1.65"/><circle cx="392.5" cy="198.3" r="1.65"/><circle cx="392.5" cy="200.7" r="1.65"/><circle cx="394.9" cy="196.0" r="1.65"/><circle cx="394.9" cy="176.7" r="1.65"/><circle cx="394.9" cy="188.0" r="1.65"/><circle cx="394.9" cy="205.2" r="1.65"/><circle cx="394.9" cy="200.1" r="1.65"/><circle cx="394.9" cy="193.2" r="1.65"/><circle cx="394.9" cy="187.2" r="1.65"/><circle cx="394.9" cy="191.8" r="1.65"/><circle cx="394.9" cy="185.6" r="1.65"/><circle cx="394.9" cy="187.8" r="1.65"/><circle cx="394.9" cy="208.9" r="1.65"/><circle cx="394.9" cy="186.5" r="1.65"/><circle cx="394.9" cy="179.7" r="1.65"/><circle cx="394.9" cy="190.5" r="1.65"/><circle cx="394.9" cy="185.6" r="1.65"/><circle cx="394.9" cy="185.6" r="1.65"/><circle cx="394.9" cy="187.6" r="1.65"/><circle cx="394.9" cy="195.3" r="1.65"/><circle cx="394.9" cy="190.5" r="1.65"/><circle cx="394.9" cy="177.7" r="1.65"/><circle cx="394.9" cy="187.2" r="1.65"/><circle cx="397.1" cy="199.1" r="1.65"/><circle cx="397.1" cy="183.9" r="1.65"/><circle cx="397.1" cy="195.2" r="1.65"/><circle cx="397.1" cy="209.5" r="1.65"/><circle cx="397.1" cy="205.9" r="1.65"/><circle cx="397.1" cy="192.0" r="1.65"/><circle cx="397.1" cy="200.2" r="1.65"/><circle cx="397.1" cy="186.7" r="1.65"/><circle cx="397.1" cy="180.0" r="1.65"/><circle cx="397.1" cy="197.2" r="1.65"/><circle cx="397.1" cy="194.6" r="1.65"/><circle cx="397.1" cy="196.9" r="1.65"/><circle cx="397.1" cy="192.2" r="1.65"/><circle cx="397.1" cy="195.3" r="1.65"/><circle cx="397.1" cy="188.0" r="1.65"/><circle cx="397.1" cy="196.5" r="1.65"/><circle cx="397.1" cy="199.6" r="1.65"/><circle cx="397.1" cy="192.0" r="1.65"/><circle cx="397.1" cy="199.5" r="1.65"/><circle cx="397.1" cy="177.2" r="1.65"/><circle cx="397.1" cy="185.7" r="1.65"/><circle cx="397.1" cy="204.9" r="1.65"/><circle cx="399.3" cy="187.0" r="1.65"/><circle cx="399.3" cy="198.0" r="1.65"/><circle cx="399.3" cy="200.7" r="1.65"/><circle cx="399.3" cy="185.6" r="1.65"/><circle cx="399.3" cy="199.3" r="1.65"/><circle cx="399.3" cy="198.8" r="1.65"/><circle cx="399.3" cy="198.5" r="1.65"/><circle cx="399.3" cy="187.9" r="1.65"/><circle cx="399.3" cy="199.2" r="1.65"/><circle cx="399.3" cy="185.5" r="1.65"/><circle cx="399.3" cy="205.5" r="1.65"/><circle cx="399.3" cy="196.4" r="1.65"/><circle cx="399.3" cy="187.7" r="1.65"/><circle cx="399.3" cy="204.5" r="1.65"/><circle cx="399.3" cy="203.3" r="1.65"/><circle cx="399.3" cy="191.1" r="1.65"/><circle cx="399.3" cy="210.3" r="1.65"/><circle cx="399.3" cy="188.8" r="1.65"/><circle cx="399.3" cy="197.6" r="1.65"/><circle cx="399.3" cy="203.5" r="1.65"/><circle cx="399.3" cy="180.3" r="1.65"/><circle cx="399.3" cy="202.2" r="1.65"/><circle cx="401.9" cy="199.2" r="1.65"/><circle cx="401.9" cy="184.1" r="1.65"/><circle cx="401.9" cy="185.6" r="1.65"/><circle cx="401.9" cy="191.0" r="1.65"/><circle cx="401.9" cy="182.9" r="1.65"/><circle cx="401.9" cy="212.2" r="1.65"/><circle cx="401.9" cy="181.8" r="1.65"/><circle cx="401.9" cy="187.8" r="1.65"/><circle cx="401.9" cy="192.4" r="1.65"/><circle cx="401.9" cy="195.8" r="1.65"/><circle cx="401.9" cy="204.0" r="1.65"/><circle cx="401.9" cy="204.3" r="1.65"/><circle cx="401.9" cy="192.5" r="1.65"/><circle cx="401.9" cy="191.7" r="1.65"/><circle cx="401.9" cy="196.1" r="1.65"/><circle cx="401.9" cy="204.3" r="1.65"/><circle cx="401.9" cy="203.0" r="1.65"/><circle cx="401.9" cy="190.3" r="1.65"/><circle cx="401.9" cy="174.2" r="1.65"/><circle cx="401.9" cy="218.2" r="1.65"/><circle cx="401.9" cy="205.7" r="1.65"/><circle cx="401.9" cy="198.5" r="1.65"/><circle cx="403.6" cy="190.8" r="1.65"/><circle cx="403.6" cy="191.9" r="1.65"/><circle cx="403.6" cy="187.7" r="1.65"/><circle cx="403.6" cy="179.1" r="1.65"/><circle cx="403.6" cy="191.0" r="1.65"/><circle cx="403.6" cy="200.2" r="1.65"/><circle cx="403.6" cy="189.1" r="1.65"/><circle cx="403.6" cy="194.5" r="1.65"/><circle cx="403.6" cy="172.7" r="1.65"/><circle cx="403.6" cy="192.1" r="1.65"/><circle cx="403.6" cy="193.0" r="1.65"/><circle cx="403.6" cy="181.5" r="1.65"/><circle cx="403.6" cy="176.2" r="1.65"/><circle cx="403.6" cy="198.5" r="1.65"/><circle cx="403.6" cy="185.8" r="1.65"/><circle cx="403.6" cy="199.3" r="1.65"/><circle cx="403.6" cy="189.9" r="1.65"/><circle cx="403.6" cy="200.7" r="1.65"/><circle cx="403.6" cy="190.7" r="1.65"/><circle cx="403.6" cy="178.6" r="1.65"/><circle cx="403.6" cy="193.3" r="1.65"/><circle cx="403.6" cy="190.8" r="1.65"/><circle cx="405.8" cy="199.7" r="1.65"/><circle cx="405.8" cy="202.5" r="1.65"/><circle cx="405.8" cy="198.8" r="1.65"/><circle cx="405.8" cy="201.3" r="1.65"/><circle cx="405.8" cy="196.0" r="1.65"/><circle cx="405.8" cy="198.9" r="1.65"/><circle cx="405.8" cy="199.9" r="1.65"/><circle cx="405.8" cy="195.6" r="1.65"/><circle cx="405.8" cy="192.5" r="1.65"/><circle cx="405.8" cy="193.2" r="1.65"/><circle cx="405.8" cy="212.8" r="1.65"/><circle cx="405.8" cy="192.1" r="1.65"/><circle cx="405.8" cy="189.8" r="1.65"/><circle cx="405.8" cy="188.6" r="1.65"/><circle cx="405.8" cy="191.6" r="1.65"/><circle cx="405.8" cy="194.1" r="1.65"/><circle cx="405.8" cy="181.7" r="1.65"/><circle cx="405.8" cy="174.0" r="1.65"/><circle cx="405.8" cy="194.6" r="1.65"/><circle cx="405.8" cy="177.4" r="1.65"/><circle cx="405.8" cy="194.3" r="1.65"/><circle cx="405.8" cy="193.2" r="1.65"/><circle cx="408.0" cy="189.8" r="1.65"/><circle cx="408.0" cy="184.0" r="1.65"/><circle cx="408.0" cy="187.6" r="1.65"/><circle cx="408.0" cy="195.4" r="1.65"/><circle cx="408.0" cy="175.7" r="1.65"/><circle cx="408.0" cy="195.7" r="1.65"/><circle cx="408.0" cy="194.9" r="1.65"/><circle cx="408.0" cy="201.0" r="1.65"/><circle cx="408.0" cy="191.9" r="1.65"/><circle cx="408.0" cy="196.0" r="1.65"/><circle cx="408.0" cy="188.1" r="1.65"/><circle cx="408.0" cy="190.7" r="1.65"/><circle cx="408.0" cy="178.4" r="1.65"/><circle cx="408.0" cy="196.2" r="1.65"/><circle cx="408.0" cy="209.5" r="1.65"/><circle cx="408.0" cy="196.5" r="1.65"/><circle cx="408.0" cy="198.4" r="1.65"/><circle cx="408.0" cy="185.8" r="1.65"/><circle cx="408.0" cy="208.4" r="1.65"/><circle cx="408.0" cy="187.8" r="1.65"/><circle cx="408.0" cy="202.5" r="1.65"/><circle cx="408.0" cy="196.0" r="1.65"/><circle cx="410.1" cy="189.3" r="1.65"/><circle cx="410.1" cy="191.9" r="1.65"/><circle cx="410.1" cy="187.4" r="1.65"/><circle cx="410.1" cy="184.0" r="1.65"/><circle cx="410.1" cy="192.0" r="1.65"/><circle cx="410.1" cy="183.7" r="1.65"/><circle cx="410.1" cy="188.2" r="1.65"/><circle cx="410.1" cy="181.3" r="1.65"/><circle cx="410.1" cy="173.5" r="1.65"/><circle cx="410.1" cy="181.2" r="1.65"/><circle cx="410.1" cy="182.9" r="1.65"/><circle cx="410.1" cy="187.7" r="1.65"/><circle cx="410.1" cy="198.8" r="1.65"/><circle cx="410.1" cy="171.6" r="1.65"/><circle cx="410.1" cy="188.8" r="1.65"/><circle cx="410.1" cy="166.6" r="1.65"/><circle cx="410.1" cy="177.7" r="1.65"/><circle cx="410.1" cy="182.8" r="1.65"/><circle cx="410.1" cy="166.3" r="1.65"/><circle cx="410.1" cy="170.0" r="1.65"/><circle cx="410.1" cy="189.0" r="1.65"/><circle cx="410.1" cy="188.3" r="1.65"/><circle cx="412.3" cy="175.1" r="1.65"/><circle cx="412.3" cy="168.5" r="1.65"/><circle cx="412.3" cy="192.3" r="1.65"/><circle cx="412.3" cy="182.3" r="1.65"/><circle cx="412.3" cy="173.1" r="1.65"/><circle cx="412.3" cy="187.8" r="1.65"/><circle cx="412.3" cy="178.0" r="1.65"/><circle cx="412.3" cy="182.6" r="1.65"/><circle cx="412.3" cy="178.8" r="1.65"/><circle cx="412.3" cy="166.9" r="1.65"/><circle cx="412.3" cy="185.7" r="1.65"/><circle cx="412.3" cy="178.1" r="1.65"/><circle cx="412.3" cy="167.1" r="1.65"/><circle cx="412.3" cy="169.4" r="1.65"/><circle cx="412.3" cy="185.5" r="1.65"/><circle cx="412.3" cy="173.1" r="1.65"/><circle cx="412.3" cy="177.0" r="1.65"/><circle cx="412.3" cy="182.7" r="1.65"/><circle cx="412.3" cy="177.8" r="1.65"/><circle cx="412.3" cy="162.2" r="1.65"/><circle cx="412.3" cy="182.5" r="1.65"/><circle cx="412.3" cy="185.4" r="1.65"/><circle cx="414.7" cy="187.3" r="1.65"/><circle cx="414.7" cy="195.1" r="1.65"/><circle cx="414.7" cy="177.0" r="1.65"/><circle cx="414.7" cy="196.6" r="1.65"/><circle cx="414.7" cy="196.6" r="1.65"/><circle cx="414.7" cy="187.4" r="1.65"/><circle cx="414.7" cy="197.6" r="1.65"/><circle cx="414.7" cy="188.0" r="1.65"/><circle cx="414.7" cy="171.3" r="1.65"/><circle cx="414.7" cy="190.8" r="1.65"/><circle cx="414.7" cy="183.0" r="1.65"/><circle cx="414.7" cy="183.8" r="1.65"/><circle cx="414.7" cy="181.3" r="1.65"/><circle cx="414.7" cy="192.9" r="1.65"/><circle cx="414.7" cy="185.1" r="1.65"/><circle cx="414.7" cy="173.1" r="1.65"/><circle cx="414.7" cy="184.5" r="1.65"/><circle cx="414.7" cy="186.8" r="1.65"/><circle cx="414.7" cy="172.8" r="1.65"/><circle cx="414.7" cy="175.6" r="1.65"/><circle cx="414.7" cy="176.1" r="1.65"/><circle cx="414.7" cy="174.0" r="1.65"/><circle cx="417.3" cy="183.7" r="1.65"/><circle cx="417.3" cy="182.2" r="1.65"/><circle cx="417.3" cy="183.2" r="1.65"/><circle cx="417.3" cy="184.9" r="1.65"/><circle cx="417.3" cy="169.9" r="1.65"/><circle cx="417.3" cy="179.3" r="1.65"/><circle cx="417.3" cy="176.0" r="1.65"/><circle cx="417.3" cy="172.1" r="1.65"/><circle cx="417.3" cy="169.2" r="1.65"/><circle cx="417.3" cy="168.8" r="1.65"/><circle cx="417.3" cy="170.8" r="1.65"/><circle cx="417.3" cy="162.3" r="1.65"/><circle cx="417.3" cy="177.8" r="1.65"/><circle cx="417.3" cy="173.0" r="1.65"/><circle cx="417.3" cy="174.1" r="1.65"/><circle cx="417.3" cy="176.2" r="1.65"/><circle cx="417.3" cy="179.6" r="1.65"/><circle cx="417.3" cy="168.0" r="1.65"/><circle cx="417.3" cy="172.3" r="1.65"/><circle cx="417.3" cy="159.1" r="1.65"/><circle cx="417.3" cy="153.7" r="1.65"/><circle cx="417.3" cy="156.1" r="1.65"/><circle cx="419.4" cy="175.2" r="1.65"/><circle cx="419.4" cy="158.6" r="1.65"/><circle cx="419.4" cy="176.5" r="1.65"/><circle cx="419.4" cy="178.4" r="1.65"/><circle cx="419.4" cy="170.6" r="1.65"/><circle cx="419.4" cy="182.2" r="1.65"/><circle cx="419.4" cy="167.9" r="1.65"/><circle cx="419.4" cy="156.3" r="1.65"/><circle cx="419.4" cy="167.0" r="1.65"/><circle cx="419.4" cy="158.8" r="1.65"/><circle cx="419.4" cy="151.4" r="1.65"/><circle cx="419.4" cy="151.7" r="1.65"/><circle cx="419.4" cy="182.2" r="1.65"/><circle cx="419.4" cy="158.0" r="1.65"/><circle cx="419.4" cy="162.4" r="1.65"/><circle cx="419.4" cy="156.9" r="1.65"/><circle cx="419.4" cy="163.8" r="1.65"/><circle cx="419.4" cy="160.6" r="1.65"/><circle cx="419.4" cy="159.1" r="1.65"/><circle cx="419.4" cy="152.3" r="1.65"/><circle cx="419.4" cy="150.5" r="1.65"/><circle cx="419.4" cy="156.3" r="1.65"/><circle cx="421.3" cy="191.9" r="1.65"/><circle cx="421.3" cy="180.9" r="1.65"/><circle cx="421.3" cy="176.2" r="1.65"/><circle cx="421.3" cy="166.0" r="1.65"/><circle cx="421.3" cy="176.9" r="1.65"/><circle cx="421.3" cy="159.2" r="1.65"/><circle cx="421.3" cy="174.4" r="1.65"/><circle cx="421.3" cy="190.3" r="1.65"/><circle cx="421.3" cy="179.6" r="1.65"/><circle cx="421.3" cy="186.2" r="1.65"/><circle cx="421.3" cy="173.8" r="1.65"/><circle cx="421.3" cy="165.6" r="1.65"/><circle cx="421.3" cy="173.0" r="1.65"/><circle cx="421.3" cy="173.7" r="1.65"/><circle cx="421.3" cy="186.9" r="1.65"/><circle cx="421.3" cy="193.2" r="1.65"/><circle cx="421.3" cy="170.8" r="1.65"/><circle cx="421.3" cy="174.0" r="1.65"/><circle cx="421.3" cy="175.8" r="1.65"/><circle cx="421.3" cy="174.1" r="1.65"/><circle cx="421.3" cy="166.7" r="1.65"/><circle cx="421.3" cy="177.7" r="1.65"/><circle cx="423.5" cy="172.5" r="1.65"/><circle cx="423.5" cy="159.2" r="1.65"/><circle cx="423.5" cy="180.9" r="1.65"/><circle cx="423.5" cy="165.1" r="1.65"/><circle cx="423.5" cy="171.2" r="1.65"/><circle cx="423.5" cy="169.8" r="1.65"/><circle cx="423.5" cy="168.7" r="1.65"/><circle cx="423.5" cy="164.8" r="1.65"/><circle cx="423.5" cy="159.0" r="1.65"/><circle cx="423.5" cy="187.7" r="1.65"/><circle cx="423.5" cy="175.6" r="1.65"/><circle cx="423.5" cy="175.6" r="1.65"/><circle cx="423.5" cy="190.7" r="1.65"/><circle cx="423.5" cy="172.7" r="1.65"/><circle cx="423.5" cy="178.0" r="1.65"/><circle cx="423.5" cy="173.7" r="1.65"/><circle cx="423.5" cy="183.2" r="1.65"/><circle cx="423.5" cy="177.6" r="1.65"/><circle cx="423.5" cy="176.1" r="1.65"/><circle cx="423.5" cy="171.4" r="1.65"/><circle cx="423.5" cy="175.8" r="1.65"/><circle cx="423.5" cy="183.0" r="1.65"/><circle cx="426.0" cy="174.1" r="1.65"/><circle cx="426.0" cy="157.1" r="1.65"/><circle cx="426.0" cy="184.6" r="1.65"/><circle cx="426.0" cy="168.6" r="1.65"/><circle cx="426.0" cy="174.8" r="1.65"/><circle cx="426.0" cy="172.0" r="1.65"/><circle cx="426.0" cy="160.2" r="1.65"/><circle cx="426.0" cy="172.6" r="1.65"/><circle cx="426.0" cy="158.4" r="1.65"/><circle cx="426.0" cy="167.6" r="1.65"/><circle cx="426.0" cy="174.0" r="1.65"/><circle cx="426.0" cy="177.1" r="1.65"/><circle cx="426.0" cy="177.7" r="1.65"/><circle cx="426.0" cy="175.8" r="1.65"/><circle cx="426.0" cy="198.9" r="1.65"/><circle cx="426.0" cy="181.6" r="1.65"/><circle cx="426.0" cy="164.7" r="1.65"/><circle cx="426.0" cy="170.9" r="1.65"/><circle cx="426.0" cy="170.5" r="1.65"/><circle cx="426.0" cy="175.4" r="1.65"/><circle cx="426.0" cy="171.0" r="1.65"/><circle cx="426.0" cy="168.5" r="1.65"/><circle cx="427.9" cy="180.3" r="1.65"/><circle cx="427.9" cy="180.6" r="1.65"/><circle cx="427.9" cy="196.0" r="1.65"/><circle cx="427.9" cy="187.3" r="1.65"/><circle cx="427.9" cy="193.5" r="1.65"/><circle cx="427.9" cy="160.3" r="1.65"/><circle cx="427.9" cy="185.8" r="1.65"/><circle cx="427.9" cy="192.9" r="1.65"/><circle cx="427.9" cy="201.6" r="1.65"/><circle cx="427.9" cy="183.0" r="1.65"/><circle cx="427.9" cy="166.3" r="1.65"/><circle cx="427.9" cy="188.4" r="1.65"/><circle cx="427.9" cy="177.0" r="1.65"/><circle cx="427.9" cy="165.5" r="1.65"/><circle cx="427.9" cy="176.8" r="1.65"/><circle cx="427.9" cy="192.8" r="1.65"/><circle cx="427.9" cy="194.2" r="1.65"/><circle cx="427.9" cy="189.6" r="1.65"/><circle cx="427.9" cy="172.7" r="1.65"/><circle cx="427.9" cy="204.4" r="1.65"/><circle cx="427.9" cy="171.5" r="1.65"/><circle cx="427.9" cy="182.0" r="1.65"/><circle cx="429.9" cy="201.4" r="1.65"/><circle cx="429.9" cy="194.3" r="1.65"/><circle cx="429.9" cy="192.8" r="1.65"/><circle cx="429.9" cy="195.0" r="1.65"/><circle cx="429.9" cy="176.4" r="1.65"/><circle cx="429.9" cy="202.4" r="1.65"/><circle cx="429.9" cy="201.7" r="1.65"/><circle cx="429.9" cy="189.9" r="1.65"/><circle cx="429.9" cy="193.3" r="1.65"/><circle cx="429.9" cy="196.2" r="1.65"/><circle cx="429.9" cy="207.6" r="1.65"/><circle cx="429.9" cy="197.4" r="1.65"/><circle cx="429.9" cy="193.9" r="1.65"/><circle cx="429.9" cy="188.9" r="1.65"/><circle cx="429.9" cy="179.9" r="1.65"/><circle cx="429.9" cy="188.1" r="1.65"/><circle cx="429.9" cy="194.1" r="1.65"/><circle cx="429.9" cy="191.2" r="1.65"/><circle cx="429.9" cy="194.2" r="1.65"/><circle cx="429.9" cy="200.2" r="1.65"/><circle cx="429.9" cy="197.4" r="1.65"/><circle cx="429.9" cy="196.0" r="1.65"/><circle cx="432.7" cy="204.5" r="1.65"/><circle cx="432.7" cy="182.5" r="1.65"/><circle cx="432.7" cy="212.4" r="1.65"/><circle cx="432.7" cy="186.9" r="1.65"/><circle cx="432.7" cy="208.2" r="1.65"/><circle cx="432.7" cy="200.0" r="1.65"/><circle cx="432.7" cy="211.0" r="1.65"/><circle cx="432.7" cy="200.2" r="1.65"/><circle cx="432.7" cy="190.4" r="1.65"/><circle cx="432.7" cy="210.6" r="1.65"/><circle cx="432.7" cy="201.7" r="1.65"/><circle cx="432.7" cy="201.1" r="1.65"/><circle cx="432.7" cy="200.7" r="1.65"/><circle cx="432.7" cy="209.9" r="1.65"/><circle cx="432.7" cy="208.1" r="1.65"/><circle cx="432.7" cy="202.2" r="1.65"/><circle cx="432.7" cy="184.4" r="1.65"/><circle cx="432.7" cy="195.9" r="1.65"/><circle cx="432.7" cy="201.0" r="1.65"/><circle cx="432.7" cy="217.9" r="1.65"/><circle cx="432.7" cy="203.8" r="1.65"/><circle cx="432.7" cy="199.0" r="1.65"/><circle cx="434.7" cy="207.1" r="1.65"/><circle cx="434.7" cy="195.1" r="1.65"/><circle cx="434.7" cy="212.9" r="1.65"/><circle cx="434.7" cy="209.1" r="1.65"/><circle cx="434.7" cy="203.9" r="1.65"/><circle cx="434.7" cy="197.7" r="1.65"/><circle cx="434.7" cy="207.5" r="1.65"/><circle cx="434.7" cy="216.1" r="1.65"/><circle cx="434.7" cy="201.3" r="1.65"/><circle cx="434.7" cy="198.3" r="1.65"/><circle cx="434.7" cy="209.0" r="1.65"/><circle cx="434.7" cy="194.4" r="1.65"/><circle cx="434.7" cy="189.9" r="1.65"/><circle cx="434.7" cy="202.8" r="1.65"/><circle cx="434.7" cy="201.0" r="1.65"/><circle cx="434.7" cy="204.0" r="1.65"/><circle cx="434.7" cy="202.0" r="1.65"/><circle cx="434.7" cy="208.4" r="1.65"/><circle cx="434.7" cy="204.4" r="1.65"/><circle cx="434.7" cy="201.7" r="1.65"/><circle cx="434.7" cy="202.7" r="1.65"/><circle cx="434.7" cy="210.6" r="1.65"/><circle cx="437.1" cy="196.3" r="1.65"/><circle cx="437.1" cy="208.7" r="1.65"/><circle cx="437.1" cy="215.0" r="1.65"/><circle cx="437.1" cy="219.8" r="1.65"/><circle cx="437.1" cy="203.1" r="1.65"/><circle cx="437.1" cy="231.0" r="1.65"/><circle cx="437.1" cy="220.7" r="1.65"/><circle cx="437.1" cy="212.2" r="1.65"/><circle cx="437.1" cy="219.4" r="1.65"/><circle cx="437.1" cy="214.7" r="1.65"/><circle cx="437.1" cy="210.9" r="1.65"/><circle cx="437.1" cy="222.6" r="1.65"/><circle cx="437.1" cy="213.8" r="1.65"/><circle cx="437.1" cy="205.0" r="1.65"/><circle cx="437.1" cy="212.1" r="1.65"/><circle cx="437.1" cy="216.9" r="1.65"/><circle cx="437.1" cy="208.0" r="1.65"/><circle cx="437.1" cy="229.5" r="1.65"/><circle cx="437.1" cy="207.9" r="1.65"/><circle cx="437.1" cy="234.1" r="1.65"/><circle cx="437.1" cy="226.1" r="1.65"/><circle cx="437.1" cy="209.3" r="1.65"/><circle cx="439.0" cy="216.1" r="1.65"/><circle cx="439.0" cy="224.9" r="1.65"/><circle cx="439.0" cy="237.6" r="1.65"/><circle cx="439.0" cy="214.1" r="1.65"/><circle cx="439.0" cy="227.9" r="1.65"/><circle cx="439.0" cy="224.2" r="1.65"/><circle cx="439.0" cy="223.3" r="1.65"/><circle cx="439.0" cy="221.5" r="1.65"/><circle cx="439.0" cy="222.0" r="1.65"/><circle cx="439.0" cy="231.1" r="1.65"/><circle cx="439.0" cy="228.2" r="1.65"/><circle cx="439.0" cy="217.4" r="1.65"/><circle cx="439.0" cy="234.7" r="1.65"/><circle cx="439.0" cy="215.4" r="1.65"/><circle cx="439.0" cy="228.6" r="1.65"/><circle cx="439.0" cy="225.4" r="1.65"/><circle cx="439.0" cy="232.2" r="1.65"/><circle cx="439.0" cy="226.6" r="1.65"/><circle cx="439.0" cy="231.3" r="1.65"/><circle cx="439.0" cy="224.0" r="1.65"/><circle cx="439.0" cy="230.7" r="1.65"/><circle cx="439.0" cy="226.5" r="1.65"/><circle cx="440.9" cy="226.0" r="1.65"/><circle cx="440.9" cy="223.7" r="1.65"/><circle cx="440.9" cy="217.7" r="1.65"/><circle cx="440.9" cy="225.9" r="1.65"/><circle cx="440.9" cy="210.4" r="1.65"/><circle cx="440.9" cy="211.3" r="1.65"/><circle cx="440.9" cy="228.0" r="1.65"/><circle cx="440.9" cy="209.8" r="1.65"/><circle cx="440.9" cy="233.9" r="1.65"/><circle cx="440.9" cy="220.1" r="1.65"/><circle cx="440.9" cy="224.3" r="1.65"/><circle cx="440.9" cy="222.9" r="1.65"/><circle cx="440.9" cy="225.7" r="1.65"/><circle cx="440.9" cy="220.1" r="1.65"/><circle cx="440.9" cy="219.3" r="1.65"/><circle cx="440.9" cy="221.3" r="1.65"/><circle cx="440.9" cy="230.8" r="1.65"/><circle cx="440.9" cy="231.4" r="1.65"/><circle cx="440.9" cy="232.6" r="1.65"/><circle cx="440.9" cy="225.3" r="1.65"/><circle cx="440.9" cy="220.7" r="1.65"/><circle cx="440.9" cy="208.8" r="1.65"/><circle cx="443.6" cy="241.2" r="1.65"/><circle cx="443.6" cy="246.3" r="1.65"/><circle cx="443.6" cy="233.5" r="1.65"/><circle cx="443.6" cy="243.8" r="1.65"/><circle cx="443.6" cy="235.8" r="1.65"/><circle cx="443.6" cy="213.9" r="1.65"/><circle cx="443.6" cy="227.5" r="1.65"/><circle cx="443.6" cy="228.1" r="1.65"/><circle cx="443.6" cy="238.2" r="1.65"/><circle cx="443.6" cy="223.3" r="1.65"/><circle cx="443.6" cy="227.8" r="1.65"/><circle cx="443.6" cy="222.2" r="1.65"/><circle cx="443.6" cy="232.1" r="1.65"/><circle cx="443.6" cy="233.3" r="1.65"/><circle cx="443.6" cy="243.0" r="1.65"/><circle cx="443.6" cy="241.1" r="1.65"/><circle cx="443.6" cy="234.3" r="1.65"/><circle cx="443.6" cy="235.1" r="1.65"/><circle cx="443.6" cy="233.7" r="1.65"/><circle cx="443.6" cy="233.7" r="1.65"/><circle cx="443.6" cy="249.1" r="1.65"/><circle cx="443.6" cy="207.1" r="1.65"/><circle cx="445.3" cy="221.9" r="1.65"/><circle cx="445.3" cy="236.8" r="1.65"/><circle cx="445.3" cy="242.1" r="1.65"/><circle cx="445.3" cy="228.6" r="1.65"/><circle cx="445.3" cy="213.5" r="1.65"/><circle cx="445.3" cy="229.5" r="1.65"/><circle cx="445.3" cy="220.8" r="1.65"/><circle cx="445.3" cy="239.9" r="1.65"/><circle cx="445.3" cy="224.4" r="1.65"/><circle cx="445.3" cy="251.5" r="1.65"/><circle cx="445.3" cy="234.6" r="1.65"/><circle cx="445.3" cy="224.9" r="1.65"/><circle cx="445.3" cy="228.0" r="1.65"/><circle cx="445.3" cy="221.9" r="1.65"/><circle cx="445.3" cy="237.2" r="1.65"/><circle cx="445.3" cy="248.5" r="1.65"/><circle cx="445.3" cy="231.0" r="1.65"/><circle cx="445.3" cy="242.7" r="1.65"/><circle cx="445.3" cy="223.5" r="1.65"/><circle cx="445.3" cy="236.4" r="1.65"/><circle cx="445.3" cy="256.1" r="1.65"/><circle cx="445.3" cy="218.7" r="1.65"/><circle cx="448.2" cy="225.8" r="1.65"/><circle cx="448.2" cy="229.9" r="1.65"/><circle cx="448.2" cy="247.1" r="1.65"/><circle cx="448.2" cy="234.7" r="1.65"/><circle cx="448.2" cy="237.0" r="1.65"/><circle cx="448.2" cy="244.8" r="1.65"/><circle cx="448.2" cy="239.5" r="1.65"/><circle cx="448.2" cy="240.5" r="1.65"/><circle cx="448.2" cy="235.7" r="1.65"/><circle cx="448.2" cy="248.4" r="1.65"/><circle cx="448.2" cy="231.6" r="1.65"/><circle cx="448.2" cy="253.3" r="1.65"/><circle cx="448.2" cy="235.5" r="1.65"/><circle cx="448.2" cy="231.4" r="1.65"/><circle cx="448.2" cy="244.2" r="1.65"/><circle cx="448.2" cy="242.5" r="1.65"/><circle cx="448.2" cy="221.0" r="1.65"/><circle cx="448.2" cy="240.4" r="1.65"/><circle cx="448.2" cy="226.6" r="1.65"/><circle cx="448.2" cy="231.2" r="1.65"/><circle cx="448.2" cy="245.4" r="1.65"/><circle cx="448.2" cy="230.9" r="1.65"/><circle cx="450.3" cy="233.7" r="1.65"/><circle cx="450.3" cy="224.2" r="1.65"/><circle cx="450.3" cy="224.8" r="1.65"/><circle cx="450.3" cy="226.5" r="1.65"/><circle cx="450.3" cy="235.6" r="1.65"/><circle cx="450.3" cy="234.4" r="1.65"/><circle cx="450.3" cy="243.0" r="1.65"/><circle cx="450.3" cy="235.9" r="1.65"/><circle cx="450.3" cy="235.6" r="1.65"/><circle cx="450.3" cy="237.3" r="1.65"/><circle cx="450.3" cy="233.3" r="1.65"/><circle cx="450.3" cy="237.0" r="1.65"/><circle cx="450.3" cy="241.3" r="1.65"/><circle cx="450.3" cy="241.3" r="1.65"/><circle cx="450.3" cy="229.7" r="1.65"/><circle cx="450.3" cy="218.9" r="1.65"/><circle cx="450.3" cy="227.3" r="1.65"/><circle cx="450.3" cy="236.9" r="1.65"/><circle cx="450.3" cy="213.7" r="1.65"/><circle cx="450.3" cy="230.2" r="1.65"/><circle cx="450.3" cy="238.4" r="1.65"/><circle cx="450.3" cy="229.5" r="1.65"/><circle cx="452.5" cy="240.4" r="1.65"/><circle cx="452.5" cy="252.5" r="1.65"/><circle cx="452.5" cy="252.3" r="1.65"/><circle cx="452.5" cy="233.8" r="1.65"/><circle cx="452.5" cy="259.5" r="1.65"/><circle cx="452.5" cy="235.3" r="1.65"/><circle cx="452.5" cy="240.4" r="1.65"/><circle cx="452.5" cy="234.1" r="1.65"/><circle cx="452.5" cy="243.0" r="1.65"/><circle cx="452.5" cy="232.4" r="1.65"/><circle cx="452.5" cy="242.3" r="1.65"/><circle cx="452.5" cy="250.6" r="1.65"/><circle cx="452.5" cy="244.0" r="1.65"/><circle cx="452.5" cy="240.4" r="1.65"/><circle cx="452.5" cy="254.1" r="1.65"/><circle cx="452.5" cy="235.5" r="1.65"/><circle cx="452.5" cy="249.7" r="1.65"/><circle cx="452.5" cy="240.1" r="1.65"/><circle cx="452.5" cy="244.0" r="1.65"/><circle cx="452.5" cy="242.6" r="1.65"/><circle cx="452.5" cy="243.3" r="1.65"/><circle cx="452.5" cy="241.9" r="1.65"/><circle cx="454.6" cy="234.7" r="1.65"/><circle cx="454.6" cy="224.3" r="1.65"/><circle cx="454.6" cy="228.8" r="1.65"/><circle cx="454.6" cy="228.9" r="1.65"/><circle cx="454.6" cy="235.2" r="1.65"/><circle cx="454.6" cy="237.4" r="1.65"/><circle cx="454.6" cy="236.6" r="1.65"/><circle cx="454.6" cy="229.3" r="1.65"/><circle cx="454.6" cy="235.8" r="1.65"/><circle cx="454.6" cy="222.3" r="1.65"/><circle cx="454.6" cy="212.7" r="1.65"/><circle cx="454.6" cy="235.1" r="1.65"/><circle cx="454.6" cy="219.4" r="1.65"/><circle cx="454.6" cy="226.4" r="1.65"/><circle cx="454.6" cy="223.8" r="1.65"/><circle cx="454.6" cy="241.8" r="1.65"/><circle cx="454.6" cy="223.8" r="1.65"/><circle cx="454.6" cy="238.3" r="1.65"/><circle cx="454.6" cy="230.8" r="1.65"/><circle cx="454.6" cy="223.5" r="1.65"/><circle cx="454.6" cy="220.1" r="1.65"/><circle cx="454.6" cy="240.1" r="1.65"/><circle cx="456.5" cy="243.4" r="1.65"/><circle cx="456.5" cy="243.4" r="1.65"/><circle cx="456.5" cy="239.6" r="1.65"/><circle cx="456.5" cy="241.8" r="1.65"/><circle cx="456.5" cy="237.5" r="1.65"/><circle cx="456.5" cy="232.4" r="1.65"/><circle cx="456.5" cy="259.4" r="1.65"/><circle cx="456.5" cy="223.3" r="1.65"/><circle cx="456.5" cy="243.1" r="1.65"/><circle cx="456.5" cy="244.9" r="1.65"/><circle cx="456.5" cy="242.1" r="1.65"/><circle cx="456.5" cy="231.7" r="1.65"/><circle cx="456.5" cy="238.9" r="1.65"/><circle cx="456.5" cy="236.4" r="1.65"/><circle cx="456.5" cy="230.6" r="1.65"/><circle cx="456.5" cy="240.2" r="1.65"/><circle cx="456.5" cy="236.8" r="1.65"/><circle cx="456.5" cy="235.5" r="1.65"/><circle cx="456.5" cy="247.0" r="1.65"/><circle cx="456.5" cy="230.7" r="1.65"/><circle cx="456.5" cy="244.7" r="1.65"/><circle cx="456.5" cy="234.9" r="1.65"/><circle cx="459.1" cy="229.1" r="1.65"/><circle cx="459.1" cy="231.3" r="1.65"/><circle cx="459.1" cy="230.4" r="1.65"/><circle cx="459.1" cy="241.3" r="1.65"/><circle cx="459.1" cy="247.4" r="1.65"/><circle cx="459.1" cy="251.0" r="1.65"/><circle cx="459.1" cy="234.1" r="1.65"/><circle cx="459.1" cy="240.4" r="1.65"/><circle cx="459.1" cy="222.2" r="1.65"/><circle cx="459.1" cy="215.8" r="1.65"/><circle cx="459.1" cy="230.2" r="1.65"/><circle cx="459.1" cy="232.4" r="1.65"/><circle cx="459.1" cy="222.9" r="1.65"/><circle cx="459.1" cy="220.5" r="1.65"/><circle cx="459.1" cy="245.1" r="1.65"/><circle cx="459.1" cy="230.9" r="1.65"/><circle cx="459.1" cy="221.5" r="1.65"/><circle cx="459.1" cy="264.0" r="1.65"/><circle cx="459.1" cy="241.2" r="1.65"/><circle cx="459.1" cy="236.0" r="1.65"/><circle cx="459.1" cy="246.6" r="1.65"/><circle cx="459.1" cy="231.3" r="1.65"/><circle cx="461.1" cy="233.8" r="1.65"/><circle cx="461.1" cy="228.3" r="1.65"/><circle cx="461.1" cy="247.3" r="1.65"/><circle cx="461.1" cy="220.9" r="1.65"/><circle cx="461.1" cy="228.6" r="1.65"/><circle cx="461.1" cy="237.0" r="1.65"/><circle cx="461.1" cy="239.9" r="1.65"/><circle cx="461.1" cy="243.7" r="1.65"/><circle cx="461.1" cy="237.9" r="1.65"/><circle cx="461.1" cy="254.2" r="1.65"/><circle cx="461.1" cy="230.8" r="1.65"/><circle cx="461.1" cy="236.4" r="1.65"/><circle cx="461.1" cy="242.4" r="1.65"/><circle cx="461.1" cy="232.1" r="1.65"/><circle cx="461.1" cy="232.3" r="1.65"/><circle cx="461.1" cy="230.8" r="1.65"/><circle cx="461.1" cy="229.2" r="1.65"/><circle cx="461.1" cy="225.0" r="1.65"/><circle cx="461.1" cy="230.0" r="1.65"/><circle cx="461.1" cy="221.3" r="1.65"/><circle cx="461.1" cy="238.2" r="1.65"/><circle cx="461.1" cy="220.9" r="1.65"/><circle cx="463.6" cy="244.5" r="1.65"/><circle cx="463.6" cy="240.5" r="1.65"/><circle cx="463.6" cy="260.0" r="1.65"/><circle cx="463.6" cy="248.8" r="1.65"/><circle cx="463.6" cy="252.8" r="1.65"/><circle cx="463.6" cy="239.0" r="1.65"/><circle cx="463.6" cy="258.3" r="1.65"/><circle cx="463.6" cy="238.1" r="1.65"/><circle cx="463.6" cy="247.9" r="1.65"/><circle cx="463.6" cy="228.1" r="1.65"/><circle cx="463.6" cy="239.7" r="1.65"/><circle cx="463.6" cy="252.2" r="1.65"/><circle cx="463.6" cy="241.9" r="1.65"/><circle cx="463.6" cy="241.9" r="1.65"/><circle cx="463.6" cy="255.3" r="1.65"/><circle cx="463.6" cy="245.9" r="1.65"/><circle cx="463.6" cy="260.1" r="1.65"/><circle cx="463.6" cy="222.3" r="1.65"/><circle cx="463.6" cy="252.9" r="1.65"/><circle cx="463.6" cy="252.2" r="1.65"/><circle cx="463.6" cy="230.0" r="1.65"/><circle cx="463.6" cy="232.7" r="1.65"/><circle cx="465.6" cy="244.5" r="1.65"/><circle cx="465.6" cy="235.5" r="1.65"/><circle cx="465.6" cy="243.3" r="1.65"/><circle cx="465.6" cy="230.3" r="1.65"/><circle cx="465.6" cy="241.5" r="1.65"/><circle cx="465.6" cy="249.1" r="1.65"/><circle cx="465.6" cy="241.8" r="1.65"/><circle cx="465.6" cy="217.5" r="1.65"/><circle cx="465.6" cy="245.0" r="1.65"/><circle cx="465.6" cy="239.2" r="1.65"/><circle cx="465.6" cy="229.9" r="1.65"/><circle cx="465.6" cy="252.1" r="1.65"/><circle cx="465.6" cy="221.9" r="1.65"/><circle cx="465.6" cy="256.7" r="1.65"/><circle cx="465.6" cy="232.6" r="1.65"/><circle cx="465.6" cy="253.8" r="1.65"/><circle cx="465.6" cy="238.2" r="1.65"/><circle cx="465.6" cy="225.8" r="1.65"/><circle cx="465.6" cy="239.6" r="1.65"/><circle cx="465.6" cy="241.9" r="1.65"/><circle cx="465.6" cy="243.9" r="1.65"/><circle cx="465.6" cy="248.9" r="1.65"/><circle cx="467.5" cy="242.2" r="1.65"/><circle cx="467.5" cy="235.8" r="1.65"/><circle cx="467.5" cy="235.6" r="1.65"/><circle cx="467.5" cy="252.0" r="1.65"/><circle cx="467.5" cy="252.4" r="1.65"/><circle cx="467.5" cy="236.8" r="1.65"/><circle cx="467.5" cy="231.9" r="1.65"/><circle cx="467.5" cy="256.6" r="1.65"/><circle cx="467.5" cy="229.9" r="1.65"/><circle cx="467.5" cy="246.3" r="1.65"/><circle cx="467.5" cy="237.0" r="1.65"/><circle cx="467.5" cy="227.9" r="1.65"/><circle cx="467.5" cy="246.0" r="1.65"/><circle cx="467.5" cy="242.9" r="1.65"/><circle cx="467.5" cy="258.6" r="1.65"/><circle cx="467.5" cy="266.5" r="1.65"/><circle cx="467.5" cy="243.0" r="1.65"/><circle cx="467.5" cy="254.6" r="1.65"/><circle cx="467.5" cy="254.8" r="1.65"/><circle cx="467.5" cy="239.7" r="1.65"/><circle cx="467.5" cy="236.5" r="1.65"/><circle cx="467.5" cy="260.2" r="1.65"/><circle cx="470.1" cy="243.2" r="1.65"/><circle cx="470.1" cy="238.7" r="1.65"/><circle cx="470.1" cy="251.6" r="1.65"/><circle cx="470.1" cy="256.4" r="1.65"/><circle cx="470.1" cy="240.9" r="1.65"/><circle cx="470.1" cy="231.3" r="1.65"/><circle cx="470.1" cy="245.0" r="1.65"/><circle cx="470.1" cy="230.3" r="1.65"/><circle cx="470.1" cy="238.4" r="1.65"/><circle cx="470.1" cy="256.2" r="1.65"/><circle cx="470.1" cy="266.6" r="1.65"/><circle cx="470.1" cy="248.1" r="1.65"/><circle cx="470.1" cy="234.3" r="1.65"/><circle cx="470.1" cy="251.9" r="1.65"/><circle cx="470.1" cy="223.1" r="1.65"/><circle cx="470.1" cy="237.8" r="1.65"/><circle cx="470.1" cy="259.0" r="1.65"/><circle cx="470.1" cy="251.6" r="1.65"/><circle cx="470.1" cy="231.3" r="1.65"/><circle cx="470.1" cy="228.6" r="1.65"/><circle cx="470.1" cy="252.6" r="1.65"/><circle cx="470.1" cy="244.0" r="1.65"/><circle cx="471.8" cy="228.3" r="1.65"/><circle cx="471.8" cy="254.6" r="1.65"/><circle cx="471.8" cy="240.6" r="1.65"/><circle cx="471.8" cy="237.1" r="1.65"/><circle cx="471.8" cy="233.9" r="1.65"/><circle cx="471.8" cy="249.2" r="1.65"/><circle cx="471.8" cy="239.0" r="1.65"/><circle cx="471.8" cy="252.8" r="1.65"/><circle cx="471.8" cy="244.2" r="1.65"/><circle cx="471.8" cy="257.3" r="1.65"/><circle cx="471.8" cy="243.1" r="1.65"/><circle cx="471.8" cy="240.5" r="1.65"/><circle cx="471.8" cy="227.8" r="1.65"/><circle cx="471.8" cy="236.2" r="1.65"/><circle cx="471.8" cy="253.8" r="1.65"/><circle cx="471.8" cy="269.7" r="1.65"/><circle cx="471.8" cy="234.7" r="1.65"/><circle cx="471.8" cy="236.8" r="1.65"/><circle cx="471.8" cy="250.1" r="1.65"/><circle cx="471.8" cy="251.4" r="1.65"/><circle cx="471.8" cy="240.3" r="1.65"/><circle cx="471.8" cy="247.6" r="1.65"/><circle cx="474.4" cy="262.5" r="1.65"/><circle cx="474.4" cy="244.0" r="1.65"/><circle cx="474.4" cy="243.1" r="1.65"/><circle cx="474.4" cy="250.4" r="1.65"/><circle cx="474.4" cy="257.1" r="1.65"/><circle cx="474.4" cy="250.7" r="1.65"/><circle cx="474.4" cy="238.0" r="1.65"/><circle cx="474.4" cy="249.4" r="1.65"/><circle cx="474.4" cy="255.6" r="1.65"/><circle cx="474.4" cy="238.4" r="1.65"/><circle cx="474.4" cy="232.0" r="1.65"/><circle cx="474.4" cy="250.9" r="1.65"/><circle cx="474.4" cy="249.5" r="1.65"/><circle cx="474.4" cy="255.6" r="1.65"/><circle cx="474.4" cy="246.6" r="1.65"/><circle cx="474.4" cy="239.1" r="1.65"/><circle cx="474.4" cy="241.3" r="1.65"/><circle cx="474.4" cy="235.2" r="1.65"/><circle cx="474.4" cy="236.0" r="1.65"/><circle cx="474.4" cy="240.0" r="1.65"/><circle cx="474.4" cy="240.8" r="1.65"/><circle cx="474.4" cy="257.2" r="1.65"/><circle cx="476.1" cy="261.0" r="1.65"/><circle cx="476.1" cy="249.8" r="1.65"/><circle cx="476.1" cy="244.0" r="1.65"/><circle cx="476.1" cy="254.9" r="1.65"/><circle cx="476.1" cy="248.0" r="1.65"/><circle cx="476.1" cy="243.1" r="1.65"/><circle cx="476.1" cy="261.4" r="1.65"/><circle cx="476.1" cy="253.9" r="1.65"/><circle cx="476.1" cy="263.2" r="1.65"/><circle cx="476.1" cy="258.0" r="1.65"/><circle cx="476.1" cy="254.5" r="1.65"/><circle cx="476.1" cy="248.7" r="1.65"/><circle cx="476.1" cy="237.6" r="1.65"/><circle cx="476.1" cy="253.9" r="1.65"/><circle cx="476.1" cy="248.1" r="1.65"/><circle cx="476.1" cy="253.6" r="1.65"/><circle cx="476.1" cy="247.4" r="1.65"/><circle cx="476.1" cy="241.2" r="1.65"/><circle cx="476.1" cy="238.3" r="1.65"/><circle cx="476.1" cy="253.9" r="1.65"/><circle cx="476.1" cy="259.2" r="1.65"/><circle cx="476.1" cy="244.9" r="1.65"/><circle cx="478.7" cy="250.3" r="1.65"/><circle cx="478.7" cy="243.2" r="1.65"/><circle cx="478.7" cy="264.2" r="1.65"/><circle cx="478.7" cy="255.8" r="1.65"/><circle cx="478.7" cy="249.2" r="1.65"/><circle cx="478.7" cy="238.3" r="1.65"/><circle cx="478.7" cy="251.8" r="1.65"/><circle cx="478.7" cy="262.6" r="1.65"/><circle cx="478.7" cy="250.8" r="1.65"/><circle cx="478.7" cy="249.6" r="1.65"/><circle cx="478.7" cy="259.3" r="1.65"/><circle cx="478.7" cy="242.2" r="1.65"/><circle cx="478.7" cy="253.9" r="1.65"/><circle cx="478.7" cy="258.9" r="1.65"/><circle cx="478.7" cy="246.3" r="1.65"/><circle cx="478.7" cy="245.9" r="1.65"/><circle cx="478.7" cy="255.7" r="1.65"/><circle cx="478.7" cy="252.6" r="1.65"/><circle cx="478.7" cy="251.3" r="1.65"/><circle cx="478.7" cy="255.4" r="1.65"/><circle cx="478.7" cy="255.5" r="1.65"/><circle cx="478.7" cy="245.0" r="1.65"/><circle cx="480.7" cy="264.2" r="1.65"/><circle cx="480.7" cy="243.6" r="1.65"/><circle cx="480.7" cy="261.7" r="1.65"/><circle cx="480.7" cy="258.6" r="1.65"/><circle cx="480.7" cy="251.2" r="1.65"/><circle cx="480.7" cy="256.1" r="1.65"/><circle cx="480.7" cy="259.3" r="1.65"/><circle cx="480.7" cy="268.2" r="1.65"/><circle cx="480.7" cy="241.6" r="1.65"/><circle cx="480.7" cy="257.1" r="1.65"/><circle cx="480.7" cy="250.2" r="1.65"/><circle cx="480.7" cy="249.6" r="1.65"/><circle cx="480.7" cy="262.3" r="1.65"/><circle cx="480.7" cy="259.2" r="1.65"/><circle cx="480.7" cy="242.0" r="1.65"/><circle cx="480.7" cy="248.9" r="1.65"/><circle cx="480.7" cy="253.7" r="1.65"/><circle cx="480.7" cy="238.3" r="1.65"/><circle cx="480.7" cy="259.6" r="1.65"/><circle cx="480.7" cy="250.8" r="1.65"/><circle cx="480.7" cy="253.1" r="1.65"/><circle cx="480.7" cy="254.7" r="1.65"/><circle cx="482.9" cy="265.2" r="1.65"/><circle cx="482.9" cy="247.7" r="1.65"/><circle cx="482.9" cy="247.5" r="1.65"/><circle cx="482.9" cy="240.8" r="1.65"/><circle cx="482.9" cy="260.1" r="1.65"/><circle cx="482.9" cy="253.8" r="1.65"/><circle cx="482.9" cy="255.3" r="1.65"/><circle cx="482.9" cy="252.9" r="1.65"/><circle cx="482.9" cy="250.6" r="1.65"/><circle cx="482.9" cy="245.5" r="1.65"/><circle cx="482.9" cy="245.5" r="1.65"/><circle cx="482.9" cy="255.0" r="1.65"/><circle cx="482.9" cy="252.6" r="1.65"/><circle cx="482.9" cy="264.4" r="1.65"/><circle cx="482.9" cy="245.7" r="1.65"/><circle cx="482.9" cy="247.8" r="1.65"/><circle cx="482.9" cy="243.7" r="1.65"/><circle cx="482.9" cy="262.4" r="1.65"/><circle cx="482.9" cy="242.0" r="1.65"/><circle cx="482.9" cy="257.7" r="1.65"/><circle cx="482.9" cy="262.9" r="1.65"/><circle cx="482.9" cy="250.6" r="1.65"/><circle cx="485.4" cy="232.3" r="1.65"/><circle cx="485.4" cy="247.7" r="1.65"/><circle cx="485.4" cy="246.3" r="1.65"/><circle cx="485.4" cy="239.8" r="1.65"/><circle cx="485.4" cy="254.1" r="1.65"/><circle cx="485.4" cy="249.2" r="1.65"/><circle cx="485.4" cy="241.8" r="1.65"/><circle cx="485.4" cy="241.9" r="1.65"/><circle cx="485.4" cy="233.9" r="1.65"/><circle cx="485.4" cy="244.7" r="1.65"/><circle cx="485.4" cy="264.0" r="1.65"/><circle cx="485.4" cy="240.3" r="1.65"/><circle cx="485.4" cy="249.8" r="1.65"/><circle cx="485.4" cy="241.6" r="1.65"/><circle cx="485.4" cy="253.0" r="1.65"/><circle cx="485.4" cy="249.9" r="1.65"/><circle cx="485.4" cy="244.3" r="1.65"/><circle cx="485.4" cy="231.3" r="1.65"/><circle cx="485.4" cy="241.9" r="1.65"/><circle cx="485.4" cy="256.3" r="1.65"/><circle cx="485.4" cy="244.2" r="1.65"/><circle cx="485.4" cy="251.5" r="1.65"/><circle cx="487.2" cy="251.6" r="1.65"/><circle cx="487.2" cy="242.4" r="1.65"/><circle cx="487.2" cy="244.5" r="1.65"/><circle cx="487.2" cy="251.3" r="1.65"/><circle cx="487.2" cy="242.3" r="1.65"/><circle cx="487.2" cy="251.9" r="1.65"/><circle cx="487.2" cy="246.3" r="1.65"/><circle cx="487.2" cy="224.7" r="1.65"/><circle cx="487.2" cy="246.9" r="1.65"/><circle cx="487.2" cy="242.2" r="1.65"/><circle cx="487.2" cy="239.7" r="1.65"/><circle cx="487.2" cy="252.5" r="1.65"/><circle cx="487.2" cy="243.3" r="1.65"/><circle cx="487.2" cy="253.9" r="1.65"/><circle cx="487.2" cy="259.6" r="1.65"/><circle cx="487.2" cy="249.8" r="1.65"/><circle cx="487.2" cy="232.4" r="1.65"/><circle cx="487.2" cy="240.8" r="1.65"/><circle cx="487.2" cy="257.7" r="1.65"/><circle cx="487.2" cy="245.7" r="1.65"/><circle cx="487.2" cy="240.1" r="1.65"/><circle cx="487.2" cy="247.4" r="1.65"/><circle cx="489.8" cy="252.2" r="1.65"/><circle cx="489.8" cy="256.0" r="1.65"/><circle cx="489.8" cy="256.1" r="1.65"/><circle cx="489.8" cy="257.7" r="1.65"/><circle cx="489.8" cy="243.5" r="1.65"/><circle cx="489.8" cy="256.2" r="1.65"/><circle cx="489.8" cy="248.7" r="1.65"/><circle cx="489.8" cy="267.3" r="1.65"/><circle cx="489.8" cy="268.5" r="1.65"/><circle cx="489.8" cy="269.3" r="1.65"/><circle cx="489.8" cy="263.4" r="1.65"/><circle cx="489.8" cy="254.5" r="1.65"/><circle cx="489.8" cy="264.4" r="1.65"/><circle cx="489.8" cy="256.5" r="1.65"/><circle cx="489.8" cy="262.0" r="1.65"/><circle cx="489.8" cy="251.7" r="1.65"/><circle cx="489.8" cy="253.8" r="1.65"/><circle cx="489.8" cy="261.0" r="1.65"/><circle cx="489.8" cy="270.0" r="1.65"/><circle cx="489.8" cy="257.7" r="1.65"/><circle cx="489.8" cy="273.3" r="1.65"/><circle cx="489.8" cy="273.9" r="1.65"/></g><polyline points="331.00,265.00 331.27,264.70 331.54,264.40 331.81,264.11 332.08,263.83 332.34,263.55 332.61,263.28 332.88,263.02 333.15,262.76 333.42,262.51 333.69,262.27 333.96,262.04 334.23,261.81 334.49,261.60 334.76,261.40 335.03,261.20 335.30,261.01 335.57,260.82 335.84,260.64 336.11,260.45 336.38,260.27 336.64,260.08 336.91,259.89 337.18,259.69 337.45,259.48 337.72,259.27 337.99,259.06 338.26,258.84 338.53,258.62 338.79,258.40 339.06,258.17 339.33,257.95 339.60,257.72 339.87,257.49 340.14,257.27 340.41,257.05 340.68,256.83 340.94,256.61 341.21,256.40 341.48,256.19 341.75,255.98 342.02,255.79 342.29,255.59 342.56,255.39 342.83,255.20 343.10,255.00 343.36,254.81 343.63,254.62 343.90,254.43 344.17,254.24 344.44,254.06 344.71,253.87 344.98,253.69 345.25,253.52 345.51,253.35 345.78,253.18 346.05,253.02 346.32,252.87 346.59,252.72 346.86,252.57 347.13,252.44 347.40,252.30 347.66,252.17 347.93,252.04 348.20,251.91 348.47,251.78 348.74,251.65 349.01,251.53 349.28,251.41 349.55,251.29 349.81,251.18 350.08,251.07 350.35,250.96 350.62,250.85 350.89,250.74 351.16,250.64 351.43,250.54 351.70,250.45 351.96,250.36 352.23,250.27 352.50,250.18 352.77,250.10 353.04,250.02 353.31,249.94 353.58,249.87 353.85,249.80 354.12,249.73 354.38,249.66 354.65,249.60 354.92,249.54 355.19,249.48 355.46,249.42 355.73,249.36 356.00,249.31 356.27,249.25 356.53,249.20 356.80,249.14 357.07,249.09 357.34,249.04 357.61,248.98 357.88,248.93 358.15,248.88 358.42,248.82 358.68,248.77 358.95,248.71 359.22,248.65 359.49,248.60 359.76,248.54 360.03,248.49 360.30,248.43 360.57,248.38 360.83,248.33 361.10,248.27 361.37,248.22 361.64,248.17 361.91,248.12 362.18,248.06 362.45,248.01 362.72,247.96 362.98,247.91 363.25,247.85 363.52,247.80 363.79,247.74 364.06,247.69 364.33,247.63 364.60,247.58 364.87,247.52 365.14,247.46 365.40,247.40 365.67,247.34 365.94,247.28 366.21,247.22 366.48,247.16 366.75,247.10 367.02,247.04 367.29,246.98 367.55,246.92 367.82,246.85 368.09,246.79 368.36,246.73 368.63,246.66 368.90,246.59 369.17,246.52 369.44,246.45 369.70,246.38 369.97,246.31 370.24,246.23 370.51,246.15 370.78,246.07 371.05,245.98 371.32,245.90 371.59,245.81 371.85,245.72 372.12,245.63 372.39,245.53 372.66,245.43 372.93,245.33 373.20,245.23 373.47,245.12 373.74,245.00 374.01,244.88 374.27,244.76 374.54,244.63 374.81,244.50 375.08,244.36 375.35,244.22 375.62,244.07 375.89,243.91 376.16,243.74 376.42,243.55 376.69,243.35 376.96,243.13 377.23,242.90 377.50,242.66 377.77,242.40 378.04,242.13 378.31,241.85 378.57,241.56 378.84,241.26 379.11,240.95 379.38,240.64 379.65,240.32 379.92,239.98 380.19,239.62 380.46,239.25 380.72,238.85 380.99,238.44 381.26,238.02 381.53,237.58 381.80,237.12 382.07,236.65 382.34,236.16 382.61,235.66 382.87,235.15 383.14,234.62 383.41,234.05 383.68,233.46 383.95,232.85 384.22,232.21 384.49,231.54 384.76,230.85 385.03,230.14 385.29,229.42 385.56,228.67 385.83,227.91 386.10,227.10 386.37,226.24 386.64,225.34 386.91,224.41 387.18,223.47 387.44,222.54 387.71,221.61 387.98,220.70 388.25,219.77 388.52,218.85 388.79,217.92 389.06,216.98 389.33,216.04 389.59,215.09 389.86,214.13 390.13,213.15 390.40,212.17 390.67,211.15 390.94,210.06 391.21,208.92 391.48,207.75 391.74,206.59 392.01,205.46 392.28,204.38 392.55,203.39 392.82,202.51 393.09,201.77 393.36,201.05 393.63,200.34 393.89,199.66 394.16,199.02 394.43,198.44 394.70,197.93 394.97,197.51 395.24,197.19 395.51,197.00 395.78,196.87 396.05,196.75 396.31,196.64 396.58,196.55 396.85,196.47 397.12,196.40 397.39,196.35 397.66,196.32 397.93,196.30 398.20,196.32 398.46,196.38 398.73,196.49 399.00,196.63 399.27,196.79 399.54,196.96 399.81,197.13 400.08,197.29 400.35,197.43 400.61,197.55 400.88,197.66 401.15,197.79 401.42,197.91 401.69,198.03 401.96,198.15 402.23,198.26 402.50,198.35 402.76,198.42 403.03,198.47 403.30,198.50 403.57,198.48 403.84,198.39 404.11,198.21 404.38,197.98 404.65,197.69 404.91,197.35 405.18,196.98 405.45,196.58 405.72,196.18 405.99,195.76 406.26,195.35 406.53,194.96 406.80,194.55 407.07,194.09 407.33,193.60 407.60,193.08 407.87,192.53 408.14,191.97 408.41,191.38 408.68,190.79 408.95,190.20 409.22,189.61 409.48,189.03 409.75,188.47 410.02,187.92 410.29,187.40 410.56,186.91 410.83,186.41 411.10,185.92 411.37,185.42 411.63,184.93 411.90,184.44 412.17,183.95 412.44,183.47 412.71,182.99 412.98,182.53 413.25,182.08 413.52,181.64 413.78,181.21 414.05,180.80 414.32,180.41 414.59,180.03 414.86,179.68 415.13,179.34 415.40,178.99 415.67,178.64 415.93,178.28 416.20,177.93 416.47,177.57 416.74,177.22 417.01,176.88 417.28,176.55 417.55,176.24 417.82,175.95 418.09,175.68 418.35,175.45 418.62,175.24 418.89,175.07 419.16,174.94 419.43,174.85 419.70,174.80 419.97,174.80 420.24,174.82 420.50,174.84 420.77,174.88 421.04,174.92 421.31,174.98 421.58,175.04 421.85,175.12 422.12,175.20 422.39,175.28 422.65,175.37 422.92,175.47 423.19,175.59 423.46,175.77 423.73,176.01 424.00,176.31 424.27,176.66 424.54,177.05 424.80,177.48 425.07,177.95 425.34,178.45 425.61,178.96 425.88,179.50 426.15,180.05 426.42,180.61 426.69,181.16 426.95,181.73 427.22,182.37 427.49,183.06 427.76,183.81 428.03,184.61 428.30,185.44 428.57,186.30 428.84,187.18 429.11,188.06 429.37,188.94 429.64,189.82 429.91,190.68 430.18,191.57 430.45,192.48 430.72,193.40 430.99,194.33 431.26,195.28 431.52,196.24 431.79,197.20 432.06,198.16 432.33,199.13 432.60,200.10 432.87,201.08 433.14,202.08 433.41,203.09 433.67,204.11 433.94,205.13 434.21,206.14 434.48,207.14 434.75,208.12 435.02,209.06 435.29,210.00 435.56,210.93 435.82,211.86 436.09,212.77 436.36,213.66 436.63,214.52 436.90,215.35 437.17,216.13 437.44,216.87 437.71,217.59 437.97,218.29 438.24,218.97 438.51,219.63 438.78,220.27 439.05,220.89 439.32,221.49 439.59,222.07 439.86,222.62 440.13,223.16 440.39,223.68 440.66,224.17 440.93,224.65 441.20,225.11 441.47,225.55 441.74,225.98 442.01,226.40 442.28,226.81 442.54,227.22 442.81,227.62 443.08,228.02 443.35,228.43 443.62,228.84 443.89,229.25 444.16,229.66 444.43,230.07 444.69,230.48 444.96,230.88 445.23,231.27 445.50,231.65 445.77,232.02 446.04,232.38 446.31,232.72 446.58,233.04 446.84,233.34 447.11,233.61 447.38,233.88 447.65,234.13 447.92,234.38 448.19,234.62 448.46,234.84 448.73,235.07 448.99,235.28 449.26,235.49 449.53,235.70 449.80,235.90 450.07,236.09 450.34,236.28 450.61,236.47 450.88,236.66 451.15,236.85 451.41,237.04 451.68,237.22 451.95,237.41 452.22,237.60 452.49,237.79 452.76,237.98 453.03,238.17 453.30,238.36 453.56,238.54 453.83,238.72 454.10,238.90 454.37,239.08 454.64,239.25 454.91,239.43 455.18,239.60 455.45,239.77 455.71,239.95 455.98,240.13 456.25,240.30 456.52,240.48 456.79,240.66 457.06,240.84 457.33,241.02 457.60,241.21 457.86,241.39 458.13,241.58 458.40,241.77 458.67,241.96 458.94,242.15 459.21,242.34 459.48,242.54 459.75,242.73 460.02,242.92 460.28,243.11 460.55,243.30 460.82,243.48 461.09,243.67 461.36,243.86 461.63,244.04 461.90,244.22 462.17,244.40 462.43,244.58 462.70,244.75 462.97,244.92 463.24,245.09 463.51,245.25 463.78,245.41 464.05,245.57 464.32,245.73 464.58,245.89 464.85,246.04 465.12,246.20 465.39,246.35 465.66,246.50 465.93,246.65 466.20,246.80 466.47,246.95 466.73,247.10 467.00,247.24 467.27,247.39 467.54,247.54 467.81,247.69 468.08,247.84 468.35,248.00 468.62,248.15 468.88,248.30 469.15,248.45 469.42,248.60 469.69,248.76 469.96,248.91 470.23,249.06 470.50,249.21 470.77,249.36 471.04,249.51 471.30,249.66 471.57,249.81 471.84,249.96 472.11,250.11 472.38,250.25 472.65,250.40 472.92,250.54 473.19,250.68 473.45,250.82 473.72,250.96 473.99,251.10 474.26,251.24 474.53,251.37 474.80,251.50 475.07,251.64 475.34,251.77 475.60,251.90 475.87,252.03 476.14,252.15 476.41,252.28 476.68,252.41 476.95,252.54 477.22,252.66 477.49,252.79 477.75,252.92 478.02,253.04 478.29,253.17 478.56,253.30 478.83,253.43 479.10,253.56 479.37,253.69 479.64,253.82 479.90,253.95 480.17,254.09 480.44,254.22 480.71,254.35 480.98,254.48 481.25,254.61 481.52,254.73 481.79,254.86 482.06,254.98 482.32,255.11 482.59,255.24 482.86,255.36 483.13,255.49 483.40,255.62 483.67,255.75 483.94,255.88 484.21,256.01 484.47,256.14 484.74,256.28 485.01,256.42 485.28,256.56 485.55,256.70 485.82,256.84 486.09,256.99 486.36,257.15 486.62,257.30 486.89,257.46 487.16,257.62 487.43,257.79 487.70,257.96 487.97,258.14 488.24,258.33 488.51,258.52 488.77,258.73 489.04,258.93 489.31,259.14 489.58,259.36 489.85,259.58 490.12,259.81 490.39,260.04 490.66,260.28 490.92,260.52 491.19,260.76 491.46,261.00 491.73,261.25 492.00,261.50" fill="none" stroke="#e5281e" stroke-width="2"/></g>
<line x1="18" y1="5.5" x2="18" y2="305.5" stroke="#5a5a5a" stroke-width="1.1"/><line x1="492.3" y1="5.5" x2="492.3" y2="305.5" stroke="#5a5a5a" stroke-width="1.1"/><line x1="17.5" y1="5.9" x2="321.2" y2="5.9" stroke="#5a5a5a" stroke-width="1.1"/><line x1="331.3" y1="5.9" x2="492.8" y2="5.9" stroke="#5a5a5a" stroke-width="1.1"/><line x1="17.5" y1="305.4" x2="320.6" y2="305.4" stroke="#404040" stroke-width="1.0"/><line x1="331.2" y1="305.4" x2="492.8" y2="305.4" stroke="#404040" stroke-width="1.0"/><line x1="318.1" y1="11.5" x2="326.2" y2="0.6" stroke="#333" stroke-width="0.9"/><line x1="326.2" y1="11.5" x2="334.4" y2="0.6" stroke="#333" stroke-width="0.9"/><line x1="318.1" y1="307.7" x2="326.6" y2="303.1" stroke="#333" stroke-width="0.9"/><line x1="325.9" y1="307.7" x2="334.4" y2="303.1" stroke="#333" stroke-width="0.9"/><line x1="38.40" y1="305" x2="38.40" y2="302.8" stroke="#5a5a5a" stroke-width="0.8"/><line x1="66.83" y1="305" x2="66.83" y2="303.4" stroke="#5a5a5a" stroke-width="0.8"/><line x1="95.25" y1="305" x2="95.25" y2="302.8" stroke="#5a5a5a" stroke-width="0.8"/><line x1="123.67" y1="305" x2="123.67" y2="303.4" stroke="#5a5a5a" stroke-width="0.8"/><line x1="152.10" y1="305" x2="152.10" y2="302.8" stroke="#5a5a5a" stroke-width="0.8"/><line x1="180.53" y1="305" x2="180.53" y2="303.4" stroke="#5a5a5a" stroke-width="0.8"/><line x1="208.95" y1="305" x2="208.95" y2="302.8" stroke="#5a5a5a" stroke-width="0.8"/><line x1="237.38" y1="305" x2="237.38" y2="303.4" stroke="#5a5a5a" stroke-width="0.8"/><line x1="265.80" y1="305" x2="265.80" y2="302.8" stroke="#5a5a5a" stroke-width="0.8"/><line x1="294.23" y1="305" x2="294.23" y2="303.4" stroke="#5a5a5a" stroke-width="0.8"/><line x1="391.10" y1="305" x2="391.10" y2="303.4" stroke="#5a5a5a" stroke-width="0.8"/><line x1="451.70" y1="305" x2="451.70" y2="302.8" stroke="#5a5a5a" stroke-width="0.8"/>
<g fill="#000" stroke="#000" stroke-width="0.25" style="font-family:'Liberation Sans',Arial,Helvetica,sans-serif"><text x="38.40" y="320.3" text-anchor="middle" font-size="13.6">300</text><text x="95.25" y="320.3" text-anchor="middle" font-size="13.6">600</text><text x="152.10" y="320.3" text-anchor="middle" font-size="13.6">900</text><text x="208.95" y="320.3" text-anchor="middle" font-size="13.6">1200</text><text x="265.80" y="320.3" text-anchor="middle" font-size="13.6">1500</text><text x="330.50" y="320.3" text-anchor="middle" font-size="13.6">2700</text><text x="451.70" y="320.3" text-anchor="middle" font-size="13.6">3000</text><text x="256" y="339" text-anchor="middle" font-size="13.3">Wavenumber (cm<tspan dy="-5" font-size="9.3">−1</tspan><tspan dy="5">)</tspan></text><text transform="translate(10.4,154.3) rotate(-90)" text-anchor="middle" font-size="13.3">Raman Intensity (a.u.)</text><text x="447.5" y="27.8" text-anchor="middle" font-size="12.8">POX3OA</text><text transform="translate(47.50,143.00) rotate(-90)" text-anchor="middle" font-size="12.4" letter-spacing="0.45">340</text><text transform="translate(78.80,125.40) rotate(-90)" text-anchor="middle" font-size="12.4" letter-spacing="0.45">508</text><text transform="translate(104.00,23.50) rotate(-90)" text-anchor="middle" font-size="12.4" letter-spacing="0.45">670</text><text transform="translate(125.00,38.00) rotate(-90)" text-anchor="middle" font-size="12.4" letter-spacing="0.45">718</text><text transform="translate(163.80,202.50) rotate(-90)" text-anchor="middle" font-size="12.4" letter-spacing="0.45">980</text><text transform="translate(188.00,198.10) rotate(-90)" text-anchor="middle" font-size="12.4" letter-spacing="0.45">1073</text><text transform="translate(232.10,189.70) rotate(-90)" text-anchor="middle" font-size="12.4" letter-spacing="0.45">1309</text><text transform="translate(260.00,166.00) rotate(-90)" text-anchor="middle" font-size="12.4" letter-spacing="0.45">1427</text><text transform="translate(288.10,137.00) rotate(-90)" text-anchor="middle" font-size="12.4" letter-spacing="0.45">1560</text><text transform="translate(393.00,150.90) rotate(-90)" text-anchor="middle" font-size="12.4" letter-spacing="0.45">2859</text><text transform="translate(432.30,129.40) rotate(-90)" text-anchor="middle" font-size="12.4" letter-spacing="0.45">2913</text></g>
</svg>
</body></html>
